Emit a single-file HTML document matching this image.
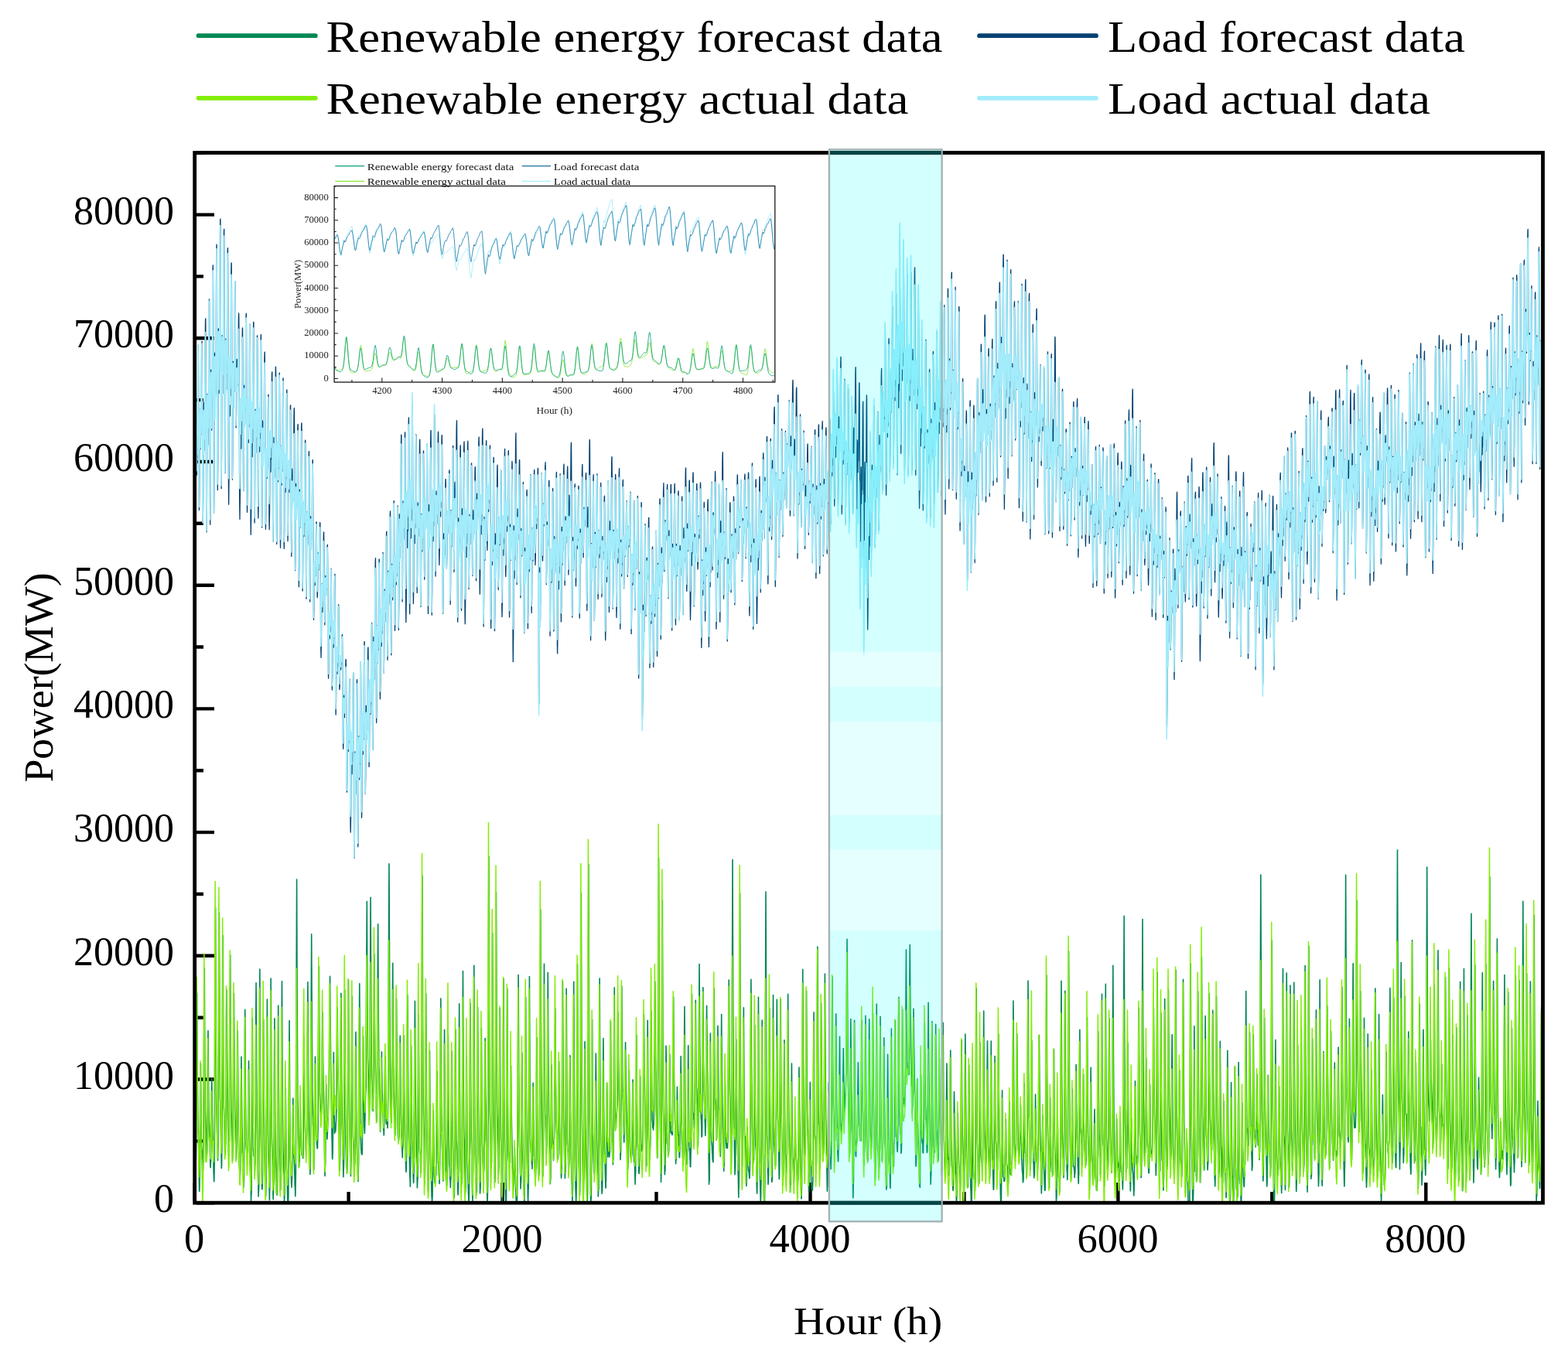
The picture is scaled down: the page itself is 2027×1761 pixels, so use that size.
<!DOCTYPE html><html><head><meta charset="utf-8"><style>html,body{margin:0;padding:0;background:#fff;overflow:hidden;width:2027px;height:1761px}svg{display:block}</style></head><body><svg width="2027" height="1761" viewBox="0 0 2027 1761"><rect width="2027" height="1761" fill="#fff"/><line x1="256.5" y1="46.2" x2="407.8" y2="46.2" stroke="#008752" stroke-width="5.7" stroke-linecap="round"/><text x="421.6" y="67.2" font-size="58" font-family="Liberation Serif, Times New Roman, serif" textLength="797" lengthAdjust="spacingAndGlyphs">Renewable energy forecast data</text><line x1="1266" y1="46.2" x2="1417" y2="46.2" stroke="#004073" stroke-width="5.7" stroke-linecap="round"/><text x="1432" y="67.2" font-size="58" font-family="Liberation Serif, Times New Roman, serif" textLength="462" lengthAdjust="spacingAndGlyphs">Load forecast data</text><line x1="256.5" y1="126.8" x2="407.8" y2="126.8" stroke="#82ee06" stroke-width="5.7" stroke-linecap="round"/><text x="421.6" y="147.2" font-size="58" font-family="Liberation Serif, Times New Roman, serif" textLength="753" lengthAdjust="spacingAndGlyphs">Renewable energy actual data</text><line x1="1266" y1="126.8" x2="1417" y2="126.8" stroke="#a2ecfb" stroke-width="5.7" stroke-linecap="round"/><text x="1432" y="147.2" font-size="58" font-family="Liberation Serif, Times New Roman, serif" textLength="417" lengthAdjust="spacingAndGlyphs">Load actual data</text><path d="M254 1555.2h23M254 1475.4h9M254 1395.5h23M254 1315.7h9M254 1235.8h23M254 1156.0h9M254 1076.1h23M254 996.2h9M254 916.4h23M254 836.5h9M254 756.7h23M254 676.8h9M254 597.0h23M254 517.1h9M254 437.3h23M254 357.4h9M254 277.6h23M254 197.8h9M251.7 1553v-24M450.6 1553v-12M649.6 1553v-24M848.5 1553v-12M1047.5 1553v-24M1246.4 1553v-12M1445.4 1553v-24M1644.3 1553v-12M1843.3 1553v-24" stroke="#000" stroke-width="4.4" fill="none"/><g transform="translate(251.7,1555.2) scale(0.198950)"><path d="M0 -472l1 62 1 151 1 0 1 26 1-11 1 20 1-40 1-19 1-25 1-238 1-205 1-192 1-147 1-134 1-139 1 214 1 174 1 178 1 91 1 116 1 99 1 25 1 19 1 30 1 50 1 37 1 69 1 77 1 56 1 53 1-2 1-45 1-61 1-142 1-153 1-136 1-106 1-90 1-95 1 144 1 111 1 129 1 72 1 54 1 30 1 15 1 10 1-1 1 20 1 36 1-2 1 16 1 24 1 36 1-38 1-7 1-26 1-216 1-248 1-232 1-181 1-199 1-167 1 204 1 216 1 177 1 121 1 101 1 115 1 22 1 32 1 44 1 14 1 17 1 63 1 16 1 46 1 47 1-21 1-13 1-26 1-163 1-190 1-121 1-113 1-124 1-57 1 134 1 132 1 103 1 83 1 67 1 44 1 28 1 13 1 29 1 37 1 28 1 50 1 53 1 53 1 30 1 5 1-33 1-6 1-138 1-92 1-104 1-83 1-67 1-56 1 68 1 104 1 72 1 33 1 70 1 24 1 33 1 49 1 33 1 36 1 33 1 54 1 20 1 23 1 18 1-50 1-66 1-67 1-318 1-324 1-283 1-244 1-216 1-212 1 268 1 266 1 249 1 166 1 163 1 157 1 58 1 38 1 35 1 54 1 24 1 47 1 44 1 34 1 39 1-35 1-46 1-19 1-278 1-293 1-288 1-210 1-228 1-213 1 250 1 218 1 270 1 149 1 156 1 153 1 37 1 58 1 39 1 56 1 51 1 47 1 36 1 74 1 67 1-13 1-63 1-50 1-276 1-252 1-284 1-187 1-228 1-159 1 244 1 242 1 246 1 144 1 133 1 120 1-8 1 32 1 41 1 41 1 48 1 45 1 24 1 62 1 10 1-9 1-41 1-24 1-182 1-177 1-194 1-137 1-168 1-139 1 109 1 129 1 150 1 64 1 93 1 88 1 75 1 97 1 62 1 80 1 25 1 14 1 15 1 48 1 30 1-33 1-56 1-12 1-246 1-209 1-231 1-178 1-190 1-152 1 197 1 209 1 213 1 129 1 122 1 112 1 48 1 19 1 36 1 48 1 35 1 31 1 62 1 32 1 45 1-49 1-10 1-26 1-212 1-192 1-198 1-128 1-153 1-119 1 147 1 148 1 154 1 85 1 100 1 91 1 56 1 39 1 31 1 46 1 5 1 55 1 43 1 38 1 25 1 14 1-32 1-15 1-164 1-173 1-130 1-124 1-94 1-99 1 126 1 127 1 153 1 84 1 101 1 87 1 51 1 59 1 19 1 32 1 35 1 21 1 13 1 14 1 47 1-36 1-19 1-17 1-147 1-123 1-146 1-94 1-91 1-130 1 126 1 117 1 96 1 104 1 41 1 64 1 20 1 36 1 30 1 33 1 26 1 36 1 52 1 38 1 28 1-18 1-24 1-38 1-204 1-185 1-211 1-172 1-160 1-142 1 150 1 203 1 177 1 108 1 101 1 132 1 16 1 7 1 16 1 10 1 8 1-28 1-3 1 10 1 20 1-12 1-4 1 18 1-91 1-121 1-84 1-104 1-75 1-120 1 89 1 125 1 105 1 80 1 95 1 36 1 49 1 33 1 31 1 34 1 33 1 46 1 31 1 53 1 70 1-34 1-6 1-28 1-211 1-222 1-202 1-152 1-142 1-189 1 174 1 156 1 180 1 133 1 97 1 115 1 10 1 26 1-12 1-9 1 4 1 26 1 10 1 42 1 34 1 8 1-48 1 4 1-195 1-224 1-239 1-177 1-174 1-173 1 180 1 178 1 177 1 91 1 131 1 112 1 70 1 53 1 69 1 48 1 49 1 46 1 69 1 42 1 74 1-37 1 2 1-50 1-258 1-277 1-299 1-170 1-220 1-169 1 238 1 236 1 211 1 133 1 112 1 106 1 21 1 43 1 46 1 43 1 39 1 87 1 30 1 70 1 16 1-1 1-40 1-40 1-205 1-206 1-194 1-131 1-128 1-158 1 161 1 165 1 159 1 92 1 104 1 121 1 44 1 68 1 54 1 42 1 23 1 32 1 31 1 22 1 29 1-41 1-52 1-14 1-233 1-234 1-199 1-146 1-187 1-173 1 184 1 191 1 145 1 111 1 128 1 110 1 53 1 53 1 44 1 62 1 21 1 67 1 32 1 42 1 63 1-56 1-29 1-51 1-248 1-255 1-251 1-204 1-191 1-156 1 203 1 232 1 225 1 146 1 113 1 117 1 29 1 28 1 28 1 41 1 49 1 57 1 58 1 70 1 39 1-43 1-43 1-13 1-194 1-190 1-206 1-166 1-151 1-169 1 197 1 169 1 196 1 111 1 95 1 88 1 60 1-5 1 29 1 29 1 47 1 36 1 33 1 55 1 7 1-6 1-58 1-31 1-249 1-222 1-200 1-155 1-175 1-135 1 159 1 222 1 176 1 100 1 131 1 131 1 26 1 70 1 43 1 18 1 24 1 39 1 29 1 17 1 13 1-49 1-63 1-36 1-254 1-245 1-227 1-156 1-169 1-157 1 184 1 212 1 219 1 129 1 128 1 144 1 72 1 43 1 44 1 16 1 58 1 18 1 63 1 35 1 63 1-15 1-15 1-45 1-140 1-121 1-148 1-75 1-87 1-89 1 112 1 125 1 104 1 45 1 65 1 72 1 9 1 41 1 9 1 36 1 53 1 26 1 31 1 7 1 0 1 0 1 0 1-26 1-240 1-198 1-216 1-156 1-169 1-168 1 180 1 208 1 195 1 87 1 116 1 100 1 24 1 17 1 16 1 32 1 29 1 17 1 41 1-6 1 29 1-32 1-20 1-19 1-93 1-92 1-114 1-62 1-72 1-75 1 112 1 83 1 64 1 47 1 39 1 45 1 2 1 19 1 37 1 31 1 38 1 49 1 7 1 28 1 35 1-47 1-48 1-69 1-347 1-350 1-374 1-274 1-277 1-273 1 277 1 292 1 279 1 175 1 205 1 179 1 53 1 79 1 60 1 34 1 30 1 70 1 38 1 29 1 70 1-24 1-16 1 3 1-66 1-37 1-86 1-16 1-64 1-87 1 77 1 46 1 40 1 14 1 56 1 27 1 30 1 17 1 7 1-1 1-24 1 5 1-1 1-7 1 28 1 0 1 21 1-30 1-135 1-139 1-127 1-122 1-119 1-112 1 138 1 107 1 121 1 89 1 36 1 88 1 26 1 25 1 42 1 8 1 38 1 15 1 4 1-22 1 16 1-43 1-53 1-39 1-185 1-198 1-171 1-118 1-143 1-142 1 165 1 189 1 191 1 98 1 109 1 92 1 24 1 37 1 44 1 22 1 48 1 62 1 41 1 65 1 63 1-36 1-41 1-47 1-279 1-261 1-303 1-169 1-231 1-194 1 208 1 199 1 207 1 131 1 125 1 145 1 64 1 42 1 40 1 77 1 56 1 51 1 78 1 50 1 59 1-30 1-14 1-47 1-137 1-126 1-164 1-68 1-60 1-89 1 141 1 124 1 121 1 43 1 47 1 40 1-4 1 9 1 13 1 19 1 21 1 5 1 17 1-16 1 14 1-40 1-45 1-35 1-205 1-201 1-215 1-128 1-162 1-151 1 157 1 165 1 166 1 117 1 105 1 118 1 12 1 32 1 34 1 15 1 5 1 14 1 31 1-12 1 1 1-2 1-41 1-33 1-115 1-120 1-134 1-54 1-79 1-84 1 88 1 121 1 118 1 67 1 56 1 52 1 29 1 50 1 59 1 74 1 77 1 57 1 75 1 71 1 70 1-22 1-35 1-22 1-110 1-89 1-103 1-63 1-67 1-82 1 76 1 100 1 61 1 51 1 9 1 57 1-21 1-33 1-25 1-19 1-38 1-12 1-56 1-44 1-32 1-11 1-40 1-20 1-141 1-150 1-126 1-103 1-104 1-83 1 110 1 132 1 110 1 87 1 79 1 108 1 65 1 49 1 76 1 54 1 78 1 72 1 46 1 58 1 51 1 13 1-26 1-13 1-102 1-126 1-128 1-104 1-102 1-93 1 114 1 115 1 89 1 93 1 43 1 73 1-27 1-7 1-9 1 14 1 16 1 2 1-14 1-24 1-26 1-6 1-54 1-2 1-141 1-128 1-117 1-106 1-101 1-88 1 115 1 116 1 105 1 47 1 64 1 42 1 39 1 50 1 58 1 76 1 56 1 85 1 77 1 66 1 61 1-31 1-39 1-46 1-241 1-198 1-194 1-122 1-123 1-156 1 200 1 155 1 163 1 110 1 90 1 91 1 34 1 32 1 24 1 37 1 8 1 96 1 35 1 57 1 62 1-24 1-31 1-26 1-226 1-209 1-220 1-167 1-139 1-174 1 196 1 194 1 208 1 143 1 134 1 112 1 31 1 34 1 38 1 36 1 24 1 11 1-4 1 11 1 22 1-30 1-42 1-30 1-238 1-210 1-225 1-154 1-175 1-150 1 187 1 197 1 170 1 100 1 106 1 84 1 59 1 35 1 67 1 54 1 51 1 49 1 31 1 48 1 36 1-36 1-40 1-41 1-203 1-216 1-225 1-140 1-135 1-131 1 204 1 198 1 184 1 114 1 98 1 92 1 36 1 2 1 33 1 0 1 7 1 47 1 16 1 31 1 67 1-21 1-17 1-7 1-149 1-152 1-166 1-133 1-138 1-115 1 168 1 133 1 151 1 84 1 84 1 105 1 17 1 44 1 17 1 38 1 33 1 31 1 7 1 38 1 21 1-45 1-43 1-32 1-236 1-211 1-237 1-167 1-138 1-177 1 155 1 204 1 180 1 128 1 119 1 137 1 48 1 45 1 22 1 43 1 4 1 19 1-2 1 5 1 4 1 1 1-10 1-13 1-130 1-110 1-128 1-127 1-115 1-136 1 106 1 122 1 126 1 53 1 79 1 103 1 4 1 20 1 18 1-20 1-36 1-46 1-81 1-28 1-28 1-28 1-20 1-14 1-240 1-247 1-232 1-175 1-161 1-152 1 215 1 228 1 201 1 149 1 99 1 126 1 21 1 38 1 35 1 32 1 62 1 47 1 50 1 70 1 44 1-39 1-60 1-45 1-238 1-276 1-225 1-191 1-172 1-197 1 217 1 213 1 236 1 163 1 109 1 153 1 39 1 48 1 28 1 48 1 28 1 59 1 13 1 32 1 2 1-61 1-16 1-40 1-172 1-167 1-145 1-129 1-143 1-147 1 182 1 134 1 145 1 88 1 89 1 71 1 25 1 37 1 29 1 60 1 42 1 51 1 54 1 65 1 18 1-25 1-37 1-41 1-238 1-233 1-223 1-157 1-160 1-171 1 208 1 214 1 181 1 116 1 89 1 117 1 22 1 36 1 65 1 48 1 72 1 45 1 40 1 49 1 48 1-40 1-11 1-11 1-79 1-95 1-87 1-46 1-84 1-66 1 110 1 51 1 83 1 25 1 11 1 67 1 19 1 0 1 58 1 38 1 38 1 11 1 3 1 28 1-8 1-52 1-17 1-20 1-102 1-103 1-75 1-60 1-61 1-16 1 96 1 85 1 116 1 41 1 58 1 44 1-22 1-1 1 5 1-3 1 3 1 14 1 14 1 17 1-8 1-67 1-83 1-40 1-315 1-287 1-291 1-201 1-217 1-208 1 237 1 230 1 246 1 159 1 164 1 162 1 83 1 59 1 68 1 65 1 56 1 21 1 74 1 25 1 33 1-57 1-68 1-42 1-192 1-165 1-160 1-120 1-126 1-107 1 220 1 171 1 159 1 95 1 72 1 114 1 15 1 13 1 52 1 35 1 31 1 50 1 34 1 34 1 25 1-32 1-1 1-16 1-149 1-122 1-169 1-125 1-150 1-125 1 126 1 136 1 127 1 83 1 120 1 112 1 68 1 53 1 51 1 23 1 8 1-37 1 2 1 6 1 44 1-17 1-1 1-17 1-117 1-114 1-146 1-91 1-116 1-61 1 86 1 112 1 115 1 93 1 47 1 71 1 18 1 61 1 28 1 49 1 26 1 22 1 22 1 18 1 23 1-53 1-11 1-9 1-129 1-142 1-151 1-86 1-100 1-113 1 118 1 125 1 116 1 56 1 87 1 69 1 45 1 59 1 45 1 35 1 26 1 34 1 39 1 30 1 3 1-25 1-59 1-12 1-212 1-198 1-210 1-149 1-142 1-141 1 128 1 152 1 173 1 97 1 114 1 95 1 68 1 62 1 52 1 43 1 25 1 36 1 31 1 43 1 58 1 10 1 35 1 22 1-155 1-175 1-157 1-134 1-171 1-123 1 131 1 114 1 121 1 82 1 74 1 101 1 1 1 52 1 51 1 56 1 17 1 30 1 21 1 26 1 13 1-11 1-46 1-53 1-217 1-215 1-193 1-164 1-125 1-158 1 157 1 174 1 168 1 90 1 86 1 94 1 49 1 70 1 47 1 31 1 50 1 38 1 41 1 52 1 67 1-26 1-23 1-10 1-184 1-208 1-192 1-167 1-136 1-177 1 162 1 175 1 195 1 116 1 136 1 90 1 13 1 16 1 7 1-23 1 43 1 5 1 27 1 25 1 37 1-51 1-36 1-52 1-358 1-362 1-329 1-262 1-245 1-232 1 298 1 316 1 311 1 174 1 171 1 141 1 63 1 53 1 51 1 52 1 37 1 78 1 90 1 76 1 93 1-45 1-2 1-72 1-237 1-202 1-233 1-139 1-160 1-150 1 192 1 212 1 153 1 131 1 117 1 119 1 18 1 81 1 54 1 41 1 45 1 44 1 27 1 48 1 3 1-31 1-60 1-38 1-174 1-173 1-142 1-126 1-70 1-100 1 154 1 164 1 178 1 91 1 102 1 52 1 45 1 0 1 42 1 10 1 29 1 38 1 41 1 11 1 20 1-2 1-16 1-15 1-101 1-79 1-110 1-107 1-86 1-70 1 69 1 74 1 98 1 73 1 48 1 68 1 11 1 8 1 21 1-15 1 14 1-3 1-10 1-10 1-5 1-32 1 11 1-7 1-143 1-110 1-134 1-90 1-86 1-108 1 124 1 123 1 128 1 63 1 42 1 73 1 45 1-10 1 30 1 23 1 30 1 7 1 10 1 25 1 18 1-38 1-47 1-40 1-191 1-243 1-179 1-173 1-130 1-162 1 199 1 177 1 178 1 104 1 117 1 114 1 11 1 50 1 22 1 47 1 48 1 23 1 37 1 25 1 34 1-41 1-15 1-44 1-191 1-167 1-171 1-98 1-133 1-124 1 154 1 157 1 161 1 82 1 102 1 84 1 22 1 32 1 48 1 29 1 35 1 18 1 56 1 21 1 12 1-26 1-22 1-36 1-173 1-187 1-175 1-130 1-112 1-119 1 190 1 182 1 170 1 112 1 97 1 76 1 25 1 6 1 14 1 28 1 35 1 1 1 12 1 16 1 30 1-33 1-17 1-18 1-170 1-135 1-157 1-119 1-106 1-130 1 117 1 118 1 130 1 73 1 36 1 100 1 46 1 20 1 53 1 68 1 46 1 46 1 18 1 36 1 45 1-42 1-41 1-46 1-189 1-190 1-191 1-157 1-135 1-104 1 163 1 171 1 181 1 99 1 69 1 68 1-23 1 23 1 10 1 41 1 49 1 74 1 30 1 68 1 39 1 13 1-37 1-5 1-232 1-207 1-220 1-205 1-143 1-193 1 193 1 208 1 175 1 88 1 135 1 139 1 45 1 63 1 45 1 0 1 22 1-7 1-3 1 31 1 42 1-12 1-16 1-8 1-248 1-257 1-264 1-221 1-176 1-186 1 220 1 199 1 215 1 138 1 122 1 122 1 49 1 32 1 31 1 49 1 58 1 46 1 55 1 59 1 47 1-9 1-20 1-7 1-140 1-173 1-152 1-110 1-146 1-135 1 156 1 133 1 149 1 63 1 96 1 108 1 36 1 48 1 31 1 38 1 36 1 11 1 32 1 7 1-6 1-47 1-63 1-32 1-256 1-204 1-198 1-178 1-170 1-130 1 160 1 178 1 182 1 121 1 105 1 110 1 41 1 44 1 65 1 35 1 86 1 64 1 41 1 31 1 21 1-75 1-75 1-57 1-288 1-233 1-281 1-162 1-183 1-177 1 223 1 248 1 253 1 132 1 157 1 146 1 43 1 37 1 32 1 37 1 13 1 32 1 46 1 52 1 41 1-36 1 19 1-15 1-226 1-217 1-196 1-199 1-153 1-199 1 159 1 168 1 188 1 80 1 106 1 107 1 65 1 36 1 73 1 24 1 33 1 42 1 46 1 19 1 65 1-17 1-10 1-23 1-183 1-189 1-174 1-177 1-142 1-157 1 157 1 157 1 150 1 67 1 93 1 130 1 10 1 30 1 67 1 7 1 24 1 1 1 32 1-6 1 11 1 2 1-15 1-3 1-141 1-130 1-158 1-131 1-127 1-162 1 122 1 124 1 108 1 50 1 48 1 88 1 41 1 81 1 66 1 59 1 92 1 62 1 70 1 46 1 0 1-23 1-59 1-58 1-403 1-425 1-367 1-307 1-301 1-296 1 325 1 337 1 337 1 225 1 172 1 215 1 53 1 27 1 44 1 29 1 49 1 44 1 46 1 49 1 73 1 0 1-31 1-1 1-261 1-301 1-270 1-220 1-222 1-222 1 204 1 276 1 188 1 138 1 139 1 152 1 73 1 38 1 60 1 65 1 33 1 53 1 78 1 66 1 59 1-14 1-54 1-27 1-348 1-326 1-363 1-236 1-256 1-261 1 295 1 274 1 303 1 185 1 179 1 147 1 60 1 25 1 55 1 41 1 33 1 59 1 29 1 72 1 68 1-6 1-36 1 9 1-171 1-180 1-208 1-160 1-172 1-149 1 175 1 151 1 163 1 110 1 85 1 97 1 66 1 40 1 78 1 93 1 37 1 67 1 37 1 36 1 18 1-23 1-31 1-64 1-240 1-264 1-263 1-206 1-188 1-165 1 212 1 214 1 215 1 139 1 109 1 172 1-4 1 57 1 77 1 69 1 65 1 61 1 21 1 37 1 0 1 0 1 0 1-44 1-249 1-293 1-224 1-215 1-176 1-178 1 230 1 241 1 214 1 123 1 123 1 123 1 36 1 6 1 23 1-33 1 9 1-25 1 31 1-12 1 45 1-28 1 17 1 7 1-104 1-84 1-115 1-113 1-93 1-119 1 111 1 92 1 81 1 60 1 53 1 55 1 55 1 27 1 53 1 21 1 52 1 37 1 16 1 38 1 52 1-21 1-8 1 7 1-26 1-48 1-43 1-27 1-48 1-57 1 35 1 52 1 31 1 22 1 35 1 58 1 9 1 48 1 46 1 9 1 0 1 0 1 0 1 0 1 0 1-11 1-67 1-71 1-249 1-227 1-270 1-181 1-186 1-207 1 221 1 202 1 215 1 107 1 175 1 111 1 49 1 38 1 24 1 37 1 33 1 62 1 23 1 53 1 39 1-29 1-14 1-12 1-146 1-171 1-150 1-133 1-100 1-128 1 162 1 158 1 153 1 78 1 90 1 60 1 23 1 33 1 36 1 20 1 58 1 19 1 38 1 15 1 20 1-32 1-65 1-55 1-224 1-243 1-221 1-166 1-169 1-148 1 200 1 184 1 173 1 103 1 113 1 98 1 54 1 59 1 31 1 61 1 58 1 43 1 75 1 49 1 22 1-40 1-34 1-16 1-283 1-223 1-259 1-192 1-194 1-218 1 230 1 208 1 217 1 142 1 121 1 153 1 17 1 19 1 9 1 26 1 4 1-2 1 17 1 33 1 22 1-1 1 16 1 19 1-89 1-101 1-93 1-111 1-68 1-96 1 67 1 96 1 91 1 70 1 78 1 32 1 49 1 14 1 15 1 25 1 23 1 24 1 20 1 37 1-9 1-27 1-17 1-41 1-155 1-140 1-160 1-114 1-128 1-145 1 140 1 133 1 160 1 108 1 111 1 127 1 37 1 24 1 20 1-7 1 9 1 2 1-3 1 21 1 10 1-46 1-37 1-37 1-308 1-310 1-298 1-223 1-231 1-234 1 237 1 234 1 263 1 103 1 173 1 129 1 67 1 63 1 60 1 66 1 58 1 75 1 72 1 78 1 53 1 1 1-60 1-56 1-223 1-246 1-254 1-172 1-192 1-176 1 261 1 198 1 196 1 94 1 115 1 120 1-4 1 50 1 36 1 26 1 50 1 28 1 19 1 45 1-9 1-42 1 6 1-40 1-200 1-205 1-193 1-148 1-137 1-209 1 173 1 179 1 175 1 124 1 118 1 119 1 73 1 67 1 45 1 57 1 40 1 41 1 62 1 59 1 41 1-10 1-18 1-11 1-134 1-133 1-132 1-122 1-86 1-126 1 125 1 122 1 115 1 50 1 26 1 36 1 21 1-1 1 41 1 15 1 45 1 23 1-18 1-19 1-44 1-44 1-21 1 7 1-156 1-163 1-156 1-101 1-125 1-145 1 161 1 172 1 129 1 101 1 70 1 100 1 24 1 14 1 40 1-20 1 40 1 0 1 17 1 53 1 36 1 13 1 28 1-13 1-96 1-111 1-108 1-83 1-118 1-106 1 118 1 69 1 140 1 56 1 70 1 77 1 32 1 28 1 17 1-1 1 24 1 11 1 62 1 39 1 16 1-13 1-49 1 2 1-230 1-212 1-229 1-170 1-179 1-199 1 161 1 166 1 195 1 132 1 93 1 138 1 40 1 50 1 62 1 51 1 47 1 44 1 10 1 47 1 44 1-26 1-3 1-11 1-226 1-236 1-193 1-188 1-159 1-190 1 180 1 204 1 185 1 131 1 136 1 129 1 32 1 30 1 18 1 10 1 17 1 21 1 24 1 12 1 37 1-2 1-13 1-20 1-119 1-143 1-138 1-106 1-84 1-106 1 100 1 124 1 112 1 84 1 77 1 95 1 69 1 44 1 46 1 35 1 37 1 17 1 60 1 9 1 36 1-63 1-1 1-34 1-239 1-254 1-257 1-180 1-194 1-203 1 195 1 204 1 199 1 132 1 148 1 160 1 74 1 70 1 57 1 41 1 27 1 41 1 27 1 24 1 26 1-27 1-48 1-12 1-286 1-270 1-266 1-214 1-194 1-220 1 229 1 244 1 228 1 160 1 142 1 165 1 48 1 30 1 57 1 21 1 16 1 49 1 12 1 40 1 58 1-23 1-54 1-41 1-318 1-349 1-362 1-279 1-277 1-260 1 286 1 289 1 323 1 166 1 195 1 199 1 89 1 55 1 63 1 78 1 11 1 61 1 38 1 48 1 64 1-37 1-55 1-25 1-163 1-190 1-128 1-119 1-117 1-166 1 168 1 142 1 151 1 87 1 39 1 91 1 25 1 12 1 27 1 26 1 44 1 49 1 86 1 45 1 44 1 0 1-15 1-61 1-380 1-395 1-411 1-303 1-294 1-329 1 312 1 308 1 325 1 194 1 230 1 191 1 114 1 82 1 92 1 83 1 70 1 38 1 65 1 80 1 4 1 0 1-16 1-58 1-221 1-224 1-221 1-134 1-174 1-131 1 200 1 192 1 195 1 99 1 94 1 83 1 26 1 30 1 20 1 31 1 30 1-3 1 0 1-3 1 2 1-16 1-49 1-14 1-131 1-154 1-116 1-108 1-79 1-109 1 124 1 123 1 99 1 74 1 38 1 101 1 34 1 53 1 64 1 48 1 17 1 36 1 35 1 18 1 66 1-27 1-14 1-9 1-231 1-242 1-263 1-217 1-210 1-205 1 179 1 217 1 176 1 129 1 153 1 137 1 42 1 57 1 34 1 73 1 24 1 51 1 44 1 39 1 45 1-30 1 20 1-48 1-168 1-181 1-216 1-144 1-126 1-117 1 149 1 118 1 163 1 51 1 88 1 79 1 30 1 45 1 20 1 38 1 39 1 34 1 50 1 23 1 46 1-3 1-35 1-12 1-121 1-136 1-148 1-78 1-101 1-49 1 103 1 125 1 111 1 49 1 51 1 42 1-16 1-14 1-33 1 19 1-1 1-15 1 7 1 9 1 25 1 19 1-29 1-1 1-166 1-164 1-124 1-139 1-117 1-139 1 154 1 157 1 122 1 70 1 75 1 78 1 44 1 59 1 24 1 50 1 24 1 28 1-5 1 22 1 26 1-32 1 0 1-48 1-218 1-197 1-211 1-165 1-143 1-136 1 215 1 223 1 189 1 87 1 99 1 112 1-19 1-6 1-19 1 0 1-10 1-21 1-6 1-19 1-12 1-6 1-17 1-11 1-83 1-134 1-109 1-91 1-87 1-114 1 94 1 81 1 112 1 77 1 50 1 64 1 42 1 36 1 56 1 30 1 52 1 48 1 88 1 69 1 59 1-23 1-17 1-22 1-217 1-185 1-209 1-140 1-169 1-148 1 146 1 148 1 125 1 73 1 65 1 97 1 29 1 56 1 66 1 24 1 75 1 15 1 43 1 43 1 12 1-36 1-21 1 5 1-124 1-120 1-83 1-121 1-62 1-88 1 97 1 76 1 82 1 36 1 52 1 63 1 48 1 51 1 80 1 38 1 73 1 48 1 0 1 77 1 1 1-4 1-34 1 3 1-100 1-131 1-96 1-85 1-90 1-99 1 96 1 106 1 120 1 59 1 55 1 41 1 47 1 20 1 5 1 14 1 2 1 7 1-35 1 11 1 15 1-18 1-8 1 9 1-103 1-79 1-82 1-69 1-63 1-93 1 88 1 92 1 113 1 68 1 45 1 72 1 31 1 26 1-18 1 22 1-2 1 28 1 30 1 45 1 39 1-46 1-19 1-14 1-192 1-171 1-167 1-92 1-136 1-132 1 150 1 159 1 142 1 74 1 76 1 88 1 34 1 7 1 21 1 7 1 31 1-4 1 47 1 24 1 34 1 10 1-17 1-7 1-118 1-135 1-107 1-113 1-61 1-73 1 109 1 102 1 103 1 36 1 46 1 40 1 25 1-17 1 28 1 12 1-2 1-1 1-3 1-3 1-13 1-13 1-47 1-12 1-145 1-157 1-151 1-104 1-128 1-108 1 128 1 107 1 115 1 60 1 61 1 73 1 52 1 80 1 49 1 67 1 36 1 30 1 58 1 40 1 36 1-8 1-3 1-3 1-146 1-187 1-167 1-139 1-148 1-153 1 130 1 158 1 157 1 115 1 86 1 111 1 11 1 36 1 17 1 5 1 39 1 11 1 2 1 24 1-14 1-35 1-34 1-13 1-195 1-149 1-148 1-111 1-101 1-163 1 179 1 149 1 147 1 78 1 77 1 81 1 7 1 2 1 40 1-20 1 4 1 15 1 14 1-25 1 2 1-37 1-55 1-16 1-170 1-137 1-171 1-111 1-117 1-126 1 158 1 148 1 131 1 77 1 62 1 101 1 72 1 54 1 42 1 39 1 36 1 53 1 32 1 66 1 74 1-55 1-54 1-8 1-341 1-331 1-349 1-263 1-268 1-279 1 291 1 317 1 305 1 175 1 146 1 222 1 55 1 95 1 52 1 80 1 39 1 58 1 106 1 74 1 90 1-34 1-31 1-42 1-340 1-307 1-332 1-250 1-248 1-247 1 308 1 253 1 304 1 148 1 158 1 175 1 46 1 19 1 37 1 82 1 39 1 50 1 66 1 32 1 65 1-16 1-10 1 2 1-123 1-138 1-164 1-114 1-136 1-137 1 93 1 137 1 137 1 68 1 78 1 112 1 13 1-3 1-1 1 9 1-16 1 46 1 13 1 12 1 12 1-8 1-11 1-11 1-82 1-115 1-107 1-106 1-96 1-116 1 103 1 123 1 92 1 82 1 46 1 59 1 3 1-15 1-14 1-2 1-13 1 1 1 18 1 33 1 4 1-23 1 10 1 11 1-175 1-156 1-160 1-139 1-148 1-116 1 144 1 116 1 137 1 81 1 82 1 75 1 33 1 61 1 16 1 58 1 50 1 50 1 50 1 82 1 49 1-28 1 6 1-4 1-99 1-75 1-76 1-89 1-60 1-74 1 53 1 59 1 69 1 55 1 21 1 45 1-12 1 27 1-5 1-1 1 37 1 24 1 45 1 35 1 7 1-7 1-39 1-16 1-115 1-132 1-99 1-86 1-76 1-88 1 86 1 90 1 103 1 84 1 61 1 86 1 38 1 25 1 0 1 45 1 13 1 28 1 8 1 27 1 8 1-19 1-27 1-16 1-163 1-174 1-194 1-168 1-152 1-112 1 142 1 170 1 157 1 137 1 106 1 99 1 69 1 15 1 38 1 10 1-15 1 32 1 12 1 11 1 42 1-7 1-5 1 9 1-150 1-137 1-144 1-105 1-133 1-100 1 140 1 115 1 136 1 90 1 96 1 76 1 9 1 22 1-17 1 27 1 41 1 10 1 42 1-17 1 18 1-53 1-42 1-42 1-207 1-191 1-188 1-136 1-137 1-126 1 170 1 171 1 171 1 84 1 96 1 83 1 1 1-1 1 2 1 10 1-12 1 39 1 0 1 30 1 28 1-27 1 4 1-17 1-162 1-132 1-154 1-130 1-110 1-105 1 130 1 137 1 141 1 59 1 46 1 57 1 3 1 19 1 38 1 74 1 55 1 71 1 55 1 44 1 20 1-19 1-49 1-28 1-214 1-189 1-224 1-155 1-155 1-151 1 167 1 154 1 189 1 97 1 112 1 115 1 34 1 25 1 74 1-12 1 53 1-1 1 38 1 27 1 52 1-5 1 2 1-43 1-165 1-183 1-187 1-167 1-102 1-121 1 159 1 158 1 145 1 63 1 62 1 64 1 16 1 23 1 46 1 18 1 37 1 73 1 16 1 55 1 27 1-48 1-24 1-46 1-155 1-153 1-120 1-133 1-90 1-75 1 110 1 79 1 113 1 92 1 43 1 84 1 57 1 53 1 61 1 73 1 73 1 51 1 104 1 72 1 95 1-17 1-5 1-12 1-184 1-153 1-185 1-142 1-145 1-137 1 146 1 144 1 131 1 89 1 88 1 83 1 5 1 21 1 14 1 7 1 25 1 24 1 13 1 32 1 3 1 0 1 8 1 4 1-191 1-200 1-188 1-174 1-179 1-196 1 139 1 141 1 144 1 87 1 91 1 108 1 9 1 9 1 47 1 21 1 5 1 56 1 23 1 47 1 38 1 15 1-3 1-11 1-121 1-113 1-143 1-103 1-123 1-121 1 72 1 93 1 95 1 72 1 92 1 91 1 31 1 91 1 26 1 29 1 38 1 14 1 12 1 18 1 57 1 6 1 11 1-20 1-121 1-157 1-195 1-130 1-151 1-149 1 140 1 101 1 126 1 80 1 66 1 68 1 32 1 52 1 59 1 38 1 74 1 36 1 55 1 40 1 52 1-30 1-7 1 4 1-145 1-111 1-89 1-65 1-56 1-62 1 84 1 95 1 83 1 34 1 27 1 66 1-5 1 26 1-26 1 5 1-23 1 1 1-7 1 17 1 36 1-31 1-13 1-36 1-194 1-205 1-191 1-145 1-124 1-155 1 149 1 155 1 151 1 95 1 54 1 86 1 52 1 39 1 65 1 59 1 60 1 70 1 61 1 52 1 74 1-41 1-52 1-63 1-330 1-362 1-348 1-243 1-282 1-283 1 305 1 320 1 303 1 169 1 201 1 177 1 77 1 49 1 64 1 70 1 49 1 96 1 51 1 60 1 56 1-21 1-15 1-31 1-152 1-146 1-161 1-121 1-121 1-110 1 108 1 117 1 129 1 98 1 75 1 98 1 57 1 17 1 54 1 10 1 34 1 67 1 35 1 61 1 66 1-45 1-25 1-76 1-322 1-354 1-355 1-260 1-268 1-270 1 277 1 303 1 308 1 177 1 187 1 168 1 52 1 29 1 39 1 53 1 20 1 56 1 23 1 51 1 30 1-27 1-36 1-23 1-187 1-144 1-186 1-149 1-145 1-135 1 153 1 172 1 178 1 111 1 101 1 108 1 13 1 0 1 9 1-9 1 20 1 46 1 50 1 51 1 83 1 25 1 24 1 25 1-50 1-55 1-86 1-62 1-30 1-100 1 78 1 47 1 43 1 33 1 29 1 31 1 15 1 10 1-7 1 14 1 12 1 18 1 10 1-1 1-13 1-44 1-53 1-53 1-235 1-228 1-189 1-157 1-179 1-141 1 190 1 180 1 188 1 95 1 119 1 95 1 31 1 47 1 55 1 47 1 2 1 41 1 34 1 34 1 37 1-17 1-5 1-1 1-171 1-131 1-187 1-130 1-125 1-132 1 171 1 159 1 171 1 104 1 101 1 85 1-12 1 33 1-2 1 40 1 73 1 48 1 77 1 36 1 11 1-51 1-65 1-6 1-265 1-203 1-205 1-141 1-162 1-178 1 207 1 219 1 188 1 139 1 95 1 131 1 28 1 59 1 29 1 70 1 39 1 53 1 24 1 44 1-5 1-39 1-55 1-28 1-228 1-199 1-222 1-145 1-126 1-128 1 184 1 174 1 166 1 112 1 95 1 125 1 36 1 75 1 78 1 52 1 37 1 22 1 18 1 1 1 0 1 0 1-65 1-52 1-357 1-355 1-363 1-269 1-279 1-269 1 290 1 339 1 328 1 179 1 204 1 175 1 69 1 5 1 25 1 61 1 36 1 54 1 70 1-2 1 68 1-13 1-34 1-11 1-162 1-211 1-215 1-161 1-166 1-170 1 216 1 151 1 184 1 96 1 107 1 95 1 23 1 39 1 5 1 11 1 24 1 54 1 29 1 50 1 44 1-2 1-5 1-28 1-229 1-216 1-241 1-161 1-174 1-159 1 203 1 204 1 208 1 133 1 125 1 107 1-2 1 36 1 13 1 10 1 28 1 34 1 1 1 9 1 2 1-34 1-48 1-19 1-183 1-179 1-194 1-132 1-143 1-150 1 181 1 172 1 157 1 108 1 84 1 76 1 9 1 17 1 22 1 62 1 61 1 49 1 66 1 72 1 30 1-14 1-56 1-66 1-207 1-220 1-183 1-123 1-176 1-123 1 161 1 178 1 167 1 98 1 100 1 95 1 46 1 68 1 22 1 37 1 85 1 16 1 40 1 44 1 49 1-18 1-37 1-15 1-166 1-171 1-159 1-106 1-137 1-132 1 138 1 136 1 174 1 92 1 89 1 76 1 27 1 17 1 21 1 43 1 30 1 1 1 4 1 15 1-38 1-42 1-33 1-12 1-184 1-173 1-202 1-150 1-157 1-171 1 157 1 196 1 156 1 90 1 109 1 114 1 33 1 50 1 50 1 45 1 35 1 62 1 55 1 74 1 62 1-37 1-19 1 6 1-150 1-152 1-139 1-96 1-119 1-130 1 120 1 122 1 125 1 82 1 73 1 76 1 18 1 2 1 19 1 44 1 14 1 16 1 35 1 22 1 3 1-25 1-18 1-25 1-72 1-63 1-40 1-70 1-23 1-58 1 71 1 67 1 53 1 24 1 1 1 28 1 5 1 13 1 18 1 23 1 17 1 19 1 4 1 34 1 41 1-7 1-34 1 3 1-121 1-153 1-116 1-114 1-107 1-121 1 115 1 81 1 76 1 68 1 62 1 85 1 41 1 18 1 61 1 18 1 66 1 55 1 41 1 36 1 31 1-38 1-36 1-23 1-270 1-246 1-248 1-202 1-205 1-223 1 187 1 206 1 192 1 99 1 118 1 145 1 48 1 59 1 18 1 71 1 34 1 19 1 3 1 9 1-23 1-34 1-61 1-8 1-188 1-168 1-189 1-155 1-120 1-123 1 179 1 176 1 143 1 111 1 101 1 81 1 52 1 44 1 19 1 62 1 62 1 44 1 74 1 84 1 79 1-26 1-1 1-36 1-138 1-110 1-155 1-84 1-77 1-90 1 101 1 123 1 135 1 74 1 64 1 100 1 58 1 8 1 15 1 14 1-6 1 7 1-3 1-6 1 19 1-24 1-19 1-42 1-193 1-209 1-201 1-181 1-144 1-144 1 181 1 175 1 173 1 94 1 99 1 79 1-2 1 6 1 25 1 35 1 17 1 36 1 46 1 39 1 42 1-32 1-28 1-28 1-250 1-272 1-246 1-207 1-217 1-191 1 192 1 208 1 231 1 138 1 149 1 121 1 56 1 36 1 35 1 51 1 32 1 25 1 52 1 48 1 70 1-46 1-8 1-9 1-190 1-175 1-191 1-151 1-138 1-170 1 156 1 157 1 143 1 99 1 75 1 115 1 27 1 44 1 33 1 25 1 41 1 42 1 14 1 7 1 1 1-22 1-27 1-19 1-196 1-206 1-201 1-155 1-148 1-195 1 184 1 184 1 168 1 123 1 130 1 134 1 63 1 57 1 59 1 38 1 46 1 48 1 55 1 68 1 56 1-23 1-8 1 0 1-126 1-113 1-123 1-90 1-99 1-124 1 140 1 102 1 104 1 80 1 39 1 66 1-24 1-25 1-19 1 0 1-1 1 5 1 23 1 32 1 39 1-40 1-34 1-34 1-207 1-201 1-225 1-166 1-164 1-179 1 152 1 151 1 188 1 102 1 101 1 98 1 38 1 26 1 51 1 16 1 32 1 29 1 21 1 35 1 58 1-13 1-23 1 2 1-150 1-159 1-130 1-151 1-132 1-100 1 129 1 126 1 147 1 115 1 98 1 91 1 32 1 51 1 53 1 30 1 40 1 10 1 21 1 16 1-3 1-62 1-18 1-24 1-144 1-135 1-130 1-89 1-106 1-100 1 126 1 143 1 128 1 50 1 70 1 83 1-23 1 0 1 28 1 6 1 8 1-19 1-3 1-20 1-12 1-21 1-9 1-1 1-74 1-74 1-74 1-76 1-71 1-89 1 72 1 91 1 73 1 35 1 77 1 59 1 6 1-8 1-9 1 2 1-30 1-8 1-50 1-24 1-11 1-44 1-53 1-13 1-165 1-165 1-157 1-104 1-143 1-140 1 144 1 148 1 164 1 116 1 115 1 114 1 78 1 66 1 52 1 65 1 46 1 80 1 58 1 70 1 84 1 9 1-16 1-4 1-180 1-155 1-160 1-130 1-119 1-126 1 117 1 126 1 137 1 71 1 49 1 68 1 73 1 45 1 61 1 56 1 95 1 80 1 61 1 74 1 49 1-25 1-87 1 9 1-216 1-209 1-175 1-124 1-214 1-113 1 146 1 144 1 168 1 139 1 99 1 119 1 32 1 32 1-6 1 13 1-34 1-27 1-14 1-15 1-7 1-19 1 16 1-37 1-59 1-99 1-109 1-63 1-84 1-61 1 91 1 74 1 91 1 36 1 60 1 40 1 30 1 15 1 38 1-16 1 32 1-10 1 5 1 16 1-8 1-7 1 3 1 20 1-147 1-143 1-140 1-113 1-111 1-130 1 154 1 123 1 113 1 58 1 54 1 67 1 37 1 44 1 65 1 51 1 49 1 64 1 3 1 41 1 16 1-53 1-34 1-1 1-164 1-151 1-143 1-153 1-133 1-137 1 138 1 162 1 139 1 94 1 116 1 111 1 36 1 51 1 25 1 23 1 8 1 29 1-1 1 13 1-1 1-8 1-56 1-30 1-144 1-147 1-167 1-111 1-146 1-111 1 111 1 137 1 143 1 93 1 127 1 74 1 34 1 27 1-4 1 9 1 14 1 16 1 38 1 0 1 16 1-35 1-7 1-30 1-160 1-126 1-176 1-100 1-107 1-137 1 129 1 133 1 153 1 117 1 80 1 101 1 41 1 69 1 59 1 25 1 66 1 26 1 21 1 37 1 30 1-60 1-31 1-24 1-183 1-186 1-215 1-149 1-159 1-136 1 200 1 192 1 181 1 142 1 114 1 85 1 32 1 5 1 17 1 23 1-1 1 45 1 23 1 24 1 27 1-46 1-2 1-15 1-165 1-199 1-171 1-160 1-126 1-144 1 160 1 155 1 161 1 90 1 113 1 94 1 23 1 72 1 19 1 38 1 13 1-9 1-12 1-17 1-18 1-19 1-30 1-14 1-137 1-136 1-136 1-113 1-78 1-81 1 134 1 103 1 149 1 58 1 69 1 79 1 76 1 46 1 41 1 79 1 22 1 26 1 29 1 20 1 56 1-11 1 1 1-17 1-154 1-127 1-176 1-137 1-134 1-124 1 103 1 133 1 99 1 105 1 69 1 95 1 52 1 20 1 37 1-13 1 27 1 9 1 21 1 25 1 50 1 26 1 13 1-7 1-201 1-167 1-197 1-143 1-168 1-155 1 142 1 154 1 140 1 81 1 114 1 98 1 3 1 20 1 29 1 26 1 21 1 34 1 15 1 19 1 0 1-65 1-57 1-40 1-200 1-149 1-167 1-81 1-97 1-94 1 188 1 133 1 172 1 103 1 82 1 78 1-15 1-3 1 22 1 6 1 19 1 13 1 28 1 22 1 6 1-26 1-20 1-59 1-159 1-193 1-168 1-120 1-118 1-141 1 165 1 157 1 167 1 103 1 100 1 90 1 56 1-8 1 44 1 19 1-6 1-8 1 46 1 32 1 57 1-4 1-5 1-43 1-161 1-191 1-149 1-133 1-129 1-120 1 148 1 125 1 124 1 59 1 73 1 84 1-2 1-17 1-17 1 0 1 31 1-16 1 20 1 21 1-5 1-37 1-16 1-50 1-158 1-178 1-173 1-126 1-140 1-137 1 171 1 145 1 151 1 93 1 92 1 107 1-23 1 31 1 26 1-5 1 7 1 3 1 10 1-19 1 23 1-32 1 25 1 5 1-158 1-131 1-176 1-112 1-124 1-142 1 92 1 143 1 113 1 98 1 67 1 75 1 71 1 74 1 63 1 40 1 68 1 24 1 40 1 60 1 62 1-18 1-23 1 11 1-95 1-113 1-134 1-91 1-98 1-113 1 55 1 94 1 100 1 50 1 68 1 69 1 54 1 66 1 68 1 52 1 60 1 72 1 55 1 86 1 70 1 4 1-14 1-28 1-106 1-122 1-114 1-88 1-38 1-57 1 94 1 90 1 77 1 58 1 19 1 54 1 4 1 33 1 38 1 17 1 30 1 46 1 39 1 55 1 44 1 1 1 0 1 6 1-146 1-110 1-122 1-110 1-132 1-110 1 62 1 80 1 89 1 75 1 55 1 32 1 29 1 19 1-19 1 8 1 13 1 55 1 8 1-16 1 16 1-56 1-25 1-35 1-169 1-137 1-126 1-115 1-92 1-88 1 115 1 83 1 131 1 69 1 82 1 69 1 9 1 42 1 24 1 33 1 25 1 17 1 67 1 41 1 34 1-3 1-5 1-40 1-129 1-199 1-180 1-132 1-136 1-151 1 96 1 159 1 131 1 93 1 75 1 95 1 36 1 73 1 59 1 37 1 68 1 74 1 68 1 46 1 70 1-18 1-45 1 11 1-182 1-170 1-185 1-169 1-134 1-165 1 121 1 154 1 134 1 118 1 92 1 111 1 28 1 32 1 38 1 20 1-15 1-7 1 1 1 6 1 21 1-1 1-5 1-16 1-119 1-143 1-153 1-146 1-116 1-138 1 149 1 105 1 136 1 99 1 114 1 88 1 1 1 41 1 34 1-3 1 45 1 34 1 17 1 10 1 16 1 3 1-16 1-7 1-115 1-127 1-106 1-90 1-92 1-109 1 97 1 85 1 78 1 65 1 54 1 32 1 27 1 17 1 4 1 26 1 42 1 65 1 67 1 54 1 41 1-21 1-19 1-49 1-164 1-206 1-166 1-124 1-124 1-118 1 156 1 163 1 151 1 109 1 70 1 118 1 17 1 56 1 26 1 49 1 9 1 24 1 21 1 10 1 28 1-66 1-23 1-33 1-143 1-109 1-129 1-74 1-95 1-70 1 152 1 88 1 124 1 103 1 44 1 77 1 22 1-5 1 19 1-11 1 3 1 38 1 3 1 47 1 24 1-24 1-27 1-14 1-158 1-132 1-156 1-112 1-94 1-96 1 129 1 135 1 137 1 74 1 100 1 58 1 61 1 23 1 26 1 17 1 12 1 23 1 39 1 28 1 35 1 8 1 6 1-29 1-114 1-109 1-114 1-88 1-113 1-75 1 61 1 71 1 91 1 48 1 43 1 57 1 77 1 18 1 60 1 46 1 28 1 25 1 42 1 33 1 10 1-10 1-25 1-39 1-105 1-106 1-84 1-67 1-70 1-66 1 79 1 56 1 81 1 21 1 41 1 28 1 24 1 24 1 11 1 23 1 22 1 40 1 15 1 42 1 2 1-5 1-21 1-32 1-191 1-180 1-162 1-117 1-132 1-141 1 156 1 121 1 115 1 74 1 70 1 74 1 26 1 33 1 48 1 52 1 42 1 45 1 86 1 37 1 47 1-23 1-29 1-23 1-193 1-165 1-163 1-159 1-161 1-151 1 124 1 122 1 136 1 102 1 99 1 88 1 63 1 73 1 54 1 39 1-1 1 30 1 34 1 26 1 6 1-1 1 1 1-20 1-137 1-128 1-167 1-112 1-123 1-106 1 116 1 126 1 96 1 87 1 66 1 96 1 29 1 72 1 43 1 8 1 53 1 19 1 30 1 42 1 0 1 0 1 0 1 0 1-122 1-138 1-149 1-103 1-92 1-113 1 149 1 129 1 97 1 63 1 56 1 58 1 16 1 4 1-20 1-12 1 4 1 31 1 17 1 16 1 47 1-27 1-26 1-5 1-201 1-239 1-239 1-201 1-177 1-205 1 184 1 221 1 189 1 124 1 136 1 143 1 22 1 23 1 34 1 16 1 10 1 46 1 21 1 35 1 39 1 1 1 1 1 23 1-151 1-171 1-172 1-113 1-148 1-160 1 166 1 137 1 133 1 111 1 91 1 93 1 15 1 16 1 17 1-8 1 5 1 5 1 25 1-15 1 44 1-21 1-24 1-32 1-155 1-183 1-196 1-155 1-135 1-140 1 191 1 168 1 161 1 94 1 96 1 66 1 30 1 8 1 54 1 20 1 4 1 25 1 14 1 45 1 22 1-35 1-24 1 25 1-141 1-140 1-152 1-125 1-115 1-96 1 114 1 166 1 144 1 113 1 58 1 87 1 13 1 17 1 26 1-9 1 34 1 40 1 31 1 3 1 56 1-23 1-40 1-15 1-165 1-145 1-164 1-107 1-111 1-122 1 145 1 151 1 141 1 60 1 89 1 49 1 25 1 28 1 54 1 33 1 23 1 66 1 41 1 37 1 24 1-1 1-19 1-24 1-145 1-169 1-162 1-104 1-136 1-108 1 123 1 118 1 109 1 75 1 51 1 72 1 2 1 23 1-5 1 40 1 36 1 15 1 32 1 42 1 57 1-32 1-11 1-12 1-198 1-140 1-168 1-131 1-110 1-131 1 170 1 148 1 122 1 66 1 101 1 84 1 20 1 22 1 56 1 46 1 66 1 86 1 58 1 39 1 0 1 0 1 0 1-1 1-116 1-129 1-119 1-115 1-120 1-119 1 89 1 113 1 83 1 100 1 56 1 107 1 14 1-2 1 4 1 9 1-3 1 21 1-10 1 1 1 7 1-1 1-31 1-21 1-101 1-93 1-75 1-33 1-39 1-7 1 82 1 57 1 97 1 19 1 27 1 17 1-5 1 9 1 6 1 16 1 31 1 12 1 37 1 16 1 4 1-12 1-29 1-33 1-106 1-102 1-102 1-66 1-39 1-49 1 113 1 109 1 108 1 55 1 54 1 34 1-2 1-21 1-10 1 4 1-13 1-4 1-4 1-8 1-14 1-13 1-35 1-17 1-171 1-180 1-193 1-148 1-151 1-150 1 146 1 157 1 161 1 137 1 134 1 147 1 53 1-2 1 10 1 25 1 1 1-17 1-1 1 24 1 36 1-15 1-6 1-27 1-136 1-131 1-122 1-111 1-113 1-136 1 98 1 95 1 140 1 75 1 88 1 112 1 53 1 35 1 36 1 24 1 20 1 8 1 21 1-12 1-8 1-13 1-24 1-44 1-52 1-67 1-36 1-15 1-24 1-46 1 87 1 70 1 57 1 44 1 13 1 32 1 52 1 3 1 40 1 22 1 15 1 5 1 8 1 44 1 10 1 0 1-22 1 5 1-120 1-105 1-124 1-92 1-65 1-118 1 106 1 84 1 110 1 37 1 61 1 52 1-6 1 12 1 12 1-2 1 35 1 18 1 36 1 29 1 23 1-26 1-39 1-44 1-228 1-229 1-227 1-172 1-131 1-180 1 191 1 197 1 184 1 81 1 122 1 102 1 43 1 45 1 36 1 33 1 38 1 34 1 44 1 60 1 17 1-28 1-6 1-19 1-178 1-142 1-133 1-115 1-103 1-114 1 121 1 99 1 111 1 75 1 99 1 76 1 55 1 35 1 42 1 25 1 54 1 11 1 37 1 27 1 25 1-13 1-6 1 1 1-64 1-86 1-93 1-82 1-88 1-112 1 77 1 45 1 111 1 59 1 43 1 40 1 50 1 8 1 3 1 14 1-23 1 26 1 11 1 9 1 13 1-45 1-11 1-28 1-146 1-154 1-155 1-95 1-128 1-108 1 121 1 128 1 88 1 70 1 78 1 101 1 47 1 61 1 41 1 55 1 34 1 72 1 48 1 45 1 38 1-34 1-14 1-29 1-65 1-119 1-75 1-41 1-62 1-67 1 90 1 58 1 54 1 39 1 52 1 34 1 16 1 24 1 25 1 44 1 23 1 29 1-7 1-23 1 28 1-59 1-48 1-44 1-249 1-246 1-240 1-166 1-151 1-194 1 202 1 207 1 176 1 106 1 117 1 95 1 67 1 33 1 56 1 28 1 85 1 39 1 51 1 66 1 53 1 2 1-4 1 2 1-94 1-114 1-119 1-105 1-59 1-94 1 93 1 63 1 86 1 60 1 51 1 80 1 11 1 13 1 24 1-9 1 13 1-15 1 9 1-6 1 23 1 8 1-9 1-30 1-154 1-143 1-155 1-122 1-113 1-94 1 138 1 139 1 151 1 84 1 59 1 65 1 31 1 14 1 27 1 4 1 33 1 53 1 63 1 54 1 72 1-10 1-8 1-18 1-130 1-104 1-92 1-74 1-47 1-72 1 89 1 102 1 81 1 26 1 48 1 55 1-5 1 25 1-21 1 33 1-3 1 37 1 28 1-13 1-22 1-40 1-23 1-21 1-243 1-216 1-250 1-181 1-186 1-175 1 203 1 201 1 203 1 126 1 141 1 101 1 25 1 20 1 36 1 5 1 66 1 17 1 35 1 44 1 54 1-21 1-20 1-35 1-222 1-234 1-204 1-146 1-156 1-174 1 188 1 191 1 179 1 128 1 135 1 113 1 68 1 30 1 55 1 15 1 0 1 57 1 14 1 6 1 48 1-15 1-53 1-16 1-259 1-225 1-267 1-203 1-206 1-242 1 185 1 188 1 185 1 137 1 159 1 143 1 88 1 79 1 56 1 72 1 45 1 44 1 28 1 43 1 39 1-36 1-6 1-4 1-103 1-99 1-80 1-84 1-93 1-89 1 89 1 111 1 87 1 76 1 79 1 62 1-22 1 10 1 3 1-1 1 23 1 14 1 2 1 41 1-19 1-2 1-6 1-28 1-133 1-80 1-132 1-96 1-131 1-106 1 68 1 98 1 94 1 52 1 47 1 83 1 31 1 32 1 79 1 11 1 49 1 28 1 9 1 51 1 28 1 13 1-55 1 1 1-193 1-166 1-190 1-93 1-173 1-132 1 135 1 131 1 156 1 100 1 67 1 84 1-22 1-1 1-2 1 55 1 20 1 58 1 35 1 50 1 15 1-12 1-39 1-10 1-106 1-123 1-82 1-90 1-70 1-58 1 117 1 98 1 90 1 54 1 32 1 37 1 8 1 52 1 9 1 18 1 9 1 9 1 16 1 39 1 4 1-16 1-26 1 14 1-162 1-169 1-186 1-134 1-119 1-164 1 146 1 149 1 205 1 66 1 96 1 87 1 36 1 37 1 53 1 24 1 50 1 21 1 56 1 30 1 65 1-38 1-29 1-23 1-144 1-123 1-149 1-96 1-84 1-109 1 115 1 92 1 107 1 78 1 57 1 74 1 42 1 31 1 62 1 27 1 14 1 37 1 23 1-8 1 9 1-35 1-10 1-28 1-79 1-102 1-100 1-36 1-48 1-51 1 62 1 92 1 91 1 61 1 51 1 75 1 22 1 7 1 16 1 21 1 9 1 3 1 18 1-13 1 13 1-35 1-18 1-6 1-187 1-162 1-188 1-145 1-126 1-166 1 157 1 136 1 124 1 74 1 79 1 91 1 17 1 44 1 64 1 32 1 24 1 37 1 28 1 22 1-3 1-52 1-10 1-21 1-219 1-230 1-181 1-157 1-142 1-158 1 214 1 211 1 182 1 139 1 109 1 101 1 23 1-11 1 12 1 9 1 42 1 50 1 67 1 47 1 55 1-4 1-42 1-41 1-236 1-237 1-229 1-180 1-193 1-153 1 218 1 215 1 180 1 131 1 126 1 125 1 17 1 31 1 14 1 26 1 18 1 21 1 27 1 33 1 28 1-31 1-10 1-23 1-203 1-156 1-175 1-138 1-132 1-117 1 163 1 137 1 159 1 70 1 98 1 70 1 46 1 44 1 36 1 28 1 32 1 10 1 20 1 54 1 19 1 12 1-46 1-23 1-236 1-211 1-259 1-188 1-191 1-190 1 227 1 178 1 209 1 117 1 142 1 108 1 85 1 42 1 65 1 68 1 64 1 47 1 25 1 43 1 27 1-50 1-18 1-2 1-97 1-82 1-60 1-63 1-36 1-43 1 73 1 61 1 47 1 60 1 22 1 18 1 7 1 12 1-11 1 27 1-28 1 16 1-2 1 34 1 18 1 36 1 16 1-4 1-73 1-71 1-97 1-75 1-47 1-22 1 89 1 77 1 62 1 55 1 34 1 15 1-19 1 4 1-1 1 29 1 23 1 25 1-1 1 29 1 22 1-41 1-46 1-75 1-301 1-329 1-300 1-226 1-221 1-238 1 280 1 287 1 234 1 143 1 147 1 157 1 49 1 61 1 51 1 47 1 40 1 32 1 56 1 21 1 55 1-17 1-5 1 2 1-153 1-152 1-162 1-100 1-113 1-135 1 127 1 126 1 99 1 86 1 95 1 97 1 33 1 27 1 27 1 24 1 35 1 39 1 40 1 9 1 52 1-2 1 48 1-22 1-78 1-105 1-75 1-81 1-80 1-28 1 55 1 78 1 86 1 27 1 38 1 42 1 7 1 4 1 17 1-2 1 38 1 7 1 29 1 28 1 46 1-17 1-19 1-38 1-135 1-139 1-122 1-94 1-84 1-97 1 120 1 116 1 91 1 70 1 55 1 78 1 6 1 4 1-24 1 2 1-11 1 8 1-28 1 40 1-7 1 11 1-27 1-1 1-174 1-195 1-173 1-148 1-132 1-156 1 181 1 153 1 166 1 103 1 111 1 97 1 19 1 41 1-3 1 67 1 39 1 52 1 13 1 63 1 0 1-20 1-58 1-35 1-326 1-295 1-303 1-224 1-186 1-232 1 256 1 241 1 244 1 99 1 146 1 149 1 50 1 56 1 81 1 14 1 70 1-3 1 55 1 22 1 67 1-6 1-31 1 8 1-126 1-98 1-124 1-86 1-85 1-93 1 117 1 108 1 98 1 78 1 64 1 74 1-8 1 35 1-15 1 40 1 11 1 25 1 19 1 62 1 33 1-10 1 12 1 1 1-103 1-96 1-112 1-91 1-61 1-111 1 93 1 94 1 91 1 67 1 62 1 26 1 6 1 12 1 0 1 11 1-3 1-15 1 2 1-11 1-14 1-31 1-24 1-14 1-156 1-138 1-169 1-129 1-131 1-127 1 133 1 157 1 157 1 80 1 87 1 57 1 45 1 31 1 50 1 56 1 49 1 65 1 27 1 53 1 40 1-32 1-45 1-13 1-241 1-212 1-235 1-177 1-183 1-181 1 222 1 201 1 196 1 103 1 91 1 136 1 33 1 65 1 35 1 47 1 52 1 26 1 27 1 36 1 7 1-1 1-10 1 24 1-215 1-183 1-174 1-160 1-149 1-145 1 178 1 197 1 189 1 130 1 133 1 91 1 34 1 8 1-4 1 14 1 33 1 51 1 36 1 23 1 39 1-27 1-43 1-19 1-263 1-216 1-232 1-154 1-148 1-142 1 178 1 177 1 177 1 118 1 125 1 111 1 24 1 41 1 11 1 13 1 6 1 22 1 37 1 39 1 28 1-17 1-3 1-22 1-221 1-215 1-189 1-176 1-154 1-171 1 163 1 138 1 176 1 81 1 82 1 125 1 7 1 67 1 27 1 54 1 50 1 37 1 41 1 35 1 23 1-28 1 6 1-27 1-148 1-131 1-137 1-148 1-101 1-99 1 111 1 141 1 159 1 96 1 101 1 73 1 49 1 18 1 45 1 30 1 42 1 23 1 26 1 3 1 18 1-53 1-42 1-54 1-237 1-230 1-229 1-183 1-149 1-178 1 223 1 201 1 197 1 110 1 107 1 110 1 24 1 61 1 58 1 45 1 75 1 61 1 42 1 40 1 54 1-24 1-18 1-37 1-145 1-120 1-132 1-82 1-113 1-86 1 147 1 115 1 122 1 79 1 53 1 66 1-5 1 16 1 12 1-23 1 26 1-4 1 47 1 22 1 20 1-27 1-19 1-51 1-240 1-213 1-233 1-181 1-152 1-167 1 194 1 189 1 186 1 130 1 102 1 139 1 32 1 63 1 38 1 49 1 62 1 41 1 50 1 66 1 49 1-55 1-26 1 9 1-36 1-50 1-30 1-65 1-43 1-62 1 32 1 45 1 64 1 49 1 55 1 52 1 47 1 62 1 2 1 0 1 0 1 0 1 0 1 0 1 0 1 0 1 0 1 0 1-296 1-271 1-309 1-200 1-243 1-223 1 233 1 233 1 237 1 151 1 159 1 121 1 63 1 63 1 46 1 42 1 76 1 45 1 54 1 19 1 0 1 0 1-17 1-33 1-218 1-194 1-214 1-132 1-166 1-162 1 209 1 172 1 202 1 120 1 118 1 124 1-4 1 3 1 3 1-2 1 22 1 2 1 3 1 13 1 24 1-18 1-22 1-22 1-216 1-238 1-199 1-192 1-162 1-168 1 176 1 176 1 205 1 123 1 113 1 86 1 66 1 39 1 62 1 36 1 23 1 36 1 48 1 35 1 20 1-32 1-29 1-37 1-259 1-250 1-256 1-192 1-196 1-215 1 210 1 211 1 216 1 134 1 130 1 131 1 23 1 49 1 42 1 5 1 48 1 31 1 31 1 44 1 65 1-28 1 43 1-18 1-158 1-163 1-197 1-140 1-161 1-165 1 140 1 135 1 164 1 119 1 95 1 100 1 33 1 10 1 27 1 28 1 13 1 41 1 40 1 48 1 8 1-24 1-13 1-15 1-223 1-207 1-225 1-141 1-150 1-149 1 192 1 166 1 167 1 83 1 73 1 99 1 42 1 1 1 24 1 30 1 19 1-1 1 39 1 32 1 36 1-13 1 34 1-8 1-168 1-168 1-179 1-134 1-130 1-126 1 163 1 150 1 127 1 86 1 81 1 101 1 58 1 54 1 82 1 59 1 43 1 60 1 39 1 5 1 35 1-32 1-69 1-31 1-215 1-203 1-191 1-153 1-155 1-185 1 160 1 167 1 154 1 118 1 116 1 108 1 30 1 51 1 23 1 57 1 30 1 46 1 41 1 28 1 47 1-22 1-16 1 6 1-144 1-151 1-174 1-112 1-119 1-152 1 129 1 103 1 138 1 85 1 101 1 86 1 47 1-2 1 27 1 22 1 12 1 27 1 51 1 49 1 56 1-16 1 7 1-23 1-88 1-125 1-93 1-52 1-72 1-79 1 90 1 114 1 70 1 36 1 79 1 44 1 14 1 28 1 13 1 25 1 18 1 20 1 21 1 9 1 45 1-16 1-28 1-28 1-163 1-151 1-180 1-115 1-130 1-145 1 145 1 138 1 127 1 88 1 81 1 58 1 34 1 19 1 32 1 38 1 59 1 60 1 45 1 54 1 0 1 0 1-6 1-33 1-140 1-127 1-130 1-119 1-84 1-131 1 116 1 119 1 106 1 75 1 65 1 64 1 45 1 27 1 23 1 37 1 56 1 18 1 19 1 0 1 0 1-18 1-24 1-19 1-170 1-155 1-151 1-110 1-110 1-114 1 130 1 158 1 135 1 78 1 108 1 107 1 19 1 38 1 23 1-16 1-14 1 2 1 8 1 40 1 44 1-16 1-9 1 7 1-179 1-145 1-179 1-114 1-156 1-99 1 154 1 145 1 165 1 112 1 97 1 91 1 5 1 20 1-5 1-11 1 9 1 8 1 28 1 37 1 46 1 0 1 0 1 0 1-107 1-135 1-115 1-98 1-82 1-100 1 106 1 95 1 106 1 16 1 58 1 82 1 20 1 13 1 30 1 10 1 7 1 1 1-27 1-31 1-14 1-61 1-32 1 21 1-196 1-188 1-212 1-188 1-178 1-165 1 181 1 201 1 217 1 110 1 107 1 83 1 0 1 0 1-4 1 5 1 8 1 34 1 24 1 36 1 5 1-3 1 1 1-13 1-113 1-123 1-127 1-103 1-114 1-144 1 97 1 118 1 86 1 86 1 50 1 93 1 65 1 34 1 49 1 22 1 42 1 25 1 46 1 19 1 66 1-11 1-8 1-9 1-157 1-154 1-170 1-125 1-138 1-111 1 112 1 129 1 117 1 90 1 69 1 99 1-1 1 8 1 29 1 18 1 20 1 19 1 14 1 3 1 4 1-14 1-20 1-36 1-70 1-89 1-85 1-71 1-10 1-76 1 79 1 111 1 113 1 63 1 34 1 44 1 17 1-4 1-22 1 7 1-11 1 19 1 20 1 20 1 64 1-32 1-18 1-12 1-318 1-347 1-345 1-266 1-260 1-254 1 271 1 270 1 298 1 169 1 186 1 171 1 66 1 99 1 33 1 86 1 40 1 45 1 95 1 88 1 73 1-24 1-18 1-52 1-230 1-191 1-173 1-121 1-118 1-133 1 169 1 167 1 138 1 67 1 68 1 71 1 43 1 24 1 41 1 35 1 37 1 38 1 52 1 73 1 55 1 17 1-11 1-35 1-147 1-142 1-126 1-107 1-70 1-84 1 88 1 120 1 75 1 41 1 55 1 47 1 14 1 46 1 8 1 53 1 24 1 13 1 24 1-3 1 34 1 11 1-49 1-3 1-298 1-248 1-283 1-228 1-229 1-187 1 243 1 207 1 224 1 134 1 139 1 144 1 91 1 104 1 74 1 80 1 90 1 114 1 48 1 0 1 0 1 0 1 0 1-79 1-209 1-223 1-172 1-133 1-141 1-90 1 162 1 164 1 153 1 112 1 83 1 79 1 11 1 10 1 28 1 11 1 27 1 10 1 24 1 10 1-10 1 7 1-36 1-5 1-118 1-66 1-137 1-64 1-70 1-82 1 100 1 119 1 105 1 55 1 47 1 43 1 26 1 17 1 13 1 25 1 28 1 25 1 44 1 6 1 39 1-31 1-27 1-56 1-224 1-285 1-266 1-211 1-181 1-178 1 235 1 255 1 237 1 111 1 118 1 125 1 6 1 12 1 28 1 54 1 50 1 33 1 61 1 50 1 64 1-32 1-60 1-70 1-228 1-255 1-234 1-180 1-157 1-194 1 200 1 223 1 233 1 110 1 137 1 110 1 34 1 53 1 15 1 19 1 38 1 36 1 76 1 51 1 51 1 6 1-25 1-34 1-244 1-217 1-247 1-218 1-160 1-166 1 174 1 191 1 202 1 120 1 88 1 151 1 23 1 35 1 22 1 43 1 43 1 22 1 29 1 37 1 24 1-53 1-28 1-51 1-220 1-216 1-230 1-129 1-152 1-144 1 183 1 190 1 178 1 113 1 112 1 121 1 36 1 77 1 37 1 48 1 37 1 91 1 27 1 76 1 32 1-33 1-13 1-61 1-166 1-142 1-163 1-112 1-141 1-118 1 114 1 103 1 143 1 82 1 73 1 68 1 54 1 8 1 28 1 37 1 11 1 58 1 26 1 15 1 32 1-48 1-15 1-59 1-185 1-193 1-163 1-113 1-95 1-93 1 167 1 132 1 117 1 98 1 66 1 61 1 43 1 7 1 57 1 14 1 36 1 18 1 23 1 62 1 29 1-26 1-9 1-21 1-228 1-243 1-237 1-179 1-187 1-206 1 210 1 190 1 186 1 127 1 110 1 138 1 55 1 77 1 38 1 61 1 57 1 71 1 67 1 40 1 44 1-63 1-67 1-57 1-317 1-256 1-291 1-196 1-183 1-168 1 235 1 222 1 259 1 140 1 160 1 121 1 60 1 16 1 41 1 37 1 24 1 51 1 31 1 42 1 73 1-24 1 10 1-11 1-155 1-166 1-161 1-124 1-139 1-141 1 108 1 128 1 121 1 112 1 92 1 96 1-20 1 24 1 31 1-4 1 21 1 19 1 23 1 29 1 4 1-36 1-25 1-43 1-183 1-155 1-170 1-130 1-112 1-116 1 113 1 162 1 155 1 55 1 86 1 74 1 41 1 43 1 60 1 59 1 41 1 61 1 61 1 64 1 70 1-23 1-33 1-24 1-264 1-248 1-220 1-191 1-156 1-182 1 238 1 236 1 199 1 147 1 120 1 103 1 19 1 23 1 40 1 33 1 41 1 40 1 44 1 39 1 16 1-38 1-46 1-47 1-152 1-126 1-153 1-110 1-67 1-132 1 94 1 110 1 104 1 68 1 82 1 85 1 30 1 22 1 15 1 2 1 1 1 12 1 21 1 10 1 16 1-21 1-50 1-8 1-190 1-167 1-157 1-96 1-137 1-144 1 134 1 145 1 146 1 71 1 100 1 73 1 54 1 41 1 35 1 29 1 78 1 50 1 17 1 47 1 35 1-41 1-36 1-24 1-143 1-162 1-134 1-113 1-125 1-112 1 132 1 124 1 138 1 78 1 96 1 53 1 30 1 38 1 22 1 26 1 22 1 13 1 31 1 5 1 30 1-14 1-17 1-7 1-103 1-121 1-124 1-74 1-88 1-85 1 131 1 113 1 106 1 86 1 77 1 58 1 5 1 24 1-12 1 6 1-2 1-17 1 20 1 18 1-14 1-7 1 11 1-15 1-141 1-118 1-154 1-117 1-75 1-84 1 132 1 119 1 104 1 87 1 62 1 29 1 16 1-1 1 18 1 13 1 0 1 27 1 24 1 21 1 31 1-45 1-32 1-5 1-207 1-148 1-179 1-156 1-137 1-162 1 172 1 162 1 177 1 102 1 111 1 117 1 51 1 73 1 19 1 72 1 48 1 62 1 46 1 50 1 31 1-21 1-73 1-36 1-362 1-319 1-372 1-275 1-263 1-303 1 248 1 281 1 265 1 195 1 188 1 208 1 43 1 40 1 25 1 54 1 23 1 13 1 48 1 58 1 35 1-1 1 13 1-41 1-142 1-150 1-142 1-113 1-100 1-113 1 139 1 96 1 121 1 72 1 78 1 39 1 68 1 20 1 25 1 25 1 49 1 45 1 77 1 36 1 28 1-46 1-48 1-37 1-234 1-182 1-256 1-133 1-191 1-150 1 182 1 189 1 206 1 142 1 133 1 131 1 39 1 38 1 8 1-9 1-12 1 3 1 2 1-6 1 20 1-35 1-25 1-32 1-279 1-244 1-274 1-210 1-185 1-192 1 222 1 217 1 226 1 127 1 128 1 136 1 55 1 58 1 48 1 59 1 46 1 30 1 46 1 43 1 63 1-43 1-26 1-5 1-184 1-134 1-175 1-98 1-117 1-132 1 139 1 152 1 122 1 65 1 69 1 82 1 33 1 61 1 60 1 62 1 88 1 57 1 65 1 71 1 57 1-9 1-18 1-1 1-182 1-179 1-176 1-162 1-140 1-142 1 129 1 193 1 171 1 107 1 116 1 62 1 35 1 10 1 21 1 32 1 42 1 60 1 60 1 25 1 38 1-27 1-28 1-30 1-183 1-178 1-170 1-122 1-127 1-133 1 151 1 163 1 153 1 80 1 97 1 67 1 32 1 7 1 5 1-4 1 14 1 27 1 29 1 51 1 25 1 16 1-23 1-29 1-167 1-113 1-131 1-76 1-81 1-59 1 116 1 117 1 113 1 57 1 61 1 58 1 51 1-3 1 13 1 25 1 9 1 38 1-2 1 31 1-17 1-20 1-35 1-32 1-218 1-206 1-220 1-146 1-167 1-152 1 166 1 189 1 167 1 119 1 125 1 72 1 68 1 34 1 53 1 29 1 47 1 40 1 55 1 37 1 31 1-15 1-31 1 4 1-207 1-177 1-196 1-141 1-151 1-150 1 152 1 169 1 168 1 128 1 112 1 113 1 42 1 30 1 50 1 53 1 74 1 37 1 47 1 5 1 33 1-34 1-41 1-36 1-111 1-102 1-103 1-108 1-87 1-68 1 63 1 99 1 104 1 88 1 65 1 109 1 4 1 26 1 20 1 8 1-7 1-11 1-8 1 8 1-20 1-12 1-33 1-37 1-128 1-167 1-143 1-99 1-120 1-87 1 138 1 149 1 129 1 44 1 69 1 58 1 7 1 15 1 32 1-1 1 17 1-1 1-18 1-19 1 20 1-36 1-19 1 6 1-163 1-211 1-180 1-160 1-152 1-139 1 173 1 152 1 177 1 92 1 117 1 73 1 50 1 28 1 39 1 32 1 4 1 46 1 77 1 23 1 53 1-18 1-9 1-22 1-185 1-210 1-171 1-161 1-151 1-146 1 115 1 140 1 124 1 103 1 93 1 124 1 75 1 72 1 51 1 64 1 59 1 35 1 38 1 6 1 4 1-55 1-70 1-11 1-356 1-362 1-357 1-298 1-283 1-272 1 291 1 285 1 299 1 189 1 190 1 145 1 88 1 72 1 90 1 69 1 86 1 73 1 60 1 68 1 69 1-65 1-35 1-41 1-212 1-219 1-218 1-179 1-178 1-196 1 183 1 170 1 187 1 103 1 116 1 100 1 46 1 22 1 59 1 32 1 71 1 21 1 70 1 49 1 73 1-24 1-22 1-9 1-157 1-206 1-181 1-164 1-157 1-163 1 168 1 172 1 169 1 70 1 109 1 69 1 6 1 13 1-11 1 0 1 35 1 28 1 39 1 49 1 42 1 12 1 8 1-5 1-108 1-154 1-146 1-120 1-133 1-81 1 94 1 115 1 139 1 66 1 56 1 96 1 34 1 48 1 47 1 43 1 49 1 64 1 39 1 9 1 27 1-8 1-44 1-33 1-273 1-268 1-284 1-192 1-220 1-198 1 212 1 229 1 240 1 123 1 148 1 123 1 16 1 32 1 59 1 50 1 22 1 34 1 51 1 36 1 72 1-39 1 27 1-5 1-122 1-105 1-158 1-70 1-85 1-95 1 85 1 123 1 86 1 67 1 75 1 81 1 37 1 69 1 19 1 32 1 29 1 19 1 45 1 20 1 26 1-30 1-29 1-50 1-214 1-218 1-210 1-147 1-143 1-154 1 221 1 197 1 192 1 84 1 47 1 60 1 0 1-1 1 61 1 42 1 27 1 68 1 73 1 62 1 45 1-30 1-41 1-14 1-180 1-193 1-160 1-128 1-147 1-118 1 124 1 165 1 126 1 91 1 86 1 88 1 37 1 41 1 21 1 46 1 38 1 42 1 6 1 35 1-1 1-75 1-53 1-48 1-341 1-353 1-354 1-232 1-255 1-290 1 281 1 279 1 292 1 186 1 176 1 181 1 37 1 30 1 28 1 19 1 26 1 21 1 9 1 41 1 43 1-24 1 27 1-10 1-97 1-102 1-92 1-49 1-95 1-84 1 96 1 78 1 76 1 5 1 28 1 44 1 20 1 36 1 19 1 57 1 53 1 67 1 55 1 53 1 22 1-30 1-11 1-39 1-160 1-180 1-181 1-153 1-161 1-155 1 161 1 155 1 206 1 103 1 105 1 104 1 34 1-5 1 42 1 2 1 29 1 42 1 9 1 21 1 10 1-21 1-31 1-48 1-187 1-228 1-204 1-162 1-196 1-162 1 193 1 208 1 189 1 124 1 149 1 105 1 52 1 30 1 10 1 9 1-1 1 62 1 0 1 34 1 84 1-6 1 17 1-18 1-92 1-110 1-98 1-94 1-61 1-45 1 93 1 86 1 97 1 68 1 0 1 53 1 9 1-19 1 1 1 3 1 54 1 29 1 14 1 3 1-11 1-26 1-1 1-50 1-160 1-188 1-182 1-152 1-129 1-159 1 166 1 154 1 155 1 94 1 99 1 114 1 36 1 98 1 18 1 47 1 52 1 65 1 41 1 37 1 65 1 6 1-9 1-11 1-236 1-247 1-240 1-182 1-191 1-189 1 208 1 188 1 216 1 142 1 116 1 111 1 27 1 41 1 56 1 41 1 60 1 26 1 46 1 40 1 16 1-25 1-13 1-2 1-169 1-140 1-159 1-145 1-126 1-120 1 132 1 149 1 142 1 68 1 110 1 74 1 6 1 34 1 28 1 29 1 40 1 19 1 51 1 42 1 41 1-22 1-21 1-29 1-207 1-161 1-175 1-146 1-129 1-123 1 143 1 128 1 158 1 129 1 82 1 113 1 37 1 42 1 35 1 28 1 15 1 23 1 7 1 19 1 36 1-9 1-27 1-35 1-228 1-219 1-239 1-184 1-182 1-171 1 194 1 185 1 185 1 103 1 101 1 99 1 32 1 47 1 36 1 49 1 53 1 69 1 78 1 63 1 65 1-16 1-15 1-71 1-231 1-254 1-222 1-204 1-195 1-235 1 200 1 203 1 208 1 127 1 145 1 134 1 47 1 26 1 16 1 17 1 46 1 39 1 58 1 59 1 60 1-28 1-30 1-21 1-224 1-180 1-203 1-143 1-111 1-141 1 196 1 152 1 172 1 99 1 106 1 95 1-8 1 30 1 3 1 31 1 25 1 33 1 57 1 31 1 43 1-28 1-48 1-57 1-309 1-309 1-297 1-236 1-225 1-218 1 257 1 264 1 243 1 145 1 143 1 149 1 41 1 80 1 71 1 59 1 51 1 66 1 85 1 32 1 62 1-18 1-51 1-51 1-265 1-267 1-248 1-166 1-174 1-173 1 229 1 207 1 190 1 98 1 140 1 106 1 57 1 22 1 30 1 21 1 51 1 24 1 54 1 51 1 31 1 3 1 1 1 11 1-85 1-117 1-121 1-81 1-109 1-84 1 38 1 57 1 59 1 50 1 39 1 70 1 53 1 57 1 30 1 61 1 9 1 47 1-9 1 30 1 38 1-16 1-19 1-17 1-224 1-240 1-270 1-165 1-194 1-164 1 189 1 197 1 230 1 160 1 149 1 150 1 66 1 13 1 6 1 21 1 11 1 27 1 9 1 33 1-8 1-35 1-15 1-57 1-229 1-219 1-240 1-156 1-178 1-178 1 206 1 196 1 214 1 142 1 146 1 135 1 43 1 17 1 56 1 12 1 5 1 35 1 13 1 31 1 48 1-34 1-39 1-11 1-328 1-324 1-358 1-255 1-260 1-258 1 314 1 326 1 298 1 173 1 180 1 172 1 4 1 23 1 37 1 10 1 48 1 25 1 38 1 2 1 50 1-46 1-34 1-33 1-146 1-191 1-145 1-149 1-139 1-141 1 142 1 162 1 123 1 125 1 81 1 92 1 74 1 25 1 57 1 68 1 60 1 62 1 51 1 53 1 47 1-57 1-3 1-25 1-252 1-257 1-261 1-210 1-201 1-231 1 231 1 234 1 237 1 140 1 157 1 154 1 26 1 34 1 57 1 32 1 33 1 74 1 71 1 36 1 36 1-15 1-24 1-5 1-78 1-21 1-65 1-46 1-61 1-47 1 75 1 61 1 26 1 32 1 4 1 43 1-22 1-16 1-6 1-7 1 25 1 11 1-9 1 12 1 13 1-21 1-35 1-16 1-191 1-224 1-236 1-160 1-172 1-142 1 178 1 172 1 198 1 101 1 79 1 107 1 40 1 35 1 46 1 59 1 72 1 66 1 65 1 30 1 49 1-44 1-37 1-7 1-201 1-195 1-204 1-141 1-154 1-200 1 191 1 168 1 188 1 84 1 93 1 108 1 50 1 43 1 34 1 21 1 69 1 63 1 11 1 76 1 57 1-28 1 23 1-24 1-173 1-182 1-200 1-123 1-161 1-153 1 152 1 144 1 167 1 85 1 97 1 74 1 6 1 37 1 12 1 14 1 37 1 25 1 22 1 20 1 42 1-42 1-18 1-62 1-232 1-254 1-213 1-152 1-147 1-158 1 232 1 196 1 174 1 100 1 83 1 95 1 25 1 38 1 39 1 36 1 26 1 34 1 43 1 41 1 20 1-13 1-42 1-31 1-196 1-242 1-223 1-149 1-126 1-127 1 182 1 209 1 172 1 109 1 85 1 117 1 29 1 51 1 19 1 25 1 31 1 40 1 38 1 42 1 59 1-43 1-8 1-36 1-287 1-323 1-326 1-222 1-244 1-236 1 258 1 261 1 248 1 163 1 150 1 180 1 56 1 33 1 46 1 52 1 24 1 65 1 55 1 56 1 51 1-42 1-7 1-54 1-225 1-225 1-204 1-159 1-152 1-161 1 149 1 207 1 186 1 115 1 132 1 112 1 39 1 26 1 57 1 8 1 30 1 29 1 58 1 46 1 53 1-22 1-11 1 9 1-201 1-200 1-206 1-174 1-203 1-186 1 174 1 161 1 189 1 119 1 92 1 134 1 47 1 30 1 48 1 70 1 36 1 38 1 47 1 29 1 31 1-67 1-54 1-28 1-298 1-284 1-293 1-218 1-216 1-217 1 247 1 241 1 259 1 130 1 172 1 120 1 76 1 62 1 86 1 90 1 76 1 87 1 60 1 71 1 77 1-23 1-13 1 7 1-81 1-127 1-98 1-125 1-77 1-111 1 54 1 87 1 107 1 49 1 51 1 74 1 9 1 23 1 7 1 55 1 22 1 21 1 10 1-11 1-30 1-73 1-37 1-33 1-184 1-185 1-170 1-148 1-147 1-159 1 166 1 172 1 138 1 102 1 99 1 83 1 24 1 12" stroke="#008752" stroke-width="8.04" fill="none" stroke-linejoin="round"/><path d="M0 -6004l1 802 1 333 1 308 1 232 1 73 1-68 1-79 1-275 1-270 1-82 1 22 1 146 1 90 1 42 1-196 1-28 1 116 1-175 1-179 1-147 1-163 1-52 1-20 1 137 1 206 1 242 1 250 1 181 1 56 1-71 1-65 1-218 1-219 1-82 1 29 1 118 1 77 1 34 1-172 1-20 1 99 1-139 1-146 1-133 1-131 1-49 1-9 1 132 1 240 1 296 1 263 1 198 1 62 1-67 1-96 1-265 1-284 1-84 1 23 1 157 1 102 1 32 1-205 1-38 1 140 1-184 1-182 1-167 1-167 1-50 1-4 1 148 1 281 1 329 1 323 1 218 1 88 1-97 1-90 1-307 1-297 1-106 1 37 1 164 1 100 1 29 1-209 1-44 1 145 1-202 1-195 1-185 1-180 1-70 1-5 1 180 1 280 1 352 1 341 1 228 1 83 1-101 1-107 1-331 1-354 1-113 1 39 1 190 1 115 1 48 1-258 1-42 1 152 1-210 1-231 1-194 1-207 1-64 1-18 1 185 1 319 1 384 1 373 1 258 1 91 1-102 1-104 1-358 1-355 1-120 1 39 1 202 1 115 1 44 1-252 1-51 1 170 1-234 1-238 1-205 1-207 1-77 1-11 1 176 1 332 1 384 1 359 1 265 1 80 1-92 1-113 1-355 1-362 1-127 1 40 1 196 1 123 1 61 1-274 1-37 1 160 1-233 1-232 1-220 1-208 1-84 1-5 1 194 1 351 1 420 1 400 1 271 1 116 1-109 1-99 1-338 1-341 1-108 1 29 1 186 1 120 1 42 1-240 1-42 1 152 1-222 1-233 1-190 1-210 1-66 1-17 1 187 1 311 1 383 1 360 1 254 1 90 1-100 1-83 1-295 1-297 1-97 1 30 1 163 1 98 1 39 1-206 1-48 1 133 1-182 1-196 1-180 1-183 1-57 1-1 1 184 1 330 1 403 1 371 1 274 1 104 1-97 1-98 1-318 1-322 1-105 1 28 1 179 1 106 1 53 1-235 1-48 1 151 1-209 1-205 1-187 1-202 1-61 1 2 1 156 1 280 1 339 1 326 1 235 1 71 1-73 1-86 1-257 1-266 1-86 1 28 1 151 1 82 1 39 1-186 1-39 1 122 1-174 1-171 1-149 1-166 1-49 1-7 1 98 1 198 1 231 1 207 1 152 1 63 1-53 1-45 1-144 1-163 1-40 1 15 1 95 1 37 1 27 1-116 1-10 1 57 1-100 1-100 1-67 1-108 1-29 1 21 1 140 1 263 1 314 1 313 1 210 1 78 1-77 1-72 1-258 1-251 1-73 1 15 1 148 1 83 1 27 1-179 1-36 1 116 1-162 1-158 1-149 1-159 1-51 1-7 1 122 1 206 1 260 1 247 1 162 1 61 1-72 1-62 1-236 1-241 1-74 1 23 1 125 1 83 1 24 1-165 1-38 1 113 1-160 1-141 1-140 1-148 1-38 1-5 1 143 1 258 1 320 1 286 1 211 1 74 1-75 1-73 1-254 1-245 1-79 1 25 1 132 1 86 1 31 1-175 1-35 1 107 1-152 1-169 1-145 1-142 1-45 1-15 1 161 1 273 1 334 1 296 1 225 1 80 1-86 1-84 1-280 1-284 1-90 1 42 1 139 1 97 1 40 1-214 1-24 1 139 1-204 1-178 1-159 1-175 1-61 1 0 1 139 1 254 1 318 1 303 1 209 1 82 1-79 1-72 1-244 1-245 1-98 1 36 1 141 1 81 1 24 1-182 1-22 1 111 1-163 1-155 1-144 1-149 1-54 1-3 1 138 1 234 1 284 1 274 1 198 1 59 1-60 1-76 1-237 1-253 1-77 1 34 1 129 1 71 1 37 1-175 1-36 1 125 1-162 1-155 1-148 1-148 1-53 1-9 1 141 1 240 1 315 1 280 1 198 1 79 1-73 1-73 1-226 1-239 1-82 1 37 1 133 1 69 1 36 1-176 1-29 1 105 1-155 1-149 1-134 1-136 1-40 1-8 1 123 1 227 1 281 1 262 1 190 1 68 1-53 1-64 1-164 1-188 1-52 1 13 1 98 1 58 1 21 1-120 1-22 1 79 1-112 1-122 1-102 1-106 1-37 1-1 1 92 1 189 1 201 1 197 1 147 1 51 1-70 1-56 1-200 1-210 1-80 1 31 1 104 1 70 1 36 1-156 1-21 1 95 1-134 1-140 1-116 1-129 1-43 1-6 1 136 1 219 1 260 1 247 1 175 1 64 1-77 1-63 1-229 1-224 1-82 1 25 1 126 1 82 1 27 1-172 1-19 1 113 1-163 1-149 1-133 1-136 1-61 1 9 1 133 1 226 1 272 1 266 1 184 1 63 1-64 1-71 1-226 1-221 1-81 1 30 1 115 1 86 1 27 1-159 1-36 1 109 1-160 1-140 1-139 1-125 1-47 1-11 1 134 1 215 1 282 1 255 1 183 1 68 1-72 1-60 1-230 1-229 1-70 1 25 1 126 1 74 1 28 1-161 1-23 1 96 1-145 1-149 1-132 1-142 1-32 1-7 1 118 1 231 1 263 1 255 1 189 1 53 1-67 1-57 1-203 1-220 1-61 1 18 1 113 1 78 1 32 1-161 1-29 1 102 1-137 1-144 1-122 1-124 1-41 1-10 1 111 1 198 1 243 1 218 1 160 1 54 1-59 1-53 1-177 1-177 1-58 1 17 1 102 1 61 1 26 1-135 1-24 1 75 1-111 1-112 1-113 1-101 1-43 1-2 1 101 1 215 1 233 1 223 1 157 1 55 1-51 1-60 1-203 1-200 1-56 1 23 1 96 1 69 1 25 1-135 1-30 1 90 1-129 1-126 1-118 1-124 1-33 1-3 1 119 1 213 1 254 1 243 1 173 1 53 1-53 1-56 1-201 1-186 1-68 1 22 1 109 1 65 1 24 1-135 1-31 1 88 1-127 1-126 1-126 1-109 1-36 1-4 1 120 1 209 1 259 1 232 1 183 1 54 1-65 1-58 1-225 1-217 1-67 1 10 1 127 1 79 1 30 1-159 1-33 1 102 1-134 1-143 1-132 1-132 1-44 1-4 1 118 1 218 1 268 1 260 1 167 1 60 1-56 1-62 1-198 1-192 1-62 1 7 1 115 1 64 1 30 1-147 1-34 1 105 1-135 1-125 1-125 1-121 1-41 1-2 1 123 1 199 1 246 1 234 1 161 1 67 1-51 1-61 1-198 1-200 1-55 1 12 1 108 1 74 1 19 1-137 1-29 1 92 1-129 1-121 1-125 1-105 1-47 1-4 1 100 1 200 1 241 1 224 1 153 1 59 1-69 1-33 1-200 1-175 1-78 1 28 1 92 1 74 1 17 1-133 1-29 1 92 1-107 1-132 1-109 1-123 1-36 1-1 1 115 1 209 1 254 1 224 1 175 1 62 1-33 1-42 1-130 1-127 1-41 1 12 1 75 1 38 1 24 1-96 1-18 1 52 1-81 1-81 1-71 1-80 1-31 1-7 1 68 1 93 1 116 1 110 1 80 1 26 1-20 1-44 1-87 1-104 1-36 1 8 1 56 1 34 1 11 1-66 1-17 1 42 1-54 1-61 1-62 1-70 1-19 1 10 1 95 1 173 1 207 1 211 1 134 1 49 1-52 1-49 1-164 1-168 1-42 1-8 1 102 1 56 1 29 1-126 1-30 1 78 1-99 1-102 1-106 1-97 1-38 1 2 1 63 1 118 1 148 1 130 1 107 1 35 1-35 1-37 1-101 1-104 1-42 1 14 1 62 1 33 1 16 1-82 1-11 1 53 1-70 1-69 1-67 1-63 1-16 1-1 1 97 1 170 1 214 1 190 1 149 1 48 1-39 1-41 1-151 1-147 1-48 1 17 1 82 1 52 1 17 1-110 1-22 1 88 1-113 1-97 1-88 1-84 1-30 1 2 1 87 1 153 1 197 1 176 1 122 1 52 1-51 1-39 1-158 1-150 1-48 1 18 1 81 1 60 1 11 1-113 1-25 1 79 1-100 1-105 1-92 1-81 1-37 1-2 1 105 1 188 1 219 1 199 1 138 1 64 1-52 1-45 1-131 1-148 1-59 1 19 1 82 1 52 1 16 1-101 1-33 1 84 1-91 1-104 1-93 1-79 1-31 1-1 1 59 1 118 1 136 1 131 1 86 1 22 1-13 1-24 1-83 1-61 1-23 1 1 1 49 1 18 1 6 1-44 1-13 1 25 1-36 1-50 1-49 1-42 1-12 1-8 1 94 1 144 1 182 1 167 1 125 1 32 1-29 1-44 1-108 1-122 1-44 1 14 1 69 1 39 1 21 1-94 1-3 1 42 1-82 1-76 1-71 1-66 1-28 1 5 1 96 1 173 1 223 1 176 1 141 1 49 1-37 1-53 1-149 1-138 1-52 1 8 1 86 1 48 1 23 1-120 1-4 1 68 1-100 1-96 1-93 1-93 1-24 1-8 1 108 1 202 1 237 1 231 1 167 1 50 1-59 1-69 1-203 1-203 1-75 1 16 1 115 1 77 1 22 1-145 1-31 1 91 1-133 1-138 1-134 1-126 1-34 1-8 1 146 1 234 1 291 1 285 1 180 1 68 1-64 1-73 1-240 1-230 1-84 1 28 1 140 1 78 1 30 1-182 1-27 1 107 1-148 1-150 1-158 1-146 1-36 1-5 1 116 1 229 1 258 1 253 1 167 1 64 1-70 1-72 1-239 1-247 1-91 1 34 1 126 1 93 1 29 1-177 1-33 1 109 1-145 1-172 1-146 1-143 1-49 1-8 1 111 1 205 1 249 1 226 1 159 1 62 1-68 1-70 1-229 1-232 1-71 1 17 1 123 1 85 1 34 1-179 1-27 1 108 1-152 1-152 1-136 1-135 1-59 1-1 1 116 1 193 1 233 1 236 1 147 1 64 1-68 1-52 1-189 1-199 1-65 1 29 1 103 1 69 1 20 1-131 1-32 1 99 1-138 1-112 1-121 1-122 1-36 1-7 1 90 1 154 1 195 1 168 1 123 1 46 1-53 1-63 1-186 1-193 1-60 1 22 1 108 1 74 1 10 1-136 1-35 1 107 1-136 1-116 1-118 1-110 1-43 1-6 1 89 1 168 1 197 1 183 1 136 1 51 1-81 1-69 1-254 1-247 1-83 1 38 1 121 1 95 1 24 1-188 1-20 1 107 1-158 1-166 1-143 1-156 1-51 1-15 1 116 1 221 1 260 1 230 1 181 1 62 1-65 1-67 1-217 1-210 1-74 1 14 1 120 1 79 1 30 1-156 1-35 1 108 1-143 1-138 1-128 1-133 1-43 1-5 1 101 1 182 1 223 1 208 1 145 1 50 1-60 1-54 1-193 1-195 1-74 1 26 1 115 1 63 1 28 1-143 1-20 1 83 1-120 1-130 1-126 1-115 1-30 1-7 1 89 1 163 1 187 1 176 1 131 1 38 1-52 1-54 1-198 1-183 1-59 1 12 1 105 1 74 1 20 1-134 1-20 1 72 1-120 1-109 1-121 1-102 1-50 1-2 1 96 1 159 1 206 1 191 1 129 1 54 1-64 1-55 1-199 1-195 1-66 1 29 1 95 1 76 1 17 1-132 1-28 1 91 1-134 1-119 1-122 1-108 1-44 1-9 1 107 1 195 1 214 1 218 1 137 1 64 1-71 1-53 1-201 1-197 1-69 1 19 1 122 1 55 1 37 1-152 1-15 1 79 1-133 1-128 1-122 1-117 1-43 1-13 1 102 1 163 1 202 1 194 1 133 1 49 1-46 1-63 1-150 1-174 1-51 1 32 1 79 1 53 1 22 1-112 1-27 1 83 1-107 1-110 1-100 1-105 1-27 1-8 1 100 1 159 1 188 1 170 1 142 1 48 1-84 1-83 1-243 1-263 1-80 1 14 1 145 1 89 1 36 1-187 1-36 1 123 1-165 1-166 1-159 1-150 1-59 1 4 1 110 1 217 1 259 1 253 1 181 1 60 1-76 1-60 1-221 1-220 1-76 1 24 1 128 1 72 1 22 1-165 1-22 1 105 1-153 1-136 1-129 1-138 1-48 1-8 1 148 1 241 1 300 1 272 1 202 1 72 1-75 1-84 1-270 1-254 1-111 1 33 1 150 1 92 1 35 1-199 1-29 1 119 1-175 1-175 1-154 1-168 1-49 1-16 1 140 1 257 1 313 1 290 1 206 1 70 1-79 1-84 1-268 1-286 1-93 1 29 1 145 1 107 1 37 1-213 1-30 1 126 1-182 1-180 1-163 1-174 1-59 1 3 1 144 1 256 1 320 1 301 1 207 1 70 1-58 1-73 1-225 1-219 1-81 1 24 1 122 1 77 1 41 1-176 1-28 1 103 1-137 1-154 1-132 1-127 1-57 1 3 1 117 1 200 1 253 1 229 1 169 1 58 1-63 1-57 1-205 1-201 1-60 1 14 1 112 1 71 1 22 1-150 1-22 1 104 1-140 1-128 1-120 1-124 1-37 1-13 1 128 1 218 1 257 1 246 1 172 1 66 1-58 1-63 1-194 1-208 1-80 1 28 1 103 1 70 1 42 1-158 1-39 1 113 1-139 1-130 1-123 1-123 1-42 1-12 1 101 1 159 1 206 1 182 1 135 1 53 1-58 1-50 1-179 1-190 1-46 1 9 1 98 1 67 1 17 1-131 1-14 1 75 1-116 1-112 1-114 1-109 1-29 1 5 1 113 1 227 1 271 1 246 1 187 1 55 1-81 1-52 1-257 1-235 1-83 1 29 1 125 1 86 1 36 1-175 1-36 1 105 1-146 1-164 1-145 1-134 1-62 1-2 1 124 1 241 1 297 1 271 1 196 1 71 1-89 1-74 1-262 1-263 1-92 1 27 1 149 1 91 1 33 1-201 1-16 1 118 1-178 1-169 1-163 1-158 1-55 1 2 1 112 1 213 1 247 1 242 1 165 1 69 1-61 1-54 1-190 1-189 1-60 1 10 1 108 1 61 1 35 1-134 1-32 1 86 1-127 1-125 1-114 1-115 1-34 1-4 1 102 1 167 1 214 1 198 1 133 1 52 1-54 1-45 1-180 1-168 1-55 1 21 1 96 1 60 1 10 1-113 1-32 1 84 1-110 1-112 1-105 1-108 1-33 1 3 1 137 1 234 1 263 1 277 1 190 1 55 1-41 1-64 1-178 1-174 1-62 1 30 1 97 1 55 1 23 1-129 1-27 1 89 1-109 1-127 1-103 1-111 1-42 1 1 1 63 1 124 1 132 1 135 1 94 1 31 1-29 1-48 1-131 1-136 1-28 1 6 1 62 1 57 1 17 1-106 1-21 1 72 1-81 1-86 1-80 1-76 1-27 1-4 1 99 1 172 1 213 1 204 1 132 1 53 1-59 1-65 1-212 1-209 1-69 1 19 1 114 1 78 1 26 1-148 1-33 1 95 1-138 1-133 1-125 1-123 1-46 1-3 1 88 1 166 1 204 1 182 1 136 1 44 1-54 1-64 1-204 1-192 1-70 1 29 1 108 1 75 1 18 1-141 1-32 1 103 1-135 1-134 1-121 1-109 1-46 1-15 1 155 1 263 1 326 1 286 1 202 1 77 1-71 1-72 1-230 1-236 1-66 1 5 1 142 1 81 1 21 1-167 1-33 1 117 1-156 1-154 1-131 1-144 1-47 1-7 1 123 1 218 1 251 1 245 1 169 1 68 1-64 1-63 1-230 1-221 1-85 1 23 1 126 1 87 1 32 1-168 1-27 1 93 1-139 1-142 1-135 1-140 1-34 1-11 1 142 1 233 1 288 1 266 1 192 1 64 1-70 1-66 1-239 1-244 1-82 1 25 1 135 1 74 1 33 1-171 1-32 1 112 1-158 1-157 1-138 1-151 1-41 1-19 1 107 1 202 1 228 1 224 1 157 1 44 1-45 1-49 1-165 1-173 1-53 1 15 1 99 1 54 1 24 1-119 1-37 1 83 1-102 1-107 1-105 1-101 1-35 1-1 1 79 1 143 1 175 1 178 1 109 1 47 1-42 1-46 1-141 1-149 1-48 1 20 1 80 1 38 1 18 1-97 1-17 1 61 1-95 1-83 1-97 1-76 1-34 1 4 1 80 1 150 1 176 1 162 1 128 1 40 1-60 1-52 1-201 1-172 1-81 1 35 1 96 1 62 1 30 1-129 1-31 1 87 1-125 1-125 1-114 1-115 1-26 1-13 1 128 1 194 1 251 1 234 1 150 1 64 1-71 1-53 1-221 1-225 1-70 1 20 1 124 1 74 1 33 1-173 1-21 1 106 1-151 1-142 1-130 1-131 1-41 1-4 1 155 1 254 1 309 1 285 1 202 1 82 1-72 1-79 1-235 1-247 1-79 1 34 1 125 1 84 1 38 1-178 1-31 1 101 1-161 1-151 1-149 1-131 1-61 1-17 1 81 1 152 1 159 1 165 1 107 1 49 1-45 1-39 1-143 1-136 1-52 1 17 1 78 1 49 1 20 1-103 1-22 1 68 1-91 1-89 1-82 1-81 1-22 1-8 1 134 1 245 1 272 1 284 1 181 1 72 1-68 1-72 1-226 1-223 1-70 1 25 1 118 1 71 1 34 1-162 1-32 1 104 1-152 1-136 1-143 1-134 1-41 1-4 1 117 1 231 1 275 1 256 1 178 1 71 1-73 1-56 1-214 1-221 1-68 1 21 1 112 1 71 1 34 1-157 1-23 1 102 1-148 1-140 1-127 1-131 1-53 1-7 1 95 1 158 1 187 1 186 1 129 1 55 1-47 1-46 1-155 1-168 1-54 1 23 1 80 1 53 1 24 1-109 1-35 1 74 1-93 1-114 1-85 1-90 1-33 1 5 1 101 1 198 1 217 1 222 1 162 1 47 1-55 1-75 1-221 1-218 1-67 1 18 1 122 1 73 1 23 1-162 1-29 1 113 1-142 1-146 1-134 1-120 1-51 1-21 1 107 1 161 1 198 1 181 1 134 1 49 1-43 1-60 1-163 1-162 1-58 1 14 1 102 1 57 1 19 1-122 1-11 1 65 1-116 1-100 1-106 1-80 1-47 1-8 1 121 1 225 1 260 1 238 1 181 1 58 1-55 1-69 1-205 1-212 1-62 1 27 1 110 1 76 1 20 1-148 1-31 1 93 1-119 1-144 1-124 1-114 1-56 1 12 1 130 1 266 1 309 1 297 1 204 1 85 1-91 1-84 1-310 1-292 1-107 1 33 1 174 1 92 1 42 1-219 1-41 1 142 1-194 1-199 1-169 1-178 1-62 1-24 1 117 1 185 1 261 1 211 1 157 1 53 1-54 1-43 1-161 1-174 1-59 1 38 1 76 1 58 1 27 1-123 1-26 1 79 1-106 1-103 1-106 1-95 1-37 1 0 1 98 1 177 1 219 1 203 1 154 1 44 1-45 1-42 1-156 1-141 1-65 1 19 1 94 1 39 1 26 1-117 1-18 1 68 1-98 1-98 1-96 1-94 1-15 1-12 1 113 1 197 1 224 1 223 1 166 1 57 1-65 1-49 1-188 1-178 1-71 1 14 1 110 1 62 1 16 1-132 1-28 1 91 1-124 1-107 1-116 1-108 1-56 1 4 1 103 1 182 1 217 1 212 1 120 1 63 1-62 1-53 1-210 1-206 1-66 1 19 1 119 1 64 1 24 1-147 1-27 1 98 1-128 1-140 1-118 1-119 1-49 1 5 1 97 1 174 1 217 1 212 1 144 1 50 1-54 1-53 1-195 1-187 1-63 1 16 1 107 1 69 1 22 1-147 1-13 1 86 1-120 1-128 1-106 1-122 1-39 1-2 1 70 1 127 1 142 1 146 1 98 1 35 1-38 1-46 1-134 1-111 1-50 1 9 1 78 1 41 1 14 1-101 1-16 1 68 1-87 1-82 1-78 1-73 1-23 1 2 1 167 1 308 1 382 1 340 1 249 1 85 1-84 1-100 1-296 1-305 1-102 1 46 1 157 1 95 1 47 1-226 1-37 1 145 1-199 1-200 1-182 1-182 1-48 1-31 1 76 1 108 1 139 1 126 1 93 1 29 1-30 1-46 1-129 1-129 1-38 1 6 1 73 1 43 1 21 1-95 1-20 1 60 1-86 1-91 1-66 1-91 1-2 1-21 1 97 1 143 1 203 1 168 1 136 1 47 1-51 1-41 1-129 1-152 1-33 1 6 1 88 1 46 1 13 1-95 1-25 1 76 1-100 1-85 1-80 1-88 1-25 1 2 1 108 1 206 1 244 1 226 1 170 1 54 1-52 1-64 1-195 1-190 1-60 1 20 1 105 1 60 1 29 1-142 1-30 1 90 1-130 1-117 1-123 1-118 1-31 1-11 1 109 1 181 1 220 1 220 1 145 1 53 1-67 1-59 1-215 1-203 1-72 1 18 1 116 1 73 1 28 1-158 1-30 1 106 1-134 1-135 1-139 1-113 1-39 1-11 1 130 1 248 1 280 1 276 1 187 1 58 1-64 1-70 1-240 1-240 1-77 1 31 1 131 1 66 1 45 1-184 1-23 1 102 1-152 1-151 1-154 1-129 1-51 1-7 1 108 1 189 1 234 1 214 1 145 1 71 1-64 1-63 1-208 1-213 1-68 1 24 1 114 1 60 1 45 1-151 1-33 1 95 1-132 1-131 1-121 1-129 1-39 1-10 1 92 1 146 1 195 1 173 1 138 1 43 1-45 1-48 1-155 1-156 1-43 1 8 1 82 1 65 1 14 1-119 1-24 1 79 1-104 1-107 1-92 1-85 1-30 1-13 1 82 1 143 1 167 1 156 1 115 1 41 1-52 1-46 1-189 1-171 1-60 1 27 1 94 1 57 1 22 1-114 1-34 1 88 1-118 1-110 1-115 1-99 1-32 1-7 1 135 1 229 1 270 1 258 1 181 1 62 1-49 1-53 1-182 1-173 1-62 1 23 1 104 1 59 1 27 1-143 1-20 1 86 1-112 1-122 1-103 1-108 1-30 1-7 1 63 1 146 1 158 1 145 1 124 1 27 1-37 1-39 1-136 1-126 1-40 1-5 1 84 1 40 1 17 1-94 1-19 1 61 1-91 1-81 1-84 1-72 1-26 1-3 1 96 1 173 1 203 1 202 1 144 1 41 1-53 1-61 1-203 1-199 1-63 1 16 1 113 1 72 1 22 1-147 1-25 1 100 1-139 1-141 1-117 1-123 1-35 1-16 1 76 1 119 1 140 1 146 1 90 1 34 1-41 1-22 1-117 1-107 1-38 1 22 1 53 1 29 1 18 1-81 1-26 1 62 1-65 1-78 1-68 1-75 1-10 1-5 1 97 1 185 1 208 1 210 1 132 1 62 1-76 1-78 1-219 1-223 1-76 1 15 1 132 1 74 1 37 1-165 1-27 1 101 1-144 1-154 1-134 1-131 1-43 1 8 1 137 1 258 1 314 1 315 1 208 1 64 1-60 1-69 1-216 1-223 1-61 1 17 1 113 1 78 1 34 1-166 1-28 1 107 1-149 1-141 1-127 1-136 1-33 1-17 1 111 1 192 1 225 1 206 1 160 1 54 1-56 1-57 1-201 1-198 1-60 1 24 1 105 1 71 1 26 1-137 1-39 1 99 1-124 1-125 1-119 1-112 1-41 1-8 1 87 1 176 1 190 1 191 1 131 1 38 1-41 1-42 1-157 1-152 1-56 1 24 1 80 1 56 1 19 1-112 1-18 1 68 1-104 1-92 1-94 1-96 1-25 1-12 1 84 1 163 1 170 1 171 1 110 1 42 1-30 1-43 1-137 1-134 1-50 1 14 1 76 1 43 1 19 1-94 1-16 1 64 1-95 1-88 1-81 1-75 1-26 1-3 1 101 1 192 1 227 1 219 1 145 1 54 1-56 1-76 1-197 1-219 1-65 1 21 1 120 1 71 1 22 1-150 1-27 1 92 1-136 1-134 1-126 1-133 1-33 1-11 1 96 1 179 1 208 1 184 1 134 1 53 1-58 1-61 1-211 1-199 1-62 1 11 1 115 1 69 1 24 1-151 1-24 1 99 1-124 1-144 1-121 1-130 1-40 1-2 1 107 1 204 1 237 1 228 1 157 1 54 1-57 1-44 1-184 1-185 1-41 1 14 1 96 1 56 1 18 1-126 1-17 1 86 1-119 1-115 1-107 1-101 1-47 1 7 1 97 1 188 1 229 1 205 1 149 1 55 1-64 1-52 1-211 1-189 1-56 1 29 1 90 1 72 1 27 1-139 1-24 1 94 1-149 1-123 1-107 1-129 1-21 1-17 1 118 1 217 1 250 1 241 1 163 1 55 1-58 1-56 1-199 1-183 1-83 1 31 1 114 1 62 1 28 1-148 1-27 1 104 1-144 1-130 1-105 1-129 1-39 1-8 1 76 1 153 1 158 1 166 1 96 1 57 1-34 1-45 1-112 1-112 1-39 1 10 1 58 1 51 1 14 1-84 1-17 1 53 1-69 1-82 1-61 1-73 1-23 1-4 1 48 1 99 1 123 1 112 1 89 1 21 1-27 1-35 1-114 1-107 1-41 1 10 1 60 1 41 1 19 1-82 1-21 1 59 1-74 1-79 1-70 1-63 1-18 1-8 1 101 1 189 1 220 1 217 1 132 1 63 1-61 1-47 1-178 1-175 1-51 1-3 1 118 1 52 1 28 1-132 1-31 1 97 1-122 1-117 1-104 1-107 1-29 1-3 1 80 1 139 1 168 1 167 1 108 1 49 1-45 1-45 1-141 1-161 1-42 1 13 1 69 1 69 1 13 1-111 1-19 1 71 1-95 1-110 1-71 1-94 1-42 1 6 1 139 1 234 1 279 1 252 1 199 1 75 1-76 1-65 1-241 1-226 1-82 1 31 1 118 1 87 1 31 1-163 1-34 1 104 1-146 1-165 1-126 1-135 1-55 1 5 1 155 1 284 1 343 1 310 1 233 1 77 1-69 1-71 1-256 1-258 1-87 1 27 1 138 1 95 1 27 1-180 1-36 1 103 1-159 1-158 1-163 1-151 1-49 1-19 1 74 1 118 1 145 1 127 1 104 1 30 1-43 1-35 1-134 1-137 1-30 1 2 1 82 1 46 1 11 1-99 1-9 1 61 1-86 1-83 1-83 1-74 1-28 1-1 1 114 1 189 1 245 1 224 1 144 1 60 1-41 1-53 1-159 1-157 1-60 1 20 1 84 1 70 1 9 1-116 1-17 1 74 1-105 1-100 1-101 1-103 1-22 1-10 1 98 1 146 1 183 1 179 1 125 1 51 1-62 1-47 1-188 1-176 1-57 1 11 1 107 1 55 1 28 1-131 1-29 1 87 1-115 1-116 1-109 1-107 1-34 1-2 1 101 1 152 1 200 1 180 1 137 1 45 1-66 1-54 1-205 1-216 1-63 1 21 1 107 1 75 1 25 1-141 1-34 1 92 1-124 1-143 1-126 1-112 1-60 1 3 1 101 1 174 1 236 1 197 1 151 1 51 1-56 1-72 1-190 1-209 1-68 1 25 1 112 1 69 1 21 1-146 1-24 1 99 1-137 1-134 1-118 1-128 1-25 1-33 1 76 1 117 1 137 1 115 1 91 1 37 1-35 1-34 1-110 1-120 1-34 1 15 1 69 1 24 1 24 1-80 1-26 1 56 1-60 1-75 1-73 1-64 1-27 1-14 1 79 1 159 1 170 1 163 1 121 1 48 1-57 1-39 1-152 1-150 1-43 1 5 1 89 1 51 1 23 1-115 1-22 1 78 1-103 1-92 1-86 1-93 1-35 1 0 1 104 1 197 1 227 1 213 1 150 1 58 1-54 1-54 1-206 1-192 1-55 1 10 1 113 1 64 1 21 1-132 1-24 1 94 1-135 1-126 1-117 1-114 1-36 1-11 1 114 1 176 1 220 1 210 1 139 1 59 1-58 1-51 1-173 1-189 1-55 1 24 1 99 1 66 1 19 1-130 1-26 1 86 1-121 1-112 1-100 1-112 1-34 1-3 1 91 1 165 1 216 1 198 1 129 1 34 1-32 1-54 1-162 1-172 1-58 1 26 1 85 1 67 1 16 1-114 1-29 1 81 1-112 1-101 1-106 1-99 1-29 1-4 1 89 1 152 1 183 1 179 1 124 1 40 1-50 1-61 1-197 1-192 1-63 1 22 1 97 1 76 1 28 1-147 1-31 1 91 1-119 1-129 1-115 1-114 1-41 1-8 1 94 1 154 1 205 1 175 1 127 1 46 1-35 1-43 1-142 1-157 1-61 1 35 1 82 1 39 1 21 1-97 1-29 1 68 1-88 1-109 1-78 1-102 1-25 1 3 1 107 1 175 1 217 1 207 1 148 1 51 1-64 1-50 1-198 1-198 1-63 1 17 1 104 1 76 1 23 1-128 1-38 1 86 1-118 1-139 1-101 1-133 1-30 1-4 1 97 1 174 1 215 1 202 1 137 1 44 1-46 1-53 1-153 1-163 1-54 1 15 1 88 1 49 1 26 1-116 1-27 1 86 1-103 1-115 1-95 1-97 1-36 1-2 1 62 1 109 1 133 1 125 1 94 1 32 1-22 1-51 1-101 1-122 1-51 1 27 1 69 1 23 1 26 1-86 1-15 1 49 1-75 1-70 1-74 1-59 1-31 1 11 1 113 1 218 1 255 1 231 1 183 1 62 1-65 1-53 1-188 1-190 1-74 1 36 1 100 1 63 1 30 1-143 1-27 1 94 1-132 1-112 1-118 1-116 1-51 1 16 1 76 1 141 1 198 1 164 1 126 1 52 1-56 1-42 1-163 1-152 1-63 1 32 1 77 1 47 1 25 1-113 1-21 1 75 1-119 1-90 1-95 1-92 1-33 1-7 1 113 1 191 1 229 1 215 1 151 1 59 1-67 1-62 1-225 1-211 1-70 1 21 1 120 1 81 1 22 1-167 1-23 1 98 1-132 1-136 1-134 1-139 1-32 1-14 1 55 1 121 1 138 1 127 1 93 1 36 1-42 1-33 1-132 1-131 1-35 1 10 1 75 1 35 1 18 1-96 1-17 1 59 1-81 1-77 1-85 1-68 1-41 1 12 1 112 1 211 1 232 1 228 1 176 1 53 1-57 1-56 1-201 1-194 1-48 1 10 1 111 1 58 1 43 1-149 1-33 1 98 1-133 1-116 1-122 1-112 1-33 1-5 1 98 1 171 1 221 1 205 1 124 1 75 1-73 1-70 1-214 1-227 1-72 1 29 1 113 1 83 1 28 1-172 1-18 1 95 1-147 1-143 1-131 1-129 1-39 1-16 1 107 1 195 1 232 1 207 1 163 1 48 1-39 1-39 1-163 1-142 1-49 1 25 1 75 1 48 1 25 1-119 1-2 1 55 1-83 1-97 1-90 1-97 1-23 1-1 1 114 1 201 1 236 1 226 1 157 1 58 1-45 1-63 1-191 1-174 1-63 1 23 1 100 1 60 1 30 1-139 1-17 1 75 1-109 1-129 1-111 1-97 1-47 1-4 1 57 1 124 1 138 1 131 1 86 1 48 1-50 1-34 1-122 1-126 1-47 1 14 1 65 1 53 1 23 1-98 1-18 1 59 1-89 1-86 1-65 1-65 1-38 1 6 1 76 1 137 1 172 1 163 1 111 1 39 1-51 1-58 1-146 1-182 1-57 1 11 1 97 1 55 1 34 1-131 1-27 1 83 1-109 1-114 1-109 1-85 1-52 1-3 1 63 1 96 1 126 1 111 1 93 1 21 1-21 1-35 1-100 1-95 1-37 1 17 1 46 1 41 1 15 1-75 1-14 1 50 1-72 1-60 1-62 1-49 1-21 1-5 1 78 1 129 1 157 1 148 1 105 1 42 1-35 1-49 1-137 1-147 1-40 1 4 1 83 1 52 1 24 1-112 1-15 1 62 1-88 1-93 1-91 1-89 1-15 1-11 1 59 1 113 1 134 1 112 1 103 1 26 1-30 1-36 1-104 1-129 1-33 1 16 1 50 1 49 1 16 1-82 1-25 1 59 1-73 1-69 1-71 1-75 1-21 1 12 1 100 1 181 1 213 1 228 1 157 1 40 1-54 1-56 1-210 1-196 1-64 1 24 1 104 1 68 1 35 1-160 1-16 1 81 1-125 1-128 1-123 1-116 1-42 1-13 1 131 1 206 1 265 1 238 1 166 1 73 1-67 1-47 1-201 1-200 1-71 1 22 1 116 1 63 1 25 1-136 1-36 1 87 1-127 1-118 1-119 1-115 1-42 1-7 1 101 1 190 1 230 1 204 1 150 1 62 1-60 1-58 1-184 1-201 1-66 1 14 1 114 1 68 1 25 1-144 1-27 1 98 1-130 1-127 1-102 1-132 1-31 1-13 1 89 1 150 1 180 1 168 1 118 1 48 1-50 1-57 1-182 1-191 1-52 1 8 1 107 1 63 1 18 1-126 1-25 1 80 1-118 1-111 1-126 1-101 1-27 1-16 1 59 1 116 1 133 1 121 1 98 1 28 1-35 1-35 1-147 1-126 1-54 1 16 1 83 1 46 1 16 1-103 1-23 1 70 1-98 1-84 1-75 1-82 1-31 1 3 1 106 1 186 1 232 1 213 1 162 1 56 1-54 1-55 1-196 1-192 1-62 1 19 1 95 1 80 1 21 1-138 1-23 1 77 1-116 1-130 1-102 1-128 1-40 1 6 1 70 1 132 1 155 1 158 1 97 1 37 1-46 1-45 1-182 1-176 1-64 1 26 1 98 1 51 1 25 1-130 1-20 1 77 1-111 1-103 1-114 1-108 1-31 1-8 1 140 1 225 1 288 1 256 1 188 1 70 1-74 1-83 1-252 1-247 1-81 1 26 1 130 1 96 1 22 1-171 1-43 1 116 1-166 1-156 1-149 1-148 1-61 1-5 1 120 1 208 1 249 1 238 1 163 1 77 1-65 1-43 1-170 1-166 1-57 1 14 1 95 1 65 1 16 1-123 1-25 1 80 1-108 1-114 1-90 1-117 1-20 1-4 1 71 1 139 1 168 1 158 1 118 1 43 1-43 1-40 1-136 1-149 1-47 1 24 1 77 1 49 1 24 1-106 1-20 1 63 1-86 1-85 1-96 1-88 1-9 1-16 1 51 1 109 1 120 1 106 1 81 1 31 1-53 1-42 1-137 1-138 1-45 1 9 1 83 1 40 1 20 1-95 1-25 1 62 1-88 1-84 1-87 1-85 1-30 1-3 1 87 1 145 1 179 1 180 1 125 1 35 1-52 1-56 1-173 1-184 1-54 1 10 1 95 1 74 1 32 1-142 1-23 1 80 1-116 1-118 1-119 1-91 1-37 1-9 1 111 1 163 1 219 1 204 1 139 1 45 1-53 1-53 1-165 1-164 1-62 1 21 1 82 1 79 1 4 1-120 1-21 1 82 1-108 1-108 1-99 1-119 1-28 1 0 1 126 1 231 1 258 1 248 1 173 1 74 1-62 1-54 1-189 1-183 1-68 1 22 1 112 1 49 1 20 1-122 1-35 1 98 1-124 1-133 1-105 1-119 1-31 1-12 1 88 1 137 1 173 1 170 1 123 1 41 1-35 1-45 1-126 1-121 1-50 1 21 1 58 1 48 1 13 1-82 1-15 1 63 1-94 1-74 1-88 1-70 1-28 1 8 1 83 1 148 1 180 1 183 1 114 1 50 1-49 1-36 1-136 1-140 1-49 1 21 1 68 1 58 1 12 1-94 1-24 1 69 1-94 1-91 1-75 1-78 1-35 1-8 1 67 1 123 1 132 1 138 1 90 1 41 1-41 1-39 1-108 1-118 1-43 1 13 1 65 1 42 1 22 1-93 1-9 1 48 1-64 1-95 1-72 1-63 1-17 1-3 1 80 1 153 1 190 1 163 1 125 1 45 1-48 1-55 1-173 1-180 1-55 1 10 1 103 1 59 1 23 1-129 1-15 1 69 1-109 1-111 1-104 1-107 1-36 1-6 1 113 1 188 1 233 1 223 1 141 1 67 1-63 1-59 1-202 1-206 1-71 1 29 1 115 1 62 1 40 1-159 1-26 1 92 1-122 1-137 1-119 1-124 1-46 1-2 1 111 1 186 1 239 1 230 1 152 1 49 1-60 1-59 1-201 1-194 1-71 1 27 1 109 1 68 1 27 1-150 1-27 1 96 1-139 1-123 1-129 1-118 1-29 1-17 1 109 1 160 1 215 1 204 1 146 1 42 1-46 1-62 1-157 1-174 1-60 1 21 1 92 1 60 1 18 1-116 1-30 1 87 1-116 1-103 1-106 1-105 1-37 1 10 1 87 1 164 1 186 1 195 1 124 1 53 1-49 1-60 1-170 1-186 1-59 1 17 1 108 1 48 1 26 1-116 1-42 1 84 1-101 1-122 1-97 1-112 1-37 1-9 1 83 1 133 1 168 1 149 1 109 1 42 1-57 1-51 1-173 1-178 1-47 1 14 1 104 1 51 1 25 1-134 1-17 1 82 1-116 1-113 1-108 1-98 1-32 1-6 1 71 1 160 1 174 1 172 1 110 1 50 1-63 1-44 1-184 1-181 1-60 1 29 1 95 1 60 1 32 1-144 1-22 1 83 1-107 1-124 1-108 1-111 1-28 1-11 1 94 1 187 1 213 1 199 1 148 1 46 1-69 1-46 1-199 1-202 1-62 1 22 1 111 1 65 1 26 1-147 1-23 1 87 1-114 1-139 1-111 1-120 1-37 1-10 1 119 1 201 1 254 1 227 1 160 1 60 1-47 1-56 1-177 1-180 1-60 1 14 1 101 1 57 1 24 1-118 1-32 1 87 1-110 1-119 1-110 1-118 1-28 1-3 1 104 1 190 1 221 1 213 1 158 1 49 1-72 1-40 1-174 1-181 1-51 1 14 1 94 1 72 1 20 1-132 1-24 1 84 1-119 1-119 1-103 1-110 1-35 1 3 1 94 1 178 1 205 1 203 1 140 1 42 1-38 1-40 1-165 1-157 1-49 1 15 1 81 1 61 1 19 1-112 1-26 1 75 1-98 1-105 1-103 1-77 1-33 1-13 1 89 1 128 1 190 1 162 1 113 1 34 1-57 1-58 1-194 1-201 1-50 1 11 1 102 1 79 1 20 1-148 1-26 1 97 1-136 1-121 1-120 1-107 1-41 1-4 1 104 1 223 1 244 1 220 1 168 1 74 1-68 1-56 1-194 1-172 1-69 1 13 1 104 1 72 1 21 1-131 1-38 1 95 1-129 1-119 1-104 1-116 1-41 1 0 1 126 1 234 1 284 1 262 1 194 1 67 1-69 1-63 1-205 1-216 1-67 1 22 1 107 1 83 1 27 1-161 1-26 1 98 1-130 1-144 1-125 1-125 1-43 1-7 1 114 1 208 1 264 1 235 1 178 1 69 1-75 1-73 1-224 1-213 1-90 1 39 1 123 1 75 1 21 1-159 1-33 1 119 1-155 1-146 1-138 1-129 1-52 1 9 1 175 1 306 1 353 1 349 1 252 1 80 1-70 1-76 1-246 1-257 1-87 1 27 1 142 1 79 1 32 1-175 1-39 1 127 1-174 1-157 1-156 1-153 1-48 1-21 1 93 1 148 1 175 1 171 1 119 1 45 1-54 1-64 1-189 1-195 1-66 1 28 1 108 1 64 1 26 1-134 1-42 1 95 1-134 1-111 1-120 1-113 1-37 1-11 1 107 1 181 1 216 1 217 1 138 1 53 1-64 1-48 1-176 1-174 1-55 1 11 1 105 1 65 1 14 1-131 1-18 1 80 1-116 1-117 1-101 1-110 1-28 1-15 1 102 1 142 1 188 1 174 1 129 1 34 1-58 1-60 1-213 1-214 1-72 1 27 1 117 1 66 1 31 1-165 1-17 1 93 1-142 1-129 1-132 1-124 1-42 1-17 1 101 1 155 1 194 1 170 1 121 1 51 1-68 1-57 1-220 1-206 1-69 1 13 1 124 1 70 1 30 1-158 1-26 1 105 1-144 1-139 1-127 1-124 1-52 1 7 1 118 1 215 1 266 1 246 1 165 1 63 1-60 1-54 1-213 1-209 1-71 1 20 1 117 1 68 1 25 1-134 1-43 1 104 1-139 1-134 1-118 1-125 1-48 1-4 1 95 1 181 1 201 1 212 1 131 1 64 1-72 1-68 1-209 1-222 1-79 1 20 1 120 1 79 1 27 1-151 1-33 1 94 1-134 1-144 1-125 1-139 1-38 1-16 1 108 1 207 1 242 1 231 1 158 1 66 1-71 1-79 1-208 1-227 1-71 1 12 1 130 1 81 1 30 1-175 1-28 1 104 1-141 1-151 1-136 1-131 1-34 1-4 1 131 1 229 1 293 1 267 1 185 1 73 1-71 1-84 1-241 1-245 1-82 1 24 1 141 1 84 1 39 1-185 1-31 1 106 1-157 1-162 1-144 1-147 1-46 1-7 1 122 1 211 1 259 1 235 1 173 1 70 1-73 1-86 1-257 1-256 1-93 1 37 1 144 1 79 1 31 1-190 1-22 1 116 1-165 1-175 1-150 1-150 1-55 1 0 1 155 1 275 1 334 1 312 1 220 1 80 1-83 1-75 1-256 1-250 1-90 1 24 1 142 1 93 1 31 1-193 1-31 1 119 1-169 1-167 1-155 1-159 1-54 1 0 1 151 1 255 1 307 1 305 1 198 1 83 1-83 1-76 1-273 1-264 1-90 1 39 1 135 1 102 1 29 1-199 1-33 1 122 1-172 1-173 1-156 1-168 1-54 1 0 1 148 1 253 1 316 1 289 1 205 1 75 1-84 1-76 1-262 1-269 1-96 1 23 1 158 1 94 1 26 1-190 1-40 1 124 1-166 1-177 1-160 1-166 1-55 1-1 1 147 1 279 1 314 1 306 1 218 1 85 1-77 1-66 1-245 1-227 1-78 1 25 1 125 1 83 1 29 1-165 1-41 1 117 1-158 1-150 1-145 1-135 1-41 1-4 1 150 1 267 1 339 1 310 1 215 1 88 1-70 1-67 1-219 1-227 1-78 1 24 1 129 1 61 1 42 1-161 1-28 1 105 1-153 1-128 1-146 1-129 1-50 1-6 1 131 1 221 1 258 1 261 1 176 1 66 1-73 1-69 1-225 1-224 1-75 1 32 1 113 1 86 1 31 1-167 1-29 1 100 1-148 1-149 1-129 1-133 1-47 1-1 1 129 1 219 1 293 1 262 1 182 1 69 1-61 1-51 1-196 1-207 1-56 1 18 1 107 1 76 1 19 1-142 1-31 1 95 1-119 1-141 1-103 1-127 1-38 1-6 1 106 1 189 1 242 1 218 1 150 1 57 1-66 1-64 1-217 1-218 1-73 1 17 1 118 1 73 1 43 1-165 1-30 1 103 1-138 1-157 1-129 1-124 1-42 1-9 1 118 1 196 1 237 1 223 1 165 1 56 1-58 1-58 1-249 1-223 1-74 1 16 1 138 1 78 1 29 1-178 1-27 1 119 1-164 1-141 1-139 1-131 1-58 1-1 1 113 1 217 1 242 1 237 1 168 1 63 1-65 1-62 1-216 1-216 1-74 1 33 1 115 1 71 1 33 1-163 1-28 1 99 1-142 1-141 1-127 1-126 1-44 1 0 1 123 1 209 1 260 1 238 1 185 1 66 1-80 1-72 1-247 1-259 1-86 1 34 1 142 1 81 1 34 1-176 1-44 1 119 1-166 1-154 1-152 1-149 1-42 1-25 1 173 1 264 1 321 1 310 1 208 1 82 1-92 1-89 1-295 1-296 1-98 1 30 1 161 1 106 1 40 1-217 1-43 1 141 1-192 1-187 1-194 1-163 1-72 1-7 1 146 1 264 1 312 1 296 1 209 1 74 1-89 1-75 1-293 1-292 1-95 1 43 1 151 1 98 1 39 1-199 1-53 1 145 1-203 1-180 1-168 1-176 1-55 1-4 1 158 1 282 1 348 1 316 1 227 1 83 1-81 1-80 1-265 1-270 1-84 1 28 1 142 1 89 1 46 1-191 1-52 1 129 1-177 1-169 1-158 1-156 1-52 1-18 1 157 1 277 1 337 1 308 1 221 1 78 1-64 1-91 1-260 1-244 1-87 1 26 1 145 1 81 1 39 1-188 1-37 1 120 1-166 1-160 1-160 1-144 1-60 1 3 1 168 1 286 1 356 1 329 1 233 1 80 1-60 1-59 1-198 1-195 1-73 1 22 1 110 1 70 1 27 1-153 1-17 1 87 1-136 1-121 1-120 1-124 1-40 1-7 1 116 1 222 1 256 1 250 1 173 1 58 1-48 1-61 1-168 1-176 1-54 1 16 1 99 1 57 1 30 1-137 1-32 1 99 1-131 1-105 1-110 1-96 1-50 1 14 1 117 1 209 1 276 1 251 1 164 1 66 1-69 1-71 1-233 1-250 1-77 1 37 1 124 1 82 1 24 1-163 1-43 1 117 1-149 1-157 1-139 1-155 1-37 1-4 1 124 1 218 1 282 1 258 1 166 1 69 1-61 1-68 1-225 1-202 1-92 1 31 1 117 1 78 1 14 1-143 1-38 1 121 1-156 1-146 1-121 1-130 1-54 1-11 1 114 1 211 1 240 1 239 1 149 1 70 1-82 1-65 1-243 1-252 1-69 1 16 1 141 1 86 1 32 1-187 1-27 1 115 1-153 1-170 1-145 1-142 1-51 1 8 1 87 1 174 1 214 1 204 1 139 1 57 1-68 1-65 1-232 1-222 1-76 1 15 1 131 1 77 1 38 1-171 1-37 1 107 1-144 1-145 1-137 1-137 1-41 1 3 1 94 1 210 1 254 1 225 1 179 1 47 1-68 1-77 1-240 1-248 1-84 1 24 1 138 1 84 1 38 1-191 1-26 1 117 1-159 1-155 1-150 1-144 1-57 1-5 1 135 1 249 1 287 1 276 1 187 1 82 1-60 1-73 1-196 1-192 1-80 1 21 1 112 1 83 1 17 1-143 1-29 1 100 1-147 1-118 1-125 1-123 1-39 1-5 1 111 1 189 1 232 1 227 1 138 1 64 1-63 1-63 1-202 1-207 1-66 1 11 1 110 1 76 1 34 1-164 1-19 1 102 1-133 1-144 1-130 1-115 1-41 1-8 1 110 1 188 1 224 1 220 1 145 1 64 1-81 1-70 1-239 1-242 1-81 1 17 1 145 1 73 1 33 1-171 1-41 1 132 1-170 1-157 1-144 1-149 1-43 1-8 1 126 1 240 1 287 1 258 1 191 1 71 1-84 1-73 1-261 1-267 1-87 1 27 1 150 1 76 1 40 1-190 1-35 1 135 1-187 1-161 1-165 1-150 1-63 1-2 1 127 1 218 1 277 1 269 1 180 1 62 1-78 1-85 1-259 1-261 1-94 1 26 1 143 1 90 1 33 1-191 1-33 1 120 1-169 1-172 1-160 1-166 1-56 1-2 1 200 1 315 1 406 1 369 1 260 1 105 1-98 1-101 1-338 1-323 1-99 1 30 1 180 1 110 1 49 1-250 1-35 1 147 1-200 1-222 1-195 1-202 1-46 1-27 1 159 1 290 1 334 1 319 1 235 1 83 1-86 1-78 1-279 1-273 1-85 1 31 1 141 1 97 1 43 1-206 1-43 1 144 1-183 1-187 1-166 1-156 1-56 1-15 1 130 1 249 1 302 1 258 1 200 1 72 1-58 1-72 1-199 1-204 1-68 1 22 1 110 1 65 1 41 1-154 1-25 1 84 1-122 1-126 1-130 1-119 1-40 1-9 1 107 1 184 1 199 1 216 1 150 1 45 1-59 1-40 1-191 1-188 1-56 1 13 1 110 1 60 1 22 1-138 1-22 1 89 1-121 1-112 1-131 1-99 1-37 1-1 1 149 1 268 1 327 1 308 1 208 1 81 1-90 1-91 1-295 1-299 1-92 1 40 1 151 1 99 1 51 1-227 1-37 1 141 1-195 1-192 1-178 1-179 1-53 1-7 1 163 1 326 1 368 1 351 1 244 1 88 1-84 1-109 1-308 1-339 1-91 1 26 1 183 1 105 1 50 1-240 1-42 1 149 1-211 1-202 1-193 1-187 1-70 1-7 1 171 1 317 1 387 1 352 1 250 1 99 1-86 1-108 1-292 1-303 1-109 1 48 1 161 1 114 1 28 1-220 1-35 1 141 1-199 1-196 1-190 1-172 1-61 1-7 1 187 1 313 1 387 1 354 1 268 1 87 1-91 1-73 1-285 1-295 1-83 1 24 1 154 1 103 1 41 1-223 1-27 1 126 1-177 1-189 1-161 1-169 1-58 1-12 1 143 1 251 1 302 1 292 1 196 1 82 1-90 1-86 1-279 1-258 1-110 1 46 1 137 1 102 1 35 1-197 1-46 1 131 1-174 1-180 1-173 1-167 1-54 1-5 1 129 1 227 1 280 1 261 1 192 1 71 1-53 1-49 1-155 1-165 1-47 1 12 1 92 1 42 1 26 1-113 1-14 1 74 1-113 1-100 1-98 1-87 1-33 1-14 1 76 1 137 1 155 1 142 1 112 1 33 1-45 1-33 1-130 1-127 1-53 1 27 1 71 1 39 1 25 1-108 1-10 1 56 1-82 1-85 1-80 1-69 1-31 1 0 1 110 1 225 1 263 1 255 1 166 1 62 1-70 1-82 1-222 1-243 1-84 1 29 1 128 1 80 1 35 1-177 1-34 1 111 1-150 1-157 1-154 1-138 1-46 1-12 1 136 1 233 1 284 1 264 1 188 1 76 1-68 1-85 1-224 1-231 1-77 1 17 1 132 1 86 1 27 1-172 1-41 1 114 1-152 1-147 1-146 1-146 1-44 1-10 1 139 1 234 1 289 1 275 1 182 1 74 1-81 1-70 1-263 1-268 1-85 1 22 1 145 1 87 1 38 1-185 1-45 1 130 1-171 1-175 1-157 1-164 1-61 1 1 1 116 1 223 1 256 1 248 1 173 1 54 1-46 1-50 1-160 1-179 1-46 1 20 1 89 1 53 1 22 1-126 1-10 1 75 1-118 1-111 1-86 1-103 1-26 1-5 1 113 1 196 1 246 1 216 1 166 1 59 1-61 1-51 1-181 1-193 1-72 1 30 1 100 1 68 1 24 1-140 1-9 1 80 1-124 1-123 1-120 1-117 1-28 1-4 1 101 1 178 1 232 1 204 1 143 1 53 1-29 1-51 1-122 1-144 1-44 1 29 1 59 1 47 1 21 1-104 1-23 1 69 1-78 1-84 1-81 1-80 1-36 1 2 1 86 1 145 1 185 1 170 1 125 1 43 1-52 1-43 1-175 1-155 1-50 1 10 1 99 1 45 1 26 1-127 1-10 1 75 1-103 1-104 1-104 1-91 1-39 1-1 1 75 1 165 1 163 1 169 1 119 1 45 1-64 1-42 1-179 1-173 1-58 1 17 1 94 1 69 1 20 1-124 1-32 1 87 1-114 1-121 1-102 1-107 1-33 1-9 1 88 1 159 1 178 1 177 1 123 1 42 1-44 1-46 1-170 1-163 1-43 1 10 1 92 1 59 1 23 1-120 1-21 1 74 1-105 1-99 1-105 1-86 1-33 1-10 1 116 1 202 1 254 1 236 1 157 1 65 1-55 1-52 1-192 1-171 1-76 1 32 1 88 1 75 1 14 1-144 1-12 1 91 1-135 1-109 1-108 1-123 1-17 1-14 1 89 1 155 1 198 1 166 1 127 1 51 1-46 1-42 1-169 1-154 1-59 1 15 1 92 1 65 1 16 1-128 1-16 1 69 1-86 1-114 1-95 1-88 1-37 1-11 1 96 1 173 1 197 1 186 1 145 1 42 1-52 1-41 1-173 1-157 1-61 1 19 1 93 1 59 1 23 1-124 1-22 1 71 1-99 1-109 1-104 1-92 1-33 1-11 1 95 1 155 1 186 1 182 1 130 1 47 1-36 1-37 1-101 1-105 1-31 1 19 1 60 1 30 1 12 1-72 1-22 1 56 1-73 1-67 1-49 1-67 1-29 1 4 1 93 1 164 1 189 1 176 1 122 1 50 1-53 1-57 1-190 1-174 1-66 1 16 1 96 1 65 1 34 1-141 1-21 1 85 1-124 1-118 1-111 1-109 1-36 1-12 1 101 1 180 1 225 1 206 1 137 1 57 1-58 1-48 1-184 1-182 1-71 1 30 1 104 1 58 1 15 1-129 1-26 1 87 1-119 1-119 1-105 1-125 1-28 1-16 1 86 1 117 1 163 1 145 1 96 1 33 1-39 1-39 1-119 1-133 1-36 1 14 1 66 1 46 1 12 1-81 1-31 1 68 1-93 1-81 1-66 1-81 1-29 1 8 1 106 1 187 1 224 1 214 1 158 1 49 1-57 1-52 1-174 1-181 1-66 1 18 1 101 1 66 1 27 1-144 1-17 1 75 1-104 1-121 1-108 1-121 1-33 1 2 1 96 1 144 1 196 1 186 1 129 1 37 1-50 1-55 1-178 1-174 1-59 1 15 1 101 1 61 1 19 1-117 1-39 1 86 1-109 1-118 1-113 1-103 1-24 1-9 1 92 1 165 1 214 1 201 1 136 1 53 1-52 1-56 1-165 1-192 1-57 1 24 1 99 1 62 1 17 1-129 1-24 1 75 1-96 1-122 1-106 1-115 1-29 1 0 1 108 1 199 1 236 1 235 1 164 1 59 1-55 1-63 1-190 1-184 1-63 1 13 1 110 1 62 1 33 1-141 1-18 1 85 1-131 1-127 1-106 1-109 1-44 1-13 1 86 1 136 1 175 1 166 1 113 1 38 1-52 1-32 1-129 1-136 1-44 1 18 1 71 1 46 1 13 1-101 1-17 1 70 1-90 1-81 1-78 1-85 1-29 1 1 1 87 1 161 1 195 1 188 1 135 1 32 1-55 1-71 1-218 1-214 1-84 1 30 1 123 1 77 1 32 1-159 1-38 1 107 1-142 1-147 1-127 1-136 1-38 1-7 1 108 1 211 1 238 1 232 1 166 1 67 1-67 1-67 1-218 1-229 1-65 1 26 1 116 1 73 1 37 1-171 1-30 1 108 1-149 1-131 1-136 1-133 1-45 1-11 1 127 1 216 1 251 1 242 1 170 1 65 1-75 1-69 1-249 1-238 1-81 1 18 1 143 1 79 1 30 1-174 1-38 1 120 1-165 1-146 1-147 1-153 1-55 1-6 1 161 1 259 1 320 1 308 1 198 1 82 1-74 1-61 1-216 1-219 1-76 1 21 1 125 1 60 1 42 1-155 1-35 1 97 1-139 1-140 1-130 1-132 1-42 1-10 1 106 1 198 1 224 1 227 1 161 1 54 1-68 1-47 1-214 1-217 1-60 1 31 1 108 1 72 1 13 1-134 1-29 1 95 1-128 1-124 1-138 1-126 1-37 1-8 1 124 1 221 1 279 1 236 1 182 1 64 1-50 1-54 1-177 1-184 1-62 1 27 1 92 1 67 1 19 1-128 1-29 1 79 1-109 1-113 1-108 1-113 1-30 1-14 1 84 1 141 1 180 1 165 1 115 1 36 1-28 1-40 1-99 1-119 1-40 1 20 1 56 1 43 1 8 1-82 1-19 1 60 1-70 1-78 1-70 1-67 1-23 1-6 1 84 1 135 1 167 1 153 1 102 1 43 1-34 1-66 1-144 1-166 1-60 1 22 1 85 1 53 1 24 1-109 1-29 1 79 1-95 1-114 1-99 1-93 1-32 1-9 1 118 1 195 1 242 1 218 1 169 1 50 1-60 1-46 1-197 1-179 1-71 1 18 1 112 1 70 1 16 1-137 1-28 1 88 1-126 1-127 1-109 1-104 1-49 1-4 1 108 1 182 1 234 1 217 1 149 1 64 1-67 1-51 1-193 1-180 1-60 1 21 1 108 1 58 1 23 1-139 1-22 1 85 1-120 1-114 1-115 1-109 1-32 1-6 1 75 1 149 1 183 1 183 1 111 1 44 1-28 1-44 1-135 1-121 1-48 1 22 1 70 1 38 1 22 1-96 1-17 1 65 1-95 1-76 1-77 1-76 1-29 1 4 1 78 1 161 1 181 1 184 1 125 1 45 1-49 1-36 1-154 1-138 1-54 1 21 1 74 1 58 1 19 1-113 1-14 1 60 1-86 1-99 1-80 1-82 1-44 1 15 1 154 1 287 1 351 1 312 1 225 1 82 1-77 1-68 1-246 1-250 1-77 1 18 1 137 1 87 1 38 1-189 1-27 1 107 1-153 1-162 1-150 1-146 1-50 1-17 1 92 1 124 1 183 1 166 1 123 1 37 1-39 1-41 1-126 1-140 1-36 1 6 1 77 1 44 1 17 1-104 1-19 1 68 1-82 1-99 1-66 1-84 1-29 1 2 1 86 1 174 1 201 1 199 1 130 1 55 1-74 1-76 1-245 1-247 1-78 1 33 1 129 1 95 1 22 1-178 1-40 1 131 1-182 1-148 1-141 1-157 1-49 1-13 1 76 1 165 1 176 1 171 1 125 1 39 1-43 1-28 1-134 1-131 1-41 1 24 1 62 1 47 1 9 1-87 1-27 1 75 1-92 1-77 1-89 1-76 1-14 1-6 1 113 1 202 1 232 1 215 1 154 1 61 1-66 1-63 1-208 1-202 1-76 1 20 1 125 1 57 1 28 1-147 1-37 1 111 1-135 1-137 1-125 1-138 1-33 1-11 1 72 1 125 1 164 1 151 1 102 1 34 1-44 1-58 1-162 1-166 1-59 1 11 1 103 1 50 1 26 1-121 1-22 1 74 1-108 1-108 1-102 1-93 1-35 1-3 1 88 1 160 1 195 1 179 1 137 1 43 1-61 1-60 1-178 1-191 1-63 1 31 1 97 1 69 1 22 1-140 1-17 1 78 1-117 1-121 1-115 1-105 1-33 1-13 1 112 1 190 1 236 1 218 1 155 1 57 1-47 1-46 1-155 1-165 1-33 1 21 1 73 1 60 1 19 1-114 1-22 1 71 1-99 1-97 1-96 1-89 1-24 1-6 1 90 1 141 1 185 1 160 1 133 1 33 1-36 1-44 1-162 1-164 1-55 1 26 1 78 1 61 1 21 1-117 1-30 1 80 1-103 1-94 1-103 1-95 1-38 1 12 1 127 1 227 1 271 1 250 1 189 1 56 1-69 1-71 1-251 1-247 1-83 1 15 1 139 1 94 1 31 1-193 1-23 1 113 1-164 1-160 1-150 1-149 1-52 1-5 1 91 1 175 1 218 1 190 1 147 1 59 1-58 1-64 1-186 1-179 1-56 1 14 1 96 1 67 1 31 1-144 1-21 1 85 1-120 1-121 1-107 1-106 1-41 1-5 1 106 1 207 1 231 1 226 1 152 1 61 1-43 1-74 1-176 1-182 1-59 1 18 1 102 1 57 1 23 1-133 1-27 1 91 1-126 1-116 1-113 1-111 1-32 1-15 1 87 1 156 1 171 1 171 1 136 1 47 1-67 1-65 1-202 1-198 1-63 1 17 1 111 1 73 1 24 1-150 1-19 1 93 1-128 1-141 1-116 1-120 1-34 1-8 1 97 1 188 1 212 1 212 1 147 1 50 1-45 1-47 1-134 1-153 1-37 1 16 1 86 1 34 1 17 1-93 1-24 1 67 1-87 1-101 1-87 1-83 1-26 1-6 1 103 1 195 1 219 1 208 1 166 1 39 1-54 1-34 1-173 1-152 1-58 1 21 1 93 1 57 1 2 1-100 1-26 1 67 1-99 1-104 1-86 1-102 1-29 1-4 1 66 1 132 1 170 1 152 1 103 1 37 1-28 1-47 1-122 1-118 1-36 1 6 1 66 1 37 1 28 1-100 1-8 1 53 1-76 1-81 1-80 1-64 1-31 1 4 1 85 1 155 1 179 1 184 1 114 1 38 1-65 1-55 1-224 1-225 1-85 1 35 1 120 1 77 1 27 1-157 1-35 1 102 1-146 1-135 1-142 1-137 1-39 1-4 1 148 1 220 1 283 1 273 1 194 1 68 1-71 1-42 1-202 1-208 1-63 1 33 1 99 1 68 1 33 1-153 1-26 1 103 1-141 1-138 1-119 1-106 1-40 1-14 1 88 1 167 1 189 1 170 1 134 1 42 1-49 1-60 1-174 1-181 1-58 1 24 1 92 1 67 1 20 1-136 1-24 1 83 1-114 1-119 1-115 1-102 1-38 1 10 1 116 1 206 1 270 1 247 1 165 1 73 1-69 1-53 1-191 1-188 1-80 1 36 1 104 1 56 1 36 1-151 1-23 1 92 1-123 1-128 1-121 1-110 1-47 1-1 1 120 1 216 1 258 1 245 1 171 1 64 1-72 1-66 1-238 1-249 1-85 1 35 1 136 1 77 1 28 1-179 1-27 1 117 1-162 1-161 1-141 1-150 1-41 1-18 1 95 1 187 1 209 1 190 1 129 1 63 1-35 1-44 1-118 1-118 1-44 1 2 1 83 1 42 1 6 1-89 1-21 1 69 1-83 1-83 1-71 1-80 1-25 1-3 1 111 1 191 1 224 1 211 1 153 1 59 1-50 1-52 1-172 1-182 1-58 1 11 1 103 1 58 1 21 1-114 1-29 1 80 1-116 1-108 1-115 1-106 1-33 1-13 1 50 1 63 1 98 1 90 1 50 1 20 1-26 1-26 1-107 1-109 1-23 1-6 1 57 1 42 1 8 1-71 1-9 1 40 1-67 1-61 1-60 1-65 1-31 1 13 1 107 1 233 1 255 1 248 1 177 1 58 1-62 1-73 1-227 1-228 1-88 1 31 1 128 1 71 1 34 1-173 1-37 1 116 1-153 1-143 1-149 1-140 1-37 1-18 1 104 1 183 1 217 1 195 1 161 1 51 1-58 1-55 1-179 1-198 1-63 1 16 1 113 1 68 1 15 1-129 1-29 1 89 1-124 1-119 1-117 1-104 1-53 1 7 1 148 1 252 1 299 1 285 1 204 1 62 1-70 1-61 1-246 1-236 1-83 1 33 1 117 1 92 1 22 1-163 1-40 1 118 1-163 1-146 1-139 1-143 1-50 1-16 1 100 1 178 1 208 1 197 1 155 1 42 1-64 1-43 1-191 1-196 1-62 1 24 1 103 1 57 1 29 1-132 1-21 1 86 1-130 1-120 1-114 1-122 1-33 1-5 1 102 1 179 1 230 1 209 1 153 1 47 1-43 1-57 1-191 1-201 1-60 1 33 1 100 1 60 1 27 1-142 1-18 1 93 1-133 1-125 1-100 1-111 1-45 1 5 1 117 1 235 1 264 1 263 1 181 1 63 1-61 1-61 1-226 1-205 1-86 1 33 1 119 1 70 1 28 1-159 1-19 1 98 1-147 1-141 1-128 1-136 1-37 1-15 1 84 1 155 1 185 1 168 1 123 1 43 1-51 1-65 1-200 1-186 1-67 1 22 1 102 1 81 1 9 1-138 1-23 1 89 1-131 1-123 1-119 1-119 1-34 1-11 1 88 1 165 1 200 1 176 1 124 1 58 1-59 1-56 1-187 1-179 1-64 1 11 1 108 1 69 1 18 1-132 1-32 1 102 1-129 1-125 1-100 1-114 1-43 1-6 1 78 1 132 1 171 1 151 1 97 1 50 1-49 1-42 1-153 1-146 1-49 1 12 1 86 1 60 1 15 1-119 1-18 1 75 1-89 1-101 1-102 1-85 1-30 1 12 1 94 1 167 1 209 1 186 1 143 1 42 1-55 1-57 1-199 1-193 1-63 1 24 1 105 1 75 1 26 1-148 1-30 1 83 1-120 1-119 1-119 1-112 1-45 1-1 1 139 1 244 1 292 1 280 1 207 1 62 1-68 1-82 1-252 1-260 1-76 1 27 1 140 1 81 1 36 1-182 1-39 1 112 1-163 1-163 1-143 1-154 1-51 1 1 1 123 1 262 1 289 1 288 1 193 1 68 1-57 1-52 1-198 1-203 1-61 1 20 1 104 1 84 1 13 1-149 1-28 1 96 1-121 1-135 1-122 1-106 1-39 1-9 1 103 1 187 1 218 1 198 1 142 1 47 1-59 1-67 1-218 1-220 1-61 1 32 1 107 1 77 1 27 1-159 1-27 1 109 1-139 1-145 1-129 1-134 1-35 1-4 1 100 1 177 1 215 1 200 1 138 1 48 1-62 1-71 1-220 1-223 1-73 1 21 1 123 1 89 1 16 1-163 1-26 1 100 1-140 1-148 1-129 1-140 1-43 1 0 1 106 1 187 1 234 1 221 1 162 1 54 1-72 1-69 1-226 1-224 1-79 1 26 1 128 1 78 1 29 1-164 1-40 1 105 1-148 1-141 1-137 1-141 1-42 1-4 1 148 1 269 1 303 1 311 1 213 1 65 1-69 1-87 1-255 1-258 1-83 1 33 1 141 1 82 1 36 1-185 1-34 1 119 1-172 1-170 1-157 1-149 1-60 1-5 1 132 1 252 1 283 1 270 1 207 1 57 1-69 1-75 1-235 1-244 1-73 1 27 1 125 1 82 1 42 1-188 1-31 1 112 1-147 1-165 1-141 1-145 1-43 1-4 1 147 1 256 1 302 1 300 1 206 1 70 1-72 1-65 1-254 1-248 1-92 1 32 1 143 1 85 1 30 1-184 1-29 1 110 1-152 1-168 1-153 1-130 1-61 1-14 1 99 1 177 1 213 1 198 1 143 1 51 1-47 1-37 1-131 1-125 1-45 1 8 1 82 1 35 1 29 1-113 1-13 1 70 1-87 1-78 1-89 1-85 1-23 1-3 1 40 1 96 1 109 1 104 1 68 1 17 1-28 1-28 1-136 1-134 1-39 1 22 1 65 1 52 1 7 1-86 1-18 1 59 1-82 1-93 1-75 1-68 1-27 1-12 1 70 1 109 1 132 1 112 1 94 1 32 1-35 1-35 1-132 1-116 1-42 1 18 1 66 1 39 1 17 1-86 1-21 1 56 1-69 1-96 1-70 1-69 1-30 1-2 1 108 1 186 1 226 1 209 1 159 1 51 1-69 1-62 1-209 1-217 1-69 1 19 1 126 1 73 1 27 1-162 1-41 1 107 1-140 1-134 1-135 1-123 1-41 1-6 1 164 1 277 1 323 1 297 1 222 1 82 1-80 1-83 1-278 1-270 1-99 1 38 1 140 1 102 1 40 1-205 1-34 1 125 1-171 1-186 1-167 1-167 1-52 1-22 1 111 1 167 1 210 1 194 1 141 1 43 1-43 1-45 1-180 1-153 1-53 1 13 1 97 1 54 1 17 1-111 1-25 1 70 1-111 1-98 1-98 1-104 1-21 1-1 1 143 1 258 1 309 1 275 1 197 1 75 1-93 1-72 1-313 1-308 1-90 1 35 1 157 1 105 1 37 1-218 1-46 1 143 1-193 1-193 1-186 1-174 1-68 1-12 1 145 1 267 1 300 1 291 1 203 1 86 1-72 1-71 1-233 1-217 1-82 1 28 1 116 1 85 1 39 1-172 1-33 1 101 1-145 1-142 1-131 1-142 1-45 1-15 1 113 1 209 1 242 1 215 1 156 1 63 1-61 1-68 1-195 1-187 1-75 1 22 1 111 1 63 1 27 1-154 1-16 1 97 1-130 1-134 1-124 1-113 1-39 1-1 1 139 1 238 1 295 1 264 1 195 1 71 1-71 1-78 1-251 1-257 1-81 1 24 1 136 1 85 1 44 1-188 1-30 1 107 1-154 1-175 1-143 1-158 1-43 1-15 1 88 1 159 1 193 1 177 1 126 1 48 1-52 1-52 1-204 1-181 1-82 1 22 1 116 1 58 1 31 1-151 1-17 1 91 1-127 1-131 1-111 1-132 1-26 1-14 1 133 1 218 1 264 1 248 1 170 1 60 1-58 1-58 1-215 1-204 1-61 1 9 1 124 1 67 1 24 1-151 1-29 1 90 1-134 1-138 1-120 1-126 1-49 1 8 1 130 1 239 1 286 1 269 1 193 1 66 1-63 1-77 1-230 1-247 1-79 1 31 1 132 1 79 1 29 1-164 1-34 1 101 1-148 1-149 1-138 1-151 1-41 1-13 1 156 1 263 1 344 1 301 1 229 1 78 1-78 1-71 1-260 1-238 1-79 1 12 1 151 1 82 1 32 1-178 1-40 1 113 1-149 1-165 1-149 1-143 1-50 1-11 1 137 1 232 1 285 1 274 1 191 1 75 1-61 1-65 1-200 1-196 1-69 1 25 1 114 1 61 1 30 1-140 1-39 1 96 1-132 1-123 1-129 1-115 1-42 1-3 1 75 1 127 1 169 1 153 1 102 1 41 1-44 1-55 1-143 1-166 1-51 1 8 1 87 1 64 1 18 1-120 1-19 1 75 1-107 1-108 1-87 1-89 1-37 1-1 1 112 1 193 1 237 1 223 1 161 1 59 1-62 1-70 1-221 1-228 1-73 1 24 1 120 1 80 1 24 1-164 1-20 1 93 1-137 1-144 1-136 1-129 1-52 1-16 1 94 1 135 1 173 1 163 1 116 1 43 1-42 1-52 1-151 1-155 1-49 1 19 1 84 1 49 1 18 1-98 1-24 1 73 1-104 1-99 1-96 1-90 1-38 1 7 1 110 1 193 1 230 1 217 1 159 1 58 1-59 1-67 1-198 1-199 1-70 1 19 1 103 1 70 1 39 1-150 1-20 1 94 1-131 1-143 1-116 1-115 1-44 1-5 1 118 1 199 1 267 1 230 1 165 1 59 1-47 1-71 1-194 1-203 1-62 1 11 1 99 1 78 1 33 1-140 1-39 1 92 1-119 1-140 1-107 1-122 1-47 1 2 1 106 1 202 1 254 1 231 1 160 1 64 1-67 1-65 1-202 1-228 1-67 1 28 1 114 1 76 1 29 1-151 1-31 1 99 1-145 1-136 1-128 1-126 1-49 1 9 1 91 1 166 1 217 1 193 1 137 1 54 1-33 1-50 1-142 1-153 1-51 1 21 1 77 1 53 1 10 1-99 1-20 1 67 1-97 1-93 1-85 1-88 1-31 1-2 1 101 1 173 1 205 1 192 1 143 1 53 1-53 1-48 1-170 1-159 1-55 1 7 1 97 1 62 1 13 1-114 1-20 1 70 1-97 1-113 1-102 1-99 1-27 1-2 1 112 1 194 1 256 1 216 1 164 1 54 1-70 1-90 1-260 1-273 1-86 1 38 1 137 1 89 1 34 1-190 1-33 1 116 1-169 1-181 1-163 1-153 1-54 1-8 1 128 1 209 1 259 1 246 1 180 1 55 1-59 1-72 1-230 1-232 1-78 1 27 1 126 1 76 1 32 1-165 1-38 1 114 1-156 1-150 1-130 1-143 1-56 1 0 1 117 1 206 1 247 1 233 1 171 1 51 1-56 1-67 1-222 1-223 1-79 1 20 1 133 1 75 1 26 1-159 1-34 1 112 1-152 1-130 1-145 1-133 1-52 1 9 1 111 1 212 1 262 1 234 1 175 1 63 1-67 1-75 1-226 1-226 1-87 1 34 1 115 1 81 1 36 1-165 1-34 1 109 1-154 1-149 1-151 1-117 1-53 1-11 1 128 1 230 1 290 1 254 1 203 1 55 1-72 1-67 1-214 1-227 1-69 1 18 1 126 1 69 1 35 1-171 1-26 1 105 1-155 1-143 1-123 1-147 1-42 1-6 1 155 1 276 1 315 1 312 1 209 1 74 1-70 1-56 1-205 1-206 1-60 1 12 1 117 1 75 1 25 1-151 1-31 1 91 1-124 1-133 1-132 1-129 1-35 1 2 1 113 1 192 1 238 1 228 1 148 1 52 1-40 1-55 1-186 1-181 1-71 1 31 1 91 1 64 1 23 1-124 1-33 1 86 1-123 1-117 1-107 1-118 1-38 1-4 1 127 1 200 1 255 1 231 1 162 1 70 1-109 1-81 1-287 1-298 1-101 1 33 1 168 1 96 1 46 1-222 1-51 1 147 1-191 1-202 1-172 1-179 1-54 1-19 1 148 1 244 1 302 1 278 1 205 1 77 1-76 1-84 1-267 1-279 1-80 1 38 1 135 1 90 1 44 1-205 1-26 1 118 1-173 1-177 1-161 1-156 1-61 1-5 1 120 1 210 1 273 1 241 1 168 1 64 1-55 1-64 1-219 1-209 1-74 1 30 1 108 1 84 1 20 1-160 1-22 1 104 1-140 1-136 1-146 1-111 1-45 1-12 1 138 1 236 1 290 1 278 1 197 1 72 1-73 1-76 1-236 1-237 1-68 1 22 1 130 1 80 1 34 1-182 1-34 1 107 1-142 1-156 1-144 1-141 1-44 1-15 1 135 1 208 1 267 1 232 1 183 1 62 1-72 1-61 1-228 1-218 1-85 1 39 1 120 1 69 1 31 1-163 1-26 1 97 1-141 1-149 1-119 1-141 1-42 1-6 1 149 1 244 1 316 1 276 1 206 1 84 1-66 1-44 1-198 1-176 1-69 1 21 1 109 1 64 1 14 1-132 1-32 1 92 1-134 1-109 1-119 1-104 1-36 1-11 1 86 1 141 1 158 1 169 1 119 1 33 1-42 1-53 1-165 1-161 1-56 1 20 1 91 1 55 1 23 1-116 1-33 1 86 1-112 1-96 1-103 1-77 1-46 1 3 1 108 1 209 1 263 1 236 1 164 1 64 1-83 1-89 1-268 1-294 1-87 1 46 1 144 1 92 1 26 1-194 1-30 1 116 1-177 1-180 1-173 1-160 1-58 1-13 1 160 1 275 1 342 1 306 1 239 1 81 1-84 1-71 1-252 1-248 1-82 1 31 1 131 1 80 1 43 1-195 1-32 1 128 1-170 1-153 1-154 1-145 1-52 1-4 1 103 1 202 1 238 1 231 1 149 1 49 1-58 1-71 1-225 1-234 1-75 1 28 1 124 1 77 1 27 1-166 1-34 1 103 1-148 1-144 1-132 1-146 1-47 1-13 1 116 1 185 1 254 1 220 1 167 1 58 1-58 1-57 1-184 1-164 1-81 1 18 1 101 1 64 1 29 1-136 1-28 1 96 1-127 1-117 1-106 1-119 1-25 1 0 1 117 1 218 1 251 1 259 1 172 1 55 1-72 1-60 1-246 1-217 1-92 1 34 1 127 1 68 1 40 1-168 1-35 1 101 1-143 1-148 1-144 1-133 1-49 1-6 1 137 1 258 1 301 1 284 1 201 1 90 1-64 1-51 1-195 1-185 1-61 1 22 1 105 1 68 1 12 1-132 1-26 1 86 1-124 1-126 1-103 1-116 1-26 1-15 1 74 1 128 1 146 1 152 1 103 1 38 1-39 1-40 1-133 1-134 1-45 1 13 1 82 1 36 1 19 1-101 1-10 1 61 1-95 1-80 1-86 1-75 1-24 1-1 1 82 1 152 1 189 1 161 1 130 1 49 1-74 1-59 1-201 1-207 1-73 1 18 1 125 1 59 1 35 1-159 1-23 1 94 1-136 1-138 1-116 1-137 1-26 1-14 1 108 1 199 1 232 1 234 1 150 1 52 1-66 1-65 1-242 1-235 1-73 1 14 1 139 1 82 1 26 1-169 1-33 1 108 1-150 1-158 1-140 1-145 1-37 1-13 1 115 1 204 1 259 1 228 1 159 1 58 1-60 1-63 1-214 1-201 1-67 1 12 1 119 1 75 1 30 1-164 1-19 1 100 1-145 1-123 1-131 1-129 1-37 1-2 1 138 1 259 1 298 1 281 1 211 1 61 1-72 1-79 1-263 1-269 1-83 1 25 1 141 1 90 1 48 1-207 1-26 1 119 1-171 1-172 1-154 1-165 1-54 1-2 1 130 1 230 1 282 1 269 1 189 1 67 1-68 1-75 1-237 1-239 1-71 1 24 1 121 1 81 1 33 1-174 1-30 1 108 1-152 1-158 1-151 1-130 1-51 1-6 1 161 1 267 1 316 1 310 1 222 1 72 1-58 1-82 1-220 1-226 1-84 1 27 1 128 1 79 1 39 1-166 1-41 1 102 1-140 1-153 1-129 1-138 1-52 1-14 1 98 1 170 1 218 1 193 1 135 1 59 1-66 1-63 1-206 1-211 1-67 1 27 1 122 1 56 1 26 1-149 1-26 1 95 1-137 1-126 1-126 1-120 1-45 1-1 1 124 1 226 1 257 1 245 1 196 1 44 1-79 1-83 1-290 1-282 1-96 1 24 1 163 1 96 1 41 1-209 1-35 1 129 1-182 1-194 1-165 1-176 1-59 1-9 1 145 1 232 1 311 1 261 1 215 1 63 1-80 1-72 1-246 1-255 1-92 1 37 1 127 1 84 1 32 1-179 1-32 1 119 1-179 1-157 1-148 1-150 1-54 1 11 1 151 1 299 1 360 1 315 1 244 1 79 1-87 1-95 1-321 1-305 1-104 1 43 1 159 1 114 1 36 1-221 1-48 1 144 1-192 1-211 1-181 1-197 1-58 1-8 1 147 1 296 1 350 1 318 1 233 1 78 1-77 1-103 1-283 1-295 1-97 1 30 1 152 1 109 1 45 1-221 1-41 1 134 1-185 1-194 1-190 1-163 1-60 1-7 1 111 1 222 1 249 1 247 1 175 1 69 1-78 1-77 1-258 1-255 1-85 1 25 1 142 1 89 1 28 1-189 1-26 1 107 1-159 1-171 1-157 1-138 1-61 1-10 1 126 1 230 1 273 1 270 1 180 1 59 1-35 1-54 1-159 1-161 1-55 1 21 1 91 1 55 1 14 1-116 1-20 1 75 1-103 1-95 1-101 1-98 1-23 1-6 1 128 1 222 1 288 1 262 1 190 1 66 1-65 1-66 1-237 1-221 1-76 1 34 1 125 1 75 1 14 1-162 1-18 1 98 1-146 1-141 1-136 1-142 1-44 1-7 1 128 1 223 1 265 1 255 1 170 1 72 1-87 1-82 1-281 1-287 1-94 1 33 1 149 1 91 1 46 1-206 1-35 1 136 1-195 1-184 1-164 1-174 1-53 1-18 1 168 1 286 1 340 1 344 1 219 1 84 1-83 1-87 1-292 1-277 1-95 1 19 1 161 1 100 1 37 1-206 1-37 1 133 1-188 1-182 1-166 1-179 1-59 1-4" stroke="#004073" stroke-width="6.53" fill="none" stroke-linejoin="round"/><path d="M0 -225l1-1 1 12 1 10 1 9 1-14 1-28 1-24 1-223 1-252 1-231 1-156 1-195 1-148 1 186 1 217 1 201 1 118 1 124 1 101 1 34 1 31 1 3 1 52 1 40 1 34 1 59 1 56 1 43 1-4 1-43 1-17 1-137 1-143 1-109 1-119 1-88 1-95 1 104 1 127 1 114 1 69 1 92 1 87 1 45 1 24 1 22 1 44 1 38 1 44 1 56 1 44 1 0 1-56 1-46 1-86 1-287 1-265 1-258 1-222 1-180 1-206 1 242 1 237 1 219 1 139 1 148 1 145 1 72 1 70 1 50 1 28 1-16 1 5 1-17 1 12 1 20 1-16 1 4 1-12 1-144 1-142 1-149 1-103 1-113 1-130 1 134 1 103 1 136 1 80 1 53 1 97 1 36 1 19 1 6 1-4 1-16 1 49 1 31 1 28 1 31 1-3 1 0 1 1 1-78 1-107 1-64 1-38 1-92 1-59 1 77 1 74 1 54 1 75 1 24 1 40 1-23 1 19 1-14 1 36 1 2 1 51 1 35 1 12 1-9 1-77 1-76 1-48 1-344 1-292 1-285 1-237 1-231 1-227 1 286 1 251 1 271 1 172 1 147 1 171 1 40 1 33 1 71 1 28 1 75 1 45 1 93 1 86 1 35 1-23 1 6 1-86 1-298 1-360 1-316 1-243 1-226 1-219 1 255 1 233 1 246 1 167 1 146 1 186 1 56 1 54 1 68 1 19 1 51 1 48 1 29 1 90 1 82 1-6 1-32 1-11 1-270 1-275 1-306 1-200 1-212 1-218 1 252 1 220 1 245 1 155 1 130 1 178 1 25 1 54 1 62 1 54 1 56 1 43 1 38 1 35 1 20 1-4 1-43 1-55 1-188 1-213 1-207 1-154 1-128 1-132 1 166 1 177 1 162 1 104 1 77 1 88 1 55 1 37 1 75 1 33 1 64 1 47 1 22 1 33 1 59 1-15 1-3 1-15 1-237 1-268 1-291 1-194 1-195 1-214 1 218 1 213 1 232 1 162 1 118 1 135 1 62 1 23 1 46 1 30 1 17 1 15 1 25 1 44 1 44 1-38 1-17 1-37 1-198 1-204 1-232 1-149 1-155 1-143 1 135 1 171 1 176 1 111 1 112 1 145 1 51 1 35 1 54 1 34 1 30 1 2 1 49 1 24 1 33 1-10 1-13 1-40 1-142 1-162 1-151 1-162 1-113 1-121 1 138 1 104 1 158 1 68 1 133 1 96 1 31 1 61 1 25 1 37 1 17 1 41 1 40 1 39 1 73 1 4 1-17 1 17 1-151 1-128 1-141 1-114 1-116 1-102 1 126 1 132 1 112 1 74 1 39 1 58 1 3 1 7 1 21 1 28 1 26 1 78 1 24 1 33 1 42 1-57 1-45 1-30 1-233 1-184 1-182 1-127 1-138 1-143 1 180 1 143 1 156 1 109 1 113 1 73 1 22 1 17 1-8 1 36 1 3 1 47 1 48 1 37 1 50 1-24 1-16 1-34 1-112 1-121 1-121 1-93 1-68 1-95 1 120 1 104 1 81 1 61 1 56 1 69 1 39 1 40 1 56 1 31 1 36 1 12 1 38 1 31 1 9 1-33 1-45 1-35 1-250 1-177 1-216 1-137 1-147 1-145 1 142 1 160 1 154 1 84 1 99 1 100 1 27 1 39 1 30 1 72 1 8 1 38 1 49 1 48 1 51 1 11 1-15 1-27 1-190 1-213 1-175 1-118 1-99 1-164 1 167 1 135 1 142 1 60 1 89 1 62 1 46 1 62 1 53 1 64 1 41 1 40 1 31 1 26 1 16 1-29 1-35 1-32 1-255 1-218 1-249 1-158 1-169 1-131 1 156 1 232 1 185 1 120 1 92 1 104 1 47 1 14 1 33 1 57 1 46 1 52 1 51 1 42 1 41 1-22 1-46 1-46 1-239 1-224 1-235 1-170 1-163 1-171 1 212 1 163 1 231 1 108 1 118 1 128 1 31 1 67 1 79 1 73 1 79 1 39 1 55 1 37 1-1 1-33 1-85 1-56 1-203 1-202 1-195 1-138 1-120 1-154 1 174 1 161 1 150 1 105 1 89 1 110 1 53 1 68 1 31 1 22 1 16 1 8 1 31 1 58 1 33 1-20 1-5 1-31 1-226 1-246 1-258 1-165 1-165 1-167 1 195 1 182 1 239 1 131 1 93 1 135 1 40 1 26 1 42 1 15 1 44 1 46 1 34 1 31 1 46 1-32 1 11 1-41 1-174 1-149 1-197 1-158 1-153 1-150 1 178 1 173 1 191 1 103 1 135 1 114 1 52 1 29 1 16 1 33 1 33 1-13 1 2 1 22 1-1 1-59 1-18 1-33 1-218 1-203 1-208 1-130 1-175 1-111 1 142 1 169 1 187 1 124 1 107 1 111 1 63 1 34 1 47 1 52 1 43 1 14 1 49 1 1 1 29 1-67 1-64 1-67 1-201 1-212 1-175 1-155 1-121 1-169 1 180 1 203 1 167 1 151 1 138 1 140 1 54 1 33 1 14 1 0 1 29 1 30 1 6 1 58 1 22 1-7 1-27 1-25 1-189 1-152 1-147 1-93 1-122 1-113 1 115 1 131 1 143 1 84 1 95 1 103 1 21 1 37 1-7 1 15 1 33 1-8 1 20 1 26 1-5 1-39 1-8 1-21 1-163 1-149 1-160 1-113 1-146 1-128 1 128 1 152 1 143 1 90 1 92 1 80 1 40 1 34 1 45 1 31 1 7 1 16 1 0 1 4 1 7 1-7 1-15 1 24 1-77 1-85 1-70 1-65 1-83 1-79 1 69 1 85 1 42 1 41 1 24 1 29 1 12 1 17 1 2 1-31 1 17 1-5 1 18 1 7 1 29 1 1 1 3 1 19 1-239 1-244 1-244 1-148 1-225 1-169 1 201 1 175 1 191 1 129 1 111 1 129 1 52 1 58 1 73 1 41 1 33 1 60 1 23 1 12 1 9 1-43 1-35 1-12 1-82 1-81 1-85 1-71 1-58 1-68 1 60 1 101 1 79 1 36 1 68 1 56 1 3 1 16 1-3 1 10 1 20 1-21 1 13 1 33 1-4 1-38 1-62 1-32 1-207 1-200 1-169 1-120 1-134 1-134 1 159 1 168 1 151 1 86 1 110 1 98 1 18 1 94 1 19 1 69 1 26 1 34 1 44 1 21 1 33 1-27 1-26 1-21 1-182 1-181 1-189 1-144 1-114 1-159 1 174 1 172 1 161 1 108 1 130 1 96 1 63 1 42 1 56 1 32 1 32 1 14 1-1 1 6 1-7 1-64 1-49 1-16 1-179 1-187 1-182 1-121 1-130 1-154 1 149 1 155 1 159 1 76 1 122 1 72 1 6 1 11 1 59 1 5 1 79 1 69 1 66 1 42 1 33 1 18 1-36 1 0 1-141 1-129 1-119 1-88 1-111 1-92 1 79 1 63 1 100 1 64 1 77 1 82 1 33 1-9 1 7 1-7 1-4 1 15 1-22 1 10 1-5 1-91 1-53 1-42 1-235 1-179 1-177 1-105 1-145 1-151 1 196 1 179 1 183 1 111 1 110 1 124 1 38 1 31 1 26 1 13 1-2 1 27 1-7 1 43 1 35 1-14 1-4 1-12 1-163 1-189 1-169 1-94 1-145 1-101 1 135 1 134 1 151 1 104 1 105 1 95 1 19 1 57 1 6 1 45 1 46 1 26 1 62 1 78 1 67 1 31 1 6 1 14 1-120 1-121 1-107 1-118 1-60 1-101 1 85 1 68 1 72 1 27 1 48 1 67 1-17 1-4 1 3 1-17 1 7 1-24 1-11 1-45 1-1 1-47 1-30 1-49 1-136 1-142 1-137 1-88 1-117 1-108 1 111 1 107 1 81 1 105 1 63 1 87 1 63 1 37 1 60 1 52 1 21 1 39 1 8 1 49 1 55 1-12 1-8 1 13 1-91 1-76 1-80 1-49 1-73 1-42 1 61 1 88 1 74 1 25 1 32 1 48 1 5 1-13 1-34 1-19 1 6 1-44 1-22 1 5 1 9 1 20 1 31 1 19 1-120 1-161 1-145 1-116 1-123 1-129 1 128 1 133 1 130 1 47 1 75 1 43 1 51 1 93 1 112 1 90 1 121 1 78 1 70 1 41 1 21 1-44 1-84 1-39 1-208 1-218 1-174 1-134 1-138 1-119 1 207 1 173 1 171 1 83 1 84 1 72 1 31 1 10 1 39 1 42 1 23 1 55 1 8 1 51 1-1 1-45 1-55 1-45 1-233 1-221 1-231 1-173 1-169 1-152 1 204 1 187 1 203 1 111 1 130 1 139 1 55 1 30 1 39 1 52 1 48 1 76 1 56 1 30 1 59 1-60 1-51 1-15 1-228 1-209 1-214 1-158 1-176 1-156 1 187 1 208 1 172 1 109 1 106 1 103 1 24 1 12 1 48 1 55 1 49 1 42 1 57 1 57 1 41 1-39 1-58 1-34 1-200 1-236 1-197 1-138 1-182 1-175 1 209 1 193 1 177 1 122 1 101 1 115 1 45 1 53 1 59 1 69 1 65 1 23 1 39 1 33 1 9 1-31 1-4 1-26 1-150 1-149 1-174 1-115 1-132 1-102 1 121 1 133 1 124 1 88 1 70 1 46 1 50 1 29 1 43 1 61 1 27 1 22 1 19 1 30 1 3 1-17 1-48 1-47 1-191 1-198 1-188 1-165 1-127 1-136 1 163 1 193 1 170 1 141 1 92 1 66 1 5 1-28 1-28 1-14 1 7 1 12 1 30 1 17 1 22 1-8 1 2 1-5 1-124 1-147 1-136 1-99 1-114 1-95 1 87 1 132 1 100 1 49 1 63 1 51 1-2 1 2 1 14 1-2 1 28 1 36 1-13 1-46 1-25 1-71 1-48 1-45 1-159 1-140 1-135 1-110 1-113 1-116 1 167 1 137 1 147 1 59 1 70 1 86 1 75 1 49 1 85 1 36 1 43 1 32 1 23 1 36 1 58 1-33 1-34 1-45 1-173 1-192 1-216 1-115 1-122 1-128 1 161 1 171 1 150 1 85 1 85 1 90 1 33 1 18 1 79 1 68 1 20 1-1 1 3 1-15 1-8 1 10 1-64 1-29 1-205 1-226 1-195 1-165 1-174 1-117 1 182 1 148 1 159 1 98 1 130 1 99 1 50 1 51 1 74 1 43 1 52 1 65 1 40 1 29 1 51 1-47 1-14 1-26 1-155 1-154 1-168 1-125 1-124 1-127 1 133 1 152 1 128 1 55 1 56 1 83 1 33 1 64 1 49 1 33 1 35 1 29 1 20 1 44 1 61 1 14 1-41 1 11 1-99 1-92 1-64 1-78 1-63 1-50 1 85 1 68 1 116 1 43 1 23 1 26 1-12 1-29 1-7 1-18 1 14 1 25 1 36 1 59 1 30 1-27 1-13 1-19 1-81 1-116 1-88 1-54 1-84 1-65 1 76 1 80 1 95 1 56 1 79 1 66 1 29 1-13 1 18 1-23 1-10 1-15 1-5 1 13 1 56 1 0 1-22 1-17 1-185 1-225 1-203 1-200 1-150 1-173 1 170 1 163 1 178 1 96 1 93 1 156 1 70 1 70 1 51 1 33 1 49 1 23 1 9 1 22 1 36 1-33 1-25 1-19 1-165 1-163 1-154 1-119 1-121 1-98 1 120 1 130 1 134 1 81 1 94 1 70 1 48 1 62 1 61 1 42 1 38 1 17 1 36 1 12 1 33 1-54 1-1 1-11 1-174 1-165 1-161 1-166 1-163 1-112 1 125 1 169 1 140 1 95 1 59 1 91 1 46 1 23 1 77 1 37 1 27 1 58 1 21 1 49 1 14 1-23 1-17 1-12 1-120 1-135 1-130 1-58 1-88 1-75 1 103 1 142 1 91 1 80 1 46 1 44 1 39 1 52 1 34 1 30 1 20 1-8 1-5 1-4 1-2 1-18 1-26 1 5 1-140 1-128 1-118 1-116 1-130 1-109 1 140 1 117 1 145 1 72 1 102 1 86 1 63 1 34 1 41 1 28 1 33 1 12 1-12 1 16 1 9 1-46 1-2 1-27 1-189 1-200 1-214 1-165 1-173 1-159 1 177 1 203 1 214 1 100 1 133 1 109 1 44 1 46 1 21 1 60 1 27 1 5 1 6 1-8 1 4 1-48 1-26 1 5 1-128 1-126 1-132 1-136 1-127 1-100 1 127 1 112 1 137 1 83 1 89 1 90 1 42 1 70 1 37 1 20 1 44 1 44 1 3 1 10 1 25 1-47 1-10 1-25 1-162 1-182 1-148 1-119 1-123 1-129 1 143 1 174 1 173 1 101 1 82 1 118 1 47 1 6 1 30 1 10 1 1 1 24 1-16 1 29 1 42 1-54 1-26 1-37 1-220 1-244 1-272 1-147 1-191 1-193 1 222 1 231 1 237 1 114 1 123 1 124 1 52 1 70 1 55 1 16 1 53 1 2 1 19 1 46 1 27 1-40 1-72 1-32 1-397 1-372 1-386 1-267 1-273 1-266 1 309 1 343 1 309 1 206 1 205 1 204 1 104 1 51 1 76 1 59 1 81 1 79 1 51 1 82 1 60 1-48 1-12 1-46 1-219 1-228 1-240 1-218 1-182 1-212 1 220 1 187 1 197 1 116 1 102 1 113 1 12 1 60 1 28 1 45 1 61 1 52 1 46 1 86 1 77 1 26 1-22 1 6 1-162 1-190 1-201 1-157 1-144 1-145 1 150 1 167 1 127 1 114 1 52 1 83 1 33 1 15 1 51 1 39 1 41 1 6 1 18 1 3 1-12 1-41 1-1 1-20 1-52 1-91 1-83 1-74 1-50 1-79 1 81 1 109 1 87 1 66 1 31 1 38 1-26 1 24 1 3 1 29 1 28 1 12 1 43 1 16 1-5 1-27 1-31 1-34 1-167 1-181 1-141 1-110 1-121 1-124 1 152 1 146 1 149 1 70 1 87 1 50 1 29 1 13 1 21 1 39 1 22 1 0 1 33 1 30 1 55 1-33 1-10 1-36 1-189 1-199 1-203 1-162 1-155 1-127 1 166 1 186 1 179 1 89 1 100 1 101 1-16 1 6 1-4 1 58 1 42 1 25 1 73 1 62 1 38 1-1 1-1 1 12 1-178 1-143 1-162 1-129 1-152 1-119 1 83 1 160 1 128 1 97 1 122 1 148 1 83 1 35 1 15 1 17 1-35 1-15 1 19 1 25 1 59 1 17 1-7 1-14 1-241 1-266 1-264 1-208 1-155 1-199 1 186 1 182 1 177 1 132 1 85 1 132 1 2 1 56 1 57 1 56 1 44 1 37 1 37 1 44 1 30 1-36 1-17 1 0 1-144 1-150 1-175 1-117 1-98 1-134 1 116 1 133 1 124 1 89 1 65 1 86 1 70 1 73 1 51 1 63 1 72 1 54 1 10 1 24 1-19 1-58 1-45 1-42 1-186 1-199 1-179 1-173 1-130 1-158 1 167 1 150 1 153 1 117 1 124 1 121 1 37 1 67 1 27 1 20 1 6 1 22 1 12 1 17 1 25 1-23 1 1 1-21 1-186 1-195 1-178 1-143 1-140 1-118 1 138 1 163 1 143 1 92 1 94 1 90 1 42 1 68 1 47 1 48 1 65 1 28 1 34 1 47 1 25 1-41 1-36 1-57 1-214 1-264 1-212 1-166 1-171 1-158 1 187 1 187 1 202 1 104 1 106 1 150 1 48 1 94 1 71 1 23 1 62 1 9 1 21 1 27 1 32 1-3 1-51 1-23 1-200 1-231 1-200 1-167 1-150 1-163 1 187 1 196 1 167 1 112 1 92 1 117 1 27 1 15 1 23 1 7 1 21 1 2 1 37 1 41 1 33 1-50 1-21 1-12 1-236 1-215 1-231 1-128 1-150 1-160 1 216 1 181 1 197 1 117 1 124 1 83 1 18 1 21 1 10 1 26 1 44 1 62 1 77 1 60 1 39 1-4 1-29 1-3 1-258 1-268 1-253 1-186 1-206 1-210 1 224 1 237 1 196 1 148 1 113 1 136 1 34 1 48 1 39 1 51 1 45 1 35 1 58 1 43 1 33 1-14 1-62 1-64 1-248 1-239 1-252 1-144 1-168 1-164 1 187 1 188 1 191 1 111 1 108 1 129 1 46 1 50 1 54 1 40 1 25 1 51 1 14 1 34 1 22 1 0 1-6 1-4 1-190 1-213 1-192 1-196 1-139 1-172 1 144 1 175 1 144 1 97 1 126 1 103 1 85 1 32 1 48 1 27 1 27 1 46 1 22 1 63 1 42 1-10 1-22 1-39 1-195 1-157 1-177 1-126 1-149 1-111 1 134 1 152 1 152 1 79 1 70 1 58 1 4 1 24 1 2 1 18 1 49 1 77 1 56 1 51 1 58 1-65 1-70 1-56 1-429 1-411 1-405 1-326 1-315 1-329 1 333 1 348 1 334 1 171 1 219 1 245 1 90 1 93 1 99 1 94 1 94 1 72 1 63 1 74 1 60 1-27 1-55 1-44 1-327 1-330 1-304 1-249 1-227 1-261 1 271 1 262 1 270 1 158 1 166 1 179 1 49 1 48 1 34 1 65 1 42 1 62 1 70 1 72 1 61 1-77 1-30 1-22 1-365 1-350 1-380 1-291 1-293 1-287 1 324 1 343 1 339 1 213 1 211 1 196 1 61 1 54 1 55 1 21 1 64 1 7 1 53 1 45 1 62 1 19 1-33 1-38 1-211 1-187 1-218 1-171 1-137 1-157 1 176 1 165 1 178 1 109 1 115 1 117 1 22 1 55 1 35 1 24 1 8 1 70 1 36 1 86 1 43 1-19 1-28 1-48 1-277 1-246 1-257 1-179 1-191 1-182 1 233 1 212 1 208 1 139 1 123 1 125 1 30 1 63 1 8 1 60 1 33 1 30 1 55 1 18 1 40 1-44 1-25 1-31 1-241 1-222 1-238 1-196 1-164 1-171 1 196 1 188 1 215 1 121 1 80 1 95 1 29 1 45 1 64 1 49 1 41 1 83 1 44 1 59 1 33 1-31 1-33 1-14 1-164 1-179 1-170 1-167 1-132 1-145 1 139 1 119 1 135 1 94 1 98 1 140 1 36 1 59 1 67 1 32 1 19 1 53 1 14 1 64 1 13 1 2 1-12 1-30 1-68 1-45 1-65 1-66 1-34 1-56 1 50 1 30 1 37 1 40 1 8 1 38 1 16 1 13 1 11 1 43 1-11 1 28 1 7 1 14 1 38 1-24 1-41 1-34 1-263 1-236 1-227 1-165 1-196 1-167 1 184 1 220 1 166 1 120 1 113 1 101 1 25 1 55 1 28 1 42 1 16 1 44 1 27 1 34 1 48 1-16 1-25 1 31 1-148 1-170 1-155 1-114 1-159 1-153 1 188 1 138 1 164 1 61 1 81 1 77 1 4 1 34 1 11 1 39 1 53 1 27 1 84 1 54 1 42 1-57 1-42 1-61 1-248 1-237 1-232 1-178 1-166 1-205 1 197 1 208 1 209 1 144 1 135 1 116 1 61 1 52 1 67 1 46 1 47 1 5 1 23 1-20 1 35 1-53 1-39 1-39 1-239 1-228 1-198 1-151 1-151 1-167 1 183 1 231 1 201 1 131 1 110 1 114 1 12 1-6 1 11 1 14 1 34 1 7 1 46 1-1 1 32 1-8 1-7 1-1 1-102 1-71 1-85 1-60 1-66 1-81 1 105 1 95 1 76 1 67 1 47 1 59 1 1 1 43 1 0 1 5 1 43 1-14 1 35 1 27 1 41 1 15 1-4 1-24 1-171 1-188 1-226 1-144 1-178 1-156 1 166 1 148 1 174 1 110 1 109 1 111 1 44 1 44 1 19 1 57 1 25 1 12 1 31 1 0 1 8 1-49 1-66 1-59 1-339 1-320 1-328 1-244 1-273 1-271 1 287 1 292 1 271 1 206 1 183 1 207 1 97 1 74 1 94 1 73 1 59 1 33 1 35 1 33 1 43 1-53 1-20 1-9 1-227 1-242 1-226 1-194 1-183 1-164 1 169 1 193 1 197 1 97 1 110 1 86 1 32 1-1 1 23 1 26 1 20 1 57 1 72 1 63 1 35 1-6 1-42 1-47 1-222 1-195 1-169 1-133 1-136 1-133 1 170 1 184 1 167 1 102 1 87 1 74 1 49 1 38 1 50 1 50 1 32 1 39 1 37 1 62 1 61 1-19 1-19 1-18 1-159 1-148 1-143 1-109 1-117 1-130 1 129 1 156 1 115 1 95 1 76 1 60 1-14 1-2 1-6 1 13 1 45 1 4 1 2 1 18 1 15 1-49 1-47 1-31 1-226 1-203 1-194 1-157 1-126 1-162 1 190 1 157 1 207 1 92 1 99 1 101 1 44 1 34 1 16 1 59 1 48 1 38 1 47 1 39 1 42 1-19 1-4 1-47 1-145 1-120 1-123 1-95 1-65 1-98 1 109 1 111 1 113 1 81 1 58 1 28 1 18 1-3 1 34 1 45 1 51 1 47 1 35 1 34 1 26 1-35 1-19 1-12 1-198 1-221 1-235 1-171 1-189 1-182 1 203 1 192 1 205 1 136 1 106 1 119 1 11 1 34 1 19 1 21 1 51 1 24 1 29 1 48 1 67 1-45 1-26 1-9 1-221 1-206 1-177 1-177 1-155 1-147 1 193 1 192 1 185 1 156 1 110 1 131 1 7 1 11 1 27 1 10 1-3 1 33 1 37 1 37 1 62 1-15 1 1 1-11 1-136 1-152 1-135 1-120 1-130 1-84 1 84 1 94 1 108 1 62 1 73 1 74 1 35 1 42 1 49 1 9 1 42 1 55 1 48 1 46 1 82 1-52 1-38 1-51 1-217 1-259 1-225 1-141 1-172 1-155 1 217 1 187 1 211 1 140 1 105 1 117 1 27 1 30 1 36 1 31 1 4 1 22 1 44 1 8 1 30 1-43 1-40 1-13 1-276 1-220 1-266 1-181 1-228 1-199 1 253 1 214 1 228 1 152 1 134 1 149 1 52 1 78 1 30 1 63 1 35 1 46 1 52 1 44 1 67 1-54 1-80 1-52 1-383 1-389 1-393 1-273 1-277 1-292 1 331 1 314 1 345 1 191 1 202 1 190 1 82 1 83 1 85 1 54 1 97 1 78 1 84 1 57 1 0 1 0 1 0 1 0 1-198 1-182 1-183 1-153 1-150 1-121 1 177 1 145 1 171 1 104 1 82 1 96 1 11 1 18 1 35 1 30 1 12 1 11 1 61 1 4 1 26 1-89 1-65 1-81 1-403 1-408 1-391 1-320 1-286 1-303 1 360 1 356 1 369 1 217 1 227 1 181 1 72 1 57 1 44 1 54 1 49 1 84 1 71 1 85 1 90 1-44 1-25 1-51 1-192 1-232 1-204 1-132 1-175 1-150 1 180 1 191 1 200 1 79 1 61 1 91 1 8 1 1 1 15 1 26 1 47 1 59 1 42 1 55 1 60 1-12 1-2 1-21 1-102 1-136 1-141 1-71 1-85 1-85 1 111 1 104 1 96 1 66 1 55 1 90 1 26 1 33 1 18 1 37 1 19 1 16 1 8 1 22 1 12 1-48 1-46 1-24 1-241 1-218 1-216 1-185 1-174 1-188 1 179 1 195 1 183 1 162 1 116 1 139 1 67 1 22 1 36 1 20 1 24 1 13 1 60 1 41 1 14 1-23 1-28 1-11 1-166 1-143 1-147 1-85 1-108 1-64 1 86 1 102 1 122 1 66 1 99 1 82 1 31 1 34 1 37 1-20 1-6 1-2 1-17 1 43 1 12 1-5 1-11 1-35 1-74 1-107 1-75 1-75 1-65 1-82 1 98 1 78 1 102 1 55 1 36 1 18 1-8 1 9 1-23 1 47 1-9 1 20 1 19 1 3 1 3 1-27 1-19 1-25 1-151 1-145 1-126 1-136 1-107 1-121 1 156 1 127 1 155 1 77 1 90 1 102 1 30 1 31 1 32 1-2 1 11 1 24 1 31 1 16 1 47 1 0 1-20 1-15 1-181 1-212 1-202 1-166 1-144 1-147 1 171 1 179 1 162 1 121 1 84 1 116 1 7 1 19 1 25 1-13 1-7 1-1 1-4 1 4 1-8 1-51 1-3 1-42 1-160 1-155 1-184 1-134 1-117 1-133 1 155 1 147 1 171 1 106 1 97 1 86 1 39 1 34 1 38 1 50 1 64 1 56 1 39 1 22 1 43 1-23 1-33 1-35 1-164 1-225 1-156 1-171 1-133 1-177 1 177 1 153 1 180 1 60 1 59 1 107 1-12 1 33 1 21 1-8 1 43 1 15 1 45 1 59 1 26 1 43 1-28 1-24 1-77 1-111 1-87 1-62 1-60 1-99 1 111 1 88 1 124 1 38 1 49 1 37 1 31 1 22 1 68 1 53 1 62 1 36 1 104 1 52 1 15 1-26 1-44 1-75 1-161 1-165 1-110 1-94 1-70 1-116 1 120 1 123 1 150 1 81 1 56 1 57 1-17 1 0 1 43 1-10 1 25 1 32 1 18 1 13 1 11 1-18 1-9 1-42 1-92 1-115 1-87 1-35 1-52 1-69 1 72 1 90 1 74 1 4 1 54 1 37 1 8 1 34 1 31 1 17 1 11 1 31 1 28 1 20 1 31 1-27 1 2 1-28 1-177 1-168 1-184 1-127 1-140 1-117 1 129 1 146 1 155 1 114 1 99 1 89 1 22 1 36 1 20 1 10 1 25 1 35 1 43 1 21 1 20 1-20 1-29 1-13 1-97 1-106 1-93 1-75 1-85 1-109 1 117 1 103 1 110 1 74 1 27 1 89 1 22 1 28 1 29 1-3 1 12 1 29 1 16 1 21 1 29 1-49 1-28 1-56 1-220 1-207 1-182 1-155 1-123 1-137 1 144 1 119 1 118 1 78 1 100 1 68 1 51 1 51 1 32 1 67 1 50 1 48 1 59 1 67 1 66 1-27 1-23 1-11 1-172 1-171 1-142 1-107 1-115 1-105 1 125 1 120 1 124 1 67 1 61 1 72 1 45 1 38 1 59 1 67 1 48 1 53 1 26 1-14 1-19 1-63 1-59 1-72 1-244 1-205 1-207 1-154 1-135 1-181 1 211 1 183 1 193 1 127 1 107 1 87 1 5 1 10 1-8 1-3 1 10 1-14 1 15 1 2 1 13 1-29 1-40 1-50 1-155 1-163 1-156 1-113 1-126 1-134 1 161 1 148 1 142 1 103 1 109 1 121 1 85 1 92 1 44 1 39 1 61 1 30 1 57 1 39 1 25 1-29 1-25 1-48 1-391 1-391 1-382 1-308 1-301 1-291 1 352 1 333 1 319 1 181 1 187 1 161 1 57 1 104 1 90 1 104 1 85 1 90 1 66 1 72 1 70 1-82 1-59 1-56 1-350 1-357 1-350 1-231 1-260 1-232 1 309 1 324 1 301 1 208 1 170 1 163 1 43 1 53 1 87 1 50 1 70 1 57 1 32 1 37 1 18 1-107 1-61 1-3 1-115 1-84 1-84 1-51 1-71 1-89 1 103 1 108 1 93 1 45 1 44 1 26 1 6 1 30 1-7 1 21 1 37 1 40 1 35 1 27 1 6 1-16 1-25 1-19 1-131 1-126 1-129 1-87 1-86 1-108 1 107 1 101 1 121 1 65 1 59 1 40 1-14 1 6 1-20 1-18 1 2 1 6 1-8 1 42 1 53 1 10 1 2 1 5 1-148 1-201 1-160 1-131 1-154 1-115 1 136 1 117 1 134 1 94 1 55 1 139 1 56 1 41 1 11 1 22 1 35 1 27 1 19 1 61 1 88 1 7 1 24 1 22 1-57 1-73 1-53 1-54 1-78 1-67 1 48 1 61 1 90 1 51 1 18 1 42 1 20 1-4 1-2 1-15 1-7 1 32 1-12 1-9 1 18 1 3 1-10 1-3 1-85 1-91 1-91 1-70 1-85 1-71 1 77 1 101 1 97 1 17 1 42 1 12 1-3 1 11 1 13 1 3 1 57 1 31 1 52 1 73 1 51 1-16 1-30 1-43 1-166 1-173 1-150 1-112 1-102 1-91 1 134 1 165 1 150 1 83 1 123 1 74 1 43 1 47 1 40 1 49 1 42 1 23 1 22 1 16 1 9 1-37 1-47 1-29 1-143 1-132 1-128 1-88 1-95 1-99 1 100 1 109 1 111 1 45 1 55 1 50 1-29 1-28 1-24 1-2 1-6 1 42 1 29 1 25 1 31 1-32 1-25 1-11 1-192 1-171 1-224 1-113 1-146 1-144 1 202 1 188 1 200 1 133 1 97 1 94 1 26 1 6 1 13 1 4 1 24 1 25 1 29 1 17 1 10 1-22 1-9 1-29 1-155 1-171 1-165 1-123 1-138 1-134 1 133 1 119 1 140 1 77 1 56 1 79 1 40 1 13 1 62 1 62 1 67 1 58 1 31 1 22 1 21 1-73 1-47 1-22 1-194 1-158 1-180 1-101 1-148 1-104 1 129 1 145 1 146 1 123 1 109 1 96 1-5 1-7 1-31 1-50 1-10 1 0 1-6 1 34 1 43 1 19 1 29 1-20 1-148 1-167 1-156 1-84 1-116 1-102 1 131 1 145 1 124 1 97 1 30 1 50 1 14 1 19 1 62 1 39 1 27 1 16 1 17 1 34 1 20 1-14 1 4 1-31 1-105 1-110 1-93 1-101 1-91 1-105 1 128 1 83 1 105 1 39 1 60 1 32 1 27 1 41 1 28 1 41 1 58 1 75 1 57 1 49 1 44 1-10 1-8 1-19 1-148 1-111 1-141 1-73 1-123 1-88 1 95 1 131 1 120 1 86 1 59 1 79 1-7 1 24 1-6 1 20 1 27 1 12 1-5 1-3 1 19 1-8 1-28 1-33 1-178 1-192 1-193 1-154 1-151 1-168 1 220 1 186 1 186 1 118 1 88 1 94 1-26 1 19 1 14 1 11 1 42 1 8 1 29 1 45 1 62 1-16 1 6 1-11 1-138 1-124 1-159 1-72 1-86 1-78 1 100 1 139 1 117 1 41 1 41 1 52 1-9 1 29 1 70 1 55 1 68 1 40 1 10 1-2 1 28 1-46 1-42 1-1 1-137 1-116 1-153 1-96 1-91 1-95 1 114 1 130 1 119 1 57 1 63 1 68 1 30 1 20 1 37 1 69 1 25 1 29 1 52 1 24 1 13 1-40 1 8 1-21 1-102 1-130 1-105 1-136 1-99 1-113 1 95 1 73 1 129 1 37 1 71 1 106 1 11 1 13 1 5 1-2 1-21 1 31 1 11 1-18 1 34 1 1 1-35 1-15 1-173 1-186 1-190 1-139 1-128 1-150 1 172 1 136 1 141 1 70 1 86 1 57 1 57 1 50 1 66 1 40 1 56 1 39 1 81 1 82 1 90 1-7 1-1 1-1 1-240 1-291 1-252 1-228 1-196 1-203 1 176 1 212 1 212 1 145 1 150 1 162 1 43 1 50 1 12 1 3 1 3 1-39 1-4 1 35 1 27 1 7 1-26 1 11 1-159 1-124 1-131 1-113 1-115 1-140 1 152 1 114 1 131 1 80 1 66 1 77 1 21 1 54 1 39 1 62 1 66 1 41 1 46 1 13 1 34 1-72 1-61 1-42 1-342 1-329 1-338 1-265 1-270 1-264 1 277 1 313 1 280 1 200 1 200 1 192 1 88 1 55 1 32 1 42 1 65 1 69 1 80 1 119 1 89 1 8 1-20 1-55 1-185 1-223 1-201 1-155 1-131 1-150 1 151 1 160 1 158 1 84 1 86 1 89 1 11 1 59 1 44 1 67 1 37 1 47 1 33 1 16 1 35 1-12 1-63 1 7 1-82 1-65 1-71 1-34 1-58 1-41 1 55 1 43 1 33 1 46 1 33 1 48 1 32 1 3 1 15 1-19 1-33 1-17 1 19 1 1 1 13 1-24 1-50 1-21 1-185 1-197 1-193 1-137 1-121 1-158 1 182 1 190 1 133 1 97 1 82 1 73 1 36 1 94 1 59 1 89 1 67 1 58 1 24 1-25 1 25 1-62 1-59 1-33 1-205 1-193 1-203 1-131 1-152 1-132 1 168 1 198 1 195 1 107 1 89 1 68 1 35 1-8 1 29 1 22 1 35 1 86 1 58 1 47 1 81 1-11 1-19 1-53 1-168 1-204 1-199 1-164 1-127 1-143 1 163 1 169 1 168 1 101 1 103 1 122 1 29 1 43 1 46 1 43 1 13 1-33 1 13 1 16 1 35 1 21 1 1 1 21 1-152 1-170 1-211 1-136 1-158 1-167 1 158 1 136 1 172 1 113 1 89 1 109 1 34 1 53 1 56 1 61 1 55 1 38 1 33 1 26 1 0 1-39 1-61 1-19 1-251 1-232 1-285 1-161 1-207 1-190 1 197 1 202 1 191 1 129 1 113 1 141 1 74 1 36 1 40 1 38 1-20 1 15 1 3 1 34 1 36 1-22 1-19 1-18 1-226 1-251 1-236 1-161 1-151 1-171 1 182 1 241 1 189 1 115 1 106 1 106 1 21 1 14 1 19 1 44 1 46 1 71 1 39 1 58 1 64 1-37 1-32 1-54 1-187 1-209 1-163 1-89 1-138 1-124 1 152 1 143 1 160 1 77 1 91 1 52 1 34 1 10 1-7 1 32 1 27 1 42 1 53 1 58 1 56 1 3 1-20 1-12 1-165 1-155 1-157 1-101 1-126 1-131 1 121 1 119 1 85 1 53 1 56 1 65 1-1 1 23 1 21 1 13 1 37 1 19 1 46 1 34 1 60 1-17 1-10 1-12 1-204 1-160 1-183 1-114 1-140 1-161 1 153 1 163 1 140 1 100 1 65 1 97 1 60 1 66 1 66 1 62 1 57 1 61 1 45 1 54 1 84 1-31 1-23 1-20 1-182 1-171 1-163 1-120 1-140 1-122 1 148 1 133 1 138 1 88 1 75 1 87 1 31 1 56 1 48 1 39 1 34 1 41 1 13 1 8 1 18 1-61 1-25 1-49 1-177 1-195 1-217 1-131 1-150 1-170 1 171 1 135 1 137 1 95 1 87 1 98 1 45 1 74 1 62 1 48 1 49 1 41 1 62 1 35 1 44 1-48 1-23 1-45 1-130 1-112 1-98 1-101 1-92 1-70 1 93 1 103 1 103 1 47 1 36 1 90 1-3 1 42 1 16 1 20 1 28 1 29 1 33 1 1 1 64 1 13 1 13 1-26 1-92 1-97 1-120 1-106 1-90 1-97 1 91 1 65 1 84 1 61 1 37 1 44 1 24 1 25 1 1 1 66 1 49 1 29 1 45 1 24 1 31 1-20 1 2 1-30 1-123 1-153 1-141 1-115 1-118 1-101 1 110 1 78 1 68 1 74 1 60 1 86 1 50 1 63 1 27 1 33 1 34 1 23 1 16 1 28 1 15 1-50 1-6 1-28 1-233 1-245 1-241 1-171 1-222 1-185 1 203 1 185 1 212 1 97 1 110 1 123 1 49 1 69 1 64 1 50 1 36 1 51 1 33 1 19 1-1 1-29 1-71 1-68 1-251 1-216 1-215 1-148 1-122 1-158 1 198 1 152 1 195 1 116 1 94 1 81 1 49 1 33 1 39 1 35 1 52 1 70 1 56 1 87 1 36 1-12 1-22 1 7 1-113 1-114 1-81 1-56 1-92 1-75 1 83 1 63 1 84 1 26 1 81 1 33 1 10 1 34 1-11 1 25 1-31 1 14 1 4 1 42 1 21 1 1 1 15 1 3 1-172 1-152 1-225 1-138 1-155 1-165 1 156 1 177 1 167 1 104 1 66 1 76 1 23 1-4 1 15 1 18 1 46 1 64 1 60 1 67 1 38 1-27 1-42 1-25 1-271 1-270 1-275 1-241 1-187 1-201 1 249 1 215 1 265 1 133 1 136 1 135 1 4 1 3 1 52 1 44 1 41 1 71 1 64 1 74 1 54 1-41 1-19 1-60 1-209 1-212 1-208 1-155 1-185 1-159 1 153 1 176 1 170 1 90 1 98 1 124 1 64 1 25 1 80 1 50 1 40 1 17 1-22 1 10 1 8 1-59 1 12 1-45 1-204 1-190 1-212 1-162 1-153 1-143 1 196 1 177 1 196 1 139 1 118 1 126 1 59 1 57 1 32 1 20 1 4 1 2 1 36 1-7 1 42 1-24 1-29 1 3 1-62 1-114 1-54 1-73 1-62 1-74 1 103 1 76 1 96 1 68 1 42 1 47 1-13 1 1 1-7 1 5 1-9 1-31 1-8 1 3 1-18 1-22 1-14 1-12 1-195 1-196 1-189 1-163 1-177 1-149 1 140 1 196 1 162 1 93 1 90 1 102 1 44 1 38 1 28 1 80 1 91 1 55 1 63 1 52 1 50 1-46 1 4 1-31 1-178 1-177 1-157 1-147 1-112 1-107 1 140 1 122 1 141 1 123 1 78 1 81 1 4 1-17 1-1 1 20 1-22 1 45 1 35 1 27 1 26 1-25 1-4 1-22 1-109 1-60 1-79 1-67 1-47 1-72 1 103 1 45 1 104 1 42 1 43 1 21 1-22 1 22 1 8 1 20 1 49 1 13 1-10 1-10 1-34 1-11 1-10 1-11 1-75 1-39 1-78 1-66 1-30 1-25 1 33 1 48 1 71 1 55 1 55 1 69 1-14 1-55 1-14 1-29 1 0 1-27 1-16 1-10 1-14 1-35 1-20 1-8 1-150 1-161 1-186 1-165 1-115 1-157 1 135 1 183 1 137 1 69 1 109 1 89 1 74 1 59 1 90 1 65 1 80 1 56 1 91 1 70 1 53 1-15 1-13 1-12 1-154 1-125 1-131 1-87 1-132 1-68 1 95 1 119 1 113 1 51 1 89 1 17 1 33 1 36 1-11 1 67 1 53 1 59 1 36 1 73 1 48 1-32 1-21 1-62 1-172 1-168 1-166 1-126 1-135 1-162 1 177 1 166 1 158 1 70 1 121 1 93 1 13 1 19 1 16 1-9 1 2 1 7 1-7 1 8 1-4 1-25 1-22 1 12 1-44 1-75 1-33 1-78 1-57 1-38 1 59 1 33 1 76 1 16 1 19 1 8 1-1 1-8 1 9 1 14 1 54 1 2 1 16 1-3 1 3 1-4 1-15 1-14 1-161 1-166 1-165 1-97 1-124 1-127 1 144 1 142 1 132 1 89 1 75 1 71 1 39 1 65 1 49 1 44 1 62 1 57 1 66 1 30 1 44 1-59 1-36 1-51 1-152 1-164 1-159 1-129 1-128 1-112 1 120 1 127 1 167 1 91 1 72 1 86 1 28 1 37 1 19 1 18 1 18 1 20 1 38 1 28 1 30 1-28 1-8 1-26 1-167 1-113 1-167 1-102 1-85 1-105 1 120 1 114 1 111 1 82 1 40 1 80 1 34 1 47 1 22 1 43 1 36 1 14 1 2 1 29 1-5 1-22 1-33 1-57 1-199 1-207 1-214 1-128 1-98 1-154 1 175 1 202 1 151 1 80 1 69 1 94 1 26 1 53 1 36 1 73 1 52 1 63 1 67 1 81 1 56 1 12 1-32 1-23 1-198 1-174 1-211 1-150 1-165 1-154 1 159 1 139 1 139 1 116 1 83 1 76 1 24 1 24 1 24 1 25 1 51 1 54 1 33 1 64 1 61 1-14 1-16 1 14 1-164 1-192 1-182 1-153 1-157 1-139 1 147 1 153 1 138 1 89 1 92 1 67 1 48 1 14 1 23 1 33 1 22 1 33 1-8 1 16 1 23 1-19 1-56 1-35 1-141 1-143 1-95 1-100 1-69 1-98 1 144 1 131 1 121 1 79 1 73 1 51 1 25 1 16 1 8 1 41 1 51 1 61 1 49 1 20 1 36 1-18 1 13 1-27 1-81 1-111 1-88 1-81 1-101 1-77 1 74 1 87 1 76 1 28 1 21 1 47 1 22 1 43 1 20 1 40 1 22 1 3 1 10 1-2 1 3 1-37 1-23 1-22 1-151 1-141 1-158 1-120 1-105 1-134 1 155 1 152 1 194 1 78 1 88 1 92 1 9 1 1 1 31 1 27 1 21 1 26 1 15 1-36 1-43 1-44 1-65 1-34 1-184 1-155 1-135 1-106 1-92 1-108 1 149 1 144 1 141 1 63 1 90 1 66 1 13 1 10 1 26 1 8 1 18 1 18 1 5 1 26 1 14 1-38 1-33 1-48 1-160 1-154 1-165 1-95 1-128 1-106 1 116 1 159 1 140 1 79 1 98 1 44 1 66 1-1 1 30 1 13 1 39 1 40 1 29 1 37 1 38 1 13 1-21 1 14 1-162 1-142 1-160 1-147 1-123 1-149 1 132 1 153 1 138 1 103 1 76 1 113 1 31 1-18 1 0 1 18 1-29 1-5 1 16 1-9 1-3 1-1 1-48 1-45 1-132 1-96 1-94 1-83 1-114 1-78 1 116 1 125 1 111 1 35 1 71 1 26 1-18 1-23 1-26 1 0 1-14 1-19 1 10 1 21 1-14 1 16 1-29 1-20 1-98 1-80 1-95 1-101 1-69 1-83 1 100 1 106 1 123 1 57 1 51 1 24 1 36 1 42 1 38 1 30 1 37 1 18 1 63 1 35 1 47 1 42 1 1 1 28 1-134 1-139 1-139 1-94 1-64 1-102 1 106 1 112 1 104 1 57 1 66 1 31 1 17 1 12 1-4 1 48 1 41 1 73 1 71 1 40 1 80 1 30 1 0 1 8 1-78 1-70 1-91 1-66 1-89 1-94 1 69 1 82 1 48 1 35 1 49 1 101 1 34 1 35 1 35 1 14 1 23 1 9 1 27 1 55 1 41 1 17 1-26 1-26 1-158 1-180 1-157 1-107 1-91 1-149 1 126 1 119 1 104 1 93 1 43 1 66 1 2 1 6 1 34 1-3 1 10 1-9 1 6 1-22 1-21 1-44 1-24 1-19 1-142 1-132 1-134 1-84 1-120 1-116 1 137 1 148 1 170 1 82 1 112 1 86 1 5 1 1 1 10 1 12 1 26 1 30 1 38 1 37 1 9 1-18 1-29 1-8 1-95 1-83 1-134 1-32 1-111 1-111 1 93 1 77 1 77 1 38 1 76 1 62 1 41 1 53 1 64 1 29 1 65 1 9 1 22 1 23 1 64 1-30 1-9 1-22 1-176 1-154 1-195 1-132 1-143 1-102 1 124 1 178 1 151 1 102 1 94 1 103 1 26 1 39 1 33 1 57 1 9 1-14 1-18 1-14 1 9 1-76 1 7 1 17 1-116 1-119 1-152 1-108 1-119 1-137 1 153 1 138 1 142 1 76 1 71 1 84 1 19 1 29 1 17 1 29 1 6 1 34 1 11 1 13 1 10 1-37 1-29 1-45 1-141 1-147 1-148 1-109 1-101 1-113 1 134 1 152 1 115 1 72 1 85 1 67 1 14 1 9 1 13 1 32 1 57 1 14 1 28 1 84 1 41 1-17 1-27 1-43 1-154 1-148 1-154 1-103 1-103 1-126 1 132 1 131 1 103 1 65 1 60 1 67 1 42 1 87 1 58 1 36 1 87 1 25 1 28 1 28 1 13 1-26 1-15 1 3 1-83 1-85 1-94 1-94 1-37 1-109 1 114 1 74 1 112 1 64 1 32 1 60 1 26 1-4 1 23 1 38 1 29 1 45 1 27 1 3 1-28 1-41 1-46 1-36 1-162 1-122 1-149 1-105 1-123 1-108 1 130 1 112 1 145 1 83 1 88 1 65 1 34 1 26 1 29 1 9 1 39 1 40 1 4 1 4 1 26 1-45 1-5 1 9 1-89 1-43 1-64 1-77 1-83 1-76 1 87 1 94 1 61 1 64 1 60 1 31 1-4 1 22 1-11 1 18 1 36 1 23 1 23 1 28 1 9 1-16 1-17 1-2 1-104 1-102 1-125 1-76 1-71 1-102 1 85 1 63 1 63 1 46 1 66 1 37 1 39 1 31 1 4 1 20 1 44 1 28 1 37 1 22 1 50 1-7 1 17 1-27 1-188 1-187 1-210 1-143 1-162 1-139 1 127 1 131 1 157 1 83 1 111 1 70 1 67 1 10 1 48 1 23 1 38 1 62 1 52 1 77 1 0 1 0 1-30 1-37 1-176 1-180 1-157 1-136 1-105 1-130 1 119 1 129 1 130 1 76 1 77 1 64 1 12 1 31 1 34 1 26 1 23 1 43 1 25 1 47 1 32 1-23 1 4 1-30 1-160 1-157 1-143 1-123 1-102 1-110 1 115 1 102 1 138 1 58 1 98 1 89 1 25 1 49 1 32 1 24 1 18 1-12 1 22 1 21 1-12 1-46 1-49 1-37 1-144 1-142 1-132 1-103 1-113 1-98 1 125 1 113 1 159 1 69 1 111 1 76 1 61 1 50 1 58 1 49 1 14 1 48 1 19 1 25 1 34 1-29 1-24 1-54 1-239 1-275 1-270 1-168 1-193 1-152 1 180 1 214 1 195 1 123 1 119 1 153 1 31 1 57 1 52 1 54 1 61 1 33 1 22 1 2 1 25 1 2 1-36 1 14 1-174 1-208 1-227 1-186 1-170 1-144 1 166 1 142 1 168 1 101 1 114 1 118 1 25 1 12 1 36 1-4 1 42 1 31 1 23 1 57 1 63 1-13 1 14 1-29 1-152 1-186 1-183 1-137 1-139 1-106 1 126 1 121 1 127 1 64 1 95 1 117 1 32 1 30 1 23 1 67 1 18 1 37 1 31 1 62 1-1 1-18 1-36 1-2 1-155 1-128 1-137 1-76 1-77 1-110 1 115 1 110 1 90 1 69 1 58 1 71 1 5 1 36 1 31 1 28 1 41 1 10 1 58 1-4 1 22 1-38 1-62 1-14 1-161 1-113 1-137 1-118 1-109 1-81 1 110 1 126 1 118 1 85 1 107 1 91 1 40 1 5 1-5 1 37 1-26 1 25 1 22 1-12 1 16 1-3 1-22 1-32 1-110 1-137 1-111 1-106 1-86 1-84 1 94 1 101 1 113 1 40 1 67 1 67 1 22 1 38 1 29 1 46 1 13 1 42 1 43 1 65 1 40 1-2 1-4 1-50 1-225 1-227 1-202 1-165 1-175 1-129 1 149 1 160 1 139 1 75 1 99 1 111 1 29 1 82 1 50 1 62 1 46 1 66 1 15 1 46 1 11 1-22 1-10 1 2 1-108 1-77 1-87 1-82 1-94 1-75 1 70 1 88 1 81 1 41 1 65 1 40 1 5 1 25 1 17 1-5 1 36 1 8 1 23 1 9 1 10 1 2 1-9 1-8 1-64 1-48 1-86 1-57 1-80 1-65 1 73 1 15 1 99 1-1 1 69 1 20 1 67 1 28 1 41 1 36 1 34 1 9 1 18 1 16 1 17 1-16 1-28 1-52 1-135 1-142 1-120 1-55 1-74 1-84 1 97 1 90 1 109 1 64 1 64 1 71 1 23 1 4 1-14 1-6 1 4 1 22 1 31 1-2 1 15 1-37 1 1 1-33 1-199 1-179 1-174 1-105 1-148 1-137 1 153 1 161 1 153 1 64 1 98 1 107 1 47 1 59 1 18 1 37 1-2 1 23 1 4 1 20 1 23 1-35 1-18 1 0 1-172 1-169 1-167 1-121 1-125 1-141 1 141 1 109 1 180 1 52 1 76 1 132 1 16 1 62 1 51 1 25 1 27 1 17 1 8 1 23 1-16 1 2 1 3 1-13 1-57 1-76 1-85 1-72 1-55 1-70 1 60 1 53 1 37 1 50 1 29 1 14 1 19 1-2 1 32 1 10 1 36 1 13 1 19 1 29 1 2 1-37 1-6 1-31 1-104 1-74 1-82 1-70 1-74 1-73 1 86 1 85 1 80 1 72 1 57 1 32 1 0 1 20 1 42 1 32 1 50 1 38 1 28 1 31 1 31 1-30 1-40 1-40 1-195 1-181 1-194 1-167 1-139 1-179 1 174 1 182 1 152 1 99 1 82 1 71 1 20 1-11 1 28 1 71 1 52 1 110 1 39 1 58 1 19 1-57 1 18 1-46 1-192 1-181 1-241 1-150 1-172 1-182 1 183 1 205 1 168 1 114 1 110 1 97 1 48 1 20 1 48 1 14 1 32 1 4 1 12 1 0 1 34 1-4 1 2 1 18 1-64 1-23 1-71 1-64 1-69 1-47 1 52 1 37 1 42 1 29 1 32 1 49 1 4 1 34 1 5 1 22 1 37 1 43 1 24 1 28 1 15 1 14 1-39 1-33 1-197 1-130 1-214 1-117 1-107 1-111 1 131 1 137 1 169 1 69 1 105 1 106 1 2 1 31 1 4 1 14 1-2 1 23 1 35 1 9 1 60 1 41 1 26 1 16 1-88 1-84 1-113 1-61 1-87 1-91 1 61 1 70 1 63 1 17 1 38 1 60 1-17 1 22 1 27 1 1 1 36 1 26 1 1 1-6 1 23 1-37 1-18 1-10 1-243 1-237 1-253 1-208 1-193 1-187 1 226 1 205 1 200 1 122 1 117 1 148 1 50 1 70 1 45 1 39 1 39 1 42 1 27 1 84 1 48 1 19 1 43 1-13 1-107 1-130 1-154 1-100 1-96 1-89 1 71 1 95 1 96 1 53 1 44 1 39 1 42 1 26 1 20 1 18 1 19 1 22 1 23 1 30 1-1 1 1 1-12 1-49 1-152 1-156 1-140 1-114 1-93 1-114 1 129 1 100 1 138 1 75 1 63 1 88 1 55 1 34 1 69 1 43 1 28 1 0 1 34 1 16 1 41 1-47 1-17 1-11 1-137 1-141 1-106 1-119 1-81 1-97 1 128 1 104 1 118 1 55 1 67 1 58 1 35 1 9 1 50 1 43 1 33 1 64 1 24 1 6 1-4 1-28 1-55 1-16 1-208 1-204 1-191 1-165 1-139 1-172 1 163 1 182 1 179 1 109 1 84 1 100 1 41 1 25 1 46 1 14 1 11 1 34 1 42 1 12 1 13 1-12 1-9 1-55 1-191 1-229 1-198 1-150 1-178 1-161 1 176 1 168 1 176 1 81 1 105 1 109 1 55 1 49 1 43 1 24 1 17 1 20 1 29 1 16 1 42 1-15 1-35 1-31 1-263 1-283 1-254 1-222 1-209 1-172 1 227 1 228 1 204 1 141 1 134 1 171 1 30 1 27 1 46 1 25 1 44 1 56 1 58 1 75 1 99 1 35 1-22 1 12 1-107 1-118 1-152 1-89 1-87 1-99 1 99 1 86 1 94 1 39 1 34 1 65 1-5 1 45 1 9 1 42 1 30 1 1 1 5 1 13 1-7 1-25 1-30 1-14 1-109 1-96 1-99 1-91 1-87 1-58 1 93 1 79 1 92 1 54 1 62 1 58 1-3 1 36 1 31 1-3 1 16 1 13 1 21 1 7 1 1 1-1 1-43 1-46 1-115 1-130 1-126 1-111 1-100 1-79 1 114 1 112 1 121 1 65 1 58 1 76 1 13 1 36 1 25 1 28 1 31 1 62 1 58 1 32 1 46 1-4 1-36 1-38 1-144 1-103 1-140 1-86 1-73 1-73 1 74 1 83 1 96 1 30 1 41 1 49 1 54 1 45 1 22 1 46 1 53 1 6 1 29 1 2 1 13 1-29 1-26 1-33 1-178 1-196 1-199 1-147 1-153 1-187 1 218 1 186 1 177 1 107 1 128 1 103 1 44 1 35 1 11 1 53 1 13 1 60 1 60 1 75 1 83 1-12 1-11 1-11 1-131 1-143 1-169 1-77 1-108 1-99 1 99 1 121 1 83 1 76 1 65 1 66 1 6 1-5 1 30 1-7 1 42 1 7 1 15 1 27 1 41 1-17 1 18 1-13 1-60 1-68 1-78 1-71 1-72 1-39 1 70 1 40 1 53 1 23 1 24 1 53 1 19 1 47 1 13 1 17 1 28 1 14 1 6 1 21 1 10 1-39 1-47 1-36 1-218 1-197 1-194 1-130 1-146 1-137 1 173 1 154 1 167 1 124 1 75 1 106 1 18 1 33 1 22 1 43 1 17 1 57 1 43 1 12 1 36 1-6 1-20 1 2 1-198 1-210 1-220 1-176 1-186 1-161 1 181 1 199 1 182 1 100 1 86 1 101 1 10 1-22 1 37 1 23 1 50 1 109 1 72 1 95 1 82 1 0 1 0 1-9 1-246 1-242 1-253 1-197 1-183 1-185 1 194 1 196 1 183 1 115 1 119 1 126 1 52 1 54 1 16 1 56 1 0 1 18 1 7 1 34 1 10 1-26 1-17 1-23 1-207 1-185 1-171 1-183 1-142 1-152 1 149 1 169 1 153 1 112 1 87 1 115 1 41 1 45 1 32 1 37 1 24 1 25 1 24 1 6 1 41 1-17 1-5 1 4 1-182 1-184 1-200 1-153 1-139 1-131 1 152 1 193 1 177 1 82 1 98 1 118 1 33 1 49 1 52 1 50 1 36 1 40 1 2 1 39 1 20 1 22 1 7 1-20 1-84 1-94 1-128 1-72 1-73 1-75 1 76 1 77 1 74 1 50 1 38 1 36 1 12 1 5 1-9 1 22 1 37 1-7 1 34 1 32 1 18 1 2 1-18 1-37 1-101 1-115 1-101 1-74 1-51 1-51 1 61 1 109 1 64 1 59 1 25 1 63 1-17 1 17 1 19 1 20 1 28 1 9 1 25 1-19 1-11 1-34 1-45 1-35 1-229 1-198 1-168 1-162 1-152 1-123 1 177 1 200 1 181 1 93 1 88 1 87 1 45 1 34 1 53 1 54 1 45 1 38 1 35 1 18 1 28 1-33 1-38 1-19 1-216 1-180 1-196 1-132 1-145 1-148 1 162 1 187 1 161 1 82 1 80 1 70 1-1 1 7 1 8 1 34 1 64 1 58 1 99 1 53 1 40 1 11 1-2 1-53 1-145 1-139 1-139 1-87 1-112 1-82 1 135 1 114 1 117 1 77 1 66 1 71 1 13 1 40 1-9 1-17 1-1 1 4 1 5 1 28 1 19 1-14 1-22 1 2 1-99 1-97 1-102 1-62 1-54 1-74 1 47 1 107 1 61 1 76 1 50 1 57 1 40 1 36 1 19 1 20 1-5 1 3 1 31 1 27 1 25 1-9 1 20 1-46 1-183 1-224 1-235 1-173 1-161 1-139 1 138 1 155 1 161 1 101 1 108 1 135 1 15 1 55 1 19 1 55 1 41 1 47 1 36 1 36 1 33 1-55 1-35 1-54 1-227 1-212 1-186 1-133 1-154 1-144 1 191 1 183 1 181 1 116 1 106 1 135 1 45 1 63 1 40 1 16 1 16 1 15 1 0 1 3 1 29 1-7 1-13 1 4 1-155 1-141 1-148 1-154 1-128 1-154 1 156 1 115 1 142 1 69 1 93 1 73 1 61 1 23 1 45 1-1 1 33 1 34 1 39 1 27 1-1 1-2 1-14 1-37 1-96 1-122 1-122 1-73 1-78 1-98 1 119 1 111 1 145 1 71 1 52 1 56 1 9 1 5 1-17 1 20 1-5 1-7 1 10 1 3 1 24 1-14 1-13 1 0 1-223 1-219 1-240 1-142 1-205 1-191 1 211 1 202 1 178 1 112 1 93 1 139 1 36 1 31 1 65 1 27 1 42 1-13 1 66 1 38 1 33 1-12 1-38 1-12 1-234 1-226 1-262 1-169 1-184 1-196 1 215 1 212 1 203 1 112 1 119 1 148 1 52 1 105 1 36 1 105 1 42 1 59 1 59 1 27 1 71 1-31 1-27 1-40 1-233 1-248 1-252 1-169 1-187 1-171 1 173 1 203 1 172 1 111 1 75 1 104 1-8 1 35 1 34 1 38 1 65 1 91 1 55 1 87 1 47 1-8 1-33 1-64 1-240 1-212 1-185 1-153 1-122 1-135 1 151 1 184 1 148 1 116 1 76 1 100 1 67 1 38 1 55 1 75 1 52 1 34 1 37 1 26 1 22 1-52 1-36 1-52 1-256 1-280 1-239 1-159 1-183 1-188 1 199 1 217 1 183 1 121 1 103 1 139 1 76 1 49 1 37 1 54 1 42 1 19 1 50 1 28 1 42 1-24 1 0 1-33 1-102 1-121 1-130 1-101 1-96 1-103 1 97 1 125 1 96 1 52 1 85 1 65 1 31 1 8 1 26 1 11 1 18 1 43 1 40 1 8 1 40 1-26 1-7 1-47 1-238 1-265 1-260 1-188 1-192 1-186 1 233 1 217 1 206 1 116 1 127 1 124 1 27 1 55 1 49 1 61 1 67 1 41 1 47 1 80 1 65 1-6 1-7 1-40 1-179 1-178 1-181 1-122 1-112 1-116 1 125 1 112 1 148 1 41 1 100 1 77 1 2 1 67 1 23 1 32 1 13 1 32 1 20 1 46 1 18 1-48 1-33 1-54 1-234 1-229 1-252 1-147 1-153 1-176 1 224 1 178 1 203 1 118 1 114 1 106 1 21 1 24 1 30 1 51 1 54 1 61 1 66 1 97 1 46 1-9 1 8 1-25 1-61 1-120 1-62 1-57 1-76 1-43 1 36 1 69 1 66 1 4 1 28 1 48 1 28 1 23 1 26 1 4 1 13 1-6 1-12 1 19 1 55 1-20 1 9 1 2 1-284 1-276 1-329 1-230 1-215 1-253 1 244 1 222 1 238 1 142 1 138 1 148 1 18 1 49 1 38 1 31 1 39 1 83 1 37 1 73 1 88 1-17 1-3 1-26 1-149 1-165 1-160 1-134 1-119 1-132 1 123 1 133 1 116 1 80 1 93 1 86 1 14 1 47 1 33 1 27 1 22 1 25 1 0 1 41 1 20 1-48 1-57 1-34 1-254 1-240 1-206 1-170 1-144 1-210 1 241 1 209 1 212 1 116 1 107 1 110 1 46 1 13 1 43 1 57 1 43 1 23 1 54 1 57 1 34 1-32 1-46 1-64 1-317 1-289 1-279 1-211 1-196 1-226 1 248 1 252 1 243 1 129 1 143 1 165 1 62 1 105 1 72 1 47 1 70 1 12 1 0 1 14 1 18 1-26 1-28 1-27 1-126 1-136 1-168 1-99 1-114 1-127 1 117 1 94 1 123 1 76 1 33 1 77 1 39 1 32 1-11 1 40 1 35 1 17 1 53 1 29 1 39 1-13 1-24 1-28 1-186 1-208 1-218 1-143 1-178 1-163 1 149 1 178 1 152 1 126 1 72 1 128 1 79 1 45 1 41 1 46 1 34 1 14 1 8 1 44 1 32 1 4 1 5 1 16 1-167 1-215 1-180 1-126 1-149 1-133 1 172 1 186 1 185 1 89 1 80 1 93 1 9 1 22 1 8 1 26 1-7 1 34 1 46 1 60 1 45 1-3 1-7 1 2 1-227 1-244 1-240 1-199 1-163 1-178 1 173 1 183 1 184 1 131 1 107 1 101 1 48 1 28 1 41 1 51 1 74 1 55 1 78 1 64 1 40 1-6 1-22 1-33 1-157 1-173 1-175 1-108 1-124 1-123 1 139 1 153 1 171 1 117 1 121 1 105 1 22 1 11 1-11 1 9 1 1 1 11 1 71 1 31 1 39 1 0 1 0 1 0 1-95 1-132 1-139 1-117 1-119 1-94 1 90 1 87 1 101 1 40 1 81 1 61 1 21 1 27 1-10 1-1 1-13 1 31 1-10 1 43 1 55 1 11 1 17 1 6 1-161 1-153 1-136 1-105 1-130 1-121 1 154 1 107 1 136 1 63 1 87 1 65 1 29 1 19 1 20 1 24 1 25 1 11 1 33 1 54 1 38 1 0 1-15 1-44 1-127 1-119 1-133 1-81 1-91 1-64 1 83 1 88 1 107 1 53 1 82 1 111 1 6 1 57 1 13 1 24 1 20 1 9 1-8 1 29 1 0 1-41 1-18 1-3 1-152 1-137 1-164 1-102 1-139 1-123 1 145 1 149 1 160 1 79 1 83 1 44 1 6 1 4 1 4 1 3 1 52 1 50 1 60 1 40 1 0 1-16 1-18 1-43 1-142 1-145 1-136 1-129 1-89 1-92 1 119 1 115 1 160 1 51 1 36 1 64 1 18 1 43 1 6 1 23 1 19 1 16 1 53 1 18 1 27 1 6 1-22 1-45 1-122 1-127 1-117 1-107 1-78 1-104 1 106 1 99 1 135 1 91 1 55 1 46 1 7 1-17 1-14 1 13 1-4 1 20 1 34 1 6 1 24 1-34 1 2 1-7 1-158 1-190 1-189 1-114 1-157 1-135 1 143 1 153 1 139 1 72 1 97 1 89 1 4 1 38 1 15 1 36 1 15 1 29 1 36 1 14 1-15 1-15 1-10 1-12 1-140 1-160 1-172 1-130 1-136 1-104 1 139 1 157 1 120 1 128 1 74 1 49 1 26 1-23 1 0 1 4 1 0 1 37 1 37 1 40 1 39 1-12 1-9 1-27 1-139 1-162 1-127 1-113 1-119 1-105 1 134 1 136 1 133 1 95 1 91 1 104 1 46 1-1 1-8 1 21 1 9 1-13 1 1 1 13 1 12 1 7 1-30 1-3 1-84 1-108 1-89 1-55 1-53 1-79 1 104 1 66 1 94 1 39 1 43 1-2 1 49 1-24 1-10 1 5 1 7 1 72 1 44 1 56 1 37 1 5 1-12 1-30 1-242 1-254 1-222 1-165 1-164 1-198 1 214 1 194 1 184 1 111 1 115 1 95 1 41 1 79 1 41 1 53 1 66 1 37 1 29 1 61 1 74 1-31 1-23 1-18 1-191 1-211 1-186 1-140 1-123 1-154 1 154 1 143 1 168 1 58 1 100 1 88 1 77 1 57 1 45 1 47 1 6 1-7 1-1 1-2 1 11 1 7 1-40 1 4 1-77 1-94 1-85 1-90 1-53 1-87 1 94 1 121 1 91 1 85 1 29 1 66 1-10 1 2 1 0 1-32 1 19 1 49 1 33 1 53 1 64 1-12 1-29 1-51 1-307 1-296 1-288 1-217 1-219 1-240 1 258 1 246 1 237 1 142 1 152 1 150 1 78 1 26 1 50 1 22 1 71 1 83 1 58 1 75 1 89 1-35 1-12 1 5 1-148 1-144 1-142 1-119 1-111 1-109 1 118 1 144 1 115 1 77 1 84 1 32 1 17 1 43 1 46 1 64 1 42 1 33 1 27 1-1 1-33 1-45 1-33 1-32 1-134 1-122 1-134 1-90 1-80 1-124 1 125 1 106 1 117 1 59 1 96 1 73 1 54 1 24 1 10 1 31 1 15 1 33 1-1 1 15 1 15 1-16 1-59 1-36 1-232 1-212 1-228 1-176 1-162 1-190 1 218 1 183 1 257 1 120 1 132 1 119 1 15 1 16 1 19 1 52 1 45 1 33 1 46 1 25 1 29 1-14 1-31 1-25 1-224 1-229 1-244 1-139 1-207 1-146 1 161 1 160 1 185 1 111 1 131 1 136 1 69 1 57 1 67 1 29 1 33 1 24 1 36 1 71 1 32 1-48 1-31 1 6 1-243 1-197 1-202 1-186 1-198 1-183 1 199 1 195 1 207 1 108 1 131 1 97 1 24 1 20 1 17 1 57 1 49 1 29 1 5 1 42 1-2 1-21 1-57 1-16 1-203 1-234 1-203 1-133 1-162 1-147 1 162 1 194 1 175 1 125 1 136 1 97 1 51 1 37 1 53 1 30 1 58 1 16 1 32 1 30 1 7 1-16 1-37 1-16 1-212 1-208 1-197 1-136 1-172 1-169 1 164 1 179 1 181 1 75 1 113 1 109 1 34 1 39 1 65 1 47 1 37 1 31 1 39 1 48 1 28 1-21 1-30 1-37 1-193 1-236 1-204 1-166 1-163 1-174 1 177 1 189 1 176 1 90 1 123 1 87 1 44 1 25 1 62 1 16 1 66 1 52 1 26 1 13 1 33 1-37 1-47 1-62 1-203 1-235 1-252 1-163 1-159 1-175 1 190 1 248 1 199 1 146 1 113 1 167 1 32 1 38 1 43 1 55 1 23 1 32 1 62 1 8 1 31 1-54 1-30 1-34 1-282 1-287 1-281 1-196 1-208 1-209 1 230 1 248 1 265 1 120 1 167 1 140 1 43 1 39 1 15 1 19 1 29 1 8 1 69 1 39 1 82 1-14 1-10 1-23 1-162 1-174 1-193 1-124 1-117 1-133 1 139 1 130 1 136 1 123 1 83 1 102 1 12 1-7 1-28 1-1 1 18 1 6 1 52 1 26 1 69 1-18 1 5 1-8 1-189 1-155 1-158 1-128 1-122 1-149 1 156 1 153 1 125 1 96 1 67 1 59 1 15 1 40 1 26 1 39 1 69 1 27 1 8 1 41 1 15 1-24 1-42 1 2 1-182 1-186 1-158 1-124 1-140 1-143 1 170 1 143 1 182 1 104 1 71 1 136 1 2 1 20 1 41 1 30 1 85 1 35 1 21 1 51 1 14 1-42 1-30 1-51 1-139 1-136 1-130 1-96 1-106 1-91 1 104 1 103 1 109 1 87 1 53 1 91 1 13 1 55 1 2 1 57 1 13 1-15 1 0 1 9 1-15 1-19 1-58 1-11 1-195 1-228 1-185 1-163 1-136 1-160 1 178 1 144 1 168 1 107 1 109 1 140 1 22 1 47 1 52 1 31 1 47 1 28 1 51 1 66 1 59 1-5 1-15 1-43 1-187 1-184 1-166 1-125 1-129 1-124 1 165 1 113 1 131 1 63 1 76 1 79 1 39 1 42 1 23 1 27 1 24 1-2 1 32 1 31 1 34 1-11 1 17 1 24 1-98 1-96 1-118 1-101 1-82 1-89 1 78 1 105 1 82 1 69 1 58 1 73 1 54 1 42 1 32 1 44 1 37 1 33 1 7 1 1 1 31 1-34 1-37 1-6 1-167 1-142 1-163 1-110 1-92 1-89 1 114 1 113 1 116 1 55 1 73 1 59 1 0 1 5 1 8 1 44 1 41 1 26 1 45 1 11 1 32 1-25 1-63 1-40 1-233 1-223 1-219 1-155 1-137 1-133 1 162 1 176 1 162 1 88 1 97 1 121 1 27 1 23 1 62 1 61 1 59 1 60 1 49 1 30 1-11 1-47 1-44 1-21 1-254 1-196 1-257 1-154 1-159 1-174 1 198 1 206 1 178 1 96 1 90 1 94 1 8 1 2 1 12 1 18 1 28 1 23 1 47 1 77 1 64 1 14 1 5 1-16 1-115 1-139 1-153 1-84 1-113 1-91 1 85 1 133 1 95 1 67 1 98 1 75 1 67 1 85 1 52 1 72 1 10 1 40 1 11 1 0 1 15 1-10 1-38 1-29 1-182 1-211 1-201 1-120 1-172 1-121 1 144 1 140 1 164 1 75 1 105 1 98 1-7 1 0 1 4 1-16 1 23 1-8 1 11 1-26 1-29 1-47 1-64 1-16 1-274 1-248 1-256 1-186 1-193 1-216 1 232 1 233 1 239 1 159 1 139 1 141 1 90 1 48 1 81 1 70 1 82 1 75 1 44 1 63 1 54 1-60 1-40 1-47 1-240 1-179 1-191 1-120 1-144 1-139 1 155 1 183 1 190 1 106 1 121 1 138 1 71 1 79 1 44 1 53 1 33 1 31 1 41 1 92 1 69 1-16 1-13 1-38 1-172 1-215 1-127 1-136 1-123 1-146 1 170 1 120 1 167 1 101 1 89 1 106 1 18 1 20 1 17 1 32 1-2 1 2 1 22 1 2 1 33 1-5 1-41 1-7 1-165 1-138 1-148 1-95 1-112 1-65 1 125 1 143 1 181 1 72 1 71 1 69 1-2 1 5 1 35 1-2 1 24 1 57 1 15 1 76 1 35 1-16 1-38 1-11 1-171 1-186 1-142 1-146 1-113 1-120 1 138 1 149 1 162 1 106 1 95 1 96 1 6 1 47 1 17 1 12 1 26 1 13 1 33 1 13 1-7 1-6 1-38 1-8 1-249 1-219 1-210 1-179 1-165 1-149 1 177 1 196 1 201 1 130 1 107 1 111 1 40 1 50 1 18 1 36 1 25 1 29 1 81 1 42 1 22 1-1 1-45 1-20 1-160 1-164 1-149 1-133 1-144 1-147 1 152 1 142 1 153 1 90 1 78 1 118 1 36 1 55 1 1 1 31 1 13 1 43 1 15 1 21 1 56 1-18 1-22 1-30 1-65 1-84 1-109 1-43 1-94 1-50 1 61 1 50 1 77 1 47 1 39 1 49 1 26 1-10 1 51 1 17 1 42 1 9 1 25 1-21 1 34 1-31 1-21 1-17 1-166 1-164 1-159 1-130 1-134 1-129 1 135 1 103 1 112 1 69 1 79 1 86 1 26 1 17 1 8 1 16 1 15 1 11 1 14 1 72 1 30 1 6 1 5 1-31 1-153 1-195 1-182 1-148 1-140 1-163 1 145 1 116 1 156 1 87 1 93 1 115 1 52 1 60 1 47 1 11 1 30 1 20 1 39 1 6 1 43 1-50 1-51 1-43 1-230 1-215 1-220 1-190 1-150 1-152 1 154 1 167 1 153 1 68 1 112 1 109 1 51 1 50 1 50 1 41 1 46 1 39 1 74 1 39 1 40 1-6 1-40 1-18 1-242 1-241 1-263 1-175 1-208 1-182 1 202 1 197 1 200 1 120 1 127 1 132 1 57 1 22 1 18 1 27 1 11 1 43 1 21 1 42 1 33 1 17 1 19 1 16 1-145 1-163 1-190 1-141 1-153 1-141 1 121 1 147 1 134 1 106 1 72 1 70 1 24 1 59 1 27 1 73 1 45 1 29 1 8 1 32 1 22 1-57 1-33 1-8 1-216 1-197 1-191 1-129 1-133 1-129 1 172 1 188 1 167 1 108 1 102 1 114 1 21 1 42 1 12 1 74 1 37 1 53 1 30 1 47 1 30 1-15 1-3 1 4 1-126 1-163 1-127 1-152 1-107 1-123 1 95 1 66 1 72 1 37 1 55 1 47 1 53 1 54 1 47 1 77 1 37 1 27 1 28 1 33 1 14 1-20 1-61 1-32 1-221 1-247 1-241 1-195 1-162 1-191 1 185 1 202 1 210 1 123 1 116 1 148 1 72 1 73 1 63 1 39 1 71 1 31 1 43 1 28 1 29 1-42 1-7 1-22 1-105 1-136 1-126 1-102 1-112 1-80 1 94 1 121 1 113 1 58 1 79 1 43 1 42 1 35 1 28 1 35 1 76 1 45 1 66 1 49 1 54 1-39 1-33 1-21 1-231 1-234 1-229 1-161 1-181 1-152 1 190 1 192 1 205 1 120 1 104 1 118 1 39 1 59 1 7 1 37 1-20 1-6 1 25 1 4 1 57 1-30 1 14 1-26 1-138 1-146 1-150 1-110 1-107 1-114 1 139 1 139 1 144 1 102 1 69 1 54 1 52 1-1 1 4 1-8 1-1 1-18 1 7 1 23 1 27 1-50 1-29 1-30 1-234 1-222 1-230 1-158 1-177 1-193 1 243 1 240 1 217 1 132 1 129 1 119 1-6 1 35 1 20 1 20 1 38 1 52 1 37 1 18 1 54 1-29 1-27 1 21 1-204 1-198 1-234 1-152 1-191 1-132 1 169 1 179 1 150 1 98 1 113 1 89 1 5 1 29 1 39 1 7 1 18 1 36 1 21 1 64 1 64 1-42 1-6 1-6 1-256 1-257 1-237 1-195 1-168 1-197 1 214 1 214 1 233 1 140 1 140 1 130 1 65 1 28 1 39 1 22 1 42 1 13 1 23 1 56 1 28 1-27 1-29 1-38 1-209 1-223 1-217 1-149 1-171 1-150 1 180 1 167 1 163 1 92 1 120 1 70 1 34 1 54 1 20 1 47 1 43 1 53 1 45 1 75 1 47 1-8 1-21 1-28 1-138 1-135 1-133 1-82 1-84 1-122 1 136 1 122 1 74 1 50 1 40 1 55 1-7 1 25 1 46 1 42 1 56 1 53 1 47 1 5 1 21 1-34 1-54 1-24 1-198 1-217 1-189 1-163 1-178 1-152 1 179 1 174 1 147 1 105 1 96 1 91 1 55 1 56 1 69 1 55 1 44 1 64 1 77 1 89 1 71 1-22 1-14 1-65 1-302 1-274 1-290 1-188 1-194 1-172 1 239 1 249 1 252 1 139 1 154 1 116 1 62 1 27 1 68 1 20 1 51 1 55 1 39 1 63 1 31 1-40 1-30 1-51 1-230 1-209 1-233 1-164 1-151 1-129 1 153 1 181 1 181 1 116 1 104 1 111 1 81 1 50 1 88 1 69 1 65 1 57 1 28 1 22 1 0 1-9 1-58 1-52 1-220 1-199 1-191 1-147 1-136 1-139 1 140 1 158 1 175 1 88 1 82 1 99 1-2 1 36 1 30 1 21 1 45 1 61 1 28 1 70 1 24 1-11 1-35 1-29 1-210 1-218 1-238 1-182 1-146 1-210 1 228 1 181 1 178 1 145 1 128 1 106 1 14 1 56 1 34 1 52 1 38 1 59 1 49 1 39 1-15 1-28 1-60 1-27 1-223 1-222 1-214 1-155 1-184 1-166 1 191 1 174 1 163 1 106 1 108 1 120 1 65 1 38 1 16 1 56 1 40 1 59 1 56 1 72 1 44 1-10 1-35 1-59 1-233 1-221 1-230 1-149 1-167 1-126 1 184 1 162 1 175 1 113 1 126 1 115 1 20 1 51 1 44 1-8 1 40 1 37 1 29 1 31 1 29 1 2 1-33 1-20 1-238 1-193 1-215 1-191 1-180 1-164 1 184 1 179 1 194 1 99 1 121 1 109 1 43 1 44 1 12 1 25 1 21 1 14 1 2 1 22 1 23 1-60 1-23 1-15 1-256 1-223 1-259 1-161 1-247 1-178 1 204 1 236 1 228 1 111 1 84 1 146 1-3 1 57 1 41 1 62 1 74 1 54 1 15 1 44 1 15 1-14 1-14 1-43 1-60 1-64 1-75 1-29 1-34 1-59 1 79 1 84 1 51 1 21 1 31 1 40 1 29 1 44 1 18 1 32 1 18 1 25 1 22 1 17 1 35 1-26 1-15 1-33 1-180 1-202 1-188 1-125 1-162 1-128 1 136 1 188 1 181 1 105 1 80 1 108 1 20 1 18 1 30 1 26 1 13 1 22 1 22 1 19 1 42 1-40 1-46 1-53 1-275 1-311 1-269 1-200 1-195 1-214 1 250 1 236 1 246 1 159 1 148 1 163 1 51 1 68 1 12 1 55 1 37 1 44 1 69 1 55 1 75 1-56 1-55 1-52 1-392 1-375 1-374 1-281 1-277 1-273 1 326 1 281 1 369 1 201 1 181 1 180 1 51 1 43 1 34 1 23 1 20 1 15 1-3 1 47 1 24 1-14 1-46 1 21 1-152 1-150 1-175 1-101 1-116 1-132 1 159 1 138 1 174 1 84 1 73 1 93 1 61 1 27 1 5 1 40 1 55 1 52 1 44 1 59 1 25 1-11 1-38 1-41 1-234 1-233 1-238 1-169 1-188 1-182 1 209 1 202 1 223 1 110 1 84 1 126 1 33 1 68 1 38 1 54 1 43 1 52 1 29 1 41 1 36 1 8 1-16 1 2 1-33 1-67 1-49 1-41 1-43 1-34 1 50 1 55 1 84 1 54 1 68 1 39 1-5 1 2 1-17 1 5 1-1 1-15 1 10 1-30 1 7 1-41 1-10 1-5 1-164 1-185 1-197 1-137 1-152 1-146 1 156 1 164 1 165 1 85 1 125 1 78 1 43 1 41 1 19 1 18 1 10 1-3 1 9 1 7 1 33 1-20 1 2 1 20 1-184 1-212 1-216 1-142 1-158 1-153 1 178 1 166 1 181 1 128 1 101 1 138 1 51 1 34 1 51 1 43 1 37 1 28 1 15 1 8 1-21 1-49 1-5 1-23 1-146 1-136 1-150 1-134 1-137 1-149 1 128 1 162 1 138 1 66 1 76 1 99 1 14 1 15 1 13 1 35 1 18 1 34 1 18 1 29 1 18 1-52 1-41 1-16 1-214 1-232 1-209 1-198 1-189 1-187 1 190 1 229 1 230 1 111 1 155 1 146 1 26 1 28 1 36 1 33 1 31 1 29 1 59 1 9 1 53 1 3 1-64 1-3 1-232 1-226 1-234 1-160 1-166 1-165 1 182 1 208 1 182 1 71 1 102 1 97 1 37 1 66 1 54 1 64 1 14 1 62 1 49 1 50 1 31 1-34 1-19 1-39 1-234 1-201 1-229 1-160 1-175 1-176 1 195 1 183 1 188 1 131 1 113 1 124 1-6 1 60 1 33 1 38 1 26 1 49 1 53 1 49 1 42 1-40 1-25 1-67 1-259 1-282 1-274 1-212 1-194 1-198 1 204 1 229 1 220 1 129 1 163 1 113 1 76 1 48 1 48 1 45 1 39 1 84 1 58 1 76 1 87 1-58 1 0 1-41 1-225 1-227 1-188 1-141 1-157 1-130 1 179 1 206 1 196 1 115 1 138 1 108 1 16 1 52 1 33 1 40 1 43 1 42 1 12 1 36 1 16 1-32 1-32 1-55 1-342 1-333 1-331 1-232 1-241 1-238 1 291 1 265 1 263 1 195 1 149 1 144 1 70 1 31 1 46 1 77 1 81 1 60 1 108 1 70 1 56 1-26 1-40 1-12 1-118 1-61 1-80 1-53 1-69 1-42 1 69 1 86 1 91 1 44 1 11 1 42 1-8 1 19 1-9 1 12 1 25 1 21 1 2 1 18 1-14 1-38 1-44 1-34 1-183 1-193 1-173 1-165 1-124 1-133 1 150 1 169 1 152 1 92 1 97 1 80 1 49 1 31 1 47 1 29" stroke="#82ee06" stroke-width="7.54" fill="none" stroke-linejoin="round"/><path d="M0 -5208l1 315 1 310 1 211 1 83 1-93 1-73 1-249 1-263 1-90 1 30 1 142 1 94 1 33 1-192 1-39 1 129 1-166 1-178 1-145 1-164 1-47 1-13 1 114 1 215 1 253 1 247 1 168 1 54 1-69 1-65 1-221 1-208 1-72 1 20 1 124 1 75 1 34 1-170 1-19 1 94 1-132 1-153 1-120 1-139 1-32 1-10 1 124 1 243 1 278 1 268 1 197 1 55 1-76 1-68 1-260 1-245 1-83 1 22 1 142 1 72 1 52 1-196 1-35 1 132 1-165 1-175 1-146 1-155 1-54 1 1 1 150 1 266 1 298 1 299 1 202 1 75 1-83 1-106 1-300 1-303 1-91 1 29 1 168 1 103 1 44 1-231 1-39 1 141 1-193 1-206 1-177 1-168 1-71 1-12 1 155 1 290 1 343 1 324 1 223 1 87 1-97 1-98 1-335 1-323 1-103 1 24 1 187 1 107 1 44 1-245 1-43 1 161 1-215 1-208 1-212 1-191 1-70 1-1 1 186 1 298 1 387 1 358 1 255 1 89 1-104 1-94 1-360 1-340 1-116 1 27 1 195 1 125 1 54 1-265 1-48 1 165 1-220 1-228 1-206 1-216 1-72 1-13 1 182 1 303 1 369 1 354 1 246 1 78 1-94 1-107 1-339 1-347 1-107 1 29 1 184 1 114 1 50 1-250 1-43 1 164 1-227 1-228 1-200 1-215 1-60 1-6 1 188 1 343 1 409 1 374 1 281 1 96 1-103 1-100 1-321 1-339 1-106 1 38 1 179 1 122 1 41 1-245 1-48 1 159 1-216 1-220 1-200 1-195 1-68 1-2 1 173 1 304 1 375 1 350 1 238 1 98 1-83 1-95 1-296 1-282 1-103 1 40 1 160 1 100 1 36 1-222 1-25 1 122 1-176 1-192 1-179 1-173 1-57 1 2 1 156 1 299 1 336 1 346 1 234 1 91 1-83 1-76 1-278 1-260 1-93 1 35 1 146 1 82 1 46 1-191 1-46 1 132 1-177 1-180 1-151 1-168 1-46 1-18 1 150 1 273 1 318 1 303 1 208 1 73 1-66 1-89 1-249 1-263 1-82 1 10 1 152 1 88 1 39 1-199 1-19 1 111 1-179 1-157 1-158 1-159 1-45 1-16 1 101 1 192 1 225 1 217 1 148 1 55 1-44 1-35 1-122 1-117 1-57 1 13 1 78 1 49 1 13 1-104 1-7 1 56 1-85 1-88 1-70 1-76 1-23 1-8 1 118 1 210 1 254 1 229 1 159 1 66 1-68 1-57 1-198 1-200 1-65 1 28 1 106 1 55 1 44 1-149 1-34 1 98 1-126 1-126 1-128 1-122 1-41 1 1 1 108 1 209 1 234 1 230 1 156 1 56 1-70 1-59 1-239 1-220 1-73 1 20 1 132 1 71 1 29 1-165 1-34 1 111 1-150 1-142 1-144 1-133 1-47 1-7 1 136 1 253 1 293 1 271 1 192 1 71 1-74 1-73 1-235 1-237 1-75 1 26 1 129 1 78 1 32 1-174 1-31 1 108 1-154 1-155 1-144 1-139 1-45 1-14 1 136 1 243 1 290 1 259 1 208 1 67 1-74 1-64 1-242 1-244 1-75 1 27 1 130 1 83 1 28 1-168 1-31 1 108 1-157 1-151 1-144 1-128 1-63 1-11 1 143 1 254 1 298 1 274 1 204 1 63 1-66 1-78 1-240 1-222 1-90 1 30 1 135 1 77 1 30 1-181 1-19 1 99 1-160 1-148 1-142 1-140 1-42 1-16 1 125 1 218 1 256 1 259 1 179 1 58 1-52 1-67 1-223 1-218 1-80 1 29 1 111 1 76 1 33 1-156 1-34 1 102 1-134 1-150 1-133 1-130 1-50 1-2 1 146 1 236 1 295 1 267 1 202 1 61 1-62 1-68 1-211 1-209 1-88 1 33 1 111 1 79 1 27 1-164 1-21 1 95 1-126 1-152 1-124 1-130 1-44 1-8 1 111 1 226 1 243 1 240 1 159 1 69 1-54 1-46 1-172 1-168 1-49 1 16 1 99 1 48 1 20 1-115 1-31 1 93 1-109 1-110 1-105 1-102 1-33 1-6 1 73 1 142 1 168 1 155 1 94 1 61 1-58 1-56 1-154 1-152 1-57 1 13 1 86 1 64 1 13 1-114 1-25 1 73 1-95 1-98 1-104 1-102 1-27 1 2 1 106 1 223 1 240 1 242 1 163 1 60 1-72 1-53 1-217 1-211 1-82 1 28 1 115 1 81 1 25 1-165 1-23 1 97 1-140 1-136 1-123 1-142 1-39 1-10 1 135 1 212 1 259 1 237 1 163 1 64 1-63 1-67 1-224 1-216 1-77 1 26 1 132 1 67 1 21 1-153 1-31 1 105 1-144 1-151 1-126 1-129 1-34 1-18 1 128 1 214 1 246 1 244 1 186 1 49 1-61 1-57 1-217 1-198 1-71 1 23 1 114 1 62 1 38 1-154 1-29 1 92 1-133 1-142 1-118 1-123 1-45 1-9 1 124 1 203 1 246 1 250 1 166 1 55 1-50 1-58 1-195 1-204 1-66 1 24 1 108 1 61 1 28 1-133 1-33 1 91 1-131 1-123 1-116 1-119 1-33 1-14 1 106 1 178 1 229 1 205 1 150 1 54 1-58 1-43 1-169 1-156 1-61 1 26 1 85 1 56 1 17 1-119 1-20 1 72 1-104 1-108 1-100 1-94 1-32 1-6 1 107 1 179 1 217 1 209 1 154 1 57 1-52 1-47 1-162 1-148 1-53 1 12 1 92 1 52 1 11 1-113 1-16 1 74 1-95 1-109 1-91 1-94 1-28 1-5 1 100 1 174 1 206 1 205 1 152 1 48 1-52 1-59 1-189 1-181 1-56 1 15 1 105 1 66 1 24 1-136 1-35 1 98 1-131 1-119 1-102 1-110 1-34 1-7 1 107 1 198 1 230 1 220 1 161 1 57 1-57 1-61 1-189 1-203 1-65 1 27 1 93 1 82 1 26 1-149 1-16 1 86 1-124 1-130 1-122 1-120 1-43 1-3 1 112 1 205 1 249 1 222 1 171 1 59 1-67 1-54 1-187 1-193 1-64 1 32 1 98 1 70 1 19 1-135 1-35 1 92 1-117 1-127 1-109 1-120 1-40 1-3 1 122 1 190 1 234 1 225 1 155 1 69 1-64 1-49 1-188 1-185 1-63 1 26 1 98 1 69 1 26 1-144 1-22 1 93 1-123 1-123 1-118 1-108 1-35 1 7 1 98 1 184 1 226 1 212 1 154 1 44 1-53 1-46 1-177 1-195 1-48 1 12 1 95 1 76 1 18 1-129 1-29 1 86 1-126 1-110 1-106 1-114 1-29 1-3 1 99 1 214 1 237 1 223 1 166 1 62 1-51 1-28 1-123 1-122 1-37 1 13 1 61 1 31 1 24 1-89 1-6 1 50 1-73 1-89 1-68 1-74 1-24 1-3 1 54 1 77 1 115 1 99 1 66 1 27 1-29 1-28 1-79 1-83 1-27 1 5 1 59 1 17 1 18 1-59 1-17 1 40 1-58 1-57 1-33 1-60 1-27 1 9 1 83 1 159 1 192 1 172 1 115 1 43 1-34 1-44 1-143 1-131 1-53 1 5 1 75 1 59 1 9 1-91 1-18 1 73 1-107 1-85 1-97 1-74 1-28 1 4 1 45 1 116 1 129 1 131 1 72 1 31 1-23 1-33 1-101 1-103 1-29 1 3 1 64 1 36 1 13 1-64 1-21 1 38 1-62 1-60 1-65 1-49 1-28 1-2 1 92 1 171 1 190 1 182 1 144 1 42 1-31 1-39 1-151 1-136 1-47 1 19 1 74 1 43 1 14 1-93 1-11 1 50 1-87 1-90 1-81 1-93 1-17 1-5 1 96 1 145 1 182 1 168 1 119 1 49 1-55 1-30 1-147 1-148 1-41 1 7 1 79 1 54 1 8 1-97 1-20 1 73 1-90 1-99 1-88 1-86 1-35 1 13 1 91 1 175 1 192 1 204 1 138 1 53 1-50 1-34 1-137 1-123 1-60 1 18 1 73 1 43 1 24 1-98 1-22 1 64 1-84 1-89 1-78 1-86 1-28 1-1 1 47 1 116 1 114 1 104 1 91 1 34 1-33 1-14 1-54 1-72 1-12 1 8 1 29 1 22 1 12 1-50 1-5 1 24 1-40 1-44 1-32 1-33 1-13 1-1 1 70 1 143 1 175 1 151 1 122 1 31 1-24 1-36 1-100 1-97 1-36 1 17 1 51 1 29 1-1 1-58 1-10 1 52 1-75 1-53 1-64 1-67 1-12 1-12 1 92 1 167 1 192 1 185 1 128 1 38 1-45 1-43 1-145 1-142 1-53 1 24 1 73 1 43 1 20 1-98 1-20 1 60 1-97 1-79 1-93 1-91 1-34 1 9 1 92 1 181 1 200 1 210 1 145 1 53 1-64 1-55 1-180 1-196 1-56 1 18 1 107 1 65 1 22 1-138 1-32 1 87 1-118 1-119 1-123 1-100 1-38 1-14 1 136 1 238 1 295 1 277 1 189 1 65 1-63 1-69 1-226 1-231 1-87 1 27 1 134 1 78 1 29 1-174 1-23 1 103 1-140 1-154 1-146 1-140 1-36 1-10 1 111 1 214 1 253 1 232 1 170 1 56 1-70 1-65 1-240 1-239 1-74 1 24 1 122 1 94 1 19 1-171 1-30 1 108 1-155 1-158 1-136 1-144 1-47 1-20 1 114 1 203 1 231 1 222 1 152 1 56 1-76 1-46 1-232 1-216 1-68 1 21 1 122 1 72 1 25 1-148 1-43 1 110 1-151 1-137 1-135 1-129 1-46 1-3 1 113 1 185 1 231 1 211 1 174 1 47 1-59 1-42 1-181 1-188 1-56 1 30 1 86 1 62 1 25 1-127 1-23 1 88 1-117 1-121 1-103 1-114 1-25 1 2 1 67 1 132 1 163 1 155 1 113 1 28 1-44 1-61 1-178 1-178 1-74 1 39 1 92 1 57 1 28 1-139 1-21 1 87 1-131 1-107 1-110 1-105 1-38 1-13 1 92 1 165 1 199 1 178 1 142 1 41 1-73 1-69 1-245 1-236 1-79 1 13 1 138 1 79 1 38 1-180 1-32 1 110 1-161 1-144 1-146 1-142 1-32 1-20 1 104 1 192 1 241 1 214 1 156 1 65 1-69 1-62 1-194 1-194 1-78 1 29 1 112 1 66 1 30 1-155 1-25 1 91 1-127 1-124 1-123 1-126 1-34 1-24 1 108 1 166 1 189 1 188 1 136 1 49 1-57 1-56 1-180 1-175 1-64 1 18 1 99 1 80 1 14 1-133 1-27 1 82 1-120 1-116 1-105 1-108 1-45 1 5 1 83 1 148 1 193 1 187 1 113 1 48 1-55 1-60 1-178 1-177 1-66 1 22 1 101 1 61 1 24 1-129 1-24 1 82 1-113 1-115 1-121 1-101 1-37 1-6 1 87 1 155 1 187 1 180 1 117 1 53 1-64 1-41 1-188 1-195 1-56 1 23 1 96 1 70 1 19 1-124 1-33 1 87 1-126 1-121 1-102 1-123 1-26 1 2 1 101 1 158 1 221 1 204 1 143 1 53 1-70 1-52 1-204 1-186 1-55 1 6 1 113 1 66 1 18 1-135 1-33 1 97 1-123 1-133 1-112 1-126 1-38 1-3 1 86 1 159 1 194 1 174 1 133 1 42 1-39 1-52 1-157 1-150 1-54 1 17 1 80 1 60 1 15 1-119 1-15 1 82 1-110 1-105 1-87 1-101 1-28 1-3 1 91 1 159 1 188 1 177 1 124 1 46 1-69 1-75 1-244 1-233 1-85 1 27 1 130 1 83 1 33 1-175 1-40 1 115 1-148 1-166 1-140 1-159 1-38 1-10 1 112 1 204 1 244 1 222 1 170 1 56 1-65 1-54 1-224 1-207 1-72 1 32 1 108 1 75 1 32 1-168 1-20 1 102 1-139 1-141 1-128 1-124 1-46 1-8 1 123 1 191 1 238 1 216 1 150 1 61 1-57 1-68 1-223 1-208 1-74 1 21 1 129 1 62 1 31 1-160 1-21 1 99 1-141 1-144 1-129 1-130 1-51 1-2 1 141 1 232 1 269 1 274 1 179 1 67 1-74 1-84 1-280 1-273 1-93 1 28 1 147 1 101 1 36 1-203 1-33 1 116 1-162 1-189 1-172 1-158 1-65 1-12 1 156 1 253 1 317 1 285 1 210 1 75 1-68 1-57 1-209 1-202 1-59 1 15 1 112 1 79 1 14 1-144 1-29 1 102 1-138 1-135 1-120 1-125 1-30 1-23 1 122 1 200 1 229 1 220 1 150 1 64 1-58 1-47 1-189 1-167 1-65 1 33 1 88 1 68 1 16 1-129 1-12 1 79 1-113 1-112 1-109 1-103 1-33 1-10 1 108 1 205 1 233 1 219 1 159 1 59 1-66 1-59 1-196 1-192 1-76 1 22 1 119 1 65 1 20 1-134 1-32 1 93 1-124 1-130 1-112 1-123 1-32 1-29 1 93 1 160 1 195 1 176 1 126 1 47 1-52 1-44 1-183 1-172 1-55 1 19 1 89 1 57 1 35 1-144 1-22 1 91 1-114 1-117 1-111 1-99 1-32 1-9 1 131 1 200 1 249 1 243 1 167 1 63 1-64 1-60 1-204 1-211 1-70 1 16 1 113 1 77 1 33 1-153 1-30 1 89 1-130 1-134 1-121 1-134 1-38 1-4 1 120 1 206 1 266 1 233 1 174 1 68 1-86 1-77 1-269 1-276 1-88 1 23 1 152 1 91 1 35 1-181 1-53 1 138 1-187 1-173 1-168 1-170 1-40 1-20 1 123 1 224 1 248 1 248 1 176 1 64 1-69 1-33 1-161 1-172 1-58 1 18 1 91 1 62 1 14 1-118 1-18 1 76 1-111 1-115 1-99 1-96 1-36 1-7 1 68 1 149 1 159 1 154 1 118 1 34 1-41 1-38 1-143 1-140 1-46 1 21 1 74 1 37 1 35 1-108 1-21 1 68 1-92 1-87 1-86 1-85 1-20 1 0 1 125 1 221 1 263 1 254 1 168 1 59 1-50 1-47 1-155 1-177 1-44 1 14 1 82 1 71 1 12 1-118 1-20 1 81 1-114 1-103 1-107 1-100 1-20 1-13 1 57 1 108 1 124 1 112 1 84 1 37 1-42 1-42 1-114 1-124 1-53 1 14 1 82 1 41 1 8 1-83 1-21 1 58 1-84 1-65 1-76 1-78 1-35 1 5 1 100 1 153 1 197 1 190 1 133 1 43 1-63 1-55 1-200 1-197 1-64 1 24 1 104 1 70 1 27 1-152 1-24 1 91 1-118 1-140 1-113 1-119 1-39 1-19 1 91 1 165 1 191 1 174 1 129 1 35 1-33 1-46 1-166 1-160 1-54 1 14 1 81 1 66 1 22 1-110 1-31 1 71 1-98 1-110 1-90 1-103 1-26 1 7 1 121 1 223 1 264 1 239 1 173 1 58 1-54 1-63 1-209 1-223 1-69 1 28 1 111 1 74 1 40 1-169 1-26 1 102 1-138 1-149 1-127 1-129 1-28 1-9 1 103 1 208 1 235 1 229 1 141 1 61 1-59 1-60 1-203 1-206 1-73 1 29 1 103 1 79 1 29 1-161 1-21 1 93 1-129 1-125 1-137 1-114 1-53 1 6 1 110 1 181 1 230 1 219 1 160 1 46 1-48 1-64 1-197 1-200 1-72 1 29 1 103 1 67 1 38 1-148 1-30 1 93 1-133 1-118 1-131 1-119 1-36 1 0 1 94 1 181 1 210 1 207 1 140 1 57 1-56 1-30 1-165 1-167 1-43 1 6 1 97 1 48 1 26 1-119 1-24 1 76 1-102 1-116 1-85 1-91 1-41 1-5 1 78 1 138 1 183 1 151 1 113 1 46 1-38 1-21 1-136 1-135 1-24 1 7 1 64 1 41 1 12 1-75 1-25 1 54 1-70 1-87 1-83 1-72 1-21 1 12 1 59 1 123 1 155 1 141 1 86 1 53 1-48 1-58 1-169 1-173 1-58 1 14 1 98 1 65 1 18 1-129 1-19 1 73 1-110 1-104 1-109 1-112 1-32 1 2 1 86 1 166 1 196 1 172 1 129 1 46 1-47 1-51 1-160 1-169 1-56 1 22 1 86 1 69 1 17 1-131 1-24 1 84 1-105 1-101 1-106 1-100 1-22 1-9 1 131 1 233 1 287 1 256 1 197 1 53 1-64 1-64 1-246 1-234 1-69 1 11 1 145 1 74 1 27 1-156 1-47 1 115 1-153 1-147 1-147 1-134 1-48 1-17 1 74 1 110 1 163 1 137 1 98 1 34 1-40 1-37 1-116 1-121 1-43 1 9 1 68 1 47 1 24 1-109 1-11 1 60 1-79 1-75 1-71 1-76 1-25 1 6 1 127 1 212 1 259 1 252 1 174 1 73 1-70 1-61 1-197 1-201 1-77 1 27 1 106 1 73 1 22 1-144 1-21 1 88 1-131 1-136 1-117 1-122 1-46 1-6 1 123 1 212 1 261 1 241 1 172 1 64 1-54 1-56 1-197 1-174 1-60 1 20 1 101 1 62 1 31 1-132 1-35 1 95 1-129 1-120 1-117 1-114 1-31 1-4 1 76 1 128 1 152 1 157 1 94 1 38 1-50 1-41 1-157 1-151 1-53 1 24 1 75 1 46 1 28 1-115 1-14 1 61 1-90 1-108 1-90 1-87 1-41 1 2 1 97 1 170 1 210 1 197 1 135 1 54 1-60 1-54 1-188 1-197 1-65 1 19 1 100 1 80 1 16 1-129 1-32 1 88 1-117 1-127 1-125 1-115 1-38 1-5 1 65 1 153 1 174 1 148 1 119 1 46 1-51 1-38 1-146 1-142 1-42 1 6 1 83 1 55 1 18 1-114 1-13 1 66 1-97 1-91 1-78 1-97 1-30 1 1 1 111 1 208 1 242 1 225 1 172 1 49 1-56 1-52 1-194 1-184 1-55 1 11 1 108 1 64 1 26 1-144 1-22 1 95 1-129 1-124 1-106 1-115 1-38 1-2 1 113 1 206 1 248 1 240 1 169 1 61 1-67 1-58 1-226 1-218 1-71 1 25 1 122 1 74 1 34 1-170 1-27 1 102 1-144 1-145 1-126 1-134 1-37 1-8 1 86 1 139 1 204 1 165 1 120 1 55 1-53 1-44 1-138 1-149 1-39 1 22 1 72 1 54 1 23 1-105 1-36 1 80 1-95 1-89 1-90 1-83 1-28 1 2 1 90 1 156 1 187 1 172 1 133 1 42 1-38 1-42 1-142 1-155 1-39 1 8 1 72 1 57 1 16 1-102 1-15 1 65 1-97 1-104 1-92 1-76 1-32 1-2 1 109 1 195 1 224 1 215 1 153 1 63 1-58 1-45 1-191 1-168 1-62 1 20 1 98 1 63 1 27 1-147 1-16 1 82 1-124 1-105 1-109 1-104 1-41 1-2 1 93 1 166 1 194 1 182 1 147 1 38 1-57 1-59 1-187 1-208 1-58 1 19 1 108 1 72 1 20 1-136 1-30 1 88 1-128 1-127 1-117 1-127 1-31 1 1 1 94 1 173 1 206 1 198 1 140 1 38 1-44 1-50 1-173 1-173 1-65 1 23 1 92 1 80 1 6 1-130 1-28 1 90 1-103 1-124 1-98 1-98 1-40 1-18 1 56 1 103 1 129 1 96 1 99 1 24 1-25 1-44 1-100 1-106 1-30 1 12 1 56 1 45 1 0 1-76 1-7 1 46 1-69 1-73 1-57 1-60 1-18 1 17 1 171 1 307 1 376 1 351 1 246 1 92 1-94 1-96 1-313 1-314 1-107 1 44 1 159 1 120 1 32 1-227 1-48 1 153 1-200 1-215 1-185 1-188 1-63 1-28 1 61 1 110 1 138 1 116 1 84 1 23 1-28 1-33 1-122 1-109 1-39 1 11 1 72 1 28 1 18 1-82 1-11 1 47 1-81 1-65 1-68 1-76 1-14 1 2 1 75 1 150 1 176 1 170 1 115 1 45 1-36 1-38 1-132 1-129 1-42 1 15 1 89 1 32 1 14 1-96 1-8 1 45 1-77 1-78 1-80 1-73 1-24 1-5 1 111 1 192 1 222 1 210 1 156 1 43 1-44 1-69 1-180 1-175 1-66 1 15 1 107 1 68 1 18 1-144 1-7 1 76 1-117 1-119 1-109 1-111 1-44 1-3 1 109 1 167 1 229 1 194 1 146 1 47 1-56 1-63 1-196 1-205 1-64 1 13 1 124 1 60 1 30 1-146 1-23 1 89 1-121 1-131 1-130 1-110 1-54 1 3 1 116 1 211 1 251 1 241 1 169 1 60 1-70 1-65 1-216 1-211 1-69 1 30 1 107 1 73 1 35 1-164 1-31 1 106 1-145 1-136 1-119 1-136 1-43 1-13 1 108 1 177 1 218 1 199 1 144 1 48 1-54 1-51 1-182 1-181 1-60 1 12 1 119 1 51 1 22 1-137 1-13 1 77 1-120 1-112 1-101 1-117 1-32 1-17 1 83 1 123 1 171 1 158 1 107 1 42 1-47 1-44 1-125 1-137 1-35 1 8 1 63 1 63 1 5 1-97 1-3 1 60 1-88 1-95 1-73 1-81 1-30 1-2 1 65 1 120 1 134 1 142 1 82 1 44 1-33 1-42 1-116 1-105 1-49 1 20 1 62 1 32 1 23 1-91 1-12 1 43 1-66 1-70 1-71 1-71 1-28 1 2 1 94 1 178 1 210 1 197 1 143 1 49 1-52 1-50 1-159 1-160 1-60 1 13 1 105 1 46 1 18 1-116 1-20 1 64 1-106 1-100 1-107 1-99 1-21 1-27 1 82 1 111 1 142 1 124 1 99 1 27 1-40 1-31 1-115 1-126 1-28 1 4 1 71 1 37 1 17 1-87 1-14 1 58 1-77 1-81 1-68 1-65 1-26 1 0 1 87 1 159 1 193 1 185 1 126 1 53 1-46 1-67 1-169 1-181 1-58 1 11 1 106 1 54 1 27 1-127 1-21 1 72 1-114 1-118 1-111 1-99 1-35 1-9 1 55 1 100 1 121 1 98 1 98 1 18 1-30 1-28 1-91 1-101 1-31 1 14 1 48 1 35 1 13 1-77 1-4 1 38 1-58 1-68 1-56 1-59 1-14 1 1 1 91 1 155 1 191 1 180 1 137 1 44 1-43 1-48 1-176 1-171 1-52 1 20 1 82 1 64 1 27 1-144 1-12 1 82 1-115 1-104 1-113 1-86 1-35 1-8 1 121 1 199 1 267 1 233 1 164 1 59 1-63 1-58 1-212 1-190 1-71 1 19 1 117 1 70 1 28 1-148 1-25 1 92 1-127 1-141 1-113 1-139 1-39 1-4 1 107 1 180 1 207 1 208 1 142 1 58 1-66 1-48 1-194 1-182 1-68 1 15 1 109 1 65 1 19 1-135 1-32 1 107 1-138 1-124 1-104 1-115 1-49 1 2 1 85 1 149 1 191 1 171 1 131 1 40 1-46 1-39 1-128 1-154 1-44 1 20 1 66 1 63 1 1 1-91 1-29 1 73 1-85 1-98 1-85 1-85 1-31 1 6 1 71 1 137 1 171 1 160 1 112 1 32 1-36 1-29 1-118 1-132 1-27 1 5 1 71 1 45 1 7 1-86 1-24 1 52 1-66 1-84 1-73 1-64 1-23 1-11 1 103 1 165 1 203 1 188 1 137 1 42 1-62 1-51 1-193 1-205 1-59 1 18 1 99 1 63 1 36 1-139 1-35 1 107 1-136 1-139 1-115 1-109 1-38 1-20 1 96 1 166 1 191 1 190 1 138 1 34 1-44 1-49 1-168 1-177 1-51 1 11 1 98 1 51 1 30 1-123 1-17 1 75 1-119 1-121 1-81 1-102 1-41 1-5 1 101 1 167 1 212 1 187 1 131 1 46 1-43 1-50 1-174 1-174 1-54 1 25 1 88 1 55 1 31 1-122 1-31 1 80 1-114 1-106 1-99 1-104 1-31 1-5 1 91 1 164 1 191 1 198 1 127 1 50 1-61 1-45 1-168 1-176 1-53 1 21 1 84 1 62 1 18 1-122 1-21 1 82 1-105 1-119 1-100 1-105 1-31 1 1 1 109 1 183 1 227 1 225 1 150 1 52 1-44 1-56 1-177 1-191 1-56 1 23 1 105 1 55 1 18 1-126 1-23 1 79 1-108 1-124 1-110 1-102 1-36 1-13 1 75 1 131 1 155 1 148 1 110 1 37 1-39 1-37 1-114 1-102 1-47 1 14 1 65 1 36 1 14 1-87 1-2 1 45 1-70 1-73 1-74 1-66 1-14 1-8 1 51 1 104 1 104 1 112 1 76 1 27 1-39 1-24 1-106 1-117 1-25 1 12 1 63 1 25 1 18 1-80 1-13 1 52 1-67 1-69 1-71 1-63 1-28 1 13 1 98 1 179 1 200 1 213 1 132 1 48 1-44 1-55 1-156 1-178 1-50 1 10 1 94 1 61 1 15 1-122 1-18 1 79 1-106 1-116 1-113 1-88 1-40 1-2 1 73 1 143 1 172 1 167 1 107 1 33 1-37 1-48 1-141 1-140 1-60 1 16 1 85 1 49 1 17 1-104 1-24 1 71 1-85 1-105 1-86 1-87 1-35 1 6 1 124 1 226 1 280 1 268 1 180 1 59 1-61 1-64 1-224 1-224 1-73 1 23 1 128 1 73 1 29 1-163 1-19 1 94 1-139 1-156 1-134 1-133 1-40 1 5 1 157 1 295 1 346 1 336 1 232 1 79 1-87 1-72 1-279 1-271 1-71 1 24 1 152 1 87 1 38 1-199 1-41 1 126 1-172 1-173 1-162 1-161 1-56 1-15 1 62 1 123 1 128 1 125 1 99 1 41 1-47 1-27 1-103 1-128 1-43 1 14 1 59 1 43 1 17 1-74 1-20 1 48 1-77 1-67 1-71 1-75 1-11 1 1 1 91 1 174 1 216 1 208 1 131 1 57 1-53 1-41 1-149 1-149 1-44 1 10 1 79 1 54 1 15 1-98 1-27 1 72 1-90 1-100 1-87 1-88 1-33 1-8 1 89 1 143 1 183 1 158 1 112 1 44 1-50 1-48 1-171 1-178 1-52 1 19 1 85 1 68 1 10 1-112 1-32 1 89 1-120 1-107 1-109 1-103 1-33 1-11 1 84 1 168 1 183 1 182 1 128 1 35 1-37 1-66 1-188 1-200 1-65 1 2 1 123 1 59 1 28 1-134 1-30 1 85 1-119 1-126 1-117 1-107 1-42 1-12 1 95 1 176 1 201 1 192 1 136 1 46 1-52 1-54 1-174 1-182 1-67 1 28 1 91 1 66 1 25 1-140 1-17 1 85 1-119 1-121 1-121 1-85 1-47 1-10 1 48 1 100 1 124 1 89 1 87 1 22 1-25 1-32 1-107 1-111 1-35 1 18 1 53 1 39 1 12 1-77 1-16 1 55 1-70 1-70 1-62 1-58 1-33 1 10 1 72 1 140 1 161 1 172 1 90 1 51 1-36 1-47 1-147 1-127 1-37 1 11 1 66 1 60 1 12 1-99 1-30 1 75 1-96 1-79 1-81 1-90 1-26 1 11 1 86 1 172 1 215 1 192 1 139 1 53 1-52 1-52 1-178 1-171 1-64 1 26 1 89 1 61 1 28 1-138 1-29 1 85 1-101 1-127 1-101 1-104 1-32 1-9 1 85 1 167 1 200 1 186 1 130 1 42 1-54 1-35 1-167 1-160 1-52 1 12 1 88 1 65 1 20 1-129 1-18 1 75 1-101 1-105 1-101 1-93 1-29 1-10 1 88 1 171 1 186 1 186 1 138 1 43 1-47 1-51 1-157 1-149 1-52 1 6 1 91 1 52 1 22 1-122 1-8 1 63 1-93 1-110 1-98 1-81 1-40 1-2 1 84 1 146 1 183 1 168 1 111 1 42 1-44 1-46 1-187 1-163 1-53 1 25 1 91 1 54 1 28 1-136 1-16 1 78 1-103 1-110 1-102 1-106 1-32 1-7 1 69 1 127 1 146 1 152 1 106 1 32 1-44 1-27 1-124 1-120 1-45 1 14 1 72 1 39 1 11 1-90 1-16 1 58 1-74 1-79 1-79 1-64 1-29 1 5 1 66 1 130 1 157 1 138 1 109 1 36 1-43 1-40 1-152 1-132 1-50 1 22 1 74 1 48 1 18 1-102 1-22 1 59 1-84 1-92 1-83 1-99 1-24 1 3 1 88 1 163 1 187 1 177 1 126 1 51 1-45 1-51 1-148 1-137 1-60 1 10 1 91 1 47 1 28 1-120 1-11 1 70 1-101 1-109 1-76 1-86 1-38 1-7 1 45 1 106 1 112 1 98 1 71 1 27 1-33 1-17 1-100 1-101 1-37 1 12 1 58 1 36 1 4 1-71 1-22 1 59 1-71 1-50 1-62 1-58 1-20 1 6 1 107 1 191 1 233 1 214 1 158 1 56 1-58 1-45 1-168 1-167 1-57 1 16 1 99 1 49 1 20 1-122 1-14 1 84 1-115 1-113 1-104 1-96 1-34 1-15 1 84 1 123 1 159 1 160 1 98 1 42 1-37 1-34 1-131 1-138 1-39 1 11 1 77 1 40 1 17 1-88 1-17 1 50 1-82 1-79 1-81 1-81 1-31 1 12 1 84 1 155 1 206 1 177 1 150 1 28 1-54 1-52 1-216 1-204 1-69 1 22 1 118 1 73 1 26 1-152 1-29 1 99 1-134 1-136 1-120 1-131 1-40 1 3 1 59 1 111 1 130 1 114 1 95 1 31 1-36 1-38 1-105 1-109 1-43 1 14 1 60 1 36 1 23 1-86 1-10 1 43 1-70 1-63 1-77 1-54 1-33 1 7 1 106 1 182 1 213 1 203 1 148 1 47 1-45 1-61 1-181 1-172 1-71 1 27 1 105 1 53 1 23 1-138 1-18 1 75 1-117 1-116 1-110 1-104 1-32 1-12 1 92 1 169 1 202 1 195 1 123 1 49 1-44 1-59 1-176 1-169 1-62 1 19 1 106 1 53 1 20 1-130 1-25 1 97 1-122 1-116 1-107 1-106 1-22 1-9 1 87 1 140 1 190 1 157 1 122 1 45 1-29 1-48 1-145 1-127 1-52 1 14 1 71 1 50 1 19 1-98 1-20 1 65 1-94 1-85 1-89 1-70 1-41 1 7 1 102 1 197 1 229 1 215 1 165 1 53 1-49 1-52 1-157 1-172 1-55 1 20 1 89 1 63 1 8 1-117 1-29 1 90 1-106 1-115 1-90 1-108 1-29 1-11 1 54 1 102 1 113 1 120 1 90 1 19 1-24 1-42 1-111 1-120 1-49 1 21 1 65 1 40 1 15 1-95 1-3 1 55 1-85 1-66 1-77 1-77 1-18 1 0 1 76 1 133 1 159 1 147 1 101 1 40 1-39 1-46 1-162 1-144 1-59 1 17 1 89 1 53 1 14 1-105 1-24 1 72 1-105 1-94 1-105 1-87 1-31 1-9 1 52 1 90 1 96 1 105 1 73 1 21 1-21 1-35 1-94 1-92 1-40 1 22 1 42 1 41 1 6 1-75 1-9 1 51 1-66 1-61 1-54 1-58 1-25 1-2 1 85 1 122 1 154 1 150 1 110 1 28 1-28 1-49 1-136 1-115 1-54 1 14 1 72 1 50 1 16 1-92 1-25 1 60 1-80 1-84 1-82 1-81 1-27 1-5 1 55 1 105 1 125 1 96 1 75 1 42 1-34 1-35 1-106 1-101 1-37 1 17 1 54 1 35 1 18 1-83 1-11 1 46 1-60 1-73 1-52 1-68 1-6 1-6 1 85 1 172 1 197 1 196 1 119 1 53 1-53 1-57 1-185 1-189 1-56 1 28 1 96 1 55 1 28 1-130 1-30 1 89 1-123 1-109 1-114 1-118 1-33 1-6 1 109 1 218 1 246 1 239 1 167 1 58 1-48 1-52 1-197 1-175 1-66 1 24 1 100 1 59 1 24 1-124 1-35 1 95 1-124 1-129 1-97 1-116 1-27 1-12 1 81 1 137 1 174 1 158 1 106 1 49 1-44 1-47 1-130 1-135 1-44 1 9 1 77 1 44 1 20 1-109 1-8 1 71 1-98 1-88 1-82 1-73 1-40 1 1 1 71 1 132 1 141 1 145 1 94 1 45 1-46 1-57 1-164 1-174 1-49 1 13 1 93 1 57 1 25 1-122 1-26 1 81 1-113 1-107 1-92 1-111 1-41 1-4 1 57 1 103 1 129 1 121 1 73 1 28 1-36 1-38 1-128 1-126 1-44 1 15 1 69 1 50 1 16 1-100 1-13 1 70 1-95 1-73 1-96 1-71 1-26 1 6 1 100 1 168 1 207 1 200 1 134 1 48 1-52 1-45 1-171 1-186 1-55 1 14 1 91 1 60 1 30 1-133 1-26 1 89 1-115 1-117 1-101 1-103 1-34 1-13 1 72 1 115 1 151 1 129 1 99 1 47 1-55 1-37 1-154 1-142 1-46 1 12 1 86 1 46 1 19 1-104 1-22 1 74 1-102 1-87 1-96 1-87 1-30 1 6 1 97 1 216 1 241 1 232 1 152 1 68 1-77 1-61 1-239 1-230 1-84 1 31 1 131 1 73 1 39 1-172 1-39 1 121 1-164 1-146 1-138 1-145 1-48 1-4 1 111 1 194 1 239 1 229 1 164 1 58 1-50 1-55 1-163 1-162 1-59 1 26 1 90 1 55 1 12 1-102 1-32 1 75 1-104 1-117 1-92 1-96 1-25 1-13 1 81 1 133 1 163 1 157 1 104 1 35 1-38 1-36 1-125 1-148 1-45 1 21 1 75 1 41 1 24 1-106 1-9 1 62 1-92 1-81 1-87 1-83 1-18 1-17 1 61 1 91 1 117 1 112 1 78 1 33 1-47 1-42 1-151 1-137 1-36 1 5 1 80 1 50 1 15 1-104 1-13 1 65 1-94 1-86 1-89 1-83 1-25 1-3 1 75 1 139 1 174 1 167 1 107 1 44 1-44 1-45 1-133 1-145 1-45 1 16 1 65 1 54 1 31 1-114 1-15 1 59 1-88 1-91 1-86 1-86 1-27 1-2 1 81 1 143 1 183 1 160 1 117 1 44 1-44 1-30 1-133 1-128 1-49 1 18 1 69 1 43 1 26 1-104 1-12 1 58 1-84 1-89 1-77 1-82 1-19 1 3 1 100 1 171 1 209 1 206 1 146 1 48 1-54 1-53 1-177 1-172 1-69 1 12 1 103 1 73 1 14 1-124 1-42 1 93 1-111 1-126 1-101 1-115 1-33 1-2 1 72 1 152 1 161 1 168 1 120 1 45 1-52 1-36 1-111 1-137 1-34 1 15 1 67 1 43 1 9 1-85 1-7 1 40 1-75 1-71 1-78 1-71 1-29 1-3 1 84 1 152 1 180 1 161 1 123 1 33 1-19 1-40 1-106 1-105 1-46 1 17 1 65 1 34 1 9 1-70 1-26 1 54 1-67 1-78 1-67 1-61 1-19 1-12 1 50 1 99 1 102 1 99 1 71 1 30 1-44 1-29 1-111 1-116 1-28 1 10 1 59 1 41 1 13 1-85 1-11 1 45 1-62 1-76 1-59 1-72 1-20 1-9 1 87 1 149 1 174 1 171 1 123 1 50 1-47 1-56 1-165 1-166 1-57 1 24 1 78 1 69 1 20 1-128 1-12 1 66 1-109 1-102 1-97 1-102 1-28 1-18 1 105 1 179 1 212 1 192 1 137 1 64 1-56 1-47 1-187 1-174 1-68 1 30 1 98 1 61 1 17 1-118 1-34 1 84 1-111 1-112 1-115 1-109 1-25 1-10 1 89 1 176 1 198 1 193 1 129 1 48 1-52 1-52 1-174 1-178 1-61 1 12 1 103 1 62 1 17 1-130 1-18 1 82 1-121 1-114 1-101 1-112 1-34 1-11 1 100 1 154 1 198 1 190 1 121 1 48 1-37 1-62 1-143 1-158 1-55 1 12 1 87 1 57 1 14 1-111 1-25 1 67 1-90 1-90 1-104 1-91 1-37 1-4 1 89 1 148 1 174 1 168 1 130 1 27 1-48 1-52 1-176 1-168 1-62 1 13 1 96 1 62 1 27 1-125 1-33 1 85 1-109 1-105 1-111 1-99 1-50 1-2 1 88 1 145 1 165 1 174 1 131 1 37 1-58 1-61 1-221 1-223 1-67 1 31 1 118 1 70 1 24 1-143 1-27 1 81 1-130 1-144 1-121 1-133 1-32 1-15 1 89 1 168 1 207 1 182 1 141 1 51 1-64 1-60 1-182 1-175 1-72 1 21 1 107 1 73 1 8 1-135 1-23 1 97 1-121 1-132 1-110 1-110 1-33 1-6 1 121 1 206 1 252 1 229 1 170 1 54 1-57 1-51 1-208 1-180 1-72 1 18 1 106 1 83 1 10 1-143 1-27 1 108 1-134 1-129 1-115 1-125 1-30 1-15 1 103 1 186 1 211 1 199 1 140 1 47 1-44 1-54 1-153 1-156 1-68 1 14 1 94 1 59 1 15 1-128 1-12 1 80 1-106 1-120 1-89 1-102 1-35 1-2 1 115 1 177 1 226 1 214 1 148 1 61 1-57 1-54 1-191 1-178 1-67 1 27 1 98 1 64 1 23 1-136 1-24 1 87 1-111 1-136 1-103 1-112 1-35 1-13 1 119 1 186 1 230 1 217 1 158 1 59 1-46 1-67 1-181 1-180 1-60 1 23 1 103 1 54 1 23 1-122 1-33 1 88 1-122 1-115 1-113 1-109 1-35 1 4 1 77 1 158 1 192 1 167 1 135 1 34 1-44 1-29 1-140 1-131 1-45 1 24 1 64 1 47 1 15 1-94 1-23 1 66 1-88 1-90 1-74 1-83 1-23 1-2 1 103 1 168 1 207 1 204 1 136 1 52 1-19 1-33 1-93 1-80 1-23 1 0 1 53 1 18 1 21 1-65 1-9 1 37 1-54 1-55 1-57 1-50 1-27 1 15 1 88 1 169 1 204 1 174 1 151 1 32 1-32 1-53 1-163 1-132 1-54 1 4 1 89 1 56 1 17 1-107 1-25 1 64 1-90 1-102 1-96 1-95 1-19 1-4 1 120 1 206 1 247 1 234 1 171 1 61 1-80 1-79 1-254 1-241 1-84 1 23 1 136 1 89 1 33 1-191 1-23 1 117 1-157 1-171 1-146 1-160 1-39 1-17 1 97 1 171 1 223 1 184 1 148 1 51 1-65 1-65 1-219 1-210 1-86 1 26 1 125 1 70 1 19 1-152 1-26 1 93 1-131 1-145 1-130 1-133 1-48 1-7 1 112 1 185 1 226 1 215 1 150 1 58 1-70 1-74 1-229 1-240 1-75 1 28 1 127 1 80 1 29 1-172 1-30 1 112 1-163 1-149 1-137 1-144 1-44 1-6 1 109 1 183 1 244 1 222 1 164 1 52 1-62 1-45 1-183 1-180 1-57 1 15 1 105 1 60 1 29 1-147 1-13 1 85 1-123 1-108 1-110 1-104 1-39 1-5 1 85 1 160 1 192 1 177 1 126 1 47 1-65 1-57 1-193 1-188 1-73 1 29 1 101 1 67 1 29 1-142 1-27 1 78 1-115 1-128 1-122 1-114 1-42 1 1 1 80 1 122 1 188 1 163 1 113 1 38 1-58 1-75 1-226 1-231 1-74 1 28 1 127 1 85 1 14 1-155 1-35 1 96 1-138 1-153 1-132 1-141 1-42 1-5 1 110 1 217 1 257 1 233 1 165 1 69 1-64 1-54 1-189 1-169 1-67 1 31 1 94 1 60 1 23 1-132 1-24 1 88 1-119 1-122 1-111 1-109 1-39 1-6 1 114 1 172 1 212 1 204 1 135 1 53 1-71 1-77 1-256 1-244 1-83 1 21 1 140 1 82 1 38 1-186 1-27 1 119 1-168 1-151 1-165 1-153 1-46 1-7 1 125 1 236 1 274 1 258 1 193 1 66 1-77 1-78 1-264 1-263 1-93 1 41 1 139 1 86 1 42 1-197 1-32 1 118 1-174 1-174 1-154 1-153 1-57 1-8 1 146 1 282 1 308 1 312 1 202 1 78 1-99 1-100 1-326 1-324 1-114 1 31 1 187 1 112 1 49 1-252 1-36 1 155 1-215 1-212 1-200 1-204 1-64 1-14 1 160 1 296 1 338 1 319 1 226 1 100 1-80 1-90 1-265 1-266 1-96 1 34 1 155 1 82 1 35 1-200 1-37 1 129 1-173 1-173 1-157 1-167 1-60 1-2 1 172 1 325 1 389 1 346 1 253 1 102 1-87 1-98 1-301 1-290 1-103 1 34 1 166 1 103 1 33 1-216 1-39 1 148 1-214 1-181 1-183 1-174 1-67 1 0 1 154 1 286 1 339 1 334 1 228 1 81 1-98 1-71 1-299 1-287 1-102 1 30 1 163 1 99 1 38 1-209 1-41 1 143 1-195 1-188 1-177 1-179 1-57 1-8 1 157 1 300 1 329 1 324 1 229 1 88 1-84 1-78 1-249 1-245 1-87 1 26 1 133 1 89 1 38 1-183 1-34 1 116 1-159 1-168 1-143 1-150 1-55 1-3 1 134 1 249 1 278 1 277 1 194 1 68 1-72 1-68 1-255 1-231 1-87 1 22 1 145 1 79 1 37 1-186 1-26 1 116 1-168 1-156 1-137 1-155 1-44 1-16 1 154 1 275 1 317 1 303 1 208 1 78 1-71 1-64 1-217 1-228 1-85 1 25 1 130 1 77 1 30 1-166 1-22 1 93 1-139 1-149 1-123 1-147 1-50 1 11 1 118 1 244 1 294 1 276 1 180 1 73 1-66 1-60 1-212 1-222 1-63 1 14 1 130 1 70 1 31 1-170 1-14 1 97 1-148 1-137 1-138 1-127 1-37 1-5 1 144 1 230 1 281 1 265 1 195 1 66 1-60 1-68 1-195 1-195 1-66 1 19 1 114 1 65 1 33 1-156 1-28 1 95 1-129 1-128 1-126 1-111 1-32 1-7 1 104 1 197 1 241 1 225 1 162 1 66 1-71 1-62 1-231 1-220 1-82 1 26 1 131 1 65 1 29 1-154 1-37 1 102 1-141 1-152 1-131 1-139 1-41 1-4 1 123 1 224 1 273 1 258 1 182 1 64 1-77 1-82 1-259 1-257 1-87 1 27 1 136 1 90 1 43 1-195 1-31 1 120 1-168 1-166 1-152 1-151 1-64 1-15 1 128 1 203 1 257 1 235 1 174 1 58 1-76 1-65 1-263 1-249 1-73 1 13 1 141 1 85 1 32 1-180 1-31 1 115 1-164 1-175 1-149 1-140 1-50 1-11 1 137 1 249 1 296 1 263 1 201 1 83 1-71 1-76 1-245 1-242 1-76 1 32 1 124 1 80 1 35 1-174 1-37 1 115 1-151 1-162 1-137 1-155 1-46 1 2 1 134 1 243 1 314 1 272 1 192 1 87 1-86 1-73 1-269 1-251 1-92 1 24 1 141 1 89 1 34 1-196 1-33 1 123 1-163 1-174 1-174 1-153 1-46 1-8 1 132 1 242 1 274 1 279 1 189 1 58 1-59 1-91 1-255 1-269 1-91 1 30 1 143 1 95 1 32 1-189 1-39 1 128 1-181 1-163 1-168 1-153 1-54 1-13 1 158 1 281 1 316 1 324 1 203 1 82 1-73 1-86 1-260 1-274 1-75 1 17 1 147 1 99 1 36 1-203 1-28 1 121 1-168 1-166 1-161 1-155 1-50 1-12 1 139 1 264 1 326 1 298 1 211 1 73 1-67 1-69 1-240 1-247 1-87 1 41 1 139 1 68 1 37 1-177 1-38 1 118 1-149 1-153 1-153 1-139 1-55 1 4 1 150 1 281 1 326 1 312 1 216 1 77 1-49 1-52 1-200 1-179 1-63 1 20 1 98 1 66 1 27 1-138 1-17 1 86 1-123 1-122 1-112 1-113 1-36 1-1 1 125 1 199 1 255 1 247 1 163 1 62 1-46 1-39 1-162 1-161 1-64 1 29 1 85 1 58 1 18 1-120 1-10 1 78 1-120 1-100 1-92 1-103 1-32 1 15 1 112 1 209 1 267 1 243 1 167 1 69 1-69 1-75 1-238 1-251 1-70 1 13 1 146 1 75 1 39 1-183 1-38 1 112 1-158 1-151 1-146 1-145 1-50 1-4 1 114 1 217 1 254 1 246 1 172 1 69 1-62 1-56 1-206 1-201 1-72 1 32 1 89 1 85 1 20 1-147 1-9 1 83 1-139 1-112 1-136 1-112 1-43 1-9 1 114 1 176 1 228 1 211 1 142 1 41 1-57 1-74 1-238 1-238 1-86 1 21 1 139 1 79 1 37 1-190 1-12 1 102 1-157 1-155 1-138 1-145 1-53 1-13 1 105 1 174 1 203 1 196 1 148 1 52 1-64 1-79 1-202 1-210 1-76 1 17 1 122 1 85 1 22 1-154 1-29 1 103 1-141 1-135 1-134 1-126 1-36 1-5 1 103 1 189 1 234 1 223 1 172 1 43 1-64 1-66 1-211 1-219 1-71 1 7 1 128 1 78 1 28 1-158 1-30 1 104 1-142 1-145 1-128 1-127 1-48 1-1 1 123 1 211 1 245 1 232 1 165 1 57 1-47 1-54 1-191 1-186 1-53 1 16 1 96 1 68 1 26 1-125 1-40 1 88 1-116 1-117 1-106 1-115 1-37 1-11 1 110 1 163 1 219 1 194 1 153 1 44 1-61 1-52 1-183 1-196 1-67 1 30 1 105 1 57 1 31 1-148 1-16 1 92 1-129 1-135 1-103 1-118 1-39 1-1 1 85 1 174 1 202 1 202 1 136 1 54 1-79 1-67 1-228 1-227 1-66 1 25 1 119 1 71 1 41 1-171 1-25 1 104 1-150 1-137 1-133 1-142 1-42 1-5 1 124 1 217 1 269 1 244 1 179 1 59 1-72 1-71 1-238 1-245 1-78 1 10 1 148 1 80 1 28 1-165 1-35 1 112 1-156 1-157 1-149 1-155 1-46 1-6 1 119 1 218 1 242 1 240 1 177 1 55 1-73 1-73 1-247 1-250 1-82 1 20 1 137 1 86 1 35 1-181 1-45 1 135 1-177 1-157 1-148 1-147 1-51 1 1 1 166 1 285 1 360 1 319 1 234 1 107 1-100 1-99 1-303 1-302 1-103 1 32 1 166 1 99 1 48 1-226 1-28 1 134 1-191 1-210 1-186 1-173 1-52 1-16 1 151 1 268 1 319 1 306 1 234 1 59 1-68 1-77 1-265 1-248 1-80 1 28 1 134 1 83 1 31 1-179 1-33 1 110 1-157 1-175 1-148 1-154 1-48 1-11 1 136 1 236 1 280 1 269 1 185 1 69 1-56 1-59 1-193 1-203 1-56 1 23 1 106 1 61 1 30 1-142 1-26 1 89 1-127 1-126 1-106 1-119 1-32 1-23 1 94 1 168 1 209 1 186 1 142 1 50 1-47 1-58 1-180 1-187 1-63 1 30 1 94 1 62 1 29 1-127 1-28 1 86 1-121 1-118 1-107 1-108 1-39 1 8 1 133 1 264 1 295 1 284 1 209 1 77 1-94 1-77 1-284 1-277 1-89 1 30 1 148 1 98 1 43 1-209 1-39 1 131 1-180 1-178 1-167 1-162 1-53 1-18 1 175 1 291 1 364 1 327 1 242 1 68 1-69 1-87 1-302 1-292 1-82 1 20 1 158 1 110 1 29 1-208 1-37 1 133 1-189 1-185 1-193 1-162 1-57 1-15 1 172 1 291 1 366 1 334 1 241 1 86 1-86 1-88 1-299 1-280 1-98 1 31 1 155 1 101 1 36 1-203 1-46 1 138 1-189 1-191 1-165 1-185 1-58 1 0 1 161 1 287 1 365 1 331 1 242 1 88 1-76 1-80 1-265 1-255 1-78 1 19 1 147 1 91 1 29 1-183 1-31 1 107 1-153 1-178 1-144 1-162 1-50 1-8 1 142 1 227 1 286 1 273 1 187 1 64 1-69 1-81 1-249 1-262 1-87 1 19 1 148 1 90 1 29 1-176 1-44 1 127 1-165 1-175 1-149 1-158 1-38 1-19 1 119 1 203 1 253 1 218 1 168 1 65 1-43 1-47 1-158 1-141 1-48 1 12 1 83 1 50 1 17 1-106 1-23 1 79 1-102 1-94 1-91 1-88 1-27 1-7 1 64 1 130 1 153 1 132 1 97 1 42 1-39 1-32 1-127 1-131 1-39 1 16 1 70 1 49 1 7 1-91 1-20 1 54 1-73 1-83 1-65 1-85 1-24 1 2 1 125 1 217 1 257 1 256 1 168 1 61 1-63 1-69 1-245 1-235 1-82 1 26 1 137 1 76 1 27 1-166 1-32 1 114 1-163 1-160 1-126 1-153 1-48 1 0 1 129 1 231 1 275 1 255 1 182 1 69 1-71 1-66 1-220 1-240 1-75 1 34 1 113 1 84 1 32 1-175 1-10 1 102 1-159 1-143 1-133 1-148 1-41 1 3 1 124 1 218 1 268 1 273 1 171 1 69 1-53 1-66 1-190 1-201 1-75 1 26 1 107 1 68 1 27 1-147 1-16 1 88 1-133 1-121 1-119 1-125 1-41 1 2 1 89 1 149 1 190 1 181 1 120 1 45 1-47 1-63 1-157 1-162 1-56 1 8 1 100 1 65 1 17 1-120 1-19 1 73 1-107 1-106 1-97 1-105 1-21 1-14 1 113 1 190 1 245 1 199 1 171 1 51 1-60 1-46 1-177 1-168 1-67 1 16 1 95 1 64 1 21 1-130 1-18 1 83 1-128 1-101 1-115 1-100 1-42 1 5 1 93 1 174 1 212 1 195 1 145 1 47 1-35 1-43 1-119 1-116 1-46 1 12 1 71 1 32 1 20 1-92 1-9 1 56 1-86 1-69 1-82 1-72 1-22 1-5 1 86 1 137 1 179 1 163 1 102 1 52 1-41 1-61 1-149 1-144 1-69 1 12 1 89 1 48 1 29 1-118 1-14 1 68 1-109 1-97 1-93 1-84 1-39 1-1 1 71 1 150 1 168 1 168 1 102 1 56 1-56 1-62 1-155 1-160 1-63 1 16 1 92 1 70 1 12 1-110 1-42 1 86 1-105 1-113 1-99 1-92 1-46 1 2 1 88 1 127 1 170 1 163 1 117 1 49 1-52 1-48 1-139 1-147 1-37 1 7 1 80 1 60 1 20 1-110 1-23 1 66 1-91 1-94 1-86 1-87 1-31 1-1 1 107 1 182 1 225 1 202 1 154 1 43 1-44 1-53 1-168 1-176 1-60 1 20 1 98 1 62 1 17 1-128 1-25 1 78 1-105 1-105 1-113 1-96 1-37 1-17 1 89 1 158 1 184 1 171 1 132 1 33 1-40 1-56 1-135 1-158 1-42 1 8 1 92 1 42 1 26 1-108 1-23 1 67 1-97 1-102 1-86 1-72 1-41 1 4 1 74 1 140 1 184 1 164 1 111 1 44 1-51 1-36 1-141 1-146 1-36 1 13 1 82 1 42 1 15 1-105 1-12 1 69 1-91 1-88 1-91 1-91 1-10 1-4 1 62 1 154 1 160 1 167 1 103 1 41 1-25 1-32 1-89 1-95 1-37 1 13 1 60 1 32 1 10 1-68 1-14 1 46 1-66 1-58 1-57 1-54 1-22 1 11 1 73 1 158 1 184 1 172 1 121 1 46 1-50 1-50 1-168 1-183 1-56 1 19 1 83 1 80 1 14 1-134 1-22 1 80 1-101 1-115 1-112 1-101 1-44 1 2 1 95 1 167 1 206 1 188 1 140 1 45 1-50 1-56 1-166 1-174 1-68 1 20 1 102 1 56 1 27 1-143 1-6 1 66 1-101 1-120 1-101 1-104 1-42 1-7 1 75 1 127 1 135 1 143 1 106 1 38 1-38 1-35 1-125 1-110 1-45 1 17 1 56 1 39 1 25 1-91 1-20 1 64 1-75 1-87 1-70 1-68 1-32 1 7 1 109 1 166 1 215 1 191 1 151 1 52 1-55 1-51 1-164 1-180 1-56 1 11 1 90 1 76 1 22 1-127 1-24 1 81 1-116 1-117 1-92 1-103 1-33 1-20 1 85 1 166 1 184 1 164 1 118 1 44 1-47 1-54 1-170 1-167 1-69 1 28 1 100 1 55 1 28 1-133 1-28 1 91 1-123 1-116 1-94 1-96 1-36 1-7 1 97 1 163 1 193 1 185 1 128 1 56 1-63 1-44 1-161 1-154 1-66 1 28 1 78 1 59 1 31 1-121 1-32 1 79 1-99 1-107 1-97 1-92 1-35 1-1 1 103 1 179 1 228 1 201 1 151 1 50 1-50 1-50 1-160 1-164 1-50 1 14 1 97 1 52 1 17 1-115 1-24 1 83 1-118 1-96 1-103 1-96 1-37 1-1 1 75 1 130 1 145 1 147 1 94 1 32 1-19 1-41 1-130 1-126 1-36 1 13 1 66 1 41 1 11 1-84 1-7 1 53 1-83 1-74 1-76 1-72 1-23 1-9 1 86 1 146 1 170 1 158 1 105 1 50 1-67 1-57 1-193 1-218 1-62 1 24 1 112 1 56 1 44 1-155 1-36 1 98 1-122 1-142 1-121 1-125 1-46 1 0 1 106 1 181 1 244 1 208 1 149 1 63 1-61 1-55 1-202 1-191 1-72 1 20 1 112 1 69 1 22 1-141 1-20 1 80 1-123 1-129 1-107 1-127 1-45 1 1 1 116 1 179 1 226 1 211 1 153 1 50 1-53 1-62 1-191 1-198 1-70 1 29 1 101 1 74 1 24 1-144 1-33 1 101 1-136 1-114 1-123 1-122 1-38 1 5 1 128 1 213 1 281 1 245 1 186 1 63 1-76 1-61 1-212 1-205 1-80 1 25 1 119 1 67 1 43 1-167 1-28 1 105 1-153 1-125 1-135 1-130 1-32 1-11 1 104 1 180 1 227 1 216 1 154 1 67 1-71 1-56 1-206 1-199 1-71 1 29 1 109 1 76 1 21 1-138 1-37 1 102 1-133 1-126 1-121 1-123 1-35 1-7 1 127 1 204 1 269 1 237 1 168 1 84 1-57 1-54 1-174 1-159 1-60 1 24 1 85 1 66 1 13 1-104 1-28 1 60 1-101 1-103 1-116 1-94 1-34 1 0 1 67 1 128 1 165 1 134 1 106 1 30 1-31 1-21 1-104 1-108 1-36 1 16 1 56 1 31 1 15 1-79 1-10 1 54 1-63 1-80 1-56 1-62 1-21 1 4 1 58 1 124 1 126 1 131 1 78 1 40 1-37 1-42 1-136 1-126 1-47 1 15 1 59 1 58 1 28 1-112 1-27 1 80 1-108 1-70 1-85 1-72 1-28 1 5 1 102 1 189 1 205 1 220 1 140 1 54 1-48 1-57 1-176 1-175 1-61 1 19 1 102 1 62 1 21 1-134 1-30 1 82 1-109 1-118 1-102 1-111 1-30 1-6 1 104 1 176 1 206 1 217 1 138 1 54 1-58 1-56 1-159 1-157 1-74 1 19 1 105 1 50 1 22 1-113 1-38 1 81 1-110 1-103 1-104 1-102 1-40 1 1 1 70 1 151 1 187 1 146 1 124 1 46 1-41 1-28 1-136 1-112 1-49 1 2 1 69 1 51 1 20 1-102 1-11 1 57 1-84 1-73 1-85 1-60 1-43 1 13 1 79 1 149 1 173 1 169 1 121 1 43 1-41 1-38 1-126 1-134 1-46 1 4 1 75 1 46 1 17 1-98 1-14 1 66 1-86 1-104 1-80 1-70 1-33 1 5 1 159 1 304 1 349 1 328 1 251 1 80 1-82 1-74 1-275 1-254 1-83 1 34 1 134 1 90 1 40 1-191 1-29 1 114 1-174 1-169 1-154 1-157 1-45 1-17 1 72 1 145 1 177 1 155 1 112 1 42 1-35 1-34 1-131 1-133 1-34 1 18 1 64 1 51 1 10 1-90 1-23 1 63 1-87 1-88 1-63 1-73 1-32 1 2 1 85 1 156 1 179 1 176 1 134 1 35 1-63 1-64 1-190 1-198 1-76 1 30 1 106 1 66 1 26 1-143 1-21 1 83 1-123 1-129 1-132 1-113 1-31 1-14 1 61 1 113 1 139 1 112 1 89 1 35 1-32 1-39 1-120 1-109 1-43 1 14 1 59 1 42 1 24 1-90 1-28 1 69 1-83 1-72 1-80 1-65 1-21 1 5 1 101 1 181 1 226 1 222 1 136 1 63 1-57 1-68 1-201 1-206 1-68 1 20 1 115 1 76 1 16 1-145 1-36 1 99 1-134 1-131 1-129 1-115 1-37 1-19 1 82 1 106 1 140 1 137 1 87 1 37 1-42 1-41 1-155 1-139 1-50 1 10 1 82 1 43 1 31 1-100 1-32 1 66 1-89 1-104 1-90 1-76 1-31 1 0 1 75 1 147 1 180 1 177 1 117 1 46 1-48 1-50 1-163 1-171 1-58 1 17 1 93 1 60 1 18 1-123 1-17 1 74 1-104 1-106 1-101 1-93 1-43 1 9 1 87 1 181 1 194 1 198 1 148 1 48 1-39 1-47 1-143 1-151 1-27 1 2 1 86 1 44 1 16 1-102 1-18 1 69 1-92 1-92 1-90 1-71 1-33 1-1 1 68 1 122 1 138 1 134 1 103 1 48 1-44 1-31 1-133 1-130 1-38 1 12 1 74 1 52 1 16 1-101 1-20 1 55 1-73 1-84 1-76 1-79 1-19 1 5 1 88 1 179 1 211 1 207 1 135 1 60 1-55 1-64 1-184 1-191 1-66 1 27 1 93 1 76 1 18 1-126 1-32 1 89 1-121 1-125 1-99 1-121 1-32 1-13 1 82 1 152 1 178 1 172 1 110 1 49 1-59 1-44 1-193 1-167 1-71 1 27 1 94 1 65 1 19 1-128 1-30 1 87 1-117 1-121 1-96 1-117 1-30 1 4 1 96 1 192 1 217 1 225 1 148 1 54 1-42 1-64 1-166 1-186 1-59 1 27 1 103 1 51 1 23 1-130 1-18 1 85 1-118 1-109 1-118 1-92 1-35 1-10 1 84 1 135 1 166 1 160 1 111 1 33 1-45 1-40 1-167 1-169 1-47 1 14 1 90 1 53 1 25 1-119 1-19 1 70 1-99 1-119 1-89 1-97 1-37 1-2 1 76 1 138 1 168 1 157 1 109 1 31 1-29 1-38 1-124 1-130 1-48 1 28 1 61 1 44 1 19 1-95 1-8 1 48 1-78 1-75 1-87 1-71 1-26 1 12 1 84 1 160 1 187 1 177 1 144 1 37 1-39 1-46 1-128 1-127 1-49 1 18 1 72 1 41 1 21 1-102 1-8 1 43 1-82 1-83 1-70 1-76 1-33 1-8 1 53 1 120 1 149 1 122 1 93 1 40 1-36 1-25 1-94 1-97 1-38 1 5 1 66 1 35 1 3 1-57 1-35 1 57 1-70 1-70 1-43 1-61 1-36 1 12 1 78 1 137 1 163 1 157 1 117 1 43 1-57 1-56 1-189 1-177 1-70 1 33 1 94 1 57 1 27 1-130 1-18 1 84 1-122 1-121 1-107 1-104 1-41 1-10 1 111 1 209 1 235 1 232 1 154 1 37 1-40 1-56 1-192 1-190 1-61 1 11 1 108 1 57 1 41 1-152 1-30 1 107 1-139 1-114 1-127 1-120 1-31 1-10 1 89 1 146 1 177 1 177 1 120 1 41 1-50 1-35 1-168 1-156 1-59 1 14 1 92 1 49 1 33 1-120 1-19 1 70 1-104 1-102 1-91 1-102 1-30 1-6 1 117 1 194 1 246 1 238 1 154 1 64 1-67 1-58 1-176 1-187 1-52 1 24 1 93 1 61 1 31 1-143 1-25 1 84 1-124 1-116 1-105 1-113 1-39 1 5 1 105 1 209 1 255 1 237 1 144 1 75 1-67 1-70 1-216 1-216 1-76 1 32 1 113 1 86 1 20 1-162 1-19 1 85 1-127 1-154 1-125 1-136 1-39 1-26 1 93 1 149 1 189 1 174 1 125 1 46 1-39 1-34 1-117 1-113 1-45 1 9 1 70 1 37 1 18 1-83 1-16 1 55 1-80 1-77 1-78 1-61 1-19 1-12 1 106 1 177 1 202 1 207 1 148 1 50 1-46 1-54 1-158 1-166 1-56 1 7 1 92 1 67 1 14 1-116 1-28 1 85 1-115 1-102 1-99 1-101 1-34 1-9 1 39 1 47 1 85 1 78 1 52 1 21 1-39 1-39 1-81 1-102 1-24 1-4 1 56 1 33 1 7 1-71 1-10 1 53 1-59 1-63 1-54 1-75 1-9 1 4 1 119 1 202 1 268 1 231 1 175 1 64 1-57 1-80 1-211 1-221 1-76 1 24 1 115 1 84 1 25 1-161 1-28 1 99 1-138 1-150 1-122 1-127 1-51 1-16 1 102 1 167 1 200 1 186 1 136 1 46 1-40 1-66 1-164 1-160 1-67 1 23 1 87 1 70 1 9 1-115 1-12 1 64 1-104 1-105 1-105 1-92 1-46 1 6 1 143 1 245 1 312 1 290 1 206 1 69 1-80 1-65 1-244 1-256 1-77 1 27 1 125 1 100 1 26 1-171 1-40 1 110 1-162 1-148 1-158 1-148 1-44 1-27 1 93 1 147 1 165 1 173 1 98 1 45 1-42 1-54 1-161 1-169 1-42 1 21 1 93 1 47 1 28 1-126 1-25 1 80 1-103 1-116 1-90 1-99 1-36 1 8 1 102 1 167 1 235 1 214 1 144 1 56 1-39 1-46 1-141 1-139 1-50 1 27 1 75 1 36 1 25 1-110 1-14 1 73 1-100 1-83 1-90 1-88 1-32 1 9 1 95 1 176 1 208 1 215 1 129 1 48 1-62 1-56 1-212 1-206 1-63 1 24 1 113 1 67 1 23 1-152 1-17 1 97 1-133 1-142 1-119 1-123 1-41 1-10 1 83 1 147 1 170 1 158 1 114 1 45 1-55 1-64 1-176 1-188 1-58 1 22 1 105 1 58 1 26 1-143 1-15 1 82 1-125 1-116 1-114 1-112 1-25 1-14 1 80 1 127 1 173 1 154 1 105 1 50 1-53 1-53 1-166 1-178 1-55 1 18 1 98 1 60 1 23 1-125 1-16 1 69 1-112 1-107 1-100 1-104 1-35 1-8 1 65 1 142 1 150 1 145 1 107 1 39 1-38 1-43 1-144 1-142 1-36 1 10 1 75 1 45 1 22 1-102 1-20 1 74 1-95 1-81 1-82 1-88 1-24 1-13 1 86 1 163 1 188 1 178 1 126 1 44 1-55 1-49 1-176 1-179 1-66 1 26 1 88 1 69 1 16 1-118 1-26 1 77 1-115 1-113 1-117 1-97 1-36 1 3 1 123 1 241 1 287 1 279 1 181 1 73 1-78 1-75 1-236 1-249 1-84 1 29 1 137 1 87 1 30 1-175 1-44 1 118 1-152 1-164 1-141 1-136 1-71 1-7 1 146 1 231 1 278 1 270 1 191 1 67 1-58 1-55 1-192 1-186 1-61 1 17 1 112 1 49 1 41 1-146 1-28 1 88 1-122 1-127 1-102 1-118 1-38 1-4 1 92 1 153 1 206 1 183 1 130 1 47 1-58 1-54 1-190 1-186 1-64 1 16 1 113 1 52 1 35 1-142 1-23 1 90 1-114 1-139 1-100 1-113 1-46 1-2 1 81 1 160 1 196 1 182 1 126 1 56 1-71 1-63 1-210 1-215 1-63 1 12 1 115 1 85 1 21 1-163 1-22 1 106 1-139 1-146 1-133 1-113 1-48 1-4 1 96 1 171 1 212 1 201 1 128 1 61 1-58 1-65 1-189 1-193 1-71 1 31 1 98 1 65 1 28 1-138 1-27 1 99 1-134 1-129 1-119 1-113 1-37 1 1 1 130 1 236 1 281 1 276 1 193 1 68 1-71 1-73 1-232 1-243 1-82 1 18 1 135 1 81 1 27 1-166 1-42 1 116 1-152 1-167 1-130 1-146 1-53 1-10 1 132 1 236 1 266 1 258 1 170 1 72 1-64 1-65 1-241 1-227 1-84 1 24 1 133 1 77 1 34 1-171 1-41 1 114 1-148 1-150 1-145 1-143 1-48 1-7 1 149 1 263 1 293 1 295 1 207 1 72 1-57 1-76 1-235 1-244 1-67 1 21 1 121 1 85 1 36 1-183 1-17 1 102 1-150 1-157 1-137 1-139 1-52 1-4 1 82 1 165 1 189 1 190 1 131 1 42 1-43 1-22 1-139 1-131 1-33 1 11 1 64 1 51 1 16 1-106 1-4 1 59 1-76 1-89 1-77 1-91 1-23 1 5 1 30 1 87 1 102 1 87 1 67 1 29 1-28 1-36 1-111 1-105 1-34 1 3 1 69 1 27 1 21 1-82 1-8 1 45 1-66 1-65 1-73 1-64 1-25 1-1 1 60 1 95 1 125 1 103 1 66 1 27 1-32 1-33 1-118 1-116 1-28 1 8 1 55 1 40 1 20 1-83 1-15 1 55 1-74 1-71 1-80 1-67 1-25 1-7 1 106 1 185 1 210 1 213 1 132 1 56 1-54 1-59 1-191 1-177 1-60 1 5 1 113 1 57 1 35 1-142 1-20 1 81 1-117 1-119 1-123 1-106 1-26 1-10 1 134 1 233 1 277 1 262 1 185 1 71 1-70 1-82 1-257 1-239 1-93 1 28 1 142 1 82 1 38 1-185 1-31 1 110 1-167 1-153 1-159 1-134 1-56 1-13 1 79 1 173 1 190 1 198 1 121 1 45 1-44 1-34 1-169 1-159 1-54 1 21 1 96 1 46 1 15 1-105 1-28 1 78 1-104 1-104 1-87 1-110 1-18 1 1 1 142 1 239 1 293 1 281 1 196 1 62 1-87 1-76 1-296 1-303 1-99 1 29 1 170 1 92 1 43 1-214 1-41 1 132 1-189 1-193 1-169 1-178 1-55 1-13 1 140 1 251 1 297 1 286 1 201 1 76 1-60 1-50 1-186 1-181 1-62 1 24 1 106 1 63 1 8 1-126 1-25 1 89 1-118 1-134 1-91 1-114 1-37 1-1 1 87 1 152 1 184 1 176 1 118 1 54 1-60 1-57 1-172 1-164 1-50 1 1 1 98 1 64 1 15 1-120 1-26 1 87 1-120 1-110 1-104 1-112 1-31 1 7 1 113 1 217 1 271 1 245 1 173 1 65 1-77 1-78 1-247 1-264 1-71 1 27 1 126 1 84 1 45 1-183 1-30 1 107 1-159 1-159 1-157 1-156 1-47 1-21 1 90 1 154 1 184 1 168 1 118 1 46 1-55 1-51 1-183 1-182 1-54 1 25 1 85 1 67 1 29 1-135 1-22 1 91 1-125 1-111 1-116 1-107 1-42 1 4 1 116 1 214 1 254 1 244 1 159 1 65 1-57 1-64 1-199 1-200 1-72 1 17 1 118 1 74 1 23 1-159 1-14 1 84 1-124 1-136 1-117 1-114 1-46 1-15 1 141 1 226 1 282 1 261 1 183 1 66 1-77 1-57 1-227 1-225 1-72 1 26 1 114 1 90 1 14 1-164 1-24 1 110 1-154 1-147 1-142 1-128 1-47 1-6 1 143 1 252 1 306 1 284 1 197 1 71 1-73 1-74 1-221 1-218 1-82 1 34 1 125 1 63 1 46 1-167 1-31 1 97 1-136 1-152 1-129 1-131 1-52 1-5 1 130 1 217 1 264 1 240 1 179 1 65 1-57 1-52 1-191 1-182 1-58 1 17 1 98 1 65 1 20 1-124 1-32 1 84 1-115 1-127 1-109 1-108 1-48 1 2 1 60 1 134 1 155 1 143 1 102 1 37 1-42 1-26 1-137 1-119 1-44 1 25 1 73 1 34 1 14 1-92 1-12 1 55 1-81 1-70 1-89 1-59 1-31 1-5 1 100 1 156 1 185 1 191 1 123 1 50 1-64 1-67 1-211 1-216 1-77 1 27 1 117 1 82 1 23 1-164 1-27 1 103 1-136 1-140 1-134 1-134 1-37 1-17 1 84 1 127 1 173 1 148 1 115 1 31 1-37 1-30 1-124 1-125 1-36 1 11 1 67 1 35 1 13 1-81 1-18 1 56 1-77 1-81 1-80 1-71 1-23 1 2 1 85 1 177 1 198 1 196 1 132 1 46 1-55 1-61 1-186 1-182 1-59 1 5 1 111 1 55 1 32 1-135 1-31 1 92 1-124 1-119 1-120 1-116 1-30 1-15 1 123 1 194 1 248 1 227 1 140 1 61 1-55 1-43 1-199 1-191 1-61 1 19 1 110 1 62 1 30 1-143 1-29 1 94 1-126 1-122 1-116 1-118 1-35 1-6 1 114 1 180 1 218 1 219 1 147 1 57 1-71 1-51 1-197 1-205 1-69 1 25 1 106 1 72 1 28 1-144 1-26 1 93 1-134 1-126 1-121 1-121 1-37 1-1 1 92 1 169 1 207 1 181 1 141 1 49 1-43 1-52 1-135 1-148 1-42 1 17 1 73 1 48 1 21 1-98 1-21 1 69 1-96 1-94 1-91 1-84 1-25 1-3 1 100 1 158 1 211 1 188 1 148 1 49 1-50 1-43 1-158 1-152 1-62 1 21 1 84 1 59 1 28 1-127 1-24 1 86 1-104 1-106 1-95 1-88 1-48 1 1 1 110 1 185 1 207 1 196 1 151 1 50 1-64 1-81 1-241 1-267 1-76 1 40 1 136 1 74 1 35 1-181 1-38 1 110 1-155 1-151 1-158 1-144 1-53 1-15 1 115 1 206 1 237 1 232 1 155 1 62 1-68 1-62 1-222 1-213 1-73 1 27 1 116 1 83 1 8 1-144 1-32 1 104 1-141 1-146 1-125 1-131 1-39 1-9 1 116 1 189 1 261 1 229 1 158 1 53 1-48 1-65 1-221 1-214 1-62 1 24 1 114 1 64 1 32 1-160 1-24 1 99 1-141 1-135 1-130 1-122 1-44 1-12 1 114 1 199 1 231 1 223 1 161 1 61 1-68 1-67 1-183 1-195 1-70 1 22 1 111 1 67 1 17 1-146 1-29 1 96 1-123 1-137 1-111 1-121 1-36 1-16 1 115 1 211 1 244 1 229 1 163 1 56 1-58 1-63 1-196 1-211 1-61 1 5 1 115 1 73 1 26 1-155 1-22 1 108 1-140 1-124 1-130 1-121 1-47 1-4 1 149 1 248 1 301 1 288 1 203 1 84 1-69 1-65 1-195 1-190 1-72 1 19 1 115 1 59 1 34 1-148 1-27 1 81 1-116 1-128 1-125 1-113 1-43 1 6 1 93 1 188 1 231 1 200 1 158 1 54 1-48 1-52 1-183 1-173 1-69 1 18 1 105 1 65 1 18 1-127 1-30 1 83 1-112 1-118 1-112 1-109 1-25 1-10 1 112 1 195 1 218 1 221 1 154 1 55 1-82 1-79 1-293 1-275 1-90 1 27 1 152 1 103 1 33 1-200 1-42 1 134 1-194 1-168 1-172 1-167 1-52 1-16 1 145 1 248 1 296 1 284 1 189 1 75 1-77 1-64 1-258 1-246 1-87 1 21 1 143 1 87 1 28 1-183 1-38 1 135 1-173 1-160 1-148 1-155 1-44 1-6 1 100 1 184 1 216 1 226 1 153 1 58 1-62 1-56 1-185 1-176 1-65 1 27 1 90 1 71 1 30 1-154 1-21 1 87 1-120 1-112 1-121 1-100 1-51 1 6 1 132 1 204 1 255 1 257 1 168 1 69 1-66 1-57 1-243 1-216 1-78 1 31 1 122 1 67 1 37 1-164 1-26 1 98 1-149 1-139 1-136 1-130 1-57 1 3 1 114 1 199 1 259 1 242 1 164 1 58 1-74 1-55 1-207 1-215 1-72 1 33 1 104 1 75 1 29 1-140 1-40 1 92 1-128 1-149 1-115 1-120 1-50 1-2 1 134 1 247 1 283 1 283 1 192 1 76 1-56 1-59 1-177 1-182 1-62 1 18 1 97 1 62 1 22 1-128 1-21 1 90 1-124 1-115 1-104 1-126 1-19 1-19 1 77 1 140 1 151 1 168 1 114 1 28 1-35 1-44 1-159 1-159 1-56 1 16 1 95 1 45 1 12 1-101 1-24 1 69 1-104 1-93 1-93 1-94 1-42 1 1 1 128 1 201 1 238 1 230 1 153 1 59 1-85 1-71 1-253 1-261 1-75 1 30 1 134 1 83 1 46 1-200 1-34 1 127 1-170 1-164 1-156 1-157 1-43 1-16 1 144 1 253 1 320 1 287 1 192 1 80 1-72 1-71 1-237 1-244 1-78 1 26 1 126 1 90 1 20 1-159 1-55 1 131 1-165 1-158 1-139 1-147 1-44 1-2 1 100 1 191 1 243 1 226 1 152 1 52 1-66 1-70 1-216 1-220 1-61 1 3 1 132 1 71 1 35 1-162 1-30 1 95 1-143 1-138 1-138 1-120 1-49 1-4 1 92 1 183 1 210 1 198 1 161 1 31 1-41 1-47 1-158 1-175 1-45 1 6 1 93 1 47 1 33 1-129 1-23 1 73 1-96 1-114 1-88 1-102 1-38 1-2 1 124 1 206 1 248 1 243 1 168 1 65 1-77 1-67 1-211 1-216 1-81 1 29 1 126 1 77 1 26 1-174 1-15 1 84 1-127 1-140 1-139 1-123 1-46 1 2 1 136 1 235 1 282 1 275 1 198 1 57 1-51 1-53 1-179 1-173 1-79 1 29 1 95 1 57 1 26 1-128 1-23 1 83 1-121 1-116 1-103 1-113 1-36 1-13 1 50 1 78 1 108 1 93 1 72 1 27 1-24 1-30 1-91 1-90 1-23 1 12 1 48 1 21 1 17 1-61 1-18 1 51 1-64 1-56 1-51 1-48 1-28 1-1 1 96 1 137 1 171 1 156 1 129 1 45 1-64 1-69 1-187 1-197 1-73 1 40 1 109 1 52 1 26 1-133 1-36 1 94 1-128 1-123 1-120 1-116 1-44 1-4 1 94 1 189 1 232 1 199 1 143 1 59 1-70 1-61 1-224 1-213 1-82 1 35 1 108 1 89 1 33 1-175 1-26 1 101 1-145 1-141 1-128 1-138 1-45 1-8 1 101 1 204 1 227 1 215 1 160 1 59 1-63 1-68 1-192 1-204 1-60 1 16 1 115 1 69 1 22 1-146 1-34 1 109 1-140 1-135 1-119 1-111 1-38 1-3 1 130 1 238 1 286 1 269 1 200 1 69 1-74 1-74 1-256 1-251 1-94 1 37 1 139 1 79 1 44 1-189 1-36 1 117 1-160 1-158 1-145 1-155 1-48 1-15 1 133 1 223 1 284 1 245 1 191 1 70 1-72 1-75 1-246 1-234 1-70 1 19 1 132 1 88 1 28 1-168 1-37 1 119 1-163 1-153 1-143 1-142 1-57 1 2 1 141 1 253 1 307 1 291 1 212 1 77 1-64 1-64 1-210 1-208 1-75 1 28 1 105 1 75 1 35 1-159 1-9 1 76 1-130 1-136 1-114 1-146 1-28 1-10 1 79 1 156 1 185 1 163 1 129 1 35 1-50 1-59 1-167 1-191 1-55 1 11 1 112 1 48 1 30 1-132 1-16 1 77 1-117 1-108 1-106 1-109 1-47 1 4 1 114 1 211 1 251 1 236 1 171 1 52 1-79 1-85 1-274 1-291 1-89 1 30 1 148 1 106 1 34 1-211 1-40 1 139 1-187 1-183 1-162 1-165 1-57 1-24 1 132 1 237 1 273 1 260 1 185 1 65 1-81 1-54 1-236 1-227 1-78 1 26 1 124 1 81 1 26 1-169 1-25 1 94 1-135 1-158 1-148 1-124 1-57 1-3 1 162 1 287 1 317 1 321 1 226 1 71 1-81 1-100 1-295 1-309 1-94 1 30 1 169 1 103 1 36 1-221 1-42 1 136 1-190 1-189 1-190 1-184 1-65 1-10 1 158 1 285 1 333 1 327 1 212 1 85 1-84 1-81 1-284 1-278 1-100 1 40 1 144 1 98 1 30 1-196 1-37 1 130 1-183 1-182 1-164 1-169 1-59 1-15 1 116 1 199 1 235 1 221 1 165 1 53 1-73 1-70 1-233 1-238 1-72 1 20 1 125 1 89 1 20 1-175 1-23 1 105 1-143 1-157 1-146 1-145 1-47 1-4 1 105 1 221 1 256 1 239 1 174 1 64 1-43 1-39 1-164 1-137 1-45 1 11 1 86 1 33 1 28 1-114 1-20 1 73 1-96 1-90 1-92 1-87 1-33 1 6 1 116 1 227 1 274 1 262 1 169 1 64 1-59 1-59 1-221 1-217 1-56 1 11 1 129 1 63 1 21 1-149 1-30 1 104 1-141 1-150 1-123 1-120 1-42 1-8 1 109 1 221 1 251 1 248 1 175 1 49 1-77 1-80 1-280 1-279 1-93 1 35 1 140 1 99 1 34 1-198 1-40 1 131 1-187 1-179 1-165 1-163 1-53 1-9 1 156 1 277 1 338 1 301 1 231 1 92 1-88 1-81 1-284 1-279 1-82 1 22 1 156 1 87 1 36 1-197 1-39 1 132 1-177 1-176 1-172 1-164 1-54 1-7 1 166" stroke="#a2ecfb" stroke-width="8.04" fill="none" stroke-linejoin="round"/></g><text x="225" y="1567.2" font-size="52" text-anchor="end" font-family="Liberation Serif, Times New Roman, serif">0</text><text x="225" y="1407.5" font-size="52" text-anchor="end" font-family="Liberation Serif, Times New Roman, serif">10000</text><text x="225" y="1247.8" font-size="52" text-anchor="end" font-family="Liberation Serif, Times New Roman, serif">20000</text><text x="225" y="1088.1" font-size="52" text-anchor="end" font-family="Liberation Serif, Times New Roman, serif">30000</text><text x="225" y="928.4" font-size="52" text-anchor="end" font-family="Liberation Serif, Times New Roman, serif">40000</text><text x="225" y="768.7" font-size="52" text-anchor="end" font-family="Liberation Serif, Times New Roman, serif">50000</text><text x="225" y="609.0" font-size="52" text-anchor="end" font-family="Liberation Serif, Times New Roman, serif">60000</text><text x="225" y="449.3" font-size="52" text-anchor="end" font-family="Liberation Serif, Times New Roman, serif">70000</text><text x="225" y="289.6" font-size="52" text-anchor="end" font-family="Liberation Serif, Times New Roman, serif">80000</text><text x="251.2" y="1618.8" font-size="52.5" text-anchor="middle" font-family="Liberation Serif, Times New Roman, serif">0</text><text x="649.1" y="1618.8" font-size="52.5" text-anchor="middle" font-family="Liberation Serif, Times New Roman, serif">2000</text><text x="1047.0" y="1618.8" font-size="52.5" text-anchor="middle" font-family="Liberation Serif, Times New Roman, serif">4000</text><text x="1444.9" y="1618.8" font-size="52.5" text-anchor="middle" font-family="Liberation Serif, Times New Roman, serif">6000</text><text x="1842.8" y="1618.8" font-size="52.5" text-anchor="middle" font-family="Liberation Serif, Times New Roman, serif">8000</text><text x="1025.9" y="1724.9" font-size="51" font-family="Liberation Serif, Times New Roman, serif" textLength="192.4" lengthAdjust="spacingAndGlyphs">Hour (h)</text><text transform="translate(67.7,1011.5) rotate(-90)" x="0" y="0" font-size="52" font-family="Liberation Serif, Times New Roman, serif" textLength="271" lengthAdjust="spacingAndGlyphs">Power(MW)</text><rect x="432.1" y="240.5" width="569.6999999999999" height="253.60000000000002" fill="#fff"/><g fill="none" stroke-linejoin="round"><path d="M432.35 308.51 433.13 308.11 433.91 305.99 434.69 304.95 435.47 304.29 436.24 303.75 437.02 306.27 437.80 312.13 438.58 317.56 439.35 325.03 440.13 328.43 440.91 331.21 441.69 326.02 442.47 320.88 443.24 317.94 444.02 312.87 444.80 309.93 445.58 311.95 446.35 311.08 447.13 309.19 447.91 306.66 448.69 304.21 449.47 302.30 450.24 301.50 451.02 298.27 451.80 296.40 452.58 295.56 453.35 294.33 454.13 293.09 454.91 292.22 455.69 295.62 456.47 302.16 457.24 309.13 458.02 315.59 458.80 320.65 459.58 322.55 460.35 318.46 461.13 314.82 461.91 310.89 462.69 307.22 463.47 304.49 464.24 305.91 465.02 304.93 465.80 303.29 466.58 302.49 467.35 299.99 468.13 297.18 468.91 296.08 469.69 294.73 470.47 294.17 471.24 292.19 472.02 290.63 472.80 289.35 473.58 289.72 474.36 293.91 475.13 301.07 475.91 310.21 476.69 318.30 477.47 325.89 478.24 327.37 479.02 322.37 479.80 319.17 480.58 314.79 481.36 310.43 482.13 308.24 482.91 309.43 483.69 308.18 484.47 307.88 485.24 305.89 486.02 302.30 486.80 301.10 487.58 299.50 488.36 298.03 489.13 296.11 489.91 295.35 490.69 293.38 491.47 292.06 492.24 292.16 493.02 295.34 493.80 302.10 494.58 310.04 495.36 316.02 496.13 323.37 496.91 324.88 497.69 321.26 498.47 317.45 499.24 313.96 500.02 310.92 500.80 307.12 501.58 309.81 502.36 309.58 503.13 307.70 503.91 305.96 504.69 304.05 505.47 301.88 506.24 300.94 507.02 299.40 507.80 299.14 508.58 297.23 509.36 296.29 510.13 295.37 510.91 295.68 511.69 298.88 512.47 306.14 513.25 313.54 514.02 321.37 514.80 326.84 515.58 327.82 516.36 324.47 517.13 321.87 517.91 317.10 518.69 313.66 519.47 310.57 520.25 312.57 521.02 311.41 521.80 311.44 522.58 308.62 523.36 305.60 524.13 304.02 524.91 302.36 525.69 301.57 526.47 300.29 527.25 298.37 528.02 297.29 528.80 296.76 529.58 295.45 530.36 300.30 531.13 306.49 531.91 315.28 532.69 323.10 533.47 328.58 534.25 331.51 535.02 326.84 535.80 323.21 536.58 319.71 537.36 316.05 538.13 313.24 538.91 314.66 539.69 314.04 540.47 312.87 541.25 309.97 542.02 308.26 542.80 307.04 543.58 305.04 544.36 303.69 545.13 303.21 545.91 301.14 546.69 300.11 547.47 298.51 548.25 298.45 549.02 301.39 549.80 307.11 550.58 314.97 551.36 320.35 552.13 324.69 552.91 326.25 553.69 323.15 554.47 320.65 555.25 317.61 556.02 315.21 556.80 313.58 557.58 314.88 558.36 313.64 559.14 312.75 559.91 312.24 560.69 310.38 561.47 308.15 562.25 307.62 563.02 307.46 563.80 305.56 564.58 304.35 565.36 303.53 566.14 302.86 566.91 302.91 567.69 306.63 568.47 312.96 569.25 320.26 570.02 326.49 570.80 331.56 571.58 334.60 572.36 333.25 573.14 330.73 573.91 329.07 574.69 327.34 575.47 326.48 576.25 326.59 577.02 326.59 577.80 325.53 578.58 325.18 579.36 323.45 580.14 323.15 580.91 322.34 581.69 321.62 582.47 320.93 583.25 320.29 584.02 319.65 584.80 319.03 585.58 319.19 586.36 322.55 587.14 328.50 587.91 334.83 588.69 342.12 589.47 347.65 590.25 349.74 591.02 345.35 591.80 342.54 592.58 339.37 593.36 336.04 594.14 334.83 594.91 335.66 595.69 334.87 596.47 333.04 597.25 331.88 598.03 330.01 598.80 328.60 599.58 327.50 600.36 326.30 601.14 325.50 601.91 324.45 602.69 323.20 603.47 321.65 604.25 321.41 605.03 326.09 605.80 333.75 606.58 342.13 607.36 350.93 608.14 356.88 608.91 359.43 609.69 354.16 610.47 348.38 611.25 343.75 612.03 338.31 612.80 335.06 613.58 336.80 614.36 336.21 615.14 334.52 615.91 331.30 616.69 328.67 617.47 325.99 618.25 324.14 619.03 321.07 619.80 320.85 620.58 318.31 621.36 316.97 622.14 314.80 622.91 314.67 623.69 318.45 624.47 323.82 625.25 331.59 626.03 340.03 626.80 344.44 627.58 346.37 628.36 342.16 629.14 336.65 629.91 332.18 630.69 328.11 631.47 324.28 632.25 325.71 633.03 326.03 633.80 323.42 634.58 320.43 635.36 320.05 636.14 316.80 636.92 314.52 637.69 313.37 638.47 312.18 639.25 309.70 640.03 308.34 640.80 307.82 641.58 306.48 642.36 310.78 643.14 317.46 643.92 326.31 644.69 333.34 645.47 339.02 646.25 341.49 647.03 336.16 647.80 330.32 648.58 325.66 649.36 322.41 650.14 317.65 650.92 320.13 651.69 319.53 652.47 317.20 653.25 313.90 654.03 311.56 654.80 309.98 655.58 307.84 656.36 305.96 657.14 303.97 657.92 302.78 658.69 300.98 659.47 299.24 660.25 298.73 661.03 303.85 661.80 309.55 662.58 318.60 663.36 326.83 664.14 333.04 664.92 334.52 665.69 329.89 666.47 327.11 667.25 324.01 668.03 319.61 668.81 316.80 669.58 318.47 670.36 318.58 671.14 316.20 671.92 313.99 672.69 314.01 673.47 310.36 674.25 308.79 675.03 308.20 675.81 307.43 676.58 305.16 677.36 302.96 678.14 302.42 678.92 301.37 679.69 305.43 680.47 311.40 681.25 318.55 682.03 324.11 682.81 329.91 683.58 331.27 684.36 326.95 685.14 322.42 685.92 318.68 686.69 315.54 687.47 312.15 688.25 312.67 689.03 312.81 689.81 311.18 690.58 309.03 691.36 306.46 692.14 305.04 692.92 302.81 693.69 301.50 694.47 300.46 695.25 298.64 696.03 297.68 696.81 296.38 697.58 295.44 698.36 298.84 699.14 304.35 699.92 309.58 700.69 316.25 701.47 320.16 702.25 321.21 703.03 317.49 703.81 312.14 704.58 307.10 705.36 303.21 706.14 299.48 706.92 301.43 707.70 300.83 708.47 298.88 709.25 295.89 710.03 293.34 710.81 290.46 711.58 289.41 712.36 287.17 713.14 286.18 713.92 283.82 714.70 282.98 715.47 280.73 716.25 280.93 717.03 284.60 717.81 293.28 718.58 302.34 719.36 310.64 720.14 317.38 720.92 318.54 721.70 315.31 722.47 311.05 723.25 307.24 724.03 303.87 724.81 301.41 725.58 303.33 726.36 302.95 727.14 301.05 727.92 298.84 728.70 296.71 729.47 294.43 730.25 293.89 731.03 292.68 731.81 290.57 732.58 288.54 733.36 288.39 734.14 286.72 734.92 286.50 735.70 289.66 736.47 296.22 737.25 304.58 738.03 311.33 738.81 316.91 739.58 318.47 740.36 312.59 741.14 308.88 741.92 303.59 742.70 298.66 743.47 294.43 744.25 296.14 745.03 295.39 745.81 292.54 746.59 289.72 747.36 287.25 748.14 285.04 748.92 282.86 749.70 281.14 750.47 279.70 751.25 277.36 752.03 276.05 752.81 274.05 753.59 273.78 754.36 278.73 755.14 287.17 755.92 297.02 756.70 306.67 757.47 313.94 758.25 315.13 759.03 309.40 759.81 303.70 760.59 298.70 761.36 294.10 762.14 290.08 762.92 292.51 763.70 292.05 764.47 289.18 765.25 286.67 766.03 282.77 766.81 280.18 767.59 278.61 768.36 276.69 769.14 274.56 769.92 272.37 770.70 270.84 771.47 268.04 772.25 268.90 773.03 274.24 773.81 283.85 774.59 295.39 775.36 306.19 776.14 313.83 776.92 317.02 777.70 309.07 778.47 303.43 779.25 296.03 780.03 289.72 780.81 284.85 781.59 287.88 782.36 286.25 783.14 282.99 783.92 279.44 784.70 275.77 785.48 272.74 786.25 270.42 787.03 267.99 787.81 265.15 788.59 262.57 789.36 260.40 790.14 258.54 790.92 257.57 791.70 263.24 792.48 274.85 793.25 286.45 794.03 298.62 794.81 306.70 795.59 310.32 796.36 304.39 797.14 298.16 797.92 293.04 798.70 287.76 799.48 283.45 800.25 285.34 801.03 284.28 801.81 282.84 802.59 279.15 803.36 276.28 804.14 273.41 804.92 271.09 805.70 269.49 806.48 267.70 807.25 266.13 808.03 263.25 808.81 261.07 809.59 262.45 810.36 267.88 811.14 279.69 811.92 294.03 812.70 305.80 813.48 315.58 814.25 318.25 815.03 313.01 815.81 306.40 816.59 300.95 817.36 294.46 818.14 290.24 818.92 292.38 819.70 290.88 820.48 288.59 821.25 284.88 822.03 281.72 822.81 278.60 823.59 276.80 824.37 275.12 825.14 272.20 825.92 270.26 826.70 268.40 827.48 266.35 828.25 265.05 829.03 272.13 829.81 282.18 830.59 294.21 831.37 305.92 832.14 314.45 832.92 318.22 833.70 310.80 834.48 305.00 835.25 299.83 836.03 293.06 836.81 288.72 837.59 292.11 838.37 291.60 839.14 288.05 839.92 284.82 840.70 281.00 841.48 278.27 842.25 276.55 843.03 273.91 843.81 271.88 844.59 270.30 845.37 267.40 846.14 265.53 846.92 265.39 847.70 271.00 848.48 281.82 849.25 294.27 850.03 305.71 850.81 314.39 851.59 316.34 852.37 311.46 853.14 305.84 853.92 300.45 854.70 295.71 855.48 291.27 856.25 294.81 857.03 293.00 857.81 291.74 858.59 288.70 859.37 285.57 860.14 283.24 860.92 281.46 861.70 279.50 862.48 277.16 863.26 276.92 864.03 274.79 864.81 272.89 865.59 271.95 866.37 276.98 867.14 285.63 867.92 295.57 868.70 306.33 869.48 314.01 870.26 315.77 871.03 309.93 871.81 304.61 872.59 300.71 873.37 295.89 874.14 291.78 874.92 293.87 875.70 293.48 876.48 291.55 877.26 287.82 878.03 284.98 878.81 283.31 879.59 281.81 880.37 280.06 881.14 278.52 881.92 276.79 882.70 274.62 883.48 273.04 884.26 272.45 885.03 278.22 885.81 288.02 886.59 299.41 887.37 311.25 888.14 317.78 888.92 320.84 889.70 315.28 890.48 311.19 891.26 306.64 892.03 302.58 892.81 297.56 893.59 300.38 894.37 299.32 895.14 298.06 895.92 295.02 896.70 293.02 897.48 290.74 898.26 288.97 899.03 287.59 899.81 285.26 900.59 283.58 901.37 281.80 902.14 281.06 902.92 280.74 903.70 285.43 904.48 293.84 905.26 305.17 906.03 314.64 906.81 321.11 907.59 324.03 908.37 319.47 909.15 315.26 909.92 310.69 910.70 306.06 911.48 302.36 912.26 305.46 913.03 303.95 913.81 302.44 914.59 300.15 915.37 296.44 916.15 294.89 916.92 294.07 917.70 292.49 918.48 290.42 919.26 289.56 920.03 287.45 920.81 285.59 921.59 286.22 922.37 290.40 923.15 298.84 923.92 309.60 924.70 318.87 925.48 325.63 926.26 328.21 927.03 324.39 927.81 319.45 928.59 316.04 929.37 311.95 930.15 308.72 930.92 310.55 931.70 310.82 932.48 307.83 933.26 305.74 934.03 303.55 934.81 301.46 935.59 300.45 936.37 298.90 937.15 297.18 937.92 296.87 938.70 294.82 939.48 293.32 940.26 293.01 941.04 297.19 941.81 304.51 942.59 312.80 943.37 320.78 944.15 326.74 944.92 328.60 945.70 323.95 946.48 318.67 947.26 314.19 948.04 310.68 948.81 307.09 949.59 309.04 950.37 308.28 951.15 305.90 951.92 303.34 952.70 300.82 953.48 299.06 954.26 297.31 955.04 295.58 955.81 293.77 956.59 293.51 957.37 290.49 958.15 288.75 958.92 289.05 959.70 292.75 960.48 301.20 961.26 311.10 962.04 321.35 962.81 326.93 963.59 329.58 964.37 323.94 965.15 319.38 965.92 313.95 966.70 308.36 967.48 304.49 968.26 305.72 969.04 306.00 969.81 302.99 970.59 300.09 971.37 295.98 972.15 294.69 972.92 292.19 973.70 291.12 974.48 289.54 975.26 287.01 976.04 284.73 976.81 283.61 977.59 282.56 978.37 287.06 979.15 294.94 979.93 304.06 980.70 312.76 981.48 319.22 982.26 321.12 983.04 315.56 983.81 310.61 984.59 306.45 985.37 300.17 986.15 296.55 986.93 298.31 987.70 298.18 988.48 295.50 989.26 292.80 990.04 289.88 990.81 287.36 991.59 285.36 992.37 284.43 993.15 281.32 993.93 279.59 994.70 278.06 995.48 277.07 996.26 275.75 997.04 281.12 997.81 289.31 998.59 300.92 999.37 310.90 1000.15 317.56 1000.93 321.48 1001.70 315.53" stroke="#a6ecfb" stroke-width="0.9"/><path d="M432.35 472.58 433.13 475.74 433.91 477.64 434.69 478.70 435.47 479.28 436.24 479.54 437.02 479.56 437.80 479.35 438.58 478.97 439.35 478.50 440.13 478.03 440.91 477.64 441.69 477.58 442.47 477.31 443.24 476.22 444.02 473.30 444.80 467.43 445.58 458.34 446.35 447.60 447.13 438.79 447.91 435.71 448.69 441.16 449.47 451.28 450.24 462.10 451.02 470.70 451.80 476.24 452.58 479.34 453.35 480.93 454.13 481.72 454.91 482.00 455.69 481.95 456.47 481.69 457.24 481.36 458.02 481.04 458.80 480.75 459.58 480.50 460.35 479.93 461.13 479.09 461.91 477.51 462.69 474.46 463.47 469.24 464.24 461.84 465.02 453.76 465.80 447.75 466.58 446.42 467.35 450.43 468.13 457.88 468.91 465.91 469.69 472.36 470.47 476.54 471.24 478.81 472.02 479.79 472.80 480.03 473.58 479.87 474.36 479.57 475.13 479.33 475.91 479.23 476.69 479.23 477.47 479.26 478.24 479.22 479.02 478.89 479.80 478.28 480.58 477.12 481.36 474.97 482.13 471.39 482.91 466.47 483.69 461.22 484.47 457.42 485.24 456.61 486.02 458.84 486.80 463.21 487.58 467.90 488.36 471.57 489.13 473.78 489.91 474.77 490.69 474.92 491.47 474.57 492.24 473.93 493.02 473.19 493.80 472.48 494.58 471.94 495.36 471.60 496.13 471.42 496.91 471.32 497.69 471.09 498.47 470.62 499.24 469.69 500.02 468.04 500.80 465.46 501.58 462.06 502.36 458.53 503.13 455.98 503.91 455.41 504.69 455.82 505.47 458.15 506.24 461.26 507.02 463.99 507.80 465.69 508.58 466.31 509.36 466.13 510.13 465.49 510.91 464.63 511.69 463.70 512.47 462.81 513.25 462.05 514.02 461.52 514.80 461.24 515.58 461.23 516.36 462.26 517.13 463.17 517.91 463.43 518.69 462.19 519.47 458.56 520.25 452.23 521.02 444.40 521.80 437.88 522.58 435.77 523.36 440.54 524.13 448.97 524.91 457.86 525.69 464.82 526.47 469.15 527.25 471.36 528.02 472.35 528.80 472.82 529.58 473.19 530.36 473.67 531.13 474.36 531.91 475.26 532.69 476.36 533.47 477.54 534.25 478.70 535.02 479.48 535.80 479.90 536.58 479.53 537.36 477.70 538.13 473.77 538.91 467.75 539.69 460.94 540.47 455.82 541.25 454.68 542.02 457.40 542.80 463.65 543.58 470.97 544.36 477.21 545.13 481.44 545.91 483.81 546.69 484.88 547.47 485.21 548.25 485.25 549.02 485.24 549.80 485.34 550.58 485.61 551.36 486.03 552.13 486.47 552.91 486.83 553.69 486.29 554.47 485.37 555.25 483.61 556.02 480.21 556.80 474.25 557.58 465.54 558.36 455.55 559.14 447.48 559.91 444.60 560.69 449.41 561.47 457.97 562.25 466.67 563.02 473.04 563.80 476.58 564.58 478.12 565.36 478.73 566.14 479.09 566.91 479.46 567.69 479.76 568.47 479.89 569.25 479.77 570.02 479.43 570.80 478.91 571.58 478.29 572.36 477.95 573.14 477.45 573.91 476.55 574.69 474.89 575.47 472.22 576.25 468.69 577.02 465.21 577.80 463.14 578.58 463.48 579.36 464.44 580.14 467.27 580.91 470.68 581.69 473.48 582.47 475.15 583.25 475.83 584.02 475.90 584.80 475.70 585.58 475.44 586.36 475.21 587.14 475.06 587.91 474.96 588.69 474.93 589.47 474.92 590.25 474.95 591.02 475.17 591.80 475.23 592.58 474.70 593.36 472.79 594.14 468.57 594.91 461.75 595.69 453.55 596.47 446.77 597.25 444.47 598.03 448.72 598.80 456.96 599.58 466.09 600.36 473.63 601.14 478.69 601.91 481.56 602.69 482.94 603.47 483.40 604.25 483.29 605.03 482.83 605.80 482.23 606.58 481.62 607.36 481.13 608.14 480.85 608.91 480.81 609.69 480.57 610.47 480.20 611.25 479.10 612.03 476.39 612.80 471.18 613.58 463.38 614.36 454.52 615.14 447.59 615.91 445.53 616.69 449.40 617.47 457.15 618.25 465.64 619.03 472.41 619.80 476.67 620.58 478.83 621.36 479.75 622.14 480.05 622.91 480.10 623.69 480.04 624.47 479.91 625.25 479.73 626.03 479.50 626.80 479.21 627.58 478.90 628.36 478.70 629.14 478.30 629.91 477.30 630.69 474.97 631.47 470.56 632.25 464.02 633.03 456.69 633.80 451.16 634.58 449.93 635.36 453.05 636.14 459.76 636.92 467.35 637.69 473.55 638.47 477.52 639.25 479.58 640.03 480.43 640.80 480.59 641.58 480.36 642.36 479.85 643.14 479.19 643.92 478.53 644.69 478.00 645.47 477.74 646.25 477.79 647.03 478.23 647.80 478.49 648.58 477.83 649.36 475.22 650.14 469.59 650.92 460.82 651.69 450.62 652.47 442.49 653.25 439.99 654.03 444.81 654.80 454.19 655.58 464.40 656.36 472.59 657.14 477.92 657.92 481.00 658.69 482.87 659.47 484.28 660.25 485.49 661.03 486.52 661.80 487.32 662.58 487.78 663.36 487.93 664.14 487.82 664.92 487.57 665.69 486.97 666.47 486.15 667.25 484.59 668.03 481.39 668.81 475.55 669.58 466.98 670.36 457.32 671.14 449.87 671.92 447.90 672.69 452.32 673.47 461.03 674.25 470.46 675.03 477.84 675.81 482.24 676.58 484.24 677.36 484.85 678.14 484.85 678.92 484.63 679.69 484.35 680.47 484.03 681.25 483.69 682.03 483.44 682.81 483.35 683.58 483.47 684.36 483.51 685.14 483.38 685.92 482.44 686.69 479.72 687.47 474.33 688.25 466.23 689.03 457.04 689.81 449.98 690.58 448.13 691.36 452.61 692.14 460.95 692.92 469.74 693.69 476.40 694.47 480.15 695.25 481.57 696.03 481.59 696.81 480.96 697.58 480.13 698.36 479.37 699.14 478.85 699.92 478.66 700.69 478.82 701.47 479.17 702.25 479.53 703.03 480.05 703.81 480.04 704.58 479.12 705.36 476.77 706.14 472.51 706.92 466.49 707.70 460.03 708.47 455.52 709.25 455.11 710.03 459.03 710.81 465.83 711.58 472.96 712.36 478.52 713.14 481.93 713.92 483.64 714.70 484.35 715.47 484.64 716.25 484.83 717.03 485.15 717.81 485.63 718.58 486.31 719.36 487.11 720.14 487.91 720.92 488.58 721.70 488.76 722.47 488.51 723.25 487.52 724.03 485.33 724.81 481.52 725.58 476.17 726.36 470.33 727.14 466.00 727.92 464.99 728.70 467.01 729.47 471.79 730.25 477.29 731.03 481.73 731.81 484.42 732.58 485.62 733.36 485.89 734.14 485.76 734.92 485.57 735.70 485.44 736.47 485.37 737.25 485.33 738.03 485.22 738.81 485.03 739.58 484.84 740.36 484.37 741.14 483.79 741.92 482.62 742.70 479.99 743.47 474.89 744.25 467.06 745.03 457.87 745.81 450.37 746.59 447.76 747.36 451.86 748.14 459.95 748.92 468.68 749.70 475.52 750.47 479.70 751.25 481.81 752.03 482.77 752.81 483.29 753.59 483.61 754.36 483.81 755.14 483.84 755.92 483.67 756.70 483.28 757.47 482.71 758.25 482.00 759.03 481.32 759.81 480.36 760.59 478.65 761.36 475.42 762.14 469.84 762.92 461.87 763.70 453.00 764.47 446.17 765.25 444.20 766.03 447.73 766.81 455.19 767.59 463.52 768.36 470.25 769.14 474.48 769.92 476.55 770.70 477.26 771.47 477.24 772.25 476.88 773.03 476.35 773.81 475.78 774.59 475.22 775.36 474.74 776.14 474.37 776.92 474.15 777.70 474.24 778.47 474.18 779.25 473.45 780.03 471.19 780.81 466.54 781.59 459.41 782.36 451.21 783.14 444.83 783.92 443.10 784.70 446.76 785.48 454.25 786.25 462.55 787.03 469.26 787.81 473.58 788.59 475.90 789.36 476.97 790.14 477.41 790.92 477.56 791.70 477.55 792.48 477.43 793.25 477.24 794.03 476.98 794.81 476.70 795.59 476.41 796.36 475.68 797.14 474.76 797.92 473.15 798.70 469.98 799.48 464.32 800.25 456.00 801.03 446.57 801.81 439.21 802.59 437.10 803.36 441.74 804.14 450.49 804.92 459.84 805.70 467.11 806.48 471.48 807.25 473.47 808.03 474.07 808.81 474.11 809.59 474.05 810.36 474.09 811.14 474.22 811.92 474.31 812.70 474.24 813.48 473.90 814.25 473.24 815.03 472.14 815.81 470.62 816.59 468.38 817.36 464.86 818.14 459.56 818.92 452.55 819.70 445.19 820.48 439.89 821.25 438.77 822.03 441.97 822.81 448.10 823.59 454.57 824.37 459.45 825.14 462.19 825.92 463.28 826.70 463.45 827.48 463.24 828.25 462.95 829.03 462.66 829.81 462.35 830.59 461.97 831.37 461.46 832.14 460.81 832.92 460.06 833.70 460.07 834.48 460.02 835.25 459.67 836.03 458.49 836.81 455.83 837.59 451.55 838.37 446.61 839.14 442.97 839.92 442.57 840.70 445.76 841.48 451.51 842.25 457.66 843.03 462.49 843.81 465.42 844.59 466.82 845.37 467.34 846.14 467.54 846.92 467.78 847.70 468.22 848.48 468.88 849.25 469.66 850.03 470.41 850.81 470.93 851.59 471.13 852.37 470.94 853.14 470.33 853.92 469.16 854.70 467.03 855.48 463.47 856.25 458.39 857.03 452.70 857.81 448.37 858.59 447.35 859.37 450.58 860.14 456.47 860.92 462.89 861.70 468.18 862.48 471.80 863.26 473.98 864.03 475.25 864.81 476.01 865.59 476.52 866.37 476.94 867.14 477.36 867.92 477.80 868.70 478.19 869.48 478.44 870.26 478.50 871.03 478.19 871.81 477.60 872.59 476.58 873.37 474.90 874.14 472.26 874.92 468.74 875.70 465.15 876.48 462.94 877.26 463.38 878.03 465.98 878.81 470.56 879.59 475.44 880.37 479.21 881.14 481.36 881.92 482.12 882.70 482.04 883.48 481.66 884.26 481.31 885.03 481.15 885.81 481.26 886.59 481.61 887.37 482.15 888.14 482.78 888.92 483.40 889.70 483.29 890.48 482.82 891.26 481.59 892.03 478.98 892.81 474.32 893.59 467.48 894.37 459.62 895.14 453.16 895.92 450.66 896.70 453.39 897.48 459.61 898.26 466.66 899.03 472.39 899.81 476.01 900.59 477.77 901.37 478.36 902.14 478.33 902.92 478.01 903.70 477.65 904.48 477.30 905.26 477.02 906.03 476.79 906.81 476.56 907.59 476.25 908.37 476.15 909.15 475.67 909.92 474.38 910.70 471.54 911.48 466.38 912.26 458.81 913.03 450.24 913.81 443.50 914.59 441.44 915.37 445.48 916.15 453.25 916.92 461.70 917.70 468.45 918.48 472.67 919.26 474.76 920.03 475.44 920.81 475.38 921.59 474.99 922.37 474.50 923.15 474.07 923.92 473.76 924.70 473.57 925.48 473.49 926.26 473.47 927.03 473.67 927.81 473.73 928.59 473.27 929.37 471.71 930.15 468.48 930.92 463.56 931.70 458.08 932.48 454.11 933.26 453.57 934.03 456.07 934.81 461.43 935.59 467.50 936.37 472.51 937.15 475.80 937.92 477.66 938.70 478.70 939.48 479.39 940.26 479.90 941.04 480.21 941.81 480.29 942.59 480.15 943.37 479.90 944.15 479.67 944.92 479.55 945.70 479.32 946.48 478.90 947.26 477.77 948.04 475.12 948.81 470.12 949.59 462.61 950.37 454.02 951.15 447.25 951.92 445.29 952.70 449.69 953.48 457.93 954.26 466.79 955.04 473.78 955.81 478.19 956.59 480.53 957.37 481.69 958.15 482.28 958.92 482.64 959.70 482.90 960.48 483.12 961.26 483.36 962.04 483.69 962.81 484.13 963.59 484.65 964.37 484.87 965.15 484.72 965.92 483.63 966.70 480.73 967.48 475.20 968.26 467.03 969.04 457.78 969.81 450.51 970.59 448.18 971.37 451.76 972.15 459.32 972.92 467.68 973.70 474.38 974.48 478.57 975.26 480.69 976.04 481.60 976.81 481.97 977.59 482.16 978.37 482.31 979.15 482.39 979.93 482.31 980.70 482.02 981.48 481.46 982.26 480.70 983.04 480.06 983.81 479.17 984.59 477.75 985.37 475.19 986.15 470.83 986.93 464.55 987.70 457.53 988.48 452.17 989.26 450.82 990.04 453.96 990.81 460.22 991.59 467.04 992.37 472.49 993.15 475.97 993.93 477.97 994.70 479.18 995.48 480.06 996.26 480.78 997.04 481.36 997.81 481.73 998.59 481.87 999.37 481.81 1000.15 481.63 1000.93 481.40 1001.70 481.21" stroke="#8de83a" stroke-width="0.9"/><path d="M432.35 309.39 433.13 308.89 433.91 307.15 434.69 305.68 435.47 303.55 436.24 303.50 437.02 306.85 437.80 311.43 438.58 318.37 439.35 323.55 440.13 327.53 440.91 329.39 441.69 324.48 442.47 321.39 443.24 317.22 444.02 315.08 444.80 311.07 445.58 312.71 446.35 313.01 447.13 310.92 447.91 308.89 448.69 306.65 449.47 305.46 450.24 304.40 451.02 303.18 451.80 301.39 452.58 300.46 453.35 298.93 454.13 298.69 454.91 297.53 455.69 301.23 456.47 305.79 457.24 311.79 458.02 318.35 458.80 322.97 459.58 324.02 460.35 321.43 461.13 316.89 461.91 312.67 462.69 309.86 463.47 307.48 464.24 308.73 465.02 307.55 465.80 306.00 466.58 304.05 467.35 301.60 468.13 300.25 468.91 298.89 469.69 297.26 470.47 297.19 471.24 293.89 472.02 293.61 472.80 291.50 473.58 292.22 474.36 295.35 475.13 302.10 475.91 309.88 476.69 317.31 477.47 322.61 478.24 323.74 479.02 319.78 479.80 315.18 480.58 312.69 481.36 309.05 482.13 304.76 482.91 306.04 483.69 306.69 484.47 304.98 485.24 302.60 486.02 299.97 486.80 297.58 487.58 296.66 488.36 295.06 489.13 294.47 489.91 293.17 490.69 290.80 491.47 289.36 492.24 289.64 493.02 293.44 493.80 300.92 494.58 309.69 495.36 318.68 496.13 324.43 496.91 325.82 497.69 323.07 498.47 319.01 499.24 315.54 500.02 311.47 500.80 309.22 501.58 311.04 502.36 310.26 503.13 309.03 503.91 306.17 504.69 303.36 505.47 302.18 506.24 300.92 507.02 299.66 507.80 298.70 508.58 297.94 509.36 296.40 510.13 294.25 510.91 295.12 511.69 297.58 512.47 305.62 513.25 313.51 514.02 321.43 514.80 327.05 515.58 328.70 516.36 324.75 517.13 320.93 517.91 317.14 518.69 313.80 519.47 310.33 520.25 312.70 521.02 312.40 521.80 310.78 522.58 308.45 523.36 305.80 524.13 304.54 524.91 303.49 525.69 301.95 526.47 301.26 527.25 299.63 528.02 298.45 528.80 297.32 529.58 296.43 530.36 300.65 531.13 306.92 531.91 314.80 532.69 321.40 533.47 327.13 534.25 327.60 535.02 325.56 535.80 321.34 536.58 318.39 537.36 315.19 538.13 312.89 538.91 314.83 539.69 312.98 540.47 312.50 541.25 311.22 542.02 308.33 542.80 307.43 543.58 306.57 544.36 304.84 545.13 303.95 545.91 302.57 546.69 301.71 547.47 300.11 548.25 300.18 549.02 303.49 549.80 308.56 550.58 314.43 551.36 320.85 552.13 325.37 552.91 326.53 553.69 322.11 554.47 317.91 555.25 314.83 556.02 310.93 556.80 307.31 557.58 308.61 558.36 308.30 559.14 306.05 559.91 303.73 560.69 301.76 561.47 300.16 562.25 298.88 563.02 297.76 563.80 295.88 564.58 295.03 565.36 292.73 566.14 292.42 566.91 291.01 567.69 295.82 568.47 303.50 569.25 312.10 570.02 320.56 570.80 326.60 571.58 329.35 572.36 325.96 573.14 320.28 573.91 317.00 574.69 313.05 575.47 311.30 576.25 312.12 577.02 311.83 577.80 309.76 578.58 307.18 579.36 305.91 580.14 303.42 580.91 302.04 581.69 301.81 582.47 299.59 583.25 298.19 584.02 296.95 584.80 295.25 585.58 294.87 586.36 299.87 587.14 308.13 587.91 318.46 588.69 328.51 589.47 335.55 590.25 338.26 591.02 333.98 591.80 328.83 592.58 324.26 593.36 320.32 594.14 316.77 594.91 318.30 595.69 317.64 596.47 316.34 597.25 313.79 598.03 311.89 598.80 308.75 599.58 307.76 600.36 307.29 601.14 304.60 601.91 303.14 602.69 301.20 603.47 299.97 604.25 299.57 605.03 304.38 605.80 311.51 606.58 321.69 607.36 330.06 608.14 336.14 608.91 338.62 609.69 333.24 610.47 328.59 611.25 324.24 612.03 319.89 612.80 316.04 613.58 318.03 614.36 318.03 615.14 315.72 615.91 313.18 616.69 310.57 617.47 308.26 618.25 306.65 619.03 305.59 619.80 303.50 620.58 301.33 621.36 299.85 622.14 299.31 622.91 298.76 623.69 304.61 624.47 316.43 625.25 329.17 626.03 341.18 626.80 350.58 627.58 354.40 628.36 348.38 629.14 343.82 629.91 338.12 630.69 334.01 631.47 329.17 632.25 332.07 633.03 330.81 633.80 328.52 634.58 324.92 635.36 322.21 636.14 319.18 636.92 317.57 637.69 316.26 638.47 314.16 639.25 313.03 640.03 310.76 640.80 309.14 641.58 308.84 642.36 311.04 643.14 317.18 643.92 323.29 644.69 329.74 645.47 333.57 646.25 335.36 647.03 332.08 647.80 327.11 648.58 322.32 649.36 319.43 650.14 316.07 650.92 318.05 651.69 317.05 652.47 316.34 653.25 314.12 654.03 311.77 654.80 310.35 655.58 308.79 656.36 306.47 657.14 305.86 657.92 304.49 658.69 302.23 659.47 301.15 660.25 301.39 661.03 305.18 661.80 311.56 662.58 319.37 663.36 326.42 664.14 332.01 664.92 334.47 665.69 330.36 666.47 327.08 667.25 323.27 668.03 318.90 668.81 317.27 669.58 318.51 670.36 317.42 671.14 316.19 671.92 314.34 672.69 312.47 673.47 310.84 674.25 308.90 675.03 307.98 675.81 306.51 676.58 305.09 677.36 304.73 678.14 303.57 678.92 302.41 679.69 305.32 680.47 311.30 681.25 317.67 682.03 324.99 682.81 328.96 683.58 330.66 684.36 326.07 685.14 321.03 685.92 318.21 686.69 313.15 687.47 308.96 688.25 311.49 689.03 311.20 689.81 308.76 690.58 306.98 691.36 303.53 692.14 302.20 692.92 299.75 693.69 298.64 694.47 297.77 695.25 295.77 696.03 294.22 696.81 292.37 697.58 292.87 698.36 295.11 699.14 301.60 699.92 308.86 700.69 314.64 701.47 319.47 702.25 320.77 703.03 315.53 703.81 311.66 704.58 306.70 705.36 302.41 706.14 298.89 706.92 301.59 707.70 300.48 708.47 298.67 709.25 296.19 710.03 294.25 710.81 291.65 711.58 290.24 712.36 289.01 713.14 287.98 713.92 285.77 714.70 284.31 715.47 283.57 716.25 283.26 717.03 286.67 717.81 295.17 718.58 304.20 719.36 313.61 720.14 320.38 720.92 322.40 721.70 318.61 722.47 312.89 723.25 309.66 724.03 304.07 724.81 301.90 725.58 303.35 726.36 303.27 727.14 301.70 727.92 298.64 728.70 296.48 729.47 293.17 730.25 292.80 731.03 292.21 731.81 289.66 732.58 288.55 733.36 286.87 734.14 285.49 734.92 285.28 735.70 289.22 736.47 294.81 737.25 302.65 738.03 309.98 738.81 315.28 739.58 316.29 740.36 312.53 741.14 307.67 741.92 302.40 742.70 298.68 743.47 295.40 744.25 297.52 745.03 296.73 745.81 294.76 746.59 292.08 747.36 288.79 748.14 287.95 748.92 285.69 749.70 283.85 750.47 282.24 751.25 281.04 752.03 279.66 752.81 277.57 753.59 277.18 754.36 281.65 755.14 289.09 755.92 297.15 756.70 306.15 757.47 311.98 758.25 313.46 759.03 309.20 759.81 304.34 760.59 300.03 761.36 294.88 762.14 291.85 762.92 293.25 763.70 292.86 764.47 291.27 765.25 288.22 766.03 286.26 766.81 283.02 767.59 282.57 768.36 280.46 769.14 278.56 769.92 277.20 770.70 275.18 771.47 273.44 772.25 274.39 773.03 278.90 773.81 287.14 774.59 297.68 775.36 307.63 776.14 314.29 776.92 317.33 777.70 311.93 778.47 305.89 779.25 301.47 780.03 296.23 780.81 293.74 781.59 295.51 782.36 294.86 783.14 292.10 783.92 288.64 784.70 287.08 785.48 284.19 786.25 281.77 787.03 281.06 787.81 277.84 788.59 277.55 789.36 275.64 790.14 274.27 790.92 272.94 791.70 278.27 792.48 285.22 793.25 294.54 794.03 303.59 794.81 309.74 795.59 311.96 796.36 306.08 797.14 301.03 797.92 296.03 798.70 291.18 799.48 285.97 800.25 288.14 801.03 287.76 801.81 286.50 802.59 282.78 803.36 279.55 804.14 276.92 804.92 275.49 805.70 273.98 806.48 270.83 807.25 269.88 808.03 268.37 808.81 265.98 809.59 265.47 810.36 271.79 811.14 281.44 811.92 293.69 812.70 305.28 813.48 313.42 814.25 316.06 815.03 311.86 815.81 304.99 816.59 300.35 817.36 295.22 818.14 290.26 818.92 292.95 819.70 292.15 820.48 289.84 821.25 287.59 822.03 284.39 822.81 280.56 823.59 279.75 824.37 277.59 825.14 275.30 825.92 273.76 826.70 271.79 827.48 270.70 828.25 270.12 829.03 274.85 829.81 284.35 830.59 295.38 831.37 306.31 832.14 314.46 832.92 316.96 833.70 311.51 834.48 305.17 835.25 300.50 836.03 294.78 836.81 290.36 837.59 292.36 838.37 292.59 839.14 289.91 839.92 287.37 840.70 283.19 841.48 281.17 842.25 279.42 843.03 277.67 843.81 275.59 844.59 273.45 845.37 271.51 846.14 268.82 846.92 269.26 847.70 274.46 848.48 284.75 849.25 295.48 850.03 305.03 850.81 312.72 851.59 317.18 852.37 309.68 853.14 304.66 853.92 299.83 854.70 293.76 855.48 289.21 856.25 291.67 857.03 291.00 857.81 288.23 858.59 285.77 859.37 282.31 860.14 278.88 860.92 277.99 861.70 276.76 862.48 273.48 863.26 272.11 864.03 270.72 864.81 267.50 865.59 267.52 866.37 273.58 867.14 283.20 867.92 295.91 868.70 306.19 869.48 315.11 870.26 317.54 871.03 311.22 871.81 306.74 872.59 303.00 873.37 297.93 874.14 293.37 874.92 295.97 875.70 295.14 876.48 293.26 877.26 290.94 878.03 287.07 878.81 286.18 879.59 283.84 880.37 282.61 881.14 280.39 881.92 278.60 882.70 276.97 883.48 275.08 884.26 274.74 885.03 281.56 885.81 290.67 886.59 302.20 887.37 313.38 888.14 321.74 888.92 325.64 889.70 320.52 890.48 314.99 891.26 310.45 892.03 306.80 892.81 303.02 893.59 304.61 894.37 303.79 895.14 302.56 895.92 300.18 896.70 297.84 897.48 295.28 898.26 294.05 899.03 292.07 899.81 289.60 900.59 288.29 901.37 287.07 902.14 284.78 902.92 285.64 903.70 289.36 904.48 297.92 905.26 307.25 906.03 316.12 906.81 323.66 907.59 325.24 908.37 320.68 909.15 315.85 909.92 312.00 910.70 306.92 911.48 303.17 912.26 305.14 913.03 304.60 913.81 303.07 914.59 299.27 915.37 297.34 916.15 294.59 916.92 293.59 917.70 292.17 918.48 289.62 919.26 288.02 920.03 287.06 920.81 285.16 921.59 284.83 922.37 290.42 923.15 298.49 923.92 309.36 924.70 317.65 925.48 325.72 926.26 327.43 927.03 323.67 927.81 318.87 928.59 315.06 929.37 311.35 930.15 307.64 930.92 309.79 931.70 308.69 932.48 307.26 933.26 305.55 934.03 302.89 934.81 300.86 935.59 299.10 936.37 297.49 937.15 296.68 937.92 295.02 938.70 293.74 939.48 292.16 940.26 292.54 941.04 296.35 941.81 302.77 942.59 311.07 943.37 319.50 944.15 325.41 944.92 327.13 945.70 322.87 946.48 317.09 947.26 314.10 948.04 309.12 948.81 305.07 949.59 307.74 950.37 307.34 951.15 305.29 951.92 302.38 952.70 299.41 953.48 297.81 954.26 296.00 955.04 294.28 955.81 292.87 956.59 291.14 957.37 289.58 958.15 287.92 958.92 288.30 959.70 292.33 960.48 299.67 961.26 307.33 962.04 316.51 962.81 322.49 963.59 323.93 964.37 319.27 965.15 314.70 965.92 309.56 966.70 305.98 967.48 302.27 968.26 304.24 969.04 302.63 969.81 301.26 970.59 298.06 971.37 296.37 972.15 294.48 972.92 291.93 973.70 290.52 974.48 289.55 975.26 286.96 976.04 284.52 976.81 283.63 977.59 284.06 978.37 288.02 979.15 295.58 979.93 305.17 980.70 313.32 981.48 319.42 982.26 321.33 983.04 316.72 983.81 311.81 984.59 307.44 985.37 303.29 986.15 299.91 986.93 302.25 987.70 301.19 988.48 299.32 989.26 295.42 990.04 294.52 990.81 292.19 991.59 290.47 992.37 288.88 993.15 288.53 993.93 286.19 994.70 285.19 995.48 282.61 996.26 283.45 997.04 288.07 997.81 295.50 998.59 303.77 999.37 313.09 1000.15 319.40 1000.93 322.39 1001.70 316.57" stroke="#2a86b0" stroke-width="0.9"/><path d="M432.35 474.07 433.13 476.70 433.91 477.81 434.69 478.14 435.47 478.33 436.24 478.70 437.02 479.30 437.80 480.00 438.58 480.59 439.35 480.90 440.13 480.82 440.91 480.31 441.69 479.68 442.47 478.55 443.24 476.52 444.02 472.82 444.80 466.51 445.58 457.36 446.35 446.91 447.13 438.50 447.91 435.69 448.69 440.83 449.47 450.47 450.24 460.82 451.02 469.04 451.80 474.26 452.58 477.04 453.35 478.33 454.13 478.93 454.91 479.23 455.69 479.49 456.47 479.81 457.24 480.21 458.02 480.59 458.80 480.83 459.58 480.82 460.35 480.47 461.13 479.62 461.91 477.97 462.69 474.91 463.47 469.88 464.24 462.99 465.02 455.72 465.80 450.68 466.58 450.21 467.35 454.21 468.13 461.31 468.91 468.63 469.69 473.97 470.47 476.76 471.24 477.62 472.02 477.49 472.80 477.10 473.58 476.75 474.36 476.47 475.13 476.20 475.91 475.91 476.69 475.61 477.47 475.35 478.24 475.20 479.02 474.79 479.80 474.26 480.58 473.19 481.36 470.88 482.13 466.63 482.91 460.35 483.69 453.25 484.47 447.83 485.24 446.48 486.02 450.29 486.80 457.09 487.58 464.16 488.36 469.53 489.13 472.67 489.91 474.04 490.69 474.37 491.47 474.21 492.24 473.83 493.02 473.35 493.80 472.88 494.58 472.49 495.36 472.24 496.13 472.17 496.91 472.24 497.69 472.30 498.47 472.11 499.24 471.24 500.02 469.17 500.80 465.46 501.58 460.25 502.36 454.62 503.13 450.37 503.91 449.07 504.69 450.01 505.47 453.46 506.24 457.72 507.02 461.28 507.80 463.52 508.58 464.60 509.36 464.99 510.13 465.03 510.91 464.92 511.69 464.67 512.47 464.28 513.25 463.72 514.02 463.01 514.80 462.21 515.58 461.40 516.36 461.57 517.13 461.67 517.91 461.27 518.69 459.62 519.47 455.78 520.25 449.48 521.02 441.90 521.80 435.82 522.58 434.21 523.36 438.88 524.13 447.33 524.91 456.48 525.69 463.88 526.47 468.71 527.25 471.40 528.02 472.80 528.80 473.62 529.58 474.28 530.36 474.97 531.13 475.73 531.91 476.52 532.69 477.25 533.47 477.84 534.25 478.25 535.02 478.25 535.80 477.90 536.58 476.86 537.36 474.45 538.13 469.97 538.91 463.35 539.69 455.96 540.47 450.48 541.25 449.56 542.02 453.49 542.80 461.13 543.58 469.57 544.36 476.42 545.13 480.88 545.91 483.35 546.69 484.67 547.47 485.48 548.25 486.11 549.02 486.67 549.80 487.12 550.58 487.48 551.36 487.77 552.13 488.01 552.91 488.25 553.69 487.62 554.47 486.71 555.25 485.01 556.02 481.59 556.80 475.48 557.58 466.50 558.36 456.25 559.14 448.06 559.91 445.33 560.69 450.31 561.47 459.29 562.25 468.56 563.02 475.49 563.80 479.39 564.58 481.01 565.36 481.34 566.14 481.11 566.91 480.67 567.69 480.13 568.47 479.54 569.25 478.90 570.02 478.26 570.80 477.71 571.58 477.25 572.36 477.20 573.14 477.04 573.91 476.40 574.69 474.79 575.47 471.73 576.25 467.36 577.02 462.76 577.80 459.68 578.58 459.55 579.36 461.02 580.14 464.75 580.91 469.04 581.69 472.44 582.47 474.47 583.25 475.42 584.02 475.91 584.80 476.34 585.58 476.85 586.36 477.38 587.14 477.73 587.91 477.78 588.69 477.49 589.47 476.98 590.25 476.38 591.02 476.07 591.80 475.65 592.58 474.68 593.36 472.34 594.14 467.73 594.91 460.66 595.69 452.46 596.47 446.02 597.25 444.26 598.03 448.79 598.80 457.10 599.58 465.95 600.36 472.85 601.14 477.04 601.91 479.06 602.69 479.86 603.47 480.22 604.25 480.55 605.03 481.00 605.80 481.58 606.58 482.24 607.36 482.83 608.14 483.26 608.91 483.48 609.69 483.15 610.47 482.42 611.25 480.89 612.03 477.81 612.80 472.39 613.58 464.56 614.36 455.80 615.14 449.03 615.91 447.13 616.69 451.09 617.47 458.83 618.25 467.20 619.03 473.78 619.80 477.82 620.58 479.84 621.36 480.69 622.14 481.06 622.91 481.31 623.69 481.54 624.47 481.79 625.25 482.03 626.03 482.22 626.80 482.31 627.58 482.23 628.36 481.98 629.14 481.38 629.91 480.04 630.69 477.30 631.47 472.49 632.25 465.57 633.03 457.84 633.80 451.90 634.58 450.25 635.36 453.27 636.14 459.71 636.92 466.82 637.69 472.42 638.47 475.82 639.25 477.49 640.03 478.21 640.80 478.56 641.58 478.75 642.36 478.79 643.14 478.61 643.92 478.25 644.69 477.82 645.47 477.44 646.25 477.24 647.03 477.51 647.80 477.68 648.58 477.17 649.36 475.08 650.14 470.54 650.92 463.42 651.69 455.18 652.47 448.79 653.25 447.23 654.03 451.46 654.80 459.79 655.58 469.08 656.36 476.76 657.14 481.87 657.92 484.77 658.69 486.20 659.47 486.82 660.25 486.99 661.03 486.85 661.80 486.49 662.58 485.97 663.36 485.34 664.14 484.71 664.92 484.18 665.69 483.51 666.47 482.83 667.25 481.60 668.03 478.86 668.81 473.56 669.58 465.50 670.36 456.17 671.14 448.87 671.92 446.85 672.69 451.40 673.47 460.14 674.25 469.51 675.03 476.77 675.81 481.07 676.58 483.00 677.36 483.57 678.14 483.60 678.92 483.49 679.69 483.40 680.47 483.36 681.25 483.34 682.03 483.30 682.81 483.18 683.58 482.97 684.36 482.40 685.14 481.50 685.92 479.79 686.69 476.44 687.47 470.59 688.25 462.23 689.03 452.96 689.81 445.95 690.58 444.23 691.36 448.77 692.14 457.26 692.92 466.28 693.69 473.27 694.47 477.47 695.25 479.44 696.03 480.13 696.81 480.22 697.58 480.11 698.36 479.95 699.14 479.84 699.92 479.80 700.69 479.85 701.47 479.91 702.25 479.87 703.03 480.13 703.81 479.92 704.58 478.85 705.36 476.35 706.14 471.90 706.92 465.57 707.70 458.72 708.47 453.82 709.25 453.13 710.03 456.87 710.81 463.64 711.58 470.84 712.36 476.54 713.14 480.21 713.92 482.37 714.70 483.74 715.47 484.74 716.25 485.57 717.03 486.22 717.81 486.74 718.58 487.13 719.36 487.44 720.14 487.65 720.92 487.69 721.70 487.13 722.47 486.17 723.25 484.45 724.03 481.40 724.81 476.40 725.58 469.44 726.36 461.74 727.14 455.80 727.92 454.07 728.70 457.02 729.47 463.63 730.25 471.27 731.03 477.78 731.81 482.27 732.58 484.91 733.36 486.23 734.14 486.64 734.92 486.45 735.70 485.90 736.47 485.20 737.25 484.62 738.03 484.36 738.81 484.44 739.58 484.76 740.36 484.94 741.14 484.76 741.92 483.65 742.70 480.80 743.47 475.39 744.25 467.34 745.03 458.17 745.81 450.87 746.59 448.50 747.36 452.37 748.14 460.16 748.92 468.61 749.70 475.21 750.47 479.21 751.25 481.17 752.03 481.94 752.81 482.17 753.59 482.13 754.36 481.97 755.14 481.72 755.92 481.46 756.70 481.23 757.47 481.03 758.25 480.82 759.03 480.50 759.81 479.84 760.59 478.38 761.36 475.37 762.14 470.10 762.92 462.54 763.70 454.16 764.47 447.85 765.25 446.34 766.03 450.30 766.81 457.86 767.59 465.89 768.36 472.03 769.14 475.61 769.92 477.25 770.70 477.91 771.47 478.27 772.25 478.58 773.03 478.92 773.81 479.23 774.59 479.46 775.36 479.60 776.14 479.66 776.92 479.65 777.70 479.71 778.47 479.40 779.25 478.20 780.03 475.27 780.81 469.81 781.59 461.82 782.36 452.82 783.14 445.85 783.92 443.82 784.70 447.64 785.48 455.32 786.25 463.65 787.03 470.20 787.81 474.19 788.59 476.16 789.36 477.01 790.14 477.47 790.92 477.86 791.70 478.26 792.48 478.60 793.25 478.78 794.03 478.73 794.81 478.44 795.59 477.98 796.36 476.96 797.14 475.83 797.92 474.22 798.70 471.36 799.48 466.40 800.25 459.14 801.03 450.89 801.81 444.35 802.59 442.18 803.36 444.89 804.14 451.25 804.92 458.42 805.70 464.12 806.48 467.59 807.25 469.29 808.03 469.95 808.81 470.15 809.59 470.08 810.36 469.78 811.14 469.24 811.92 468.52 812.70 467.75 813.48 467.06 814.25 466.53 815.03 466.27 815.81 465.88 816.59 464.76 817.36 461.98 818.14 456.55 818.92 448.34 819.70 438.83 820.48 431.20 821.25 428.63 822.03 432.45 822.81 440.32 823.59 448.87 824.37 455.53 825.14 459.53 825.92 461.38 826.70 461.95 827.48 461.84 828.25 461.31 829.03 460.50 829.81 459.49 830.59 458.38 831.37 457.33 832.14 456.46 832.92 455.84 833.70 456.11 834.48 456.40 835.25 456.15 836.03 454.46 836.81 450.41 837.59 443.84 838.37 436.22 839.14 430.49 839.92 429.52 840.70 434.34 841.48 442.72 842.25 451.51 843.03 458.29 843.81 462.38 844.59 464.41 845.37 465.33 846.14 465.87 846.92 466.43 847.70 467.09 848.48 467.81 849.25 468.54 850.03 469.20 850.81 469.77 851.59 470.21 852.37 470.48 853.14 470.32 853.92 469.35 854.70 467.03 855.48 462.92 856.25 457.18 857.03 451.08 857.81 446.86 858.59 446.45 859.37 450.03 860.14 456.36 860.92 463.10 861.70 468.47 862.48 471.90 863.26 473.69 864.03 474.48 864.81 474.76 865.59 474.84 866.37 474.90 867.14 475.07 867.92 475.39 868.70 475.94 869.48 476.67 870.26 477.54 871.03 478.23 871.81 478.71 872.59 478.64 873.37 477.59 874.14 475.10 874.92 471.22 875.70 466.85 876.48 463.60 877.26 462.98 878.03 464.95 878.81 469.03 879.59 473.53 880.37 477.11 881.14 479.30 881.92 480.33 882.70 480.71 883.48 480.85 884.26 481.01 885.03 481.30 885.81 481.75 886.59 482.33 887.37 482.95 888.14 483.48 888.92 483.83 889.70 483.37 890.48 482.61 891.26 481.33 892.03 479.09 892.81 475.35 893.59 469.99 894.37 463.88 895.14 458.92 895.92 457.07 896.70 459.09 897.48 463.77 898.26 469.01 899.03 473.16 899.81 475.67 900.59 476.86 901.37 477.33 902.14 477.53 902.92 477.65 903.70 477.72 904.48 477.72 905.26 477.60 906.03 477.38 906.81 477.10 907.59 476.81 908.37 476.89 909.15 476.78 909.92 476.06 910.70 474.03 911.48 470.02 912.26 463.97 913.03 457.04 913.81 451.62 914.59 449.99 915.37 452.76 916.15 458.69 916.92 465.31 917.70 470.62 918.48 473.94 919.26 475.60 920.03 476.29 920.81 476.52 921.59 476.51 922.37 476.33 923.15 476.04 923.92 475.70 924.70 475.42 925.48 475.32 926.26 475.43 927.03 475.91 927.81 476.23 928.59 475.83 929.37 473.89 930.15 469.59 930.92 462.80 931.70 454.91 932.48 448.70 933.26 446.96 934.03 450.72 934.81 458.14 935.59 466.23 936.37 472.60 937.15 476.48 937.92 478.35 938.70 479.07 939.48 479.34 940.26 479.56 941.04 479.87 941.81 480.30 942.59 480.83 943.37 481.44 944.15 482.09 944.92 482.77 945.70 483.09 946.48 483.04 947.26 482.04 948.04 479.22 948.81 473.69 949.59 465.39 950.37 455.94 951.15 448.48 951.92 446.12 952.70 450.07 953.48 458.08 954.26 466.77 955.04 473.55 955.81 477.55 956.59 479.33 957.37 479.82 958.15 479.78 958.92 479.62 959.70 479.48 960.48 479.39 961.26 479.30 962.04 479.18 962.81 479.00 963.59 478.77 964.37 478.32 965.15 477.60 965.92 476.20 966.70 473.38 967.48 468.34 968.26 461.07 969.04 453.00 969.81 446.96 970.59 445.70 971.37 450.14 972.15 458.16 972.92 466.72 973.70 473.52 974.48 477.85 975.26 480.16 976.04 481.16 976.81 481.41 977.59 481.23 978.37 480.77 979.15 480.17 979.93 479.58 980.70 479.07 981.48 478.72 982.26 478.51 983.04 478.61 983.81 478.53 984.59 477.88 985.37 476.07 986.15 472.57 986.93 467.42 987.70 461.75 988.48 457.66 989.26 457.07 990.04 459.74 990.81 465.26 991.59 471.52 992.37 476.76 993.15 480.36 993.93 482.55 994.70 483.84 995.48 484.64 996.26 485.14 997.04 485.45 997.81 485.65 998.59 485.78 999.37 485.85 1000.15 485.79 1000.93 485.54 1001.70 484.84" stroke="#17a88a" stroke-width="0.9"/></g><path d="M432.1 489.50h5M432.1 474.88h2.6M432.1 460.26h5M432.1 445.64h2.6M432.1 431.02h5M432.1 416.40h2.6M432.1 401.78h5M432.1 387.16h2.6M432.1 372.54h5M432.1 357.92h2.6M432.1 343.30h5M432.1 328.68h2.6M432.1 314.06h5M432.1 299.44h2.6M432.1 284.82h5M432.1 270.20h2.6M432.1 255.58h5M432.1 240.96h2.6M454.91 494.1v-3M493.80 494.1v-5.6M532.69 494.1v-3M571.58 494.1v-5.6M610.47 494.1v-3M649.36 494.1v-5.6M688.25 494.1v-3M727.14 494.1v-5.6M766.03 494.1v-3M804.92 494.1v-5.6M843.81 494.1v-3M882.70 494.1v-5.6M921.59 494.1v-3M960.48 494.1v-5.6M999.37 494.1v-3" stroke="#222" stroke-width="1.1" fill="none"/><rect x="432.1" y="240.5" width="569.6999999999999" height="253.60000000000002" fill="none" stroke="#1a1a1a" stroke-width="1.3"/><text x="424.7" y="492.5" font-size="12.6" text-anchor="end" font-family="Liberation Serif, Times New Roman, serif" fill="#222">0</text><text x="424.7" y="463.3" font-size="12.6" text-anchor="end" font-family="Liberation Serif, Times New Roman, serif" fill="#222">10000</text><text x="424.7" y="434.0" font-size="12.6" text-anchor="end" font-family="Liberation Serif, Times New Roman, serif" fill="#222">20000</text><text x="424.7" y="404.8" font-size="12.6" text-anchor="end" font-family="Liberation Serif, Times New Roman, serif" fill="#222">30000</text><text x="424.7" y="375.5" font-size="12.6" text-anchor="end" font-family="Liberation Serif, Times New Roman, serif" fill="#222">40000</text><text x="424.7" y="346.3" font-size="12.6" text-anchor="end" font-family="Liberation Serif, Times New Roman, serif" fill="#222">50000</text><text x="424.7" y="317.1" font-size="12.6" text-anchor="end" font-family="Liberation Serif, Times New Roman, serif" fill="#222">60000</text><text x="424.7" y="287.8" font-size="12.6" text-anchor="end" font-family="Liberation Serif, Times New Roman, serif" fill="#222">70000</text><text x="424.7" y="258.6" font-size="12.6" text-anchor="end" font-family="Liberation Serif, Times New Roman, serif" fill="#222">80000</text><text x="493.8" y="509.4" font-size="12.6" text-anchor="middle" font-family="Liberation Serif, Times New Roman, serif" fill="#222">4200</text><text x="571.6" y="509.4" font-size="12.6" text-anchor="middle" font-family="Liberation Serif, Times New Roman, serif" fill="#222">4300</text><text x="649.4" y="509.4" font-size="12.6" text-anchor="middle" font-family="Liberation Serif, Times New Roman, serif" fill="#222">4400</text><text x="727.1" y="509.4" font-size="12.6" text-anchor="middle" font-family="Liberation Serif, Times New Roman, serif" fill="#222">4500</text><text x="804.9" y="509.4" font-size="12.6" text-anchor="middle" font-family="Liberation Serif, Times New Roman, serif" fill="#222">4600</text><text x="882.7" y="509.4" font-size="12.6" text-anchor="middle" font-family="Liberation Serif, Times New Roman, serif" fill="#222">4700</text><text x="960.5" y="509.4" font-size="12.6" text-anchor="middle" font-family="Liberation Serif, Times New Roman, serif" fill="#222">4800</text><text x="693.6" y="534.7" font-size="13" font-family="Liberation Serif, Times New Roman, serif" textLength="46.4" lengthAdjust="spacingAndGlyphs" fill="#222">Hour (h)</text><text transform="translate(389.3,398.9) rotate(-90)" font-size="13" font-family="Liberation Serif, Times New Roman, serif" textLength="63" lengthAdjust="spacingAndGlyphs" fill="#222">Power(MW)</text><line x1="433.3" y1="214.6" x2="471.0" y2="214.6" stroke="#0a9e7c" stroke-width="1.1"/><text x="474.8" y="219.6" font-size="13.2" font-family="Liberation Serif, Times New Roman, serif" textLength="189.5" lengthAdjust="spacingAndGlyphs" fill="#111">Renewable energy forecast data</text><line x1="674.7" y1="214.6" x2="712.0" y2="214.6" stroke="#1f6fa0" stroke-width="1.1"/><text x="715.7" y="219.6" font-size="13.2" font-family="Liberation Serif, Times New Roman, serif" textLength="110.6" lengthAdjust="spacingAndGlyphs" fill="#111">Load forecast data</text><line x1="433.3" y1="234.4" x2="471.0" y2="234.4" stroke="#8ae83a" stroke-width="1.1"/><text x="474.8" y="239.4" font-size="13.2" font-family="Liberation Serif, Times New Roman, serif" textLength="179" lengthAdjust="spacingAndGlyphs" fill="#111">Renewable energy actual data</text><line x1="674.7" y1="234.4" x2="712.0" y2="234.4" stroke="#a6ecfb" stroke-width="1.1"/><text x="715.7" y="239.4" font-size="13.2" font-family="Liberation Serif, Times New Roman, serif" textLength="99.6" lengthAdjust="spacingAndGlyphs" fill="#111">Load actual data</text><rect x="251.7" y="197.5" width="1742.8" height="1357.7" fill="none" stroke="#000" stroke-width="4.8"/><rect x="1071.9" y="193.3" width="145.7" height="1386" fill="#00ffff" fill-opacity="0.17" stroke="#a3b5b5" stroke-width="2.4"/><rect x="1073.1" y="195.1" width="143.5" height="4.8" fill="#034545"/><rect x="1073.1" y="1552.8" width="143.5" height="4.8" fill="#034545"/><rect x="1073" y="842.6" width="143.5" height="45.39999999999998" fill="#fff" fill-opacity="0.4"/><rect x="1073" y="933.4" width="143.5" height="120.60000000000002" fill="#fff" fill-opacity="0.4"/><rect x="1073" y="1098.5" width="143.5" height="104.5" fill="#fff" fill-opacity="0.4"/></svg></body></html>
